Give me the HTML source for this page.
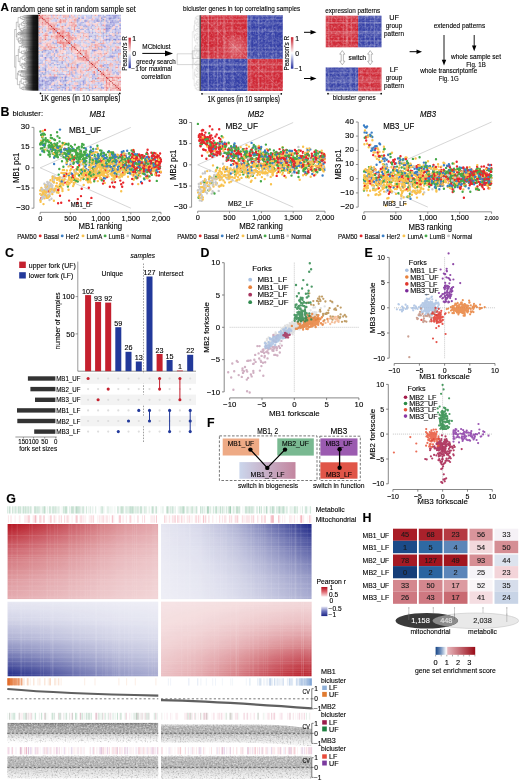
<!DOCTYPE html>
<html><head><meta charset="utf-8"><style>
html,body{margin:0;padding:0;background:#fff;}
body{width:520px;height:781px;overflow:hidden;}
svg{display:block;font-family:"Liberation Sans",sans-serif;filter:blur(0.3px);}
text{stroke:#000;stroke-width:0.12px;}
</style></head><body>
<svg width="520" height="781" viewBox="0 0 520 781">
<defs><linearGradient id="leafg" x1="0" x2="1" y1="0" y2="0"><stop offset="0" stop-color="#000" stop-opacity="0"/><stop offset="0.3" stop-color="#000" stop-opacity="0.4"/><stop offset="0.6" stop-color="#000" stop-opacity="0.85"/><stop offset="1" stop-color="#000" stop-opacity="0.95"/></linearGradient>
<linearGradient id="cbrb" x1="0" x2="0" y1="0" y2="1"><stop offset="0" stop-color="#c8202c"/><stop offset="0.5" stop-color="#fff"/><stop offset="1" stop-color="#2530a0"/></linearGradient>
<filter id="fwn" x="0" y="0" width="1" height="1" color-interpolation-filters="sRGB"><feTurbulence type="fractalNoise" baseFrequency="0.45" numOctaves="2" seed="9"/><feColorMatrix type="matrix" values="0 0 0 0 1 0 0 0 0 1 0 0 0 0 1 0.7 0 0 0 -0.3"/></filter>
<radialGradient id="a2l"><stop offset="0" stop-color="#fff" stop-opacity="0.3"/><stop offset="1" stop-color="#fff" stop-opacity="0"/></radialGradient>
<linearGradient id="lfg" x1="0" x2="1" y1="0" y2="0"><stop offset="0" stop-color="#cbd6ec"/><stop offset="1" stop-color="#c3869f"/></linearGradient>
<linearGradient id="htl" x1="0" x2="1" y1="0" y2="0"><stop offset="0" stop-color="#ffffff"/><stop offset="0.25" stop-color="#cccccc"/><stop offset="0.5" stop-color="#999999"/><stop offset="0.75" stop-color="#666666"/><stop offset="1" stop-color="#4c4c4c"/></linearGradient>
<linearGradient id="vtl" x1="0" x2="0" y1="0" y2="1"><stop offset="0" stop-color="#ffffff"/><stop offset="0.25" stop-color="#b2b2b2"/><stop offset="0.5" stop-color="#808080"/><stop offset="0.75" stop-color="#5c5c5c"/><stop offset="1" stop-color="#474747"/></linearGradient>
<mask id="mhtl" maskUnits="userSpaceOnUse" x="7.3" y="524" width="151" height="75.2"><rect x="7.3" y="524" width="151" height="75.2" fill="url(#htl)"/><rect x="11.5" y="524" width=".9" height="75.2" fill="#000" fill-opacity=".1"/><rect x="13.3" y="524" width="1" height="75.2" fill="#000" fill-opacity="0"/><rect x="16.7" y="524" width="1.1" height="75.2" fill="#000" fill-opacity=".1"/><rect x="24.8" y="524" width="1.1" height="75.2" fill="#000" fill-opacity="0"/><rect x="27.5" y="524" width="1.1" height="75.2" fill="#000" fill-opacity="0"/><rect x="29.1" y="524" width=".6" height="75.2" fill="#000" fill-opacity=".1"/><rect x="31.6" y="524" width="1.1" height="75.2" fill="#000" fill-opacity=".1"/><rect x="38" y="524" width=".8" height="75.2" fill="#000" fill-opacity="0"/><rect x="46.6" y="524" width=".5" height="75.2" fill="#000" fill-opacity=".1"/><rect x="46.9" y="524" width="1" height="75.2" fill="#000" fill-opacity=".1"/><rect x="49.1" y="524" width=".7" height="75.2" fill="#000" fill-opacity="0"/><rect x="49.6" y="524" width=".9" height="75.2" fill="#000" fill-opacity=".1"/><rect x="53.1" y="524" width="1.2" height="75.2" fill="#000" fill-opacity="0"/><rect x="54.4" y="524" width=".8" height="75.2" fill="#000" fill-opacity=".1"/><rect x="57.1" y="524" width=".8" height="75.2" fill="#000" fill-opacity=".1"/><rect x="68.2" y="524" width=".5" height="75.2" fill="#000" fill-opacity=".1"/><rect x="69.1" y="524" width="1.1" height="75.2" fill="#000" fill-opacity=".1"/><rect x="71.2" y="524" width="1.1" height="75.2" fill="#000" fill-opacity=".1"/><rect x="75.8" y="524" width=".7" height="75.2" fill="#000" fill-opacity=".1"/><rect x="76.7" y="524" width=".6" height="75.2" fill="#000" fill-opacity=".1"/><rect x="80.6" y="524" width=".5" height="75.2" fill="#000" fill-opacity=".1"/><rect x="84.6" y="524" width=".6" height="75.2" fill="#000" fill-opacity=".1"/><rect x="85.2" y="524" width=".7" height="75.2" fill="#000" fill-opacity=".1"/><rect x="87.1" y="524" width=".6" height="75.2" fill="#000" fill-opacity=".1"/><rect x="88.6" y="524" width=".5" height="75.2" fill="#000" fill-opacity="0"/><rect x="89" y="524" width=".8" height="75.2" fill="#000" fill-opacity="0"/><rect x="90.3" y="524" width=".9" height="75.2" fill="#000" fill-opacity=".1"/><rect x="96.8" y="524" width="1" height="75.2" fill="#000" fill-opacity=".1"/><rect x="99.9" y="524" width=".8" height="75.2" fill="#000" fill-opacity=".1"/><rect x="101.4" y="524" width=".9" height="75.2" fill="#000" fill-opacity=".1"/><rect x="104.1" y="524" width=".7" height="75.2" fill="#000" fill-opacity=".1"/><rect x="116.7" y="524" width=".6" height="75.2" fill="#000" fill-opacity=".1"/><rect x="120.6" y="524" width=".7" height="75.2" fill="#000" fill-opacity="0"/><rect x="121.1" y="524" width=".6" height="75.2" fill="#000" fill-opacity="0"/><rect x="124.6" y="524" width="1" height="75.2" fill="#000" fill-opacity=".1"/><rect x="126.4" y="524" width=".6" height="75.2" fill="#000" fill-opacity=".1"/><rect x="132.3" y="524" width=".8" height="75.2" fill="#000" fill-opacity=".1"/><rect x="134.1" y="524" width=".8" height="75.2" fill="#000" fill-opacity=".1"/><rect x="136" y="524" width="1.1" height="75.2" fill="#000" fill-opacity=".1"/><rect x="145.8" y="524" width=".8" height="75.2" fill="#000" fill-opacity=".1"/><rect x="150.5" y="524" width=".8" height="75.2" fill="#000" fill-opacity="0"/><rect x="150.8" y="524" width=".6" height="75.2" fill="#000" fill-opacity="0"/><rect x="152.5" y="524" width=".7" height="75.2" fill="#000" fill-opacity=".1"/><rect x="153.8" y="524" width=".9" height="75.2" fill="#000" fill-opacity=".1"/><rect x="155.4" y="524" width="1" height="75.2" fill="#000" fill-opacity=".1"/></mask>
<mask id="mvtl" maskUnits="userSpaceOnUse" x="7.3" y="524" width="151" height="75.2"><rect x="7.3" y="524" width="151" height="75.2" fill="url(#vtl)"/><rect x="7.3" y="535" width="151" height="1.1" fill="#000" fill-opacity=".1"/><rect x="7.3" y="537.2" width="151" height="1.1" fill="#000" fill-opacity="0"/><rect x="7.3" y="543.8" width="151" height="1.1" fill="#000" fill-opacity=".1"/><rect x="7.3" y="548.2" width="151" height="1.1" fill="#000" fill-opacity=".1"/><rect x="7.3" y="550.4" width="151" height="1.1" fill="#000" fill-opacity=".1"/><rect x="7.3" y="554.8" width="151" height="1.1" fill="#000" fill-opacity=".1"/><rect x="7.3" y="557" width="151" height="1.1" fill="#000" fill-opacity=".1"/><rect x="7.3" y="559.2" width="151" height="1.1" fill="#000" fill-opacity=".1"/><rect x="7.3" y="561.4" width="151" height="1.1" fill="#000" fill-opacity=".1"/><rect x="7.3" y="570.2" width="151" height="1.1" fill="#000" fill-opacity=".1"/><rect x="7.3" y="574.6" width="151" height="1.1" fill="#000" fill-opacity=".1"/><rect x="7.3" y="579" width="151" height="1.1" fill="#000" fill-opacity=".1"/><rect x="7.3" y="581.2" width="151" height="1.1" fill="#000" fill-opacity=".1"/><rect x="7.3" y="585.6" width="151" height="1.1" fill="#000" fill-opacity=".1"/><rect x="7.3" y="590" width="151" height="1.1" fill="#000" fill-opacity=".1"/><rect x="7.3" y="592.2" width="151" height="1.1" fill="#000" fill-opacity="0"/><rect x="7.3" y="596.6" width="151" height="1.1" fill="#000" fill-opacity=".1"/></mask>
<linearGradient id="htr" x1="0" x2="1" y1="0" y2="0"><stop offset="0" stop-color="#0d0d0d"/><stop offset="0.25" stop-color="#1f1f1f"/><stop offset="0.5" stop-color="#4c4c4c"/><stop offset="0.75" stop-color="#9e9e9e"/><stop offset="1" stop-color="#ffffff"/></linearGradient>
<linearGradient id="vtr" x1="0" x2="0" y1="0" y2="1"><stop offset="0" stop-color="#ffffff"/><stop offset="0.25" stop-color="#c7c7c7"/><stop offset="0.5" stop-color="#8f8f8f"/><stop offset="0.75" stop-color="#6b6b6b"/><stop offset="1" stop-color="#575757"/></linearGradient>
<mask id="mhtr" maskUnits="userSpaceOnUse" x="161" y="524" width="150.8" height="75.2"><rect x="161" y="524" width="150.8" height="75.2" fill="url(#htr)"/><rect x="169.3" y="524" width=".7" height="75.2" fill="#000" fill-opacity=".1"/><rect x="174.9" y="524" width=".7" height="75.2" fill="#000" fill-opacity="0"/><rect x="176.8" y="524" width=".5" height="75.2" fill="#000" fill-opacity=".1"/><rect x="177.2" y="524" width=".8" height="75.2" fill="#000" fill-opacity=".1"/><rect x="183.6" y="524" width="1.1" height="75.2" fill="#000" fill-opacity=".1"/><rect x="189.2" y="524" width="1.2" height="75.2" fill="#000" fill-opacity=".1"/><rect x="189.3" y="524" width="1" height="75.2" fill="#000" fill-opacity=".1"/><rect x="191.4" y="524" width=".6" height="75.2" fill="#000" fill-opacity="0"/><rect x="200.5" y="524" width=".6" height="75.2" fill="#000" fill-opacity=".1"/><rect x="202.5" y="524" width=".6" height="75.2" fill="#000" fill-opacity="0"/><rect x="206" y="524" width="1.1" height="75.2" fill="#000" fill-opacity="0"/><rect x="209" y="524" width=".8" height="75.2" fill="#000" fill-opacity=".1"/><rect x="213.2" y="524" width=".9" height="75.2" fill="#000" fill-opacity=".1"/><rect x="220.1" y="524" width="1.2" height="75.2" fill="#000" fill-opacity=".1"/><rect x="222.3" y="524" width=".9" height="75.2" fill="#000" fill-opacity=".1"/><rect x="224.8" y="524" width=".9" height="75.2" fill="#000" fill-opacity=".1"/><rect x="226.2" y="524" width=".7" height="75.2" fill="#000" fill-opacity=".1"/><rect x="227.1" y="524" width=".9" height="75.2" fill="#000" fill-opacity="0"/><rect x="232" y="524" width=".7" height="75.2" fill="#000" fill-opacity=".1"/><rect x="236.1" y="524" width="1" height="75.2" fill="#000" fill-opacity="0"/><rect x="238.1" y="524" width=".7" height="75.2" fill="#000" fill-opacity="0"/><rect x="238.9" y="524" width="1.1" height="75.2" fill="#000" fill-opacity="0"/><rect x="245.8" y="524" width=".5" height="75.2" fill="#000" fill-opacity=".1"/><rect x="250.5" y="524" width=".8" height="75.2" fill="#000" fill-opacity=".1"/><rect x="251.5" y="524" width=".5" height="75.2" fill="#000" fill-opacity=".1"/><rect x="253.5" y="524" width=".8" height="75.2" fill="#000" fill-opacity=".1"/><rect x="256.5" y="524" width=".5" height="75.2" fill="#000" fill-opacity="0"/><rect x="258.2" y="524" width=".6" height="75.2" fill="#000" fill-opacity=".1"/><rect x="260.1" y="524" width=".7" height="75.2" fill="#000" fill-opacity=".1"/><rect x="261.9" y="524" width=".7" height="75.2" fill="#000" fill-opacity=".1"/><rect x="263.5" y="524" width="1.2" height="75.2" fill="#000" fill-opacity="0"/><rect x="264" y="524" width=".6" height="75.2" fill="#000" fill-opacity=".1"/><rect x="265.4" y="524" width="1" height="75.2" fill="#000" fill-opacity="0"/><rect x="265.6" y="524" width=".6" height="75.2" fill="#000" fill-opacity=".1"/><rect x="270.9" y="524" width="1" height="75.2" fill="#000" fill-opacity=".1"/><rect x="278" y="524" width="1.1" height="75.2" fill="#000" fill-opacity=".1"/><rect x="283.8" y="524" width=".5" height="75.2" fill="#000" fill-opacity=".1"/><rect x="286.1" y="524" width=".9" height="75.2" fill="#000" fill-opacity="0"/><rect x="289.1" y="524" width=".7" height="75.2" fill="#000" fill-opacity=".1"/><rect x="291" y="524" width=".8" height="75.2" fill="#000" fill-opacity=".1"/><rect x="294.4" y="524" width="1.1" height="75.2" fill="#000" fill-opacity=".1"/><rect x="295.4" y="524" width=".9" height="75.2" fill="#000" fill-opacity=".1"/><rect x="295.5" y="524" width=".8" height="75.2" fill="#000" fill-opacity=".1"/><rect x="300.4" y="524" width=".9" height="75.2" fill="#000" fill-opacity=".1"/><rect x="306.9" y="524" width=".5" height="75.2" fill="#000" fill-opacity=".1"/></mask>
<mask id="mvtr" maskUnits="userSpaceOnUse" x="161" y="524" width="150.8" height="75.2"><rect x="161" y="524" width="150.8" height="75.2" fill="url(#vtr)"/><rect x="161" y="528.4" width="150.8" height="1.1" fill="#000" fill-opacity=".1"/><rect x="161" y="530.6" width="150.8" height="1.1" fill="#000" fill-opacity="0"/><rect x="161" y="532.8" width="150.8" height="1.1" fill="#000" fill-opacity=".1"/><rect x="161" y="537.2" width="150.8" height="1.1" fill="#000" fill-opacity=".1"/><rect x="161" y="539.4" width="150.8" height="1.1" fill="#000" fill-opacity=".1"/><rect x="161" y="541.6" width="150.8" height="1.1" fill="#000" fill-opacity=".1"/><rect x="161" y="546" width="150.8" height="1.1" fill="#000" fill-opacity=".1"/><rect x="161" y="548.2" width="150.8" height="1.1" fill="#000" fill-opacity=".1"/><rect x="161" y="550.4" width="150.8" height="1.1" fill="#000" fill-opacity=".1"/><rect x="161" y="561.4" width="150.8" height="1.1" fill="#000" fill-opacity="0"/><rect x="161" y="563.6" width="150.8" height="1.1" fill="#000" fill-opacity=".1"/><rect x="161" y="574.6" width="150.8" height="1.1" fill="#000" fill-opacity=".1"/><rect x="161" y="576.8" width="150.8" height="1.1" fill="#000" fill-opacity=".1"/><rect x="161" y="583.4" width="150.8" height="1.1" fill="#000" fill-opacity=".1"/><rect x="161" y="587.8" width="150.8" height="1.1" fill="#000" fill-opacity=".1"/><rect x="161" y="594.4" width="150.8" height="1.1" fill="#000" fill-opacity="0"/><rect x="161" y="596.6" width="150.8" height="1.1" fill="#000" fill-opacity=".1"/></mask>
<linearGradient id="hbl" x1="0" x2="1" y1="0" y2="0"><stop offset="0" stop-color="#ffffff"/><stop offset="0.25" stop-color="#d1d1d1"/><stop offset="0.5" stop-color="#9e9e9e"/><stop offset="0.75" stop-color="#737373"/><stop offset="1" stop-color="#595959"/></linearGradient>
<linearGradient id="vbl" x1="0" x2="0" y1="0" y2="1"><stop offset="0" stop-color="#0d0d0d"/><stop offset="0.25" stop-color="#262626"/><stop offset="0.5" stop-color="#525252"/><stop offset="0.75" stop-color="#9e9e9e"/><stop offset="1" stop-color="#ffffff"/></linearGradient>
<mask id="mhbl" maskUnits="userSpaceOnUse" x="7.3" y="601.6" width="151" height="75"><rect x="7.3" y="601.6" width="151" height="75" fill="url(#hbl)"/><rect x="7.5" y="601.6" width="1" height="75" fill="#000" fill-opacity=".1"/><rect x="11.9" y="601.6" width=".6" height="75" fill="#000" fill-opacity=".1"/><rect x="20.2" y="601.6" width=".8" height="75" fill="#000" fill-opacity=".1"/><rect x="21" y="601.6" width=".6" height="75" fill="#000" fill-opacity=".1"/><rect x="21.5" y="601.6" width=".7" height="75" fill="#000" fill-opacity=".1"/><rect x="24.5" y="601.6" width=".7" height="75" fill="#000" fill-opacity=".1"/><rect x="31.4" y="601.6" width=".8" height="75" fill="#000" fill-opacity=".1"/><rect x="38.6" y="601.6" width=".6" height="75" fill="#000" fill-opacity="0"/><rect x="40.3" y="601.6" width="1" height="75" fill="#000" fill-opacity=".1"/><rect x="43.1" y="601.6" width=".9" height="75" fill="#000" fill-opacity=".1"/><rect x="50.2" y="601.6" width=".6" height="75" fill="#000" fill-opacity=".1"/><rect x="51.5" y="601.6" width=".6" height="75" fill="#000" fill-opacity=".1"/><rect x="52.3" y="601.6" width=".9" height="75" fill="#000" fill-opacity=".1"/><rect x="52.4" y="601.6" width="1.2" height="75" fill="#000" fill-opacity=".1"/><rect x="54.7" y="601.6" width="1.1" height="75" fill="#000" fill-opacity="0"/><rect x="63.8" y="601.6" width=".8" height="75" fill="#000" fill-opacity="0"/><rect x="66.4" y="601.6" width=".6" height="75" fill="#000" fill-opacity="0"/><rect x="72" y="601.6" width="1.1" height="75" fill="#000" fill-opacity="0"/><rect x="72.3" y="601.6" width=".7" height="75" fill="#000" fill-opacity=".1"/><rect x="72.7" y="601.6" width="1.1" height="75" fill="#000" fill-opacity=".1"/><rect x="78.5" y="601.6" width="1" height="75" fill="#000" fill-opacity="0"/><rect x="79.6" y="601.6" width=".9" height="75" fill="#000" fill-opacity=".1"/><rect x="85.3" y="601.6" width=".5" height="75" fill="#000" fill-opacity=".1"/><rect x="95.2" y="601.6" width=".8" height="75" fill="#000" fill-opacity=".1"/><rect x="95.7" y="601.6" width="1" height="75" fill="#000" fill-opacity=".1"/><rect x="95.9" y="601.6" width=".9" height="75" fill="#000" fill-opacity=".1"/><rect x="102.4" y="601.6" width=".6" height="75" fill="#000" fill-opacity=".1"/><rect x="105.2" y="601.6" width=".6" height="75" fill="#000" fill-opacity=".1"/><rect x="106.6" y="601.6" width=".9" height="75" fill="#000" fill-opacity=".1"/><rect x="107" y="601.6" width=".8" height="75" fill="#000" fill-opacity="0"/><rect x="110.4" y="601.6" width=".9" height="75" fill="#000" fill-opacity="0"/><rect x="112.4" y="601.6" width="1" height="75" fill="#000" fill-opacity=".1"/><rect x="114.1" y="601.6" width=".8" height="75" fill="#000" fill-opacity=".1"/><rect x="116.3" y="601.6" width=".8" height="75" fill="#000" fill-opacity=".1"/><rect x="118.2" y="601.6" width=".7" height="75" fill="#000" fill-opacity=".1"/><rect x="118.7" y="601.6" width=".6" height="75" fill="#000" fill-opacity=".1"/><rect x="119.3" y="601.6" width="1.1" height="75" fill="#000" fill-opacity=".1"/><rect x="124.1" y="601.6" width="1" height="75" fill="#000" fill-opacity=".1"/><rect x="128.3" y="601.6" width="1.1" height="75" fill="#000" fill-opacity=".1"/><rect x="131.1" y="601.6" width="1.1" height="75" fill="#000" fill-opacity=".1"/><rect x="132.6" y="601.6" width=".7" height="75" fill="#000" fill-opacity=".1"/><rect x="141.9" y="601.6" width=".7" height="75" fill="#000" fill-opacity="0"/><rect x="148" y="601.6" width=".9" height="75" fill="#000" fill-opacity=".1"/><rect x="151.7" y="601.6" width=".9" height="75" fill="#000" fill-opacity=".1"/><rect x="154.3" y="601.6" width=".6" height="75" fill="#000" fill-opacity=".1"/></mask>
<mask id="mvbl" maskUnits="userSpaceOnUse" x="7.3" y="601.6" width="151" height="75"><rect x="7.3" y="601.6" width="151" height="75" fill="url(#vbl)"/><rect x="7.3" y="601.6" width="151" height="1.1" fill="#000" fill-opacity=".1"/><rect x="7.3" y="603.8" width="151" height="1.1" fill="#000" fill-opacity="0"/><rect x="7.3" y="608.2" width="151" height="1.1" fill="#000" fill-opacity=".1"/><rect x="7.3" y="610.4" width="151" height="1.1" fill="#000" fill-opacity="0"/><rect x="7.3" y="614.8" width="151" height="1.1" fill="#000" fill-opacity="0"/><rect x="7.3" y="617" width="151" height="1.1" fill="#000" fill-opacity=".1"/><rect x="7.3" y="619.2" width="151" height="1.1" fill="#000" fill-opacity=".1"/><rect x="7.3" y="623.6" width="151" height="1.1" fill="#000" fill-opacity=".1"/><rect x="7.3" y="632.4" width="151" height="1.1" fill="#000" fill-opacity=".1"/><rect x="7.3" y="636.8" width="151" height="1.1" fill="#000" fill-opacity=".1"/><rect x="7.3" y="639" width="151" height="1.1" fill="#000" fill-opacity=".1"/><rect x="7.3" y="645.6" width="151" height="1.1" fill="#000" fill-opacity="0"/><rect x="7.3" y="647.8" width="151" height="1.1" fill="#000" fill-opacity=".1"/><rect x="7.3" y="650" width="151" height="1.1" fill="#000" fill-opacity=".1"/><rect x="7.3" y="652.2" width="151" height="1.1" fill="#000" fill-opacity=".1"/><rect x="7.3" y="656.6" width="151" height="1.1" fill="#000" fill-opacity=".1"/><rect x="7.3" y="661" width="151" height="1.1" fill="#000" fill-opacity=".1"/><rect x="7.3" y="665.4" width="151" height="1.1" fill="#000" fill-opacity=".1"/><rect x="7.3" y="674.2" width="151" height="1.1" fill="#000" fill-opacity=".1"/></mask>
<linearGradient id="hbr" x1="0" x2="1" y1="0" y2="0"><stop offset="0" stop-color="#2e2e2e"/><stop offset="0.25" stop-color="#4c4c4c"/><stop offset="0.5" stop-color="#808080"/><stop offset="0.75" stop-color="#c7c7c7"/><stop offset="1" stop-color="#ffffff"/></linearGradient>
<linearGradient id="vbr" x1="0" x2="0" y1="0" y2="1"><stop offset="0" stop-color="#121212"/><stop offset="0.25" stop-color="#2e2e2e"/><stop offset="0.5" stop-color="#616161"/><stop offset="0.75" stop-color="#b2b2b2"/><stop offset="1" stop-color="#ffffff"/></linearGradient>
<mask id="mhbr" maskUnits="userSpaceOnUse" x="161" y="601.6" width="150.8" height="75"><rect x="161" y="601.6" width="150.8" height="75" fill="url(#hbr)"/><rect x="173.2" y="601.6" width=".6" height="75" fill="#000" fill-opacity="0"/><rect x="181.1" y="601.6" width="1.2" height="75" fill="#000" fill-opacity=".1"/><rect x="187.3" y="601.6" width=".8" height="75" fill="#000" fill-opacity=".1"/><rect x="187.8" y="601.6" width=".5" height="75" fill="#000" fill-opacity=".1"/><rect x="189.8" y="601.6" width=".9" height="75" fill="#000" fill-opacity=".1"/><rect x="193.7" y="601.6" width=".7" height="75" fill="#000" fill-opacity=".1"/><rect x="194.7" y="601.6" width=".7" height="75" fill="#000" fill-opacity=".1"/><rect x="201.4" y="601.6" width=".8" height="75" fill="#000" fill-opacity=".1"/><rect x="213.8" y="601.6" width="1.2" height="75" fill="#000" fill-opacity=".1"/><rect x="215.6" y="601.6" width=".8" height="75" fill="#000" fill-opacity=".1"/><rect x="216.8" y="601.6" width="1.1" height="75" fill="#000" fill-opacity="0"/><rect x="217.8" y="601.6" width=".8" height="75" fill="#000" fill-opacity=".1"/><rect x="225.9" y="601.6" width="1.1" height="75" fill="#000" fill-opacity="0"/><rect x="230.4" y="601.6" width=".6" height="75" fill="#000" fill-opacity=".1"/><rect x="232.8" y="601.6" width=".9" height="75" fill="#000" fill-opacity="0"/><rect x="233" y="601.6" width=".9" height="75" fill="#000" fill-opacity="0"/><rect x="235.2" y="601.6" width="1" height="75" fill="#000" fill-opacity=".1"/><rect x="235.4" y="601.6" width="1" height="75" fill="#000" fill-opacity="0"/><rect x="236.1" y="601.6" width="1" height="75" fill="#000" fill-opacity=".1"/><rect x="236.4" y="601.6" width=".8" height="75" fill="#000" fill-opacity=".1"/><rect x="238.1" y="601.6" width=".9" height="75" fill="#000" fill-opacity=".1"/><rect x="239.7" y="601.6" width=".9" height="75" fill="#000" fill-opacity="0"/><rect x="243" y="601.6" width=".7" height="75" fill="#000" fill-opacity="0"/><rect x="248.8" y="601.6" width=".8" height="75" fill="#000" fill-opacity=".1"/><rect x="252.6" y="601.6" width=".6" height="75" fill="#000" fill-opacity=".1"/><rect x="252.8" y="601.6" width=".8" height="75" fill="#000" fill-opacity=".1"/><rect x="257.7" y="601.6" width=".9" height="75" fill="#000" fill-opacity=".1"/><rect x="261.4" y="601.6" width=".9" height="75" fill="#000" fill-opacity="0"/><rect x="262.9" y="601.6" width=".6" height="75" fill="#000" fill-opacity=".1"/><rect x="265.4" y="601.6" width=".7" height="75" fill="#000" fill-opacity=".1"/><rect x="267.3" y="601.6" width=".9" height="75" fill="#000" fill-opacity=".1"/><rect x="277.2" y="601.6" width="1" height="75" fill="#000" fill-opacity="0"/><rect x="280" y="601.6" width=".7" height="75" fill="#000" fill-opacity=".1"/><rect x="281.9" y="601.6" width=".8" height="75" fill="#000" fill-opacity=".1"/><rect x="292.4" y="601.6" width="1.1" height="75" fill="#000" fill-opacity=".1"/><rect x="297.1" y="601.6" width=".9" height="75" fill="#000" fill-opacity="0"/><rect x="301.1" y="601.6" width=".7" height="75" fill="#000" fill-opacity=".1"/><rect x="301.2" y="601.6" width="1.1" height="75" fill="#000" fill-opacity=".1"/><rect x="302.6" y="601.6" width=".9" height="75" fill="#000" fill-opacity=".1"/><rect x="303.2" y="601.6" width=".7" height="75" fill="#000" fill-opacity=".1"/><rect x="303.2" y="601.6" width=".9" height="75" fill="#000" fill-opacity=".1"/><rect x="305.6" y="601.6" width=".9" height="75" fill="#000" fill-opacity=".1"/><rect x="307.1" y="601.6" width=".6" height="75" fill="#000" fill-opacity=".1"/><rect x="308.2" y="601.6" width="1.2" height="75" fill="#000" fill-opacity=".1"/><rect x="309.4" y="601.6" width=".7" height="75" fill="#000" fill-opacity=".1"/></mask>
<mask id="mvbr" maskUnits="userSpaceOnUse" x="161" y="601.6" width="150.8" height="75"><rect x="161" y="601.6" width="150.8" height="75" fill="url(#vbr)"/><rect x="161" y="603.8" width="150.8" height="1.1" fill="#000" fill-opacity=".1"/><rect x="161" y="606" width="150.8" height="1.1" fill="#000" fill-opacity=".1"/><rect x="161" y="608.2" width="150.8" height="1.1" fill="#000" fill-opacity=".1"/><rect x="161" y="610.4" width="150.8" height="1.1" fill="#000" fill-opacity=".1"/><rect x="161" y="621.4" width="150.8" height="1.1" fill="#000" fill-opacity=".1"/><rect x="161" y="623.6" width="150.8" height="1.1" fill="#000" fill-opacity=".1"/><rect x="161" y="628" width="150.8" height="1.1" fill="#000" fill-opacity=".1"/><rect x="161" y="630.2" width="150.8" height="1.1" fill="#000" fill-opacity=".1"/><rect x="161" y="634.6" width="150.8" height="1.1" fill="#000" fill-opacity=".1"/><rect x="161" y="643.4" width="150.8" height="1.1" fill="#000" fill-opacity=".1"/><rect x="161" y="645.6" width="150.8" height="1.1" fill="#000" fill-opacity=".1"/><rect x="161" y="647.8" width="150.8" height="1.1" fill="#000" fill-opacity=".1"/><rect x="161" y="661" width="150.8" height="1.1" fill="#000" fill-opacity=".1"/><rect x="161" y="663.2" width="150.8" height="1.1" fill="#000" fill-opacity=".1"/><rect x="161" y="667.6" width="150.8" height="1.1" fill="#000" fill-opacity=".1"/><rect x="161" y="669.8" width="150.8" height="1.1" fill="#000" fill-opacity=".1"/><rect x="161" y="672" width="150.8" height="1.1" fill="#000" fill-opacity=".1"/><rect x="161" y="674.2" width="150.8" height="1.1" fill="#000" fill-opacity=".1"/></mask>
<linearGradient id="prr" x1="0" x2="0" y1="0" y2="1"><stop offset="0" stop-color="#b2111f"/><stop offset="0.5" stop-color="#e06a72"/><stop offset="1" stop-color="#fbe8ea"/></linearGradient>
<linearGradient id="prb" x1="0" x2="0" y1="0" y2="1"><stop offset="0" stop-color="#e6e6f4"/><stop offset="0.5" stop-color="#6870bb"/><stop offset="1" stop-color="#1c2585"/></linearGradient>
<linearGradient id="org" x1="0" x2="1" y1="0" y2="0"><stop offset="0" stop-color="#e0651f" stop-opacity="0.95"/><stop offset="0.35" stop-color="#e0651f" stop-opacity="0.7"/><stop offset="1" stop-color="#e0651f" stop-opacity="0.15"/></linearGradient>
<linearGradient id="blg" x1="0" x2="1" y1="0" y2="0"><stop offset="0" stop-color="#7ea4d4" stop-opacity="0.15"/><stop offset="0.65" stop-color="#7ea4d4" stop-opacity="0.6"/><stop offset="1" stop-color="#6a94cc" stop-opacity="0.95"/></linearGradient>
<linearGradient id="cl2l" x1="0" x2="0" y1="0" y2="1"><stop offset="0" stop-color="#5a5a5a" stop-opacity="0.9"/><stop offset="0.1" stop-color="#7a7a7a" stop-opacity="0.8"/><stop offset="0.5" stop-color="#888" stop-opacity="0.72"/><stop offset="0.6" stop-color="#999" stop-opacity="0.5"/><stop offset="0.85" stop-color="#aaa" stop-opacity="0.15"/><stop offset="1" stop-color="#aaa" stop-opacity="0"/></linearGradient>
<linearGradient id="cl2r" x1="0" x2="0" y1="0" y2="1"><stop offset="0" stop-color="#888" stop-opacity="0.1"/><stop offset="0.12" stop-color="#808080" stop-opacity="0.6"/><stop offset="0.4" stop-color="#888" stop-opacity="0.72"/><stop offset="0.55" stop-color="#999" stop-opacity="0.5"/><stop offset="0.82" stop-color="#aaa" stop-opacity="0.2"/><stop offset="1" stop-color="#aaa" stop-opacity="0"/></linearGradient>
<linearGradient id="cl3" x1="0" x2="0" y1="0" y2="1"><stop offset="0" stop-color="#888" stop-opacity="0.05"/><stop offset="0.07" stop-color="#858585" stop-opacity="0.6"/><stop offset="0.5" stop-color="#888" stop-opacity="0.7"/><stop offset="0.6" stop-color="#999" stop-opacity="0.45"/><stop offset="1" stop-color="#aaa" stop-opacity="0.15"/></linearGradient>
<filter id="spk" x="0" y="0" width="1" height="1" color-interpolation-filters="sRGB"><feTurbulence type="fractalNoise" baseFrequency="0.55" numOctaves="2" seed="21"/><feColorMatrix type="matrix" values="0 0 0 0 1 0 0 0 0 1 0 0 0 0 1 1.2 0 0 0 -0.45"/></filter>
<filter id="spk2" x="0" y="0" width="1" height="1" color-interpolation-filters="sRGB"><feTurbulence type="fractalNoise" baseFrequency="0.6" numOctaves="2" seed="33"/><feColorMatrix type="matrix" values="0 0 0 0 0.35 0 0 0 0 0.35 0 0 0 0 0.35 1.0 0 0 0 -0.5"/></filter>
<clipPath id="cb1"><rect x="7.3" y="722.8" width="151" height="19.7"/></clipPath>
<clipPath id="cb2"><path d="M161 724.2H243.9 Q289.2 724.5 311.8 729 V747 Q289.2 744 243.9 742.5 H161 Z"/></clipPath>
<clipPath id="cb3"><rect x="7.3" y="755.5" width="151" height="23"/></clipPath>
<clipPath id="cb4"><rect x="161" y="755.5" width="150.8" height="23.5"/></clipPath>
<clipPath id="vcl"><ellipse cx="475.6" cy="620.75" rx="43.1" ry="7.75"/></clipPath>
<linearGradient id="gse" x1="0" x2="1" y1="0" y2="0"><stop offset="0" stop-color="#174585"/><stop offset="0.13" stop-color="#6f8fbc"/><stop offset="0.27" stop-color="#ffffff"/><stop offset="0.31" stop-color="#e6b4ba"/><stop offset="1" stop-color="#990b17"/></linearGradient></defs>
<text x=".4" y="11.2" font-size="11.7" font-weight="bold">A</text>
<text x="10.7" y="11.5" font-size="8.8" textLength="125" lengthAdjust="spacingAndGlyphs">random gene set in random sample set</text>
<path d="M26.4 15.5L38.6 15.5M26.9 16.1L38.6 16.1M24.6 15.5L24.6 16.1M24.6 15.5L26.4 15.5M24.6 16.1L26.9 16.1M24.9 16.9L38.6 16.9M23 15.8L23 16.9M23 15.8L24.6 15.8M23 16.9L24.9 16.9M26.2 17.5L38.6 17.5M26.5 17.9L38.6 17.9M28.2 18.4L38.6 18.4M25.8 17.9L25.8 18.4M25.8 17.9L26.5 17.9M25.8 18.4L28.2 18.4M24 17.5L24 18.2M24 17.5L26.2 17.5M24 18.2L25.8 18.2M25.9 19.1L38.6 19.1M26.3 19.8L38.6 19.8M23.9 19.1L23.9 19.8M23.9 19.1L25.9 19.1M23.9 19.8L26.3 19.8M22 17.8L22 19.5M22 17.8L24 17.8M22 19.5L23.9 19.5M20.4 16.4L20.4 18.6M20.4 16.4L23 16.4M20.4 18.6L22 18.6M27.7 20.5L38.6 20.5M28.1 21L38.6 21M26.5 20.5L26.5 21M26.5 20.5L27.7 20.5M26.5 21L28.1 21M26.8 21.6L38.6 21.6M29.6 22.2L38.6 22.2M29.2 22.6L38.6 22.6M27.2 22.2L27.2 22.6M27.2 22.2L29.6 22.2M27.2 22.6L29.2 22.6M25.5 21.6L25.5 22.4M25.5 21.6L26.8 21.6M25.5 22.4L27.2 22.4M24 20.7L24 22M24 20.7L26.5 20.7M24 22L25.5 22M27.3 23.1L38.6 23.1M28.7 23.6L38.6 23.6M26.4 23.1L26.4 23.6M26.4 23.1L27.3 23.1M26.4 23.6L28.7 23.6M26.6 24L38.6 24M24.1 23.3L24.1 24M24.1 23.3L26.4 23.3M24.1 24L26.6 24M23.2 21.4L23.2 23.7M23.2 21.4L24 21.4M23.2 23.7L24.1 23.7M28.8 24.5L38.6 24.5M28.3 25L38.6 25M27.6 24.5L27.6 25M27.6 24.5L28.8 24.5M27.6 25L28.3 25M28.8 25.6L38.6 25.6M26.6 24.8L26.6 25.6M26.6 24.8L27.6 24.8M26.6 25.6L28.8 25.6M25.9 26.3L38.6 26.3M24.2 25.2L24.2 26.3M24.2 25.2L26.6 25.2M24.2 26.3L25.9 26.3M21.7 22.5L21.7 25.7M21.7 22.5L23.2 22.5M21.7 25.7L24.2 25.7M26.8 27.1L38.6 27.1M28.8 27.7L38.6 27.7M27.7 28.2L38.6 28.2M27 27.7L27 28.2M27 27.7L28.8 27.7M27 28.2L27.7 28.2M24.6 27.1L24.6 27.9M24.6 27.1L26.8 27.1M24.6 27.9L27 27.9M25.4 28.9L38.6 28.9M26.5 29.4L38.6 29.4M24.1 28.9L24.1 29.4M24.1 28.9L25.4 28.9M24.1 29.4L26.5 29.4M23.2 27.5L23.2 29.2M23.2 27.5L24.6 27.5M23.2 29.2L24.1 29.2M23.8 29.9L38.6 29.9M24.8 30.5L38.6 30.5M23 29.9L23 30.5M23 29.9L23.8 29.9M23 30.5L24.8 30.5M24 31.1L38.6 31.1M21.4 30.2L21.4 31.1M21.4 30.2L23 30.2M21.4 31.1L24 31.1M20.6 28.3L20.6 30.6M20.6 28.3L23.2 28.3M20.6 30.6L21.4 30.6M19.3 24.1L19.3 29.5M19.3 24.1L21.7 24.1M19.3 29.5L20.6 29.5M18.1 17.5L18.1 26.8M18.1 17.5L20.4 17.5M18.1 26.8L19.3 26.8M23.4 31.6L38.6 31.6M23.3 32.1L38.6 32.1M21.5 31.6L21.5 32.1M21.5 31.6L23.4 31.6M21.5 32.1L23.3 32.1M21.7 32.6L38.6 32.6M20.2 31.8L20.2 32.6M20.2 31.8L21.5 31.8M20.2 32.6L21.7 32.6M23.3 33L38.6 33M23.9 33.4L38.6 33.4M21.4 33L21.4 33.4M21.4 33L23.3 33M21.4 33.4L23.9 33.4M18.9 32.2L18.9 33.2M18.9 32.2L20.2 32.2M18.9 33.2L21.4 33.2M21.4 33.8L38.6 33.8M22.7 34.3L38.6 34.3M20.2 33.8L20.2 34.3M20.2 33.8L21.4 33.8M20.2 34.3L22.7 34.3M22.4 34.9L38.6 34.9M21.4 35.3L38.6 35.3M20.7 34.9L20.7 35.3M20.7 34.9L22.4 34.9M20.7 35.3L21.4 35.3M18.7 34.1L18.7 35.1M18.7 34.1L20.2 34.1M18.7 35.1L20.7 35.1M18 32.7L18 34.6M18 32.7L18.9 32.7M18 34.6L18.7 34.6M25.6 35.9L38.6 35.9M25.7 36.5L38.6 36.5M23.6 35.9L23.6 36.5M23.6 35.9L25.6 35.9M23.6 36.5L25.7 36.5M24.7 37L38.6 37M26 37.6L38.6 37.6M24 37L24 37.6M24 37L24.7 37M24 37.6L26 37.6M22.1 36.2L22.1 37.3M22.1 36.2L23.6 36.2M22.1 37.3L24 37.3M23.3 38.3L38.6 38.3M23.3 39L38.6 39M22 38.3L22 39M22 38.3L23.3 38.3M22 39L23.3 39M22.4 39.6L38.6 39.6M20.9 38.6L20.9 39.6M20.9 38.6L22 38.6M20.9 39.6L22.4 39.6M20.2 36.7L20.2 39.1M20.2 36.7L22.1 36.7M20.2 39.1L20.9 39.1M23.5 40.1L38.6 40.1M23.8 40.5L38.6 40.5M21.8 40.1L21.8 40.5M21.8 40.1L23.5 40.1M21.8 40.5L23.8 40.5M23.6 41.1L38.6 41.1M24.8 41.7L38.6 41.7M22.6 41.1L22.6 41.7M22.6 41.1L23.6 41.1M22.6 41.7L24.8 41.7M20.4 40.3L20.4 41.4M20.4 40.3L21.8 40.3M20.4 41.4L22.6 41.4M22.6 42.4L38.6 42.4M23.1 42.9L38.6 42.9M21.8 42.4L21.8 42.9M21.8 42.4L22.6 42.4M21.8 42.9L23.1 42.9M24.6 43.5L38.6 43.5M24.8 44.2L38.6 44.2M25.1 44.7L38.6 44.7M23.8 44.2L23.8 44.7M23.8 44.2L24.8 44.2M23.8 44.7L25.1 44.7M22.3 43.5L22.3 44.5M22.3 43.5L24.6 43.5M22.3 44.5L23.8 44.5M20.9 42.6L20.9 44M20.9 42.6L21.8 42.6M20.9 44L22.3 44M19.1 40.8L19.1 43.3M19.1 40.8L20.4 40.8M19.1 43.3L20.9 43.3M18.4 37.9L18.4 42.1M18.4 37.9L20.2 37.9M18.4 42.1L19.1 42.1M17 33.7L17 40M17 33.7L18 33.7M17 40L18.4 40M16.3 22.2L16.3 36.8M16.3 22.2L18.1 22.2M16.3 36.8L17 36.8M24.7 45.3L38.6 45.3M23.8 46L38.6 46M22.5 45.3L22.5 46M22.5 45.3L24.7 45.3M22.5 46L23.8 46M26.1 46.5L38.6 46.5M26.2 46.9L38.6 46.9M24.8 46.5L24.8 46.9M24.8 46.5L26.1 46.5M24.8 46.9L26.2 46.9M27.2 47.5L38.6 47.5M28.8 48L38.6 48M30.7 48.4L38.6 48.4M28.2 48L28.2 48.4M28.2 48L28.8 48M28.2 48.4L30.7 48.4M25.8 47.5L25.8 48.2M25.8 47.5L27.2 47.5M25.8 48.2L28.2 48.2M23.6 46.7L23.6 47.8M23.6 46.7L24.8 46.7M23.6 47.8L25.8 47.8M21.4 45.6L21.4 47.2M21.4 45.6L22.5 45.6M21.4 47.2L23.6 47.2M30.6 48.8L38.6 48.8M31 49.2L38.6 49.2M29.9 48.8L29.9 49.2M29.9 48.8L30.6 48.8M29.9 49.2L31 49.2M31 49.6L38.6 49.6M30.7 50L38.6 50M30 49.6L30 50M30 49.6L31 49.6M30 50L30.7 50M28.7 49L28.7 49.8M28.7 49L29.9 49M28.7 49.8L30 49.8M30.4 50.6L38.6 50.6M30.8 51.2L38.6 51.2M28.4 50.6L28.4 51.2M28.4 50.6L30.4 50.6M28.4 51.2L30.8 51.2M26.5 49.4L26.5 50.9M26.5 49.4L28.7 49.4M26.5 50.9L28.4 50.9M29.5 51.5L38.6 51.5M28.4 51.9L38.6 51.9M27.4 51.5L27.4 51.9M27.4 51.5L29.5 51.5M27.4 51.9L28.4 51.9M26.8 52.4L38.6 52.4M25 51.7L25 52.4M25 51.7L27.4 51.7M25 52.4L26.8 52.4M24 50.2L24 52.1M24 50.2L26.5 50.2M24 52.1L25 52.1M27.3 52.9L38.6 52.9M26.6 53.3L38.6 53.3M24.8 52.9L24.8 53.3M24.8 52.9L27.3 52.9M24.8 53.3L26.6 53.3M25.7 53.8L38.6 53.8M26.9 54.4L38.6 54.4M24.5 53.8L24.5 54.4M24.5 53.8L25.7 53.8M24.5 54.4L26.9 54.4M22.9 53.1L22.9 54.1M22.9 53.1L24.8 53.1M22.9 54.1L24.5 54.1M21.4 51.1L21.4 53.6M21.4 51.1L24 51.1M21.4 53.6L22.9 53.6M19.2 46.4L19.2 52.4M19.2 46.4L21.4 46.4M19.2 52.4L21.4 52.4M28.2 55.1L38.6 55.1M26.6 55.7L38.6 55.7M26 55.1L26 55.7M26 55.1L28.2 55.1M26 55.7L26.6 55.7M29.7 56.1L38.6 56.1M30.2 56.6L38.6 56.6M28.6 56.1L28.6 56.6M28.6 56.1L29.7 56.1M28.6 56.6L30.2 56.6M28.5 57L38.6 57M29.1 57.5L38.6 57.5M26.9 57L26.9 57.5M26.9 57L28.5 57M26.9 57.5L29.1 57.5M26.2 56.3L26.2 57.3M26.2 56.3L28.6 56.3M26.2 57.3L26.9 57.3M23.8 55.4L23.8 56.8M23.8 55.4L26 55.4M23.8 56.8L26.2 56.8M25.8 57.9L38.6 57.9M28.4 58.5L38.6 58.5M29.2 58.9L38.6 58.9M27.6 58.5L27.6 58.9M27.6 58.5L28.4 58.5M27.6 58.9L29.2 58.9M25.1 57.9L25.1 58.7M25.1 57.9L25.8 57.9M25.1 58.7L27.6 58.7M28.2 59.5L38.6 59.5M27.8 60.2L38.6 60.2M26.5 59.5L26.5 60.2M26.5 59.5L28.2 59.5M26.5 60.2L27.8 60.2M27.8 60.9L38.6 60.9M29.4 61.5L38.6 61.5M28.7 62.1L38.6 62.1M27.4 61.5L27.4 62.1M27.4 61.5L29.4 61.5M27.4 62.1L28.7 62.1M26.5 60.9L26.5 61.8M26.5 60.9L27.8 60.9M26.5 61.8L27.4 61.8M25.2 59.8L25.2 61.3M25.2 59.8L26.5 59.8M25.2 61.3L26.5 61.3M24.4 58.3L24.4 60.6M24.4 58.3L25.1 58.3M24.4 60.6L25.2 60.6M22.1 56.1L22.1 59.4M22.1 56.1L23.8 56.1M22.1 59.4L24.4 59.4M27.8 62.6L38.6 62.6M28.2 63L38.6 63M26.2 62.6L26.2 63M26.2 62.6L27.8 62.6M26.2 63L28.2 63M25.9 63.5L38.6 63.5M24.4 62.8L24.4 63.5M24.4 62.8L26.2 62.8M24.4 63.5L25.9 63.5M25.6 64.1L38.6 64.1M25.1 64.7L38.6 64.7M23.6 64.1L23.6 64.7M23.6 64.1L25.6 64.1M23.6 64.7L25.1 64.7M22.2 63.2L22.2 64.4M22.2 63.2L24.4 63.2M22.2 64.4L23.6 64.4M25.7 65.4L38.6 65.4M30.4 66L38.6 66M29.3 66.5L38.6 66.5M28.2 66L28.2 66.5M28.2 66L30.4 66M28.2 66.5L29.3 66.5M27.1 66.9L38.6 66.9M25.7 66.2L25.7 66.9M25.7 66.2L28.2 66.2M25.7 66.9L27.1 66.9M24.3 65.4L24.3 66.5M24.3 65.4L25.7 65.4M24.3 66.5L25.7 66.5M29.9 67.3L38.6 67.3M29.6 67.8L38.6 67.8M27.8 67.3L27.8 67.8M27.8 67.3L29.9 67.3M27.8 67.8L29.6 67.8M27.6 68.3L38.6 68.3M25.5 67.6L25.5 68.3M25.5 67.6L27.8 67.6M25.5 68.3L27.6 68.3M28.6 68.9L38.6 68.9M29.6 69.4L38.6 69.4M28.1 69.9L38.6 69.9M27.4 69.4L27.4 69.9M27.4 69.4L29.6 69.4M27.4 69.9L28.1 69.9M26.8 68.9L26.8 69.7M26.8 68.9L28.6 68.9M26.8 69.7L27.4 69.7M24.6 67.9L24.6 69.3M24.6 67.9L25.5 67.9M24.6 69.3L26.8 69.3M22.6 65.9L22.6 68.6M22.6 65.9L24.3 65.9M22.6 68.6L24.6 68.6M21.3 63.8L21.3 67.3M21.3 63.8L22.2 63.8M21.3 67.3L22.6 67.3M20 57.8L20 65.5M20 57.8L22.1 57.8M20 65.5L21.3 65.5M18.3 49.4L18.3 61.6M18.3 49.4L19.2 49.4M18.3 61.6L20 61.6M23.7 70.5L38.6 70.5M22.9 71L38.6 71M21.2 70.5L21.2 71M21.2 70.5L23.7 70.5M21.2 71L22.9 71M23.5 71.4L38.6 71.4M22.3 71.9L38.6 71.9M21.5 71.4L21.5 71.9M21.5 71.4L23.5 71.4M21.5 71.9L22.3 71.9M23 72.5L38.6 72.5M20.8 71.6L20.8 72.5M20.8 71.6L21.5 71.6M20.8 72.5L23 72.5M18.9 70.8L18.9 72.1M18.9 70.8L21.2 70.8M18.9 72.1L20.8 72.1M25.7 73L38.6 73M25.8 73.5L38.6 73.5M24.7 73L24.7 73.5M24.7 73L25.7 73M24.7 73.5L25.8 73.5M27.4 74.2L38.6 74.2M26.6 75L38.6 75M25.2 74.2L25.2 75M25.2 74.2L27.4 74.2M25.2 75L26.6 75M23 73.3L23 74.6M23 73.3L24.7 73.3M23 74.6L25.2 74.6M22.6 75.7L38.6 75.7M23.3 76.3L38.6 76.3M24.1 76.7L38.6 76.7M22.5 76.3L22.5 76.7M22.5 76.3L23.3 76.3M22.5 76.7L24.1 76.7M21.2 75.7L21.2 76.5M21.2 75.7L22.6 75.7M21.2 76.5L22.5 76.5M20.5 73.9L20.5 76.1M20.5 73.9L23 73.9M20.5 76.1L21.2 76.1M18.2 71.4L18.2 75M18.2 71.4L18.9 71.4M18.2 75L20.5 75M29.3 77.2L38.6 77.2M29.7 77.7L38.6 77.7M27.2 77.2L27.2 77.7M27.2 77.2L29.3 77.2M27.2 77.7L29.7 77.7M27.2 78.2L38.6 78.2M27.8 78.7L38.6 78.7M25.7 78.2L25.7 78.7M25.7 78.2L27.2 78.2M25.7 78.7L27.8 78.7M24.8 77.4L24.8 78.5M24.8 77.4L27.2 77.4M24.8 78.5L25.7 78.5M25.9 79.1L38.6 79.1M27 79.6L38.6 79.6M26.8 80.1L38.6 80.1M25.8 79.6L25.8 80.1M25.8 79.6L27 79.6M25.8 80.1L26.8 80.1M24.8 79.1L24.8 79.9M24.8 79.1L25.9 79.1M24.8 79.9L25.8 79.9M23.2 77.9L23.2 79.5M23.2 77.9L24.8 77.9M23.2 79.5L24.8 79.5M30 80.5L38.6 80.5M29.8 81L38.6 81M28.4 80.5L28.4 81M28.4 80.5L30 80.5M28.4 81L29.8 81M29.6 81.5L38.6 81.5M29.6 82L38.6 82M28.3 81.5L28.3 82M28.3 81.5L29.6 81.5M28.3 82L29.6 82M27.3 80.7L27.3 81.7M27.3 80.7L28.4 80.7M27.3 81.7L28.3 81.7M30.8 82.5L38.6 82.5M30.6 82.9L38.6 82.9M29 82.5L29 82.9M29 82.5L30.8 82.5M29 82.9L30.6 82.9M30.7 83.4L38.6 83.4M28.2 82.7L28.2 83.4M28.2 82.7L29 82.7M28.2 83.4L30.7 83.4M25.8 81.2L25.8 83M25.8 81.2L27.3 81.2M25.8 83L28.2 83M28.8 84L38.6 84M29.1 84.8L38.6 84.8M26.8 84L26.8 84.8M26.8 84L28.8 84M26.8 84.8L29.1 84.8M28.3 85.4L38.6 85.4M28.8 85.8L38.6 85.8M26.2 85.4L26.2 85.8M26.2 85.4L28.3 85.4M26.2 85.8L28.8 85.8M24.5 84.4L24.5 85.6M24.5 84.4L26.8 84.4M24.5 85.6L26.2 85.6M23.3 82.1L23.3 85M23.3 82.1L25.8 82.1M23.3 85L24.5 85M21.2 78.7L21.2 83.6M21.2 78.7L23.2 78.7M21.2 83.6L23.3 83.6M26 86.5L38.6 86.5M25.9 87.1L38.6 87.1M24.9 86.5L24.9 87.1M24.9 86.5L26 86.5M24.9 87.1L25.9 87.1M26.4 87.4L38.6 87.4M27.5 87.8L38.6 87.8M25.5 87.4L25.5 87.8M25.5 87.4L26.4 87.4M25.5 87.8L27.5 87.8M23 86.8L23 87.6M23 86.8L24.9 86.8M23 87.6L25.5 87.6M27.4 88.4L38.6 88.4M27.4 88.8L38.6 88.8M26.6 88.4L26.6 88.8M26.6 88.4L27.4 88.4M26.6 88.8L27.4 88.8M26.8 89.2L38.6 89.2M25.4 88.6L25.4 89.2M25.4 88.6L26.6 88.6M25.4 89.2L26.8 89.2M24.1 89.8L38.6 89.8M23 88.9L23 89.8M23 88.9L25.4 88.9M23 89.8L24.1 89.8M21.9 87.2L21.9 89.4M21.9 87.2L23 87.2M21.9 89.4L23 89.4M19.8 81.1L19.8 88.3M19.8 81.1L21.2 81.1M19.8 88.3L21.9 88.3M17.4 73.2L17.4 84.7M17.4 73.2L18.2 73.2M17.4 84.7L19.8 84.7M15.9 55.5L15.9 79M15.9 55.5L18.3 55.5M15.9 79L17.4 79M14.6 29.5L14.6 67.2M14.6 29.5L16.3 29.5M14.6 67.2L15.9 67.2" stroke="#444" stroke-width="0.3" fill="none"/>
<rect x="25" y="14.8" width="13.6" height="75.9" fill="url(#leafg)"/>
<path d="M38.6 15.5h1.6M40.1 16.9h1.6M41.6 18.3h1.6M43.2 19.7h1.6M44.7 21.1h1.6M46.2 22.5h1.6M47.7 23.9h1.6M49.3 25.3h1.6M50.8 26.7h1.6M52.3 28.2h1.6M53.8 29.6h1.6M55.3 31h1.6M56.9 32.4h1.6M58.4 33.8h1.6M59.9 35.2h1.6M61.4 36.6h1.6M63 38h1.6M64.5 39.4h1.6M66 40.8h1.6M67.5 42.2h1.6M69 43.6h1.6M70.6 45h1.6M72.1 46.4h1.6M73.6 47.8h1.6M75.1 49.2h1.6M76.7 50.6h1.6M78.2 52h1.6M79.7 53.5h1.6M81.2 54.9h1.6M82.7 56.3h1.6M84.3 57.7h1.6M85.8 59.1h1.6M87.3 60.5h1.6M88.8 61.9h1.6M90.4 63.3h1.6M91.9 64.7h1.6M93.4 66.1h1.6M94.9 67.5h1.6M96.4 68.9h1.6M98 70.3h1.6M99.5 71.7h1.6M101 73.1h1.6M102.5 74.5h1.6M104.1 75.9h1.6M105.6 77.3h1.6M107.1 78.8h1.6M108.6 80.2h1.6M110.1 81.6h1.6M111.7 83h1.6M113.2 84.4h1.6M114.7 85.8h1.6M116.2 87.2h1.6M117.8 88.6h1.6M119.3 90h1.6" stroke="#c42a2a" stroke-width="1.5"/>
<path d="M40.1 15.5h1.6M43.2 15.5h1.6M56.9 15.5h1.6M94.9 15.5h1.6M38.6 16.9h1.6M38.6 19.7h1.6M44.7 19.7h1.6M73.6 19.7h1.6M75.1 19.7h1.6M43.2 21.1h1.6M46.2 21.1h1.6M58.4 21.1h1.6M61.4 21.1h1.6M73.6 21.1h1.6M75.1 21.1h1.6M44.7 22.5h1.6M47.7 22.5h1.6M58.4 22.5h1.6M46.2 23.9h1.6M52.3 23.9h1.6M52.3 25.3h1.6M72.1 25.3h1.6M52.3 26.7h1.6M75.1 26.7h1.6M47.7 28.2h1.6M49.3 28.2h1.6M50.8 28.2h1.6M56.9 28.2h1.6M61.4 28.2h1.6M81.2 28.2h1.6M98 28.2h1.6M56.9 29.6h1.6M58.4 29.6h1.6M98 29.6h1.6M59.9 31h1.6M73.6 31h1.6M38.6 32.4h1.6M52.3 32.4h1.6M53.8 32.4h1.6M44.7 33.8h1.6M46.2 33.8h1.6M53.8 33.8h1.6M59.9 33.8h1.6M63 33.8h1.6M116.2 33.8h1.6M55.3 35.2h1.6M58.4 35.2h1.6M44.7 36.6h1.6M52.3 36.6h1.6M79.7 36.6h1.6M58.4 38h1.6M73.6 38h1.6M87.3 38h1.6M67.5 39.4h1.6M69 39.4h1.6M75.1 39.4h1.6M81.2 40.8h1.6M111.7 40.8h1.6M64.5 42.2h1.6M116.2 42.2h1.6M64.5 43.6h1.6M101 43.6h1.6M102.5 43.6h1.6M76.7 45h1.6M49.3 46.4h1.6M88.8 46.4h1.6M94.9 46.4h1.6M43.2 47.8h1.6M44.7 47.8h1.6M55.3 47.8h1.6M63 47.8h1.6M101 47.8h1.6M43.2 49.2h1.6M44.7 49.2h1.6M50.8 49.2h1.6M64.5 49.2h1.6M91.9 49.2h1.6M96.4 49.2h1.6M111.7 49.2h1.6M116.2 49.2h1.6M70.6 50.6h1.6M84.3 50.6h1.6M79.7 52h1.6M93.4 52h1.6M107.1 52h1.6M61.4 53.5h1.6M78.2 53.5h1.6M81.2 53.5h1.6M99.5 53.5h1.6M104.1 53.5h1.6M117.8 53.5h1.6M52.3 54.9h1.6M66 54.9h1.6M79.7 54.9h1.6M87.3 54.9h1.6M101 54.9h1.6M104.1 54.9h1.6M117.8 54.9h1.6M76.7 57.7h1.6M85.8 57.7h1.6M98 57.7h1.6M84.3 59.1h1.6M104.1 59.1h1.6M63 60.5h1.6M81.2 60.5h1.6M72.1 61.9h1.6M94.9 61.9h1.6M91.9 63.3h1.6M93.4 63.3h1.6M75.1 64.7h1.6M90.4 64.7h1.6M93.4 64.7h1.6M94.9 64.7h1.6M110.1 64.7h1.6M78.2 66.1h1.6M90.4 66.1h1.6M91.9 66.1h1.6M96.4 66.1h1.6M108.6 66.1h1.6M38.6 67.5h1.6M72.1 67.5h1.6M88.8 67.5h1.6M91.9 67.5h1.6M101 67.5h1.6M104.1 67.5h1.6M75.1 68.9h1.6M93.4 68.9h1.6M52.3 70.3h1.6M53.8 70.3h1.6M84.3 70.3h1.6M79.7 71.7h1.6M102.5 71.7h1.6M69 73.1h1.6M73.6 73.1h1.6M81.2 73.1h1.6M94.9 73.1h1.6M108.6 73.1h1.6M69 74.5h1.6M99.5 74.5h1.6M104.1 74.5h1.6M79.7 75.9h1.6M81.2 75.9h1.6M85.8 75.9h1.6M94.9 75.9h1.6M102.5 75.9h1.6M114.7 77.3h1.6M78.2 78.8h1.6M116.2 78.8h1.6M93.4 80.2h1.6M101 80.2h1.6M91.9 81.6h1.6M66 83h1.6M75.1 83h1.6M114.7 83h1.6M117.8 83h1.6M117.8 84.4h1.6M105.6 85.8h1.6M111.7 85.8h1.6M58.4 87.2h1.6M67.5 87.2h1.6M75.1 87.2h1.6M107.1 87.2h1.6M117.8 87.2h1.6M79.7 88.6h1.6M81.2 88.6h1.6M111.7 88.6h1.6M113.2 88.6h1.6M116.2 88.6h1.6" stroke="#eea8a8" stroke-width="1.5"/>
<path d="M41.6 15.5h1.6M38.6 18.3h1.6M46.2 18.3h1.6M64.5 21.1h1.6M41.6 22.5h1.6M55.3 28.2h1.6M73.6 29.6h1.6M52.3 31h1.6M61.4 31h1.6M58.4 32.4h1.6M56.9 33.8h1.6M61.4 33.8h1.6M69 35.2h1.6M55.3 36.6h1.6M58.4 36.6h1.6M63 36.6h1.6M61.4 38h1.6M67.5 38h1.6M75.1 38h1.6M44.7 39.4h1.6M63 42.2h1.6M59.9 43.6h1.6M73.6 45h1.6M75.1 45h1.6M53.8 47.8h1.6M70.6 47.8h1.6M63 49.2h1.6M70.6 49.2h1.6M79.7 50.6h1.6M85.8 52h1.6M76.7 53.5h1.6M84.3 53.5h1.6M85.8 54.9h1.6M79.7 57.7h1.6M78.2 59.1h1.6M81.2 59.1h1.6M116.2 67.5h1.6M107.1 77.3h1.6M110.1 77.3h1.6M111.7 77.3h1.6M116.2 77.3h1.6M119.3 77.3h1.6M105.6 78.8h1.6M117.8 78.8h1.6M111.7 80.2h1.6M105.6 81.6h1.6M105.6 83h1.6M108.6 83h1.6M94.9 87.2h1.6M105.6 87.2h1.6M107.1 88.6h1.6M105.6 90h1.6" stroke="#ee7e7e" stroke-width="1.5"/>
<path d="M44.7 15.5h1.6M52.3 15.5h1.6M43.2 18.3h1.6M56.9 18.3h1.6M41.6 19.7h1.6M59.9 19.7h1.6M38.6 21.1h1.6M50.8 23.9h1.6M55.3 23.9h1.6M72.1 23.9h1.6M73.6 23.9h1.6M53.8 25.3h1.6M47.7 26.7h1.6M53.8 26.7h1.6M73.6 26.7h1.6M38.6 28.2h1.6M73.6 28.2h1.6M49.3 29.6h1.6M50.8 29.6h1.6M55.3 29.6h1.6M47.7 31h1.6M53.8 31h1.6M41.6 32.4h1.6M59.9 32.4h1.6M66 32.4h1.6M69 33.8h1.6M43.2 35.2h1.6M56.9 35.2h1.6M63 35.2h1.6M82.7 35.2h1.6M64.5 36.6h1.6M85.8 36.6h1.6M59.9 38h1.6M61.4 39.4h1.6M70.6 39.4h1.6M72.1 39.4h1.6M56.9 40.8h1.6M67.5 40.8h1.6M84.3 40.8h1.6M66 42.2h1.6M58.4 43.6h1.6M73.6 43.6h1.6M64.5 45h1.6M93.4 45h1.6M96.4 45h1.6M47.7 46.4h1.6M64.5 46.4h1.6M73.6 46.4h1.6M47.7 47.8h1.6M50.8 47.8h1.6M52.3 47.8h1.6M69 47.8h1.6M72.1 47.8h1.6M75.1 47.8h1.6M94.9 47.8h1.6M116.2 47.8h1.6M73.6 49.2h1.6M85.8 50.6h1.6M84.3 52h1.6M85.8 53.5h1.6M105.6 53.5h1.6M119.3 53.5h1.6M84.3 54.9h1.6M59.9 56.3h1.6M84.3 56.3h1.6M85.8 56.3h1.6M87.3 56.3h1.6M66 57.7h1.6M78.2 57.7h1.6M81.2 57.7h1.6M82.7 57.7h1.6M61.4 59.1h1.6M76.7 59.1h1.6M79.7 59.1h1.6M82.7 59.1h1.6M82.7 60.5h1.6M91.9 61.9h1.6M116.2 61.9h1.6M94.9 63.3h1.6M110.1 63.3h1.6M88.8 64.7h1.6M70.6 66.1h1.6M73.6 67.5h1.6M90.4 67.5h1.6M70.6 68.9h1.6M107.1 68.9h1.6M105.6 70.3h1.6M107.1 70.3h1.6M104.1 73.1h1.6M107.1 74.5h1.6M101 75.9h1.6M79.7 77.3h1.6M98 77.3h1.6M113.2 77.3h1.6M117.8 77.3h1.6M96.4 78.8h1.6M98 78.8h1.6M102.5 78.8h1.6M111.7 78.8h1.6M90.4 81.6h1.6M107.1 83h1.6M105.6 84.4h1.6M116.2 85.8h1.6M117.8 85.8h1.6M73.6 87.2h1.6M88.8 87.2h1.6M114.7 87.2h1.6M119.3 87.2h1.6M105.6 88.6h1.6M114.7 88.6h1.6M119.3 88.6h1.6M79.7 90h1.6M116.2 90h1.6M117.8 90h1.6" stroke="#ee9a9a" stroke-width="1.5"/>
<path d="M46.2 15.5h1.6M58.4 15.5h1.6M61.4 15.5h1.6M66 15.5h1.6M93.4 15.5h1.6M43.2 16.9h1.6M44.7 16.9h1.6M46.2 16.9h1.6M47.7 16.9h1.6M55.3 16.9h1.6M70.6 16.9h1.6M76.7 16.9h1.6M99.5 16.9h1.6M50.8 18.3h1.6M52.3 18.3h1.6M55.3 18.3h1.6M66 18.3h1.6M72.1 18.3h1.6M76.7 18.3h1.6M91.9 18.3h1.6M40.1 19.7h1.6M49.3 19.7h1.6M50.8 19.7h1.6M61.4 19.7h1.6M63 19.7h1.6M90.4 19.7h1.6M104.1 19.7h1.6M40.1 21.1h1.6M70.6 21.1h1.6M104.1 21.1h1.6M38.6 22.5h1.6M40.1 22.5h1.6M52.3 22.5h1.6M56.9 22.5h1.6M63 22.5h1.6M75.1 22.5h1.6M40.1 23.9h1.6M59.9 23.9h1.6M69 23.9h1.6M88.8 23.9h1.6M91.9 23.9h1.6M96.4 23.9h1.6M43.2 25.3h1.6M55.3 25.3h1.6M87.3 25.3h1.6M96.4 25.3h1.6M104.1 25.3h1.6M41.6 26.7h1.6M43.2 26.7h1.6M59.9 26.7h1.6M70.6 26.7h1.6M98 26.7h1.6M41.6 28.2h1.6M46.2 28.2h1.6M63 28.2h1.6M70.6 28.2h1.6M59.9 29.6h1.6M61.4 29.6h1.6M63 29.6h1.6M70.6 29.6h1.6M72.1 29.6h1.6M75.1 29.6h1.6M96.4 29.6h1.6M111.7 29.6h1.6M40.1 31h1.6M41.6 31h1.6M49.3 31h1.6M64.5 31h1.6M102.5 31h1.6M46.2 32.4h1.6M69 32.4h1.6M79.7 32.4h1.6M81.2 32.4h1.6M82.7 32.4h1.6M99.5 32.4h1.6M116.2 32.4h1.6M38.6 33.8h1.6M64.5 33.8h1.6M101 33.8h1.6M47.7 35.2h1.6M50.8 35.2h1.6M53.8 35.2h1.6M64.5 35.2h1.6M76.7 35.2h1.6M78.2 35.2h1.6M87.3 35.2h1.6M107.1 35.2h1.6M113.2 35.2h1.6M38.6 36.6h1.6M43.2 36.6h1.6M53.8 36.6h1.6M82.7 36.6h1.6M87.3 36.6h1.6M96.4 36.6h1.6M98 36.6h1.6M99.5 36.6h1.6M43.2 38h1.6M46.2 38h1.6M52.3 38h1.6M53.8 38h1.6M55.3 39.4h1.6M58.4 39.4h1.6M59.9 39.4h1.6M66 39.4h1.6M38.6 40.8h1.6M41.6 40.8h1.6M64.5 40.8h1.6M72.1 40.8h1.6M91.9 40.8h1.6M93.4 40.8h1.6M99.5 40.8h1.6M116.2 40.8h1.6M94.9 42.2h1.6M47.7 43.6h1.6M56.9 43.6h1.6M90.4 43.6h1.6M91.9 43.6h1.6M104.1 43.6h1.6M40.1 45h1.6M44.7 45h1.6M50.8 45h1.6M52.3 45h1.6M53.8 45h1.6M85.8 45h1.6M91.9 45h1.6M41.6 46.4h1.6M53.8 46.4h1.6M66 46.4h1.6M76.7 46.4h1.6M117.8 46.4h1.6M90.4 47.8h1.6M107.1 47.8h1.6M46.2 49.2h1.6M53.8 49.2h1.6M76.7 49.2h1.6M87.3 49.2h1.6M88.8 49.2h1.6M90.4 49.2h1.6M94.9 49.2h1.6M105.6 49.2h1.6M40.1 50.6h1.6M41.6 50.6h1.6M59.9 50.6h1.6M72.1 50.6h1.6M75.1 50.6h1.6M104.1 50.6h1.6M107.1 50.6h1.6M59.9 52h1.6M81.2 52h1.6M105.6 52h1.6M56.9 53.5h1.6M87.3 53.5h1.6M96.4 53.5h1.6M101 53.5h1.6M56.9 54.9h1.6M78.2 54.9h1.6M88.8 54.9h1.6M98 54.9h1.6M56.9 56.3h1.6M61.4 56.3h1.6M94.9 56.3h1.6M107.1 56.3h1.6M117.8 56.3h1.6M88.8 57.7h1.6M113.2 57.7h1.6M70.6 59.1h1.6M88.8 59.1h1.6M102.5 59.1h1.6M114.7 59.1h1.6M49.3 60.5h1.6M59.9 60.5h1.6M61.4 60.5h1.6M75.1 60.5h1.6M79.7 60.5h1.6M90.4 60.5h1.6M93.4 60.5h1.6M102.5 60.5h1.6M111.7 60.5h1.6M47.7 61.9h1.6M75.1 61.9h1.6M81.2 61.9h1.6M84.3 61.9h1.6M85.8 61.9h1.6M101 61.9h1.6M105.6 61.9h1.6M113.2 61.9h1.6M117.8 61.9h1.6M43.2 63.3h1.6M69 63.3h1.6M73.6 63.3h1.6M75.1 63.3h1.6M87.3 63.3h1.6M96.4 63.3h1.6M98 63.3h1.6M105.6 63.3h1.6M119.3 63.3h1.6M41.6 64.7h1.6M47.7 64.7h1.6M66 64.7h1.6M69 64.7h1.6M70.6 64.7h1.6M99.5 64.7h1.6M101 64.7h1.6M38.6 66.1h1.6M66 66.1h1.6M87.3 66.1h1.6M94.9 66.1h1.6M114.7 66.1h1.6M67.5 67.5h1.6M75.1 67.5h1.6M82.7 67.5h1.6M93.4 67.5h1.6M110.1 67.5h1.6M47.7 68.9h1.6M49.3 68.9h1.6M53.8 68.9h1.6M61.4 68.9h1.6M79.7 68.9h1.6M90.4 68.9h1.6M105.6 68.9h1.6M110.1 68.9h1.6M114.7 68.9h1.6M50.8 70.3h1.6M61.4 70.3h1.6M81.2 70.3h1.6M90.4 70.3h1.6M110.1 70.3h1.6M117.8 70.3h1.6M40.1 71.7h1.6M56.9 71.7h1.6M61.4 71.7h1.6M66 71.7h1.6M91.9 71.7h1.6M101 71.7h1.6M108.6 71.7h1.6M117.8 71.7h1.6M58.4 73.1h1.6M79.7 73.1h1.6M88.8 73.1h1.6M91.9 73.1h1.6M99.5 73.1h1.6M110.1 73.1h1.6M55.3 74.5h1.6M85.8 74.5h1.6M87.3 74.5h1.6M105.6 74.5h1.6M111.7 74.5h1.6M43.2 75.9h1.6M44.7 75.9h1.6M49.3 75.9h1.6M69 75.9h1.6M76.7 75.9h1.6M105.6 75.9h1.6M108.6 75.9h1.6M75.1 77.3h1.6M78.2 77.3h1.6M88.8 77.3h1.6M90.4 77.3h1.6M96.4 77.3h1.6M102.5 77.3h1.6M104.1 77.3h1.6M59.9 78.8h1.6M73.6 78.8h1.6M76.7 78.8h1.6M82.7 78.8h1.6M108.6 78.8h1.6M119.3 78.8h1.6M99.5 80.2h1.6M104.1 80.2h1.6M107.1 80.2h1.6M110.1 80.2h1.6M94.9 81.6h1.6M96.4 81.6h1.6M98 81.6h1.6M101 81.6h1.6M108.6 81.6h1.6M53.8 83h1.6M87.3 83h1.6M102.5 83h1.6M113.2 83h1.6M116.2 83h1.6M59.9 84.4h1.6M84.3 84.4h1.6M88.8 84.4h1.6M111.7 84.4h1.6M85.8 85.8h1.6M93.4 85.8h1.6M96.4 85.8h1.6M56.9 87.2h1.6M66 87.2h1.6M111.7 87.2h1.6M72.1 88.6h1.6M82.7 88.6h1.6M88.8 88.6h1.6M98 88.6h1.6M99.5 88.6h1.6M90.4 90h1.6M107.1 90h1.6" stroke="#eec4c4" stroke-width="1.5"/>
<path d="M47.7 15.5h1.6M49.3 15.5h1.6M53.8 15.5h1.6M63 15.5h1.6M64.5 15.5h1.6M67.5 15.5h1.6M70.6 15.5h1.6M52.3 16.9h1.6M64.5 16.9h1.6M66 16.9h1.6M67.5 16.9h1.6M72.1 16.9h1.6M73.6 16.9h1.6M44.7 18.3h1.6M49.3 18.3h1.6M75.1 18.3h1.6M46.2 19.7h1.6M47.7 19.7h1.6M64.5 19.7h1.6M66 19.7h1.6M41.6 21.1h1.6M87.3 21.1h1.6M43.2 22.5h1.6M55.3 22.5h1.6M64.5 22.5h1.6M69 22.5h1.6M72.1 22.5h1.6M73.6 22.5h1.6M87.3 22.5h1.6M38.6 23.9h1.6M43.2 23.9h1.6M53.8 23.9h1.6M38.6 25.3h1.6M41.6 25.3h1.6M50.8 25.3h1.6M69 25.3h1.6M73.6 25.3h1.6M49.3 26.7h1.6M63 26.7h1.6M72.1 26.7h1.6M94.9 26.7h1.6M104.1 26.7h1.6M40.1 28.2h1.6M58.4 28.2h1.6M84.3 28.2h1.6M38.6 29.6h1.6M47.7 29.6h1.6M102.5 29.6h1.6M46.2 31h1.6M99.5 31h1.6M98 32.4h1.6M104.1 32.4h1.6M52.3 33.8h1.6M82.7 33.8h1.6M84.3 33.8h1.6M87.3 33.8h1.6M113.2 33.8h1.6M96.4 35.2h1.6M105.6 35.2h1.6M66 36.6h1.6M70.6 36.6h1.6M73.6 36.6h1.6M84.3 36.6h1.6M113.2 36.6h1.6M38.6 38h1.6M50.8 38h1.6M66 38h1.6M38.6 39.4h1.6M40.1 39.4h1.6M43.2 39.4h1.6M46.2 39.4h1.6M40.1 40.8h1.6M43.2 40.8h1.6M61.4 40.8h1.6M63 40.8h1.6M70.6 40.8h1.6M94.9 40.8h1.6M38.6 42.2h1.6M40.1 42.2h1.6M102.5 42.2h1.6M46.2 43.6h1.6M49.3 43.6h1.6M98 43.6h1.6M99.5 43.6h1.6M38.6 45h1.6M61.4 45h1.6M66 45h1.6M72.1 45h1.6M78.2 45h1.6M90.4 45h1.6M110.1 45h1.6M40.1 46.4h1.6M46.2 46.4h1.6M50.8 46.4h1.6M70.6 46.4h1.6M75.1 46.4h1.6M78.2 46.4h1.6M85.8 46.4h1.6M90.4 46.4h1.6M96.4 46.4h1.6M98 46.4h1.6M99.5 46.4h1.6M101 46.4h1.6M116.2 46.4h1.6M40.1 47.8h1.6M46.2 47.8h1.6M49.3 47.8h1.6M61.4 47.8h1.6M88.8 47.8h1.6M96.4 47.8h1.6M108.6 47.8h1.6M41.6 49.2h1.6M72.1 49.2h1.6M79.7 49.2h1.6M107.1 49.2h1.6M81.2 50.6h1.6M111.7 50.6h1.6M70.6 52h1.6M72.1 52h1.6M82.7 52h1.6M87.3 52h1.6M75.1 53.5h1.6M98 53.5h1.6M76.7 54.9h1.6M93.4 54.9h1.6M99.5 54.9h1.6M119.3 54.9h1.6M58.4 56.3h1.6M78.2 56.3h1.6M52.3 57.7h1.6M58.4 57.7h1.6M61.4 57.7h1.6M90.4 57.7h1.6M104.1 57.7h1.6M117.8 57.7h1.6M72.1 59.1h1.6M93.4 59.1h1.6M98 59.1h1.6M113.2 59.1h1.6M44.7 60.5h1.6M46.2 60.5h1.6M58.4 60.5h1.6M78.2 60.5h1.6M101 60.5h1.6M104.1 60.5h1.6M73.6 61.9h1.6M90.4 61.9h1.6M114.7 61.9h1.6M70.6 63.3h1.6M72.1 63.3h1.6M84.3 63.3h1.6M88.8 63.3h1.6M116.2 63.3h1.6M108.6 64.7h1.6M111.7 64.7h1.6M81.2 66.1h1.6M85.8 66.1h1.6M110.1 66.1h1.6M50.8 67.5h1.6M66 67.5h1.6M114.7 67.5h1.6M59.9 68.9h1.6M72.1 68.9h1.6M73.6 68.9h1.6M56.9 70.3h1.6M69 70.3h1.6M72.1 70.3h1.6M79.7 70.3h1.6M85.8 70.3h1.6M55.3 71.7h1.6M69 71.7h1.6M72.1 71.7h1.6M81.2 71.7h1.6M119.3 71.7h1.6M72.1 73.1h1.6M87.3 73.1h1.6M107.1 73.1h1.6M119.3 73.1h1.6M53.8 74.5h1.6M67.5 74.5h1.6M50.8 75.9h1.6M56.9 75.9h1.6M84.3 75.9h1.6M87.3 75.9h1.6M107.1 75.9h1.6M114.7 75.9h1.6M59.9 77.3h1.6M75.1 78.8h1.6M101 78.8h1.6M104.1 78.8h1.6M113.2 78.8h1.6M73.6 80.2h1.6M91.9 80.2h1.6M114.7 80.2h1.6M116.2 80.2h1.6M70.6 81.6h1.6M93.4 81.6h1.6M116.2 81.6h1.6M117.8 81.6h1.6M76.7 83h1.6M91.9 83h1.6M58.4 84.4h1.6M61.4 84.4h1.6M85.8 84.4h1.6M107.1 84.4h1.6M114.7 84.4h1.6M116.2 84.4h1.6M119.3 84.4h1.6M88.8 85.8h1.6M94.9 85.8h1.6M104.1 85.8h1.6M108.6 85.8h1.6M113.2 85.8h1.6M72.1 87.2h1.6M90.4 87.2h1.6M108.6 87.2h1.6M110.1 87.2h1.6M113.2 87.2h1.6M84.3 88.6h1.6M110.1 88.6h1.6M81.2 90h1.6M99.5 90h1.6M101 90h1.6M113.2 90h1.6" stroke="#eeb6b6" stroke-width="1.5"/>
<path d="M50.8 15.5h1.6M55.3 15.5h1.6M59.9 15.5h1.6M90.4 15.5h1.6M99.5 15.5h1.6M102.5 15.5h1.6M105.6 15.5h1.6M119.3 15.5h1.6M81.2 16.9h1.6M82.7 16.9h1.6M87.3 16.9h1.6M98 16.9h1.6M110.1 16.9h1.6M116.2 16.9h1.6M117.8 16.9h1.6M53.8 18.3h1.6M64.5 18.3h1.6M111.7 18.3h1.6M114.7 18.3h1.6M119.3 18.3h1.6M78.2 19.7h1.6M110.1 19.7h1.6M119.3 19.7h1.6M78.2 21.1h1.6M88.8 21.1h1.6M94.9 21.1h1.6M99.5 21.1h1.6M107.1 21.1h1.6M113.2 21.1h1.6M116.2 21.1h1.6M117.8 21.1h1.6M76.7 22.5h1.6M82.7 22.5h1.6M93.4 22.5h1.6M114.7 22.5h1.6M116.2 22.5h1.6M117.8 22.5h1.6M78.2 23.9h1.6M101 23.9h1.6M108.6 23.9h1.6M78.2 25.3h1.6M79.7 25.3h1.6M101 25.3h1.6M38.6 26.7h1.6M76.7 26.7h1.6M82.7 26.7h1.6M84.3 26.7h1.6M87.3 26.7h1.6M90.4 26.7h1.6M111.7 26.7h1.6M69 28.2h1.6M87.3 28.2h1.6M110.1 28.2h1.6M114.7 28.2h1.6M41.6 29.6h1.6M69 29.6h1.6M79.7 29.6h1.6M81.2 29.6h1.6M82.7 29.6h1.6M113.2 29.6h1.6M38.6 31h1.6M56.9 31h1.6M87.3 31h1.6M88.8 31h1.6M114.7 31h1.6M116.2 31h1.6M55.3 32.4h1.6M70.6 32.4h1.6M72.1 32.4h1.6M94.9 32.4h1.6M102.5 32.4h1.6M105.6 32.4h1.6M111.7 32.4h1.6M119.3 32.4h1.6M91.9 33.8h1.6M117.8 33.8h1.6M38.6 35.2h1.6M93.4 35.2h1.6M94.9 35.2h1.6M102.5 35.2h1.6M94.9 36.6h1.6M102.5 36.6h1.6M94.9 38h1.6M108.6 38h1.6M111.7 38h1.6M41.6 39.4h1.6M88.8 39.4h1.6M93.4 39.4h1.6M104.1 39.4h1.6M110.1 39.4h1.6M73.6 40.8h1.6M78.2 40.8h1.6M96.4 40.8h1.6M104.1 40.8h1.6M105.6 40.8h1.6M114.7 40.8h1.6M70.6 42.2h1.6M90.4 42.2h1.6M99.5 42.2h1.6M113.2 42.2h1.6M119.3 42.2h1.6M52.3 43.6h1.6M53.8 43.6h1.6M114.7 43.6h1.6M117.8 43.6h1.6M56.9 45h1.6M67.5 45h1.6M79.7 45h1.6M102.5 45h1.6M119.3 45h1.6M56.9 46.4h1.6M81.2 46.4h1.6M102.5 46.4h1.6M66 47.8h1.6M98 47.8h1.6M98 49.2h1.6M99.5 49.2h1.6M114.7 49.2h1.6M46.2 50.6h1.6M50.8 50.6h1.6M119.3 50.6h1.6M43.2 52h1.6M44.7 52h1.6M47.7 52h1.6M49.3 52h1.6M66 52h1.6M111.7 52h1.6M119.3 52h1.6M49.3 53.5h1.6M53.8 53.5h1.6M70.6 53.5h1.6M111.7 53.5h1.6M40.1 54.9h1.6M53.8 54.9h1.6M72.1 54.9h1.6M110.1 54.9h1.6M40.1 56.3h1.6M46.2 56.3h1.6M50.8 56.3h1.6M53.8 56.3h1.6M102.5 56.3h1.6M104.1 56.3h1.6M108.6 56.3h1.6M116.2 56.3h1.6M50.8 57.7h1.6M93.4 57.7h1.6M107.1 57.7h1.6M108.6 57.7h1.6M110.1 57.7h1.6M40.1 60.5h1.6M50.8 60.5h1.6M52.3 60.5h1.6M55.3 60.5h1.6M114.7 60.5h1.6M117.8 60.5h1.6M44.7 61.9h1.6M55.3 61.9h1.6M64.5 61.9h1.6M38.6 63.3h1.6M50.8 63.3h1.6M67.5 63.3h1.6M58.4 64.7h1.6M46.2 66.1h1.6M59.9 66.1h1.6M64.5 66.1h1.6M84.3 66.1h1.6M44.7 67.5h1.6M56.9 67.5h1.6M59.9 67.5h1.6M61.4 67.5h1.6M63 67.5h1.6M66 68.9h1.6M98 68.9h1.6M102.5 68.9h1.6M40.1 70.3h1.6M73.6 70.3h1.6M75.1 70.3h1.6M96.4 70.3h1.6M38.6 71.7h1.6M44.7 71.7h1.6M67.5 71.7h1.6M75.1 71.7h1.6M114.7 71.7h1.6M47.7 73.1h1.6M49.3 73.1h1.6M117.8 73.1h1.6M38.6 74.5h1.6M56.9 74.5h1.6M59.9 74.5h1.6M61.4 74.5h1.6M70.6 74.5h1.6M72.1 74.5h1.6M82.7 74.5h1.6M96.4 74.5h1.6M116.2 74.5h1.6M64.5 75.9h1.6M66 75.9h1.6M82.7 75.9h1.6M38.6 77.3h1.6M56.9 77.3h1.6M66 77.3h1.6M44.7 78.8h1.6M84.3 78.8h1.6M47.7 80.2h1.6M63 80.2h1.6M82.7 80.2h1.6M84.3 80.2h1.6M40.1 81.6h1.6M43.2 81.6h1.6M52.3 81.6h1.6M64.5 81.6h1.6M81.2 81.6h1.6M84.3 81.6h1.6M41.6 83h1.6M50.8 83h1.6M56.9 83h1.6M63 83h1.6M78.2 83h1.6M79.7 83h1.6M44.7 84.4h1.6M53.8 84.4h1.6M67.5 84.4h1.6M41.6 85.8h1.6M46.2 85.8h1.6M52.3 85.8h1.6M55.3 85.8h1.6M66 85.8h1.6M69 85.8h1.6M75.1 85.8h1.6M87.3 85.8h1.6M99.5 85.8h1.6M40.1 87.2h1.6M44.7 87.2h1.6M46.2 87.2h1.6M55.3 87.2h1.6M82.7 87.2h1.6M102.5 87.2h1.6M40.1 88.6h1.6M44.7 88.6h1.6M46.2 88.6h1.6M58.4 88.6h1.6M69 88.6h1.6M87.3 88.6h1.6M101 88.6h1.6M38.6 90h1.6M41.6 90h1.6M43.2 90h1.6M56.9 90h1.6M67.5 90h1.6M70.6 90h1.6M76.7 90h1.6M78.2 90h1.6" stroke="#b6b6e0" stroke-width="1.5"/>
<path d="M69 15.5h1.6M73.6 15.5h1.6M81.2 15.5h1.6M85.8 15.5h1.6M50.8 16.9h1.6M85.8 16.9h1.6M88.8 16.9h1.6M101 16.9h1.6M105.6 16.9h1.6M108.6 16.9h1.6M111.7 16.9h1.6M87.3 18.3h1.6M88.8 18.3h1.6M90.4 18.3h1.6M94.9 18.3h1.6M96.4 18.3h1.6M98 18.3h1.6M105.6 18.3h1.6M107.1 18.3h1.6M116.2 18.3h1.6M84.3 19.7h1.6M94.9 19.7h1.6M101 19.7h1.6M105.6 19.7h1.6M111.7 19.7h1.6M113.2 19.7h1.6M67.5 21.1h1.6M72.1 21.1h1.6M90.4 21.1h1.6M91.9 21.1h1.6M79.7 22.5h1.6M84.3 22.5h1.6M94.9 22.5h1.6M99.5 22.5h1.6M58.4 23.9h1.6M61.4 23.9h1.6M66 23.9h1.6M76.7 23.9h1.6M90.4 23.9h1.6M99.5 23.9h1.6M105.6 23.9h1.6M111.7 23.9h1.6M114.7 23.9h1.6M116.2 23.9h1.6M81.2 25.3h1.6M82.7 25.3h1.6M85.8 25.3h1.6M93.4 25.3h1.6M40.1 26.7h1.6M56.9 26.7h1.6M114.7 26.7h1.6M119.3 26.7h1.6M76.7 28.2h1.6M101 28.2h1.6M116.2 28.2h1.6M85.8 29.6h1.6M108.6 29.6h1.6M116.2 29.6h1.6M117.8 29.6h1.6M66 31h1.6M67.5 31h1.6M70.6 31h1.6M91.9 31h1.6M108.6 31h1.6M111.7 31h1.6M117.8 31h1.6M119.3 31h1.6M50.8 32.4h1.6M85.8 32.4h1.6M47.7 33.8h1.6M81.2 33.8h1.6M108.6 33.8h1.6M73.6 35.2h1.6M75.1 35.2h1.6M101 35.2h1.6M104.1 35.2h1.6M47.7 36.6h1.6M101 36.6h1.6M107.1 36.6h1.6M108.6 36.6h1.6M110.1 36.6h1.6M111.7 36.6h1.6M117.8 36.6h1.6M79.7 38h1.6M88.8 38h1.6M113.2 38h1.6M87.3 39.4h1.6M96.4 39.4h1.6M116.2 39.4h1.6M47.7 40.8h1.6M55.3 40.8h1.6M79.7 40.8h1.6M110.1 40.8h1.6M44.7 42.2h1.6M55.3 42.2h1.6M73.6 42.2h1.6M75.1 42.2h1.6M78.2 42.2h1.6M82.7 42.2h1.6M84.3 42.2h1.6M105.6 42.2h1.6M38.6 43.6h1.6M78.2 43.6h1.6M87.3 43.6h1.6M116.2 43.6h1.6M55.3 45h1.6M99.5 45h1.6M104.1 45h1.6M107.1 45h1.6M108.6 45h1.6M111.7 45h1.6M44.7 46.4h1.6M91.9 46.4h1.6M38.6 47.8h1.6M59.9 47.8h1.6M67.5 47.8h1.6M82.7 47.8h1.6M85.8 47.8h1.6M104.1 47.8h1.6M105.6 47.8h1.6M110.1 47.8h1.6M59.9 49.2h1.6M67.5 49.2h1.6M82.7 49.2h1.6M110.1 49.2h1.6M117.8 49.2h1.6M119.3 49.2h1.6M47.7 50.6h1.6M52.3 50.6h1.6M101 50.6h1.6M67.5 52h1.6M69 52h1.6M90.4 52h1.6M91.9 52h1.6M113.2 52h1.6M117.8 52h1.6M46.2 53.5h1.6M63 53.5h1.6M66 53.5h1.6M102.5 53.5h1.6M110.1 53.5h1.6M114.7 53.5h1.6M116.2 53.5h1.6M38.6 54.9h1.6M49.3 54.9h1.6M58.4 54.9h1.6M108.6 54.9h1.6M49.3 56.3h1.6M67.5 56.3h1.6M73.6 56.3h1.6M75.1 56.3h1.6M98 56.3h1.6M43.2 57.7h1.6M46.2 57.7h1.6M67.5 57.7h1.6M94.9 57.7h1.6M105.6 57.7h1.6M116.2 57.7h1.6M38.6 59.1h1.6M40.1 59.1h1.6M49.3 59.1h1.6M53.8 59.1h1.6M56.9 59.1h1.6M73.6 59.1h1.6M99.5 59.1h1.6M41.6 60.5h1.6M64.5 60.5h1.6M69 60.5h1.6M113.2 60.5h1.6M40.1 61.9h1.6M41.6 61.9h1.6M63 61.9h1.6M110.1 61.9h1.6M41.6 63.3h1.6M44.7 63.3h1.6M47.7 63.3h1.6M78.2 63.3h1.6M102.5 63.3h1.6M44.7 64.7h1.6M55.3 64.7h1.6M72.1 64.7h1.6M78.2 64.7h1.6M102.5 64.7h1.6M105.6 64.7h1.6M114.7 64.7h1.6M116.2 64.7h1.6M119.3 64.7h1.6M49.3 66.1h1.6M104.1 66.1h1.6M105.6 66.1h1.6M113.2 66.1h1.6M117.8 66.1h1.6M41.6 67.5h1.6M43.2 67.5h1.6M46.2 67.5h1.6M84.3 67.5h1.6M105.6 67.5h1.6M117.8 67.5h1.6M41.6 68.9h1.6M64.5 68.9h1.6M101 68.9h1.6M108.6 68.9h1.6M111.7 68.9h1.6M41.6 70.3h1.6M82.7 70.3h1.6M101 70.3h1.6M46.2 71.7h1.6M47.7 71.7h1.6M70.6 71.7h1.6M85.8 71.7h1.6M40.1 73.1h1.6M43.2 73.1h1.6M52.3 73.1h1.6M59.9 73.1h1.6M61.4 73.1h1.6M76.7 73.1h1.6M96.4 73.1h1.6M98 73.1h1.6M111.7 73.1h1.6M79.7 74.5h1.6M90.4 74.5h1.6M91.9 74.5h1.6M59.9 75.9h1.6M70.6 75.9h1.6M73.6 75.9h1.6M93.4 75.9h1.6M40.1 77.3h1.6M41.6 77.3h1.6M43.2 77.3h1.6M47.7 77.3h1.6M67.5 77.3h1.6M73.6 77.3h1.6M84.3 77.3h1.6M91.9 77.3h1.6M93.4 77.3h1.6M94.9 77.3h1.6M41.6 78.8h1.6M61.4 78.8h1.6M70.6 78.8h1.6M40.1 80.2h1.6M53.8 80.2h1.6M55.3 80.2h1.6M58.4 80.2h1.6M61.4 80.2h1.6M70.6 80.2h1.6M81.2 80.2h1.6M96.4 80.2h1.6M61.4 81.6h1.6M66 81.6h1.6M73.6 81.6h1.6M75.1 81.6h1.6M79.7 81.6h1.6M88.8 81.6h1.6M40.1 83h1.6M43.2 83h1.6M47.7 83h1.6M55.3 83h1.6M61.4 83h1.6M70.6 83h1.6M96.4 83h1.6M101 83h1.6M43.2 84.4h1.6M63 84.4h1.6M78.2 84.4h1.6M87.3 84.4h1.6M93.4 84.4h1.6M47.7 85.8h1.6M50.8 85.8h1.6M79.7 85.8h1.6M91.9 85.8h1.6M41.6 87.2h1.6M47.7 87.2h1.6M52.3 87.2h1.6M53.8 87.2h1.6M64.5 87.2h1.6M69 87.2h1.6M79.7 87.2h1.6M84.3 87.2h1.6M91.9 87.2h1.6M53.8 88.6h1.6M55.3 88.6h1.6M61.4 88.6h1.6M75.1 88.6h1.6M78.2 88.6h1.6M93.4 88.6h1.6M94.9 88.6h1.6M50.8 90h1.6M55.3 90h1.6M75.1 90h1.6M91.9 90h1.6" stroke="#c4c4ee" stroke-width="1.5"/>
<path d="M72.1 15.5h1.6M76.7 15.5h1.6M79.7 15.5h1.6M96.4 15.5h1.6M49.3 16.9h1.6M53.8 16.9h1.6M56.9 16.9h1.6M61.4 16.9h1.6M91.9 16.9h1.6M59.9 18.3h1.6M69 18.3h1.6M73.6 18.3h1.6M93.4 18.3h1.6M99.5 18.3h1.6M104.1 18.3h1.6M58.4 19.7h1.6M70.6 19.7h1.6M79.7 19.7h1.6M81.2 19.7h1.6M99.5 19.7h1.6M117.8 19.7h1.6M49.3 21.1h1.6M56.9 21.1h1.6M66 21.1h1.6M69 21.1h1.6M79.7 21.1h1.6M82.7 21.1h1.6M108.6 21.1h1.6M49.3 22.5h1.6M50.8 22.5h1.6M53.8 22.5h1.6M61.4 22.5h1.6M67.5 22.5h1.6M85.8 22.5h1.6M90.4 22.5h1.6M98 22.5h1.6M102.5 22.5h1.6M104.1 22.5h1.6M119.3 22.5h1.6M67.5 23.9h1.6M70.6 23.9h1.6M75.1 23.9h1.6M87.3 23.9h1.6M93.4 23.9h1.6M94.9 23.9h1.6M104.1 23.9h1.6M40.1 25.3h1.6M44.7 25.3h1.6M46.2 25.3h1.6M59.9 25.3h1.6M63 25.3h1.6M66 25.3h1.6M67.5 25.3h1.6M94.9 25.3h1.6M114.7 25.3h1.6M117.8 25.3h1.6M46.2 26.7h1.6M64.5 26.7h1.6M66 26.7h1.6M67.5 26.7h1.6M79.7 26.7h1.6M81.2 26.7h1.6M113.2 26.7h1.6M117.8 26.7h1.6M59.9 28.2h1.6M66 28.2h1.6M72.1 28.2h1.6M79.7 28.2h1.6M85.8 28.2h1.6M91.9 28.2h1.6M96.4 28.2h1.6M99.5 28.2h1.6M111.7 28.2h1.6M113.2 28.2h1.6M40.1 29.6h1.6M46.2 29.6h1.6M67.5 29.6h1.6M76.7 29.6h1.6M78.2 29.6h1.6M93.4 29.6h1.6M94.9 29.6h1.6M99.5 29.6h1.6M58.4 31h1.6M81.2 31h1.6M96.4 31h1.6M104.1 31h1.6M110.1 31h1.6M40.1 32.4h1.6M44.7 32.4h1.6M73.6 32.4h1.6M90.4 32.4h1.6M96.4 32.4h1.6M108.6 32.4h1.6M43.2 33.8h1.6M55.3 33.8h1.6M66 33.8h1.6M72.1 33.8h1.6M75.1 33.8h1.6M76.7 33.8h1.6M78.2 33.8h1.6M79.7 33.8h1.6M85.8 33.8h1.6M99.5 33.8h1.6M111.7 33.8h1.6M119.3 33.8h1.6M41.6 35.2h1.6M49.3 35.2h1.6M52.3 35.2h1.6M79.7 35.2h1.6M84.3 35.2h1.6M85.8 35.2h1.6M111.7 35.2h1.6M40.1 36.6h1.6M46.2 36.6h1.6M72.1 36.6h1.6M76.7 36.6h1.6M78.2 36.6h1.6M49.3 38h1.6M76.7 38h1.6M78.2 38h1.6M85.8 38h1.6M96.4 38h1.6M99.5 38h1.6M107.1 38h1.6M119.3 38h1.6M50.8 39.4h1.6M73.6 39.4h1.6M81.2 39.4h1.6M82.7 39.4h1.6M90.4 39.4h1.6M91.9 39.4h1.6M99.5 39.4h1.6M44.7 40.8h1.6M49.3 40.8h1.6M50.8 40.8h1.6M52.3 40.8h1.6M58.4 40.8h1.6M76.7 40.8h1.6M85.8 40.8h1.6M87.3 40.8h1.6M117.8 40.8h1.6M119.3 40.8h1.6M46.2 42.2h1.6M47.7 42.2h1.6M49.3 42.2h1.6M50.8 42.2h1.6M53.8 42.2h1.6M72.1 42.2h1.6M81.2 42.2h1.6M87.3 42.2h1.6M88.8 42.2h1.6M96.4 42.2h1.6M104.1 42.2h1.6M110.1 42.2h1.6M111.7 42.2h1.6M117.8 42.2h1.6M41.6 43.6h1.6M44.7 43.6h1.6M75.1 43.6h1.6M82.7 43.6h1.6M94.9 43.6h1.6M96.4 43.6h1.6M108.6 43.6h1.6M110.1 43.6h1.6M43.2 45h1.6M47.7 45h1.6M81.2 45h1.6M82.7 45h1.6M84.3 45h1.6M105.6 45h1.6M114.7 45h1.6M38.6 46.4h1.6M52.3 46.4h1.6M58.4 46.4h1.6M61.4 46.4h1.6M67.5 46.4h1.6M82.7 46.4h1.6M84.3 46.4h1.6M105.6 46.4h1.6M41.6 47.8h1.6M56.9 47.8h1.6M64.5 47.8h1.6M76.7 47.8h1.6M78.2 47.8h1.6M87.3 47.8h1.6M91.9 47.8h1.6M99.5 47.8h1.6M102.5 47.8h1.6M111.7 47.8h1.6M113.2 47.8h1.6M119.3 47.8h1.6M47.7 49.2h1.6M58.4 49.2h1.6M69 49.2h1.6M78.2 49.2h1.6M81.2 49.2h1.6M85.8 49.2h1.6M113.2 49.2h1.6M38.6 50.6h1.6M53.8 50.6h1.6M58.4 50.6h1.6M61.4 50.6h1.6M63 50.6h1.6M66 50.6h1.6M73.6 50.6h1.6M78.2 50.6h1.6M87.3 50.6h1.6M88.8 50.6h1.6M98 50.6h1.6M99.5 50.6h1.6M113.2 50.6h1.6M53.8 52h1.6M58.4 52h1.6M61.4 52h1.6M63 52h1.6M73.6 52h1.6M75.1 52h1.6M76.7 52h1.6M88.8 52h1.6M94.9 52h1.6M96.4 52h1.6M98 52h1.6M99.5 52h1.6M101 52h1.6M104.1 52h1.6M38.6 53.5h1.6M43.2 53.5h1.6M44.7 53.5h1.6M50.8 53.5h1.6M52.3 53.5h1.6M58.4 53.5h1.6M59.9 53.5h1.6M88.8 53.5h1.6M93.4 53.5h1.6M94.9 53.5h1.6M107.1 53.5h1.6M43.2 54.9h1.6M50.8 54.9h1.6M55.3 54.9h1.6M64.5 54.9h1.6M67.5 54.9h1.6M70.6 54.9h1.6M75.1 54.9h1.6M102.5 54.9h1.6M105.6 54.9h1.6M111.7 54.9h1.6M114.7 54.9h1.6M44.7 56.3h1.6M64.5 56.3h1.6M69 56.3h1.6M70.6 56.3h1.6M72.1 56.3h1.6M88.8 56.3h1.6M91.9 56.3h1.6M59.9 57.7h1.6M70.6 57.7h1.6M72.1 57.7h1.6M96.4 57.7h1.6M99.5 57.7h1.6M114.7 57.7h1.6M46.2 59.1h1.6M52.3 59.1h1.6M58.4 59.1h1.6M59.9 59.1h1.6M63 59.1h1.6M66 59.1h1.6M75.1 59.1h1.6M91.9 59.1h1.6M94.9 59.1h1.6M110.1 59.1h1.6M111.7 59.1h1.6M119.3 59.1h1.6M47.7 60.5h1.6M66 60.5h1.6M67.5 60.5h1.6M73.6 60.5h1.6M76.7 60.5h1.6M96.4 60.5h1.6M105.6 60.5h1.6M67.5 61.9h1.6M76.7 61.9h1.6M78.2 61.9h1.6M79.7 61.9h1.6M82.7 61.9h1.6M98 61.9h1.6M107.1 61.9h1.6M108.6 61.9h1.6M46.2 63.3h1.6M56.9 63.3h1.6M64.5 63.3h1.6M104.1 63.3h1.6M111.7 63.3h1.6M40.1 64.7h1.6M52.3 64.7h1.6M64.5 64.7h1.6M73.6 64.7h1.6M82.7 64.7h1.6M85.8 64.7h1.6M96.4 64.7h1.6M41.6 66.1h1.6M47.7 66.1h1.6M53.8 66.1h1.6M79.7 66.1h1.6M98 66.1h1.6M116.2 66.1h1.6M119.3 66.1h1.6M47.7 67.5h1.6M49.3 67.5h1.6M53.8 67.5h1.6M69 67.5h1.6M78.2 67.5h1.6M79.7 67.5h1.6M85.8 67.5h1.6M96.4 67.5h1.6M99.5 67.5h1.6M102.5 67.5h1.6M119.3 67.5h1.6M38.6 68.9h1.6M52.3 68.9h1.6M55.3 68.9h1.6M56.9 68.9h1.6M63 68.9h1.6M67.5 68.9h1.6M69 68.9h1.6M78.2 68.9h1.6M84.3 68.9h1.6M87.3 68.9h1.6M91.9 68.9h1.6M94.9 68.9h1.6M116.2 68.9h1.6M119.3 68.9h1.6M46.2 70.3h1.6M76.7 70.3h1.6M78.2 70.3h1.6M88.8 70.3h1.6M93.4 70.3h1.6M99.5 70.3h1.6M41.6 71.7h1.6M43.2 71.7h1.6M52.3 71.7h1.6M53.8 71.7h1.6M58.4 71.7h1.6M63 71.7h1.6M64.5 71.7h1.6M73.6 71.7h1.6M76.7 71.7h1.6M78.2 71.7h1.6M84.3 71.7h1.6M94.9 71.7h1.6M98 71.7h1.6M104.1 71.7h1.6M105.6 71.7h1.6M78.2 73.1h1.6M105.6 73.1h1.6M46.2 74.5h1.6M73.6 74.5h1.6M81.2 74.5h1.6M94.9 74.5h1.6M41.6 75.9h1.6M46.2 75.9h1.6M47.7 75.9h1.6M55.3 75.9h1.6M67.5 75.9h1.6M78.2 75.9h1.6M90.4 75.9h1.6M99.5 75.9h1.6M113.2 75.9h1.6M117.8 75.9h1.6M70.6 77.3h1.6M72.1 77.3h1.6M81.2 77.3h1.6M87.3 77.3h1.6M99.5 77.3h1.6M101 77.3h1.6M63 78.8h1.6M79.7 78.8h1.6M88.8 78.8h1.6M110.1 78.8h1.6M114.7 78.8h1.6M44.7 80.2h1.6M56.9 80.2h1.6M69 80.2h1.6M88.8 80.2h1.6M55.3 81.6h1.6M67.5 81.6h1.6M69 81.6h1.6M85.8 81.6h1.6M107.1 81.6h1.6M111.7 81.6h1.6M113.2 81.6h1.6M114.7 81.6h1.6M52.3 83h1.6M58.4 83h1.6M59.9 83h1.6M67.5 83h1.6M73.6 83h1.6M81.2 83h1.6M85.8 83h1.6M90.4 83h1.6M110.1 83h1.6M50.8 84.4h1.6M52.3 84.4h1.6M73.6 84.4h1.6M75.1 84.4h1.6M76.7 84.4h1.6M104.1 84.4h1.6M110.1 84.4h1.6M49.3 85.8h1.6M70.6 85.8h1.6M81.2 85.8h1.6M84.3 85.8h1.6M107.1 85.8h1.6M110.1 85.8h1.6M119.3 85.8h1.6M93.4 87.2h1.6M96.4 87.2h1.6M43.2 88.6h1.6M49.3 88.6h1.6M50.8 88.6h1.6M66 88.6h1.6M67.5 88.6h1.6M104.1 88.6h1.6M46.2 90h1.6M58.4 90h1.6M63 90h1.6M66 90h1.6M73.6 90h1.6M85.8 90h1.6M93.4 90h1.6M94.9 90h1.6M96.4 90h1.6M114.7 90h1.6" stroke="#fcd2d2" stroke-width="1.5"/>
<path d="M75.1 15.5h1.6M84.3 15.5h1.6M88.8 15.5h1.6M91.9 15.5h1.6M101 15.5h1.6M58.4 16.9h1.6M59.9 16.9h1.6M75.1 16.9h1.6M79.7 16.9h1.6M93.4 16.9h1.6M94.9 16.9h1.6M96.4 16.9h1.6M107.1 16.9h1.6M119.3 16.9h1.6M58.4 18.3h1.6M61.4 18.3h1.6M67.5 18.3h1.6M70.6 18.3h1.6M85.8 18.3h1.6M102.5 18.3h1.6M52.3 19.7h1.6M53.8 19.7h1.6M55.3 19.7h1.6M56.9 19.7h1.6M85.8 19.7h1.6M87.3 19.7h1.6M93.4 19.7h1.6M107.1 19.7h1.6M114.7 19.7h1.6M116.2 19.7h1.6M50.8 21.1h1.6M52.3 21.1h1.6M53.8 21.1h1.6M81.2 21.1h1.6M66 22.5h1.6M78.2 22.5h1.6M88.8 22.5h1.6M91.9 22.5h1.6M101 22.5h1.6M105.6 22.5h1.6M108.6 22.5h1.6M63 23.9h1.6M82.7 23.9h1.6M84.3 23.9h1.6M98 23.9h1.6M102.5 23.9h1.6M117.8 23.9h1.6M58.4 25.3h1.6M61.4 25.3h1.6M76.7 25.3h1.6M90.4 25.3h1.6M99.5 25.3h1.6M110.1 25.3h1.6M44.7 26.7h1.6M55.3 26.7h1.6M69 26.7h1.6M78.2 26.7h1.6M88.8 26.7h1.6M91.9 26.7h1.6M93.4 26.7h1.6M96.4 26.7h1.6M99.5 26.7h1.6M101 26.7h1.6M102.5 26.7h1.6M43.2 28.2h1.6M44.7 28.2h1.6M64.5 28.2h1.6M75.1 28.2h1.6M82.7 28.2h1.6M88.8 28.2h1.6M93.4 28.2h1.6M94.9 28.2h1.6M104.1 28.2h1.6M43.2 29.6h1.6M44.7 29.6h1.6M66 29.6h1.6M88.8 29.6h1.6M101 29.6h1.6M110.1 29.6h1.6M43.2 31h1.6M50.8 31h1.6M75.1 31h1.6M79.7 31h1.6M85.8 31h1.6M90.4 31h1.6M98 31h1.6M113.2 31h1.6M43.2 32.4h1.6M75.1 32.4h1.6M84.3 32.4h1.6M93.4 32.4h1.6M107.1 32.4h1.6M110.1 32.4h1.6M113.2 32.4h1.6M40.1 33.8h1.6M41.6 33.8h1.6M49.3 33.8h1.6M70.6 33.8h1.6M88.8 33.8h1.6M90.4 33.8h1.6M94.9 33.8h1.6M96.4 33.8h1.6M98 33.8h1.6M104.1 33.8h1.6M107.1 33.8h1.6M40.1 35.2h1.6M70.6 35.2h1.6M88.8 35.2h1.6M90.4 35.2h1.6M91.9 35.2h1.6M98 35.2h1.6M117.8 35.2h1.6M119.3 35.2h1.6M41.6 36.6h1.6M49.3 36.6h1.6M75.1 36.6h1.6M81.2 36.6h1.6M91.9 36.6h1.6M93.4 36.6h1.6M114.7 36.6h1.6M47.7 38h1.6M84.3 38h1.6M91.9 38h1.6M93.4 38h1.6M105.6 38h1.6M114.7 38h1.6M117.8 38h1.6M52.3 39.4h1.6M76.7 39.4h1.6M98 39.4h1.6M102.5 39.4h1.6M111.7 39.4h1.6M46.2 40.8h1.6M53.8 40.8h1.6M75.1 40.8h1.6M82.7 40.8h1.6M88.8 40.8h1.6M90.4 40.8h1.6M98 40.8h1.6M101 40.8h1.6M41.6 42.2h1.6M76.7 42.2h1.6M85.8 42.2h1.6M101 42.2h1.6M107.1 42.2h1.6M108.6 42.2h1.6M114.7 42.2h1.6M50.8 43.6h1.6M72.1 43.6h1.6M76.7 43.6h1.6M79.7 43.6h1.6M84.3 43.6h1.6M85.8 43.6h1.6M88.8 43.6h1.6M93.4 43.6h1.6M105.6 43.6h1.6M107.1 43.6h1.6M111.7 43.6h1.6M41.6 45h1.6M58.4 45h1.6M59.9 45h1.6M87.3 45h1.6M88.8 45h1.6M113.2 45h1.6M117.8 45h1.6M69 46.4h1.6M93.4 46.4h1.6M111.7 46.4h1.6M113.2 46.4h1.6M81.2 47.8h1.6M84.3 47.8h1.6M114.7 47.8h1.6M38.6 49.2h1.6M40.1 49.2h1.6M52.3 49.2h1.6M55.3 49.2h1.6M56.9 49.2h1.6M61.4 49.2h1.6M66 49.2h1.6M93.4 49.2h1.6M102.5 49.2h1.6M104.1 49.2h1.6M108.6 49.2h1.6M49.3 50.6h1.6M64.5 50.6h1.6M67.5 50.6h1.6M69 50.6h1.6M96.4 50.6h1.6M102.5 50.6h1.6M116.2 50.6h1.6M46.2 52h1.6M50.8 52h1.6M102.5 52h1.6M108.6 52h1.6M40.1 53.5h1.6M55.3 53.5h1.6M69 53.5h1.6M91.9 53.5h1.6M108.6 53.5h1.6M44.7 54.9h1.6M61.4 54.9h1.6M73.6 54.9h1.6M90.4 54.9h1.6M96.4 54.9h1.6M107.1 54.9h1.6M113.2 54.9h1.6M116.2 54.9h1.6M47.7 56.3h1.6M52.3 56.3h1.6M66 56.3h1.6M90.4 56.3h1.6M93.4 56.3h1.6M105.6 56.3h1.6M114.7 56.3h1.6M38.6 57.7h1.6M47.7 57.7h1.6M56.9 57.7h1.6M63 57.7h1.6M69 57.7h1.6M73.6 57.7h1.6M101 57.7h1.6M102.5 57.7h1.6M119.3 57.7h1.6M41.6 59.1h1.6M43.2 59.1h1.6M55.3 59.1h1.6M67.5 59.1h1.6M69 59.1h1.6M105.6 59.1h1.6M116.2 59.1h1.6M43.2 60.5h1.6M70.6 60.5h1.6M88.8 60.5h1.6M91.9 60.5h1.6M94.9 60.5h1.6M99.5 60.5h1.6M107.1 60.5h1.6M108.6 60.5h1.6M110.1 60.5h1.6M116.2 60.5h1.6M38.6 61.9h1.6M46.2 61.9h1.6M50.8 61.9h1.6M52.3 61.9h1.6M53.8 61.9h1.6M58.4 61.9h1.6M59.9 61.9h1.6M66 61.9h1.6M69 61.9h1.6M70.6 61.9h1.6M87.3 61.9h1.6M99.5 61.9h1.6M102.5 61.9h1.6M104.1 61.9h1.6M111.7 61.9h1.6M49.3 63.3h1.6M55.3 63.3h1.6M58.4 63.3h1.6M59.9 63.3h1.6M66 63.3h1.6M81.2 63.3h1.6M82.7 63.3h1.6M99.5 63.3h1.6M101 63.3h1.6M108.6 63.3h1.6M113.2 63.3h1.6M114.7 63.3h1.6M117.8 63.3h1.6M38.6 64.7h1.6M46.2 64.7h1.6M50.8 64.7h1.6M59.9 64.7h1.6M61.4 64.7h1.6M63 64.7h1.6M79.7 64.7h1.6M87.3 64.7h1.6M98 64.7h1.6M113.2 64.7h1.6M40.1 66.1h1.6M43.2 66.1h1.6M50.8 66.1h1.6M52.3 66.1h1.6M56.9 66.1h1.6M61.4 66.1h1.6M63 66.1h1.6M69 66.1h1.6M72.1 66.1h1.6M75.1 66.1h1.6M82.7 66.1h1.6M107.1 66.1h1.6M40.1 67.5h1.6M52.3 67.5h1.6M58.4 67.5h1.6M87.3 67.5h1.6M98 67.5h1.6M111.7 67.5h1.6M113.2 67.5h1.6M40.1 68.9h1.6M50.8 68.9h1.6M58.4 68.9h1.6M76.7 68.9h1.6M81.2 68.9h1.6M113.2 68.9h1.6M117.8 68.9h1.6M47.7 70.3h1.6M55.3 70.3h1.6M58.4 70.3h1.6M59.9 70.3h1.6M64.5 70.3h1.6M66 70.3h1.6M91.9 70.3h1.6M94.9 70.3h1.6M104.1 70.3h1.6M108.6 70.3h1.6M113.2 70.3h1.6M114.7 70.3h1.6M116.2 70.3h1.6M119.3 70.3h1.6M49.3 71.7h1.6M50.8 71.7h1.6M87.3 71.7h1.6M88.8 71.7h1.6M90.4 71.7h1.6M111.7 71.7h1.6M116.2 71.7h1.6M38.6 73.1h1.6M46.2 73.1h1.6M50.8 73.1h1.6M53.8 73.1h1.6M66 73.1h1.6M67.5 73.1h1.6M84.3 73.1h1.6M90.4 73.1h1.6M114.7 73.1h1.6M41.6 74.5h1.6M47.7 74.5h1.6M50.8 74.5h1.6M64.5 74.5h1.6M75.1 74.5h1.6M76.7 74.5h1.6M78.2 74.5h1.6M84.3 74.5h1.6M88.8 74.5h1.6M52.3 75.9h1.6M58.4 75.9h1.6M75.1 75.9h1.6M88.8 75.9h1.6M98 75.9h1.6M111.7 75.9h1.6M46.2 77.3h1.6M63 77.3h1.6M69 77.3h1.6M82.7 77.3h1.6M85.8 77.3h1.6M40.1 78.8h1.6M43.2 78.8h1.6M56.9 78.8h1.6M58.4 78.8h1.6M67.5 78.8h1.6M69 78.8h1.6M81.2 78.8h1.6M87.3 78.8h1.6M93.4 78.8h1.6M46.2 80.2h1.6M67.5 80.2h1.6M75.1 80.2h1.6M78.2 80.2h1.6M79.7 80.2h1.6M87.3 80.2h1.6M90.4 80.2h1.6M98 80.2h1.6M119.3 80.2h1.6M49.3 81.6h1.6M53.8 81.6h1.6M56.9 81.6h1.6M87.3 81.6h1.6M64.5 83h1.6M69 83h1.6M72.1 83h1.6M88.8 83h1.6M94.9 83h1.6M99.5 83h1.6M104.1 83h1.6M55.3 84.4h1.6M56.9 84.4h1.6M70.6 84.4h1.6M72.1 84.4h1.6M81.2 84.4h1.6M90.4 84.4h1.6M91.9 84.4h1.6M94.9 84.4h1.6M96.4 84.4h1.6M98 84.4h1.6M43.2 85.8h1.6M61.4 85.8h1.6M63 85.8h1.6M67.5 85.8h1.6M73.6 85.8h1.6M82.7 85.8h1.6M90.4 85.8h1.6M98 85.8h1.6M101 85.8h1.6M43.2 87.2h1.6M76.7 87.2h1.6M81.2 87.2h1.6M85.8 87.2h1.6M87.3 87.2h1.6M98 87.2h1.6M99.5 87.2h1.6M47.7 88.6h1.6M59.9 88.6h1.6M63 88.6h1.6M70.6 88.6h1.6M90.4 88.6h1.6M96.4 88.6h1.6M40.1 90h1.6M59.9 90h1.6M84.3 90h1.6M98 90h1.6M108.6 90h1.6" stroke="#d2d2ee" stroke-width="1.5"/>
<path d="M78.2 15.5h1.6M64.5 23.9h1.6M81.2 23.9h1.6M107.1 23.9h1.6M102.5 28.2h1.6M119.3 29.6h1.6M87.3 32.4h1.6M116.2 35.2h1.6M81.2 38h1.6M98 38h1.6M47.7 39.4h1.6M79.7 42.2h1.6M87.3 46.4h1.6M38.6 52h1.6M110.1 52h1.6M67.5 53.5h1.6M90.4 53.5h1.6M47.7 54.9h1.6M63 54.9h1.6M56.9 60.5h1.6M72.1 60.5h1.6M79.7 63.3h1.6M63 70.3h1.6M52.3 74.5h1.6M113.2 74.5h1.6M47.7 78.8h1.6M78.2 81.6h1.6M102.5 84.4h1.6M59.9 87.2h1.6M53.8 90h1.6" stroke="#c4c4e0" stroke-width="1.5"/>
<path d="M82.7 15.5h1.6M87.3 15.5h1.6M76.7 32.4h1.6M73.6 33.8h1.6M114.7 33.8h1.6M70.6 43.6h1.6M69 45h1.6M116.2 45h1.6M58.4 47.8h1.6M56.9 50.6h1.6M105.6 50.6h1.6M38.6 56.3h1.6M96.4 56.3h1.6M38.6 60.5h1.6M119.3 60.5h1.6M82.7 68.9h1.6M113.2 71.7h1.6M110.1 75.9h1.6M76.7 77.3h1.6M104.1 81.6h1.6M99.5 84.4h1.6M58.4 85.8h1.6M70.6 87.2h1.6M87.3 90h1.6" stroke="#c4d2ee" stroke-width="1.5"/>
<path d="M98 15.5h1.6M107.1 15.5h1.6M111.7 15.5h1.6M69 16.9h1.6M102.5 16.9h1.6M81.2 18.3h1.6M82.7 18.3h1.6M117.8 18.3h1.6M76.7 19.7h1.6M96.4 19.7h1.6M108.6 19.7h1.6M55.3 21.1h1.6M93.4 21.1h1.6M110.1 21.1h1.6M114.7 21.1h1.6M81.2 22.5h1.6M107.1 22.5h1.6M111.7 22.5h1.6M113.2 22.5h1.6M79.7 23.9h1.6M110.1 23.9h1.6M113.2 23.9h1.6M64.5 25.3h1.6M84.3 25.3h1.6M91.9 25.3h1.6M108.6 25.3h1.6M111.7 25.3h1.6M113.2 25.3h1.6M85.8 26.7h1.6M105.6 26.7h1.6M107.1 26.7h1.6M108.6 26.7h1.6M110.1 26.7h1.6M116.2 26.7h1.6M67.5 28.2h1.6M78.2 28.2h1.6M90.4 28.2h1.6M87.3 29.6h1.6M44.7 31h1.6M69 31h1.6M78.2 31h1.6M84.3 31h1.6M78.2 32.4h1.6M88.8 32.4h1.6M91.9 32.4h1.6M114.7 32.4h1.6M117.8 32.4h1.6M102.5 33.8h1.6M108.6 35.2h1.6M110.1 35.2h1.6M90.4 36.6h1.6M116.2 36.6h1.6M119.3 36.6h1.6M102.5 38h1.6M110.1 38h1.6M116.2 38h1.6M49.3 39.4h1.6M94.9 39.4h1.6M119.3 39.4h1.6M108.6 40.8h1.6M52.3 42.2h1.6M91.9 42.2h1.6M93.4 42.2h1.6M40.1 43.6h1.6M55.3 43.6h1.6M113.2 43.6h1.6M101 45h1.6M101 49.2h1.6M43.2 50.6h1.6M117.8 50.6h1.6M52.3 52h1.6M55.3 52h1.6M56.9 52h1.6M116.2 52h1.6M47.7 53.5h1.6M113.2 53.5h1.6M41.6 54.9h1.6M46.2 54.9h1.6M41.6 56.3h1.6M113.2 56.3h1.6M49.3 57.7h1.6M55.3 57.7h1.6M111.7 57.7h1.6M50.8 59.1h1.6M53.8 60.5h1.6M56.9 61.9h1.6M119.3 61.9h1.6M52.3 63.3h1.6M61.4 63.3h1.6M49.3 64.7h1.6M56.9 64.7h1.6M67.5 64.7h1.6M104.1 64.7h1.6M107.1 64.7h1.6M117.8 64.7h1.6M44.7 66.1h1.6M67.5 66.1h1.6M64.5 67.5h1.6M43.2 68.9h1.6M38.6 70.3h1.6M111.7 70.3h1.6M70.6 73.1h1.6M75.1 73.1h1.6M113.2 73.1h1.6M40.1 74.5h1.6M58.4 74.5h1.6M63 74.5h1.6M117.8 74.5h1.6M91.9 75.9h1.6M50.8 77.3h1.6M38.6 78.8h1.6M46.2 78.8h1.6M50.8 78.8h1.6M91.9 78.8h1.6M43.2 80.2h1.6M49.3 80.2h1.6M50.8 80.2h1.6M59.9 80.2h1.6M66 80.2h1.6M44.7 81.6h1.6M47.7 81.6h1.6M50.8 81.6h1.6M59.9 81.6h1.6M63 81.6h1.6M38.6 83h1.6M46.2 83h1.6M49.3 83h1.6M84.3 83h1.6M98 83h1.6M46.2 84.4h1.6M47.7 84.4h1.6M49.3 84.4h1.6M69 84.4h1.6M79.7 84.4h1.6M82.7 84.4h1.6M101 84.4h1.6M44.7 85.8h1.6M56.9 85.8h1.6M50.8 87.2h1.6M61.4 87.2h1.6M63 87.2h1.6M78.2 87.2h1.6M41.6 88.6h1.6M56.9 88.6h1.6M76.7 88.6h1.6M91.9 88.6h1.6M102.5 88.6h1.6M61.4 90h1.6M64.5 90h1.6M88.8 90h1.6" stroke="#a8a8e0" stroke-width="1.5"/>
<path d="M104.1 15.5h1.6M63 18.3h1.6M79.7 18.3h1.6M67.5 19.7h1.6M82.7 19.7h1.6M56.9 23.9h1.6M98 25.3h1.6M116.2 25.3h1.6M58.4 26.7h1.6M117.8 28.2h1.6M84.3 29.6h1.6M72.1 31h1.6M101 31h1.6M47.7 32.4h1.6M50.8 33.8h1.6M93.4 33.8h1.6M81.2 35.2h1.6M99.5 35.2h1.6M41.6 38h1.6M64.5 38h1.6M90.4 38h1.6M101 38h1.6M63 39.4h1.6M79.7 39.4h1.6M84.3 39.4h1.6M107.1 40.8h1.6M43.2 42.2h1.6M98 42.2h1.6M81.2 43.6h1.6M55.3 46.4h1.6M79.7 46.4h1.6M108.6 46.4h1.6M84.3 49.2h1.6M90.4 50.6h1.6M108.6 50.6h1.6M41.6 53.5h1.6M64.5 53.5h1.6M72.1 53.5h1.6M59.9 54.9h1.6M69 54.9h1.6M82.7 54.9h1.6M43.2 56.3h1.6M81.2 56.3h1.6M119.3 56.3h1.6M53.8 57.7h1.6M64.5 57.7h1.6M75.1 57.7h1.6M101 59.1h1.6M107.1 59.1h1.6M108.6 59.1h1.6M63 63.3h1.6M76.7 63.3h1.6M107.1 63.3h1.6M58.4 66.1h1.6M108.6 67.5h1.6M49.3 70.3h1.6M67.5 70.3h1.6M59.9 71.7h1.6M55.3 73.1h1.6M63 73.1h1.6M85.8 73.1h1.6M38.6 75.9h1.6M66 78.8h1.6M85.8 78.8h1.6M90.4 78.8h1.6M72.1 80.2h1.6M76.7 80.2h1.6M85.8 80.2h1.6M94.9 80.2h1.6M117.8 80.2h1.6M49.3 87.2h1.6M52.3 88.6h1.6M108.6 88.6h1.6M82.7 90h1.6" stroke="#e0e0ee" stroke-width="1.5"/>
<path d="M108.6 15.5h1.6M114.7 15.5h1.6M116.2 15.5h1.6M85.8 21.1h1.6M105.6 21.1h1.6M119.3 21.1h1.6M56.9 25.3h1.6M105.6 25.3h1.6M119.3 25.3h1.6M107.1 28.2h1.6M119.3 28.2h1.6M105.6 29.6h1.6M114.7 29.6h1.6M107.1 31h1.6M49.3 32.4h1.6M105.6 36.6h1.6M107.1 39.4h1.6M117.8 39.4h1.6M104.1 46.4h1.6M91.9 50.6h1.6M94.9 50.6h1.6M114.7 50.6h1.6M110.1 56.3h1.6M111.7 56.3h1.6M44.7 59.1h1.6M76.7 64.7h1.6M76.7 67.5h1.6M116.2 73.1h1.6M72.1 75.9h1.6M44.7 77.3h1.6M49.3 77.3h1.6M53.8 77.3h1.6M61.4 77.3h1.6M52.3 78.8h1.6M55.3 78.8h1.6M64.5 78.8h1.6M38.6 80.2h1.6M82.7 81.6h1.6M82.7 83h1.6M38.6 85.8h1.6M53.8 85.8h1.6M76.7 85.8h1.6M38.6 87.2h1.6M101 87.2h1.6M64.5 88.6h1.6M44.7 90h1.6M49.3 90h1.6M52.3 90h1.6" stroke="#9a9ae0" stroke-width="1.5"/>
<path d="M110.1 15.5h1.6M117.8 15.5h1.6M90.4 16.9h1.6M119.3 23.9h1.6M91.9 29.6h1.6M114.7 52h1.6M117.8 59.1h1.6M40.1 63.3h1.6M53.8 64.7h1.6M38.6 81.6h1.6M78.2 85.8h1.6M38.6 88.6h1.6M85.8 88.6h1.6M47.7 90h1.6" stroke="#a8b6e0" stroke-width="1.5"/>
<path d="M113.2 15.5h1.6M104.1 16.9h1.6M101 18.3h1.6M76.7 21.1h1.6M101 21.1h1.6M107.1 25.3h1.6M107.1 29.6h1.6M114.7 35.2h1.6M88.8 36.6h1.6M119.3 43.6h1.6M44.7 50.6h1.6M61.4 61.9h1.6M41.6 73.1h1.6M44.7 73.1h1.6M40.1 75.9h1.6M49.3 78.8h1.6M53.8 78.8h1.6M38.6 84.4h1.6M59.9 85.8h1.6M69 90h1.6" stroke="#9a9ad2" stroke-width="1.5"/>
<path d="M41.6 16.9h1.6M40.1 18.3h1.6M47.7 21.1h1.6M59.9 21.1h1.6M63 21.1h1.6M59.9 22.5h1.6M70.6 22.5h1.6M44.7 23.9h1.6M75.1 25.3h1.6M61.4 26.7h1.6M53.8 28.2h1.6M52.3 29.6h1.6M63 31h1.6M61.4 32.4h1.6M63 32.4h1.6M67.5 32.4h1.6M67.5 33.8h1.6M44.7 35.2h1.6M46.2 35.2h1.6M61.4 35.2h1.6M66 35.2h1.6M67.5 35.2h1.6M50.8 36.6h1.6M56.9 36.6h1.6M59.9 36.6h1.6M67.5 36.6h1.6M69 36.6h1.6M44.7 38h1.6M55.3 38h1.6M56.9 38h1.6M69 38h1.6M70.6 38h1.6M72.1 38h1.6M59.9 40.8h1.6M69 40.8h1.6M56.9 42.2h1.6M58.4 42.2h1.6M59.9 42.2h1.6M61.4 42.2h1.6M69 42.2h1.6M61.4 43.6h1.6M63 43.6h1.6M66 43.6h1.6M67.5 43.6h1.6M46.2 45h1.6M63 45h1.6M94.9 45h1.6M63 46.4h1.6M49.3 49.2h1.6M82.7 50.6h1.6M76.7 56.3h1.6M87.3 59.1h1.6M85.8 60.5h1.6M98 60.5h1.6M96.4 61.9h1.6M99.5 66.1h1.6M101 66.1h1.6M70.6 67.5h1.6M88.8 68.9h1.6M87.3 70.3h1.6M93.4 71.7h1.6M93.4 73.1h1.6M102.5 73.1h1.6M101 74.5h1.6M108.6 74.5h1.6M108.6 77.3h1.6M102.5 80.2h1.6M105.6 80.2h1.6M113.2 80.2h1.6M119.3 81.6h1.6M108.6 84.4h1.6M110.1 90h1.6" stroke="#ee8c8c" stroke-width="1.5"/>
<path d="M63 16.9h1.6M102.5 25.3h1.6M64.5 32.4h1.6M72.1 35.2h1.6M40.1 38h1.6M56.9 39.4h1.6M59.9 46.4h1.6M117.8 47.8h1.6M87.3 57.7h1.6M84.3 60.5h1.6M49.3 74.5h1.6M73.6 88.6h1.6" stroke="#ee9aa8" stroke-width="1.5"/>
<path d="M78.2 16.9h1.6M93.4 31h1.6M104.1 36.6h1.6M113.2 40.8h1.6M40.1 52h1.6M82.7 53.5h1.6M79.7 56.3h1.6M91.9 57.7h1.6M84.3 64.7h1.6M55.3 66.1h1.6M61.4 75.9h1.6M66 84.4h1.6" stroke="#d2e0ee" stroke-width="1.5"/>
<path d="M84.3 16.9h1.6M88.8 19.7h1.6M96.4 22.5h1.6M90.4 29.6h1.6M110.1 33.8h1.6M78.2 39.4h1.6M101 39.4h1.6M119.3 46.4h1.6M64.5 52h1.6M40.1 57.7h1.6M43.2 61.9h1.6M53.8 63.3h1.6M46.2 68.9h1.6M64.5 73.1h1.6M114.7 74.5h1.6M119.3 74.5h1.6M58.4 81.6h1.6M102.5 85.8h1.6M72.1 90h1.6M102.5 90h1.6" stroke="#fce0e0" stroke-width="1.5"/>
<path d="M113.2 16.9h1.6M114.7 16.9h1.6M78.2 18.3h1.6M108.6 18.3h1.6M110.1 18.3h1.6M84.3 21.1h1.6M96.4 21.1h1.6M98 21.1h1.6M111.7 21.1h1.6M110.1 22.5h1.6M105.6 28.2h1.6M108.6 28.2h1.6M76.7 31h1.6M105.6 31h1.6M105.6 39.4h1.6M113.2 39.4h1.6M114.7 39.4h1.6M55.3 50.6h1.6M93.4 50.6h1.6M41.6 52h1.6M44.7 57.7h1.6M76.7 66.1h1.6M102.5 66.1h1.6M44.7 68.9h1.6M44.7 70.3h1.6M93.4 74.5h1.6M52.3 77.3h1.6M55.3 77.3h1.6M64.5 77.3h1.6M41.6 80.2h1.6M52.3 80.2h1.6M41.6 81.6h1.6M46.2 81.6h1.6M44.7 83h1.6M40.1 84.4h1.6M64.5 84.4h1.6M40.1 85.8h1.6M64.5 85.8h1.6" stroke="#8c8cd2" stroke-width="1.5"/>
<path d="M47.7 18.3h1.6M41.6 23.9h1.6M104.1 29.6h1.6M53.8 75.9h1.6" stroke="#ee8c9a" stroke-width="1.5"/>
<path d="M84.3 18.3h1.6M85.8 23.9h1.6M82.7 31h1.6M55.3 56.3h1.6M99.5 56.3h1.6M41.6 57.7h1.6M47.7 59.1h1.6M90.4 59.1h1.6M85.8 63.3h1.6M82.7 71.7h1.6" stroke="#fcd2e0" stroke-width="1.5"/>
<path d="M113.2 18.3h1.6M102.5 19.7h1.6M108.6 39.4h1.6M107.1 67.5h1.6M43.2 74.5h1.6M94.9 78.8h1.6M64.5 80.2h1.6M41.6 84.4h1.6" stroke="#8c9ad2" stroke-width="1.5"/>
<path d="M69 19.7h1.6M64.5 29.6h1.6M94.9 31h1.6M104.1 38h1.6M53.8 39.4h1.6M43.2 43.6h1.6M79.7 47.8h1.6M73.6 53.5h1.6M91.9 54.9h1.6M81.2 64.7h1.6M55.3 67.5h1.6M63 75.9h1.6M119.3 75.9h1.6M104.1 90h1.6" stroke="#fcc4d2" stroke-width="1.5"/>
<path d="M72.1 19.7h1.6M43.2 46.4h1.6M101 56.3h1.6M93.4 61.9h1.6M88.8 66.1h1.6M82.7 73.1h1.6M110.1 74.5h1.6M102.5 81.6h1.6" stroke="#fcc4c4" stroke-width="1.5"/>
<path d="M91.9 19.7h1.6M88.8 25.3h1.6M82.7 38h1.6M98 45h1.6M107.1 46.4h1.6M114.7 46.4h1.6M93.4 47.8h1.6M94.9 54.9h1.6M63 56.3h1.6M49.3 61.9h1.6M43.2 64.7h1.6M73.6 66.1h1.6M111.7 66.1h1.6M81.2 67.5h1.6M70.6 70.3h1.6M107.1 71.7h1.6M110.1 71.7h1.6M116.2 75.9h1.6M72.1 78.8h1.6M99.5 78.8h1.6M99.5 81.6h1.6M93.4 83h1.6M119.3 83h1.6M72.1 85.8h1.6M104.1 87.2h1.6M111.7 90h1.6" stroke="#eeb6c4" stroke-width="1.5"/>
<path d="M98 19.7h1.6M102.5 21.1h1.6M101 32.4h1.6M105.6 33.8h1.6M85.8 39.4h1.6M110.1 46.4h1.6M110.1 50.6h1.6M64.5 59.1h1.6M96.4 59.1h1.6M85.8 68.9h1.6M99.5 68.9h1.6M104.1 68.9h1.6M43.2 70.3h1.6M96.4 71.7h1.6M56.9 73.1h1.6M44.7 74.5h1.6M96.4 75.9h1.6M58.4 77.3h1.6M72.1 81.6h1.6M76.7 81.6h1.6" stroke="#b6c4e0" stroke-width="1.5"/>
<path d="M49.3 23.9h1.6M47.7 25.3h1.6M70.6 25.3h1.6M102.5 40.8h1.6M49.3 45h1.6M102.5 70.3h1.6M66 74.5h1.6M98 74.5h1.6" stroke="#eea8b6" stroke-width="1.5"/>
<line x1="40.5" y1="93.6" x2="119.8" y2="93.6" stroke="#999" stroke-width="0.5" />
<circle cx="40.5" cy="93.4" r="0.85"/><circle cx="119.8" cy="93.4" r="0.85"/>
<text x="40.4" y="101.2" font-size="8.3" textLength="80" lengthAdjust="spacingAndGlyphs">1K genes (in 10 samples)</text>
<rect x="128.5" y="37.7" width="2.4" height="30.5" fill="url(#cbrb)" />
<text x="126.9" y="53.4" font-size="6.8" text-anchor="middle" textLength="34.5" lengthAdjust="spacingAndGlyphs" transform="rotate(-90 126.9 53.4)">Pearson's R</text>
<text x="132.2" y="41" font-size="6.8">1</text>
<text x="132.2" y="55.6" font-size="6.8">0</text>
<text x="131.3" y="71.2" font-size="6.6">−1</text>
<text x="139.5" y="71.2" font-size="7.2" textLength="32.7" lengthAdjust="spacingAndGlyphs">for maximal</text>
<text x="142.3" y="48.7" font-size="7" textLength="28.2" lengthAdjust="spacingAndGlyphs">MCbiclust</text>
<line x1="142.3" y1="53.4" x2="166" y2="53.4" stroke="#000" stroke-width="1.0" />
<path d="M173 53.4L165 50.6L165 56.2Z"/>
<text x="136.2" y="64" font-size="7" textLength="39.5" lengthAdjust="spacingAndGlyphs">greedy search</text>
<text x="141.2" y="79.4" font-size="7" textLength="29.6" lengthAdjust="spacingAndGlyphs">correlation</text>
<rect x="200.8" y="15.2" width="46.6" height="43.6" fill="#cf2634" />
<rect x="247.4" y="58.8" width="35.4" height="32.2" fill="#cf2634" />
<rect x="247.4" y="15.2" width="35.4" height="43.6" fill="#3540a6" />
<rect x="200.8" y="58.8" width="46.6" height="32.2" fill="#3540a6" />
<rect x="200.8" y="15.2" width="82" height="75.8" filter="url(#fwn)"/>
<path d="M220.2 15.2V91M200.8 75.9H282.8M262 15.2V91M200.8 72.2H282.8" stroke="#fff" stroke-opacity="0.16" stroke-width="0.6"/>
<path d="M208.5 15.2V91M200.8 48H282.8M250.6 15.2V91M200.8 88.8H282.8" stroke="#fff" stroke-opacity="0.16" stroke-width="0.9"/>
<path d="M213.9 15.2V91M200.8 70.9H282.8M208.2 15.2V91M200.8 65.3H282.8M207.8 15.2V91M200.8 29.9H282.8M258.7 15.2V91M200.8 19.1H282.8M217.6 15.2V91M200.8 71.4H282.8M232 15.2V91M200.8 84.1H282.8" stroke="#fff" stroke-opacity="0.12" stroke-width="0.9"/>
<path d="M232.9 15.2V91M200.8 54.4H282.8M261.6 15.2V91M200.8 69.9H282.8M241.2 15.2V91M200.8 79.6H282.8" stroke="#fff" stroke-opacity="0.05" stroke-width="0.6"/>
<path d="M248.9 15.2V91M200.8 71.1H282.8M251.1 15.2V91M200.8 30.1H282.8M276.3 15.2V91M200.8 30.8H282.8M217 15.2V91M200.8 52.7H282.8M208.4 15.2V91M200.8 56.6H282.8" stroke="#fff" stroke-opacity="0.08" stroke-width="0.9"/>
<path d="M224.1 15.2V91M200.8 64.4H282.8M272.8 15.2V91M200.8 23H282.8" stroke="#fff" stroke-opacity="0.16" stroke-width="1.3"/>
<path d="M224.8 15.2V91M200.8 15.3H282.8M217.8 15.2V91M200.8 63H282.8M233.1 15.2V91M200.8 51.6H282.8M223.4 15.2V91M200.8 57.8H282.8M265.6 15.2V91M200.8 19.3H282.8M258.9 15.2V91M200.8 31.4H282.8M233.1 15.2V91M200.8 16.7H282.8" stroke="#fff" stroke-opacity="0.12" stroke-width="1.3"/>
<path d="M225.3 15.2V91M200.8 39H282.8M248.8 15.2V91M200.8 50.9H282.8M203.3 15.2V91M200.8 68.8H282.8M268 15.2V91M200.8 47.7H282.8M255.7 15.2V91M200.8 54.8H282.8M247 15.2V91M200.8 71.6H282.8" stroke="#fff" stroke-opacity="0.05" stroke-width="1.3"/>
<path d="M268.9 15.2V91M200.8 65.1H282.8M271.2 15.2V91M200.8 24.8H282.8M240.2 15.2V91M200.8 55.8H282.8" stroke="#fff" stroke-opacity="0.12" stroke-width="0.6"/>
<path d="M258.1 15.2V91M200.8 37.3H282.8" stroke="#fff" stroke-opacity="0.08" stroke-width="0.6"/>
<path d="M214.7 15.2V91M200.8 88.3H282.8M231 15.2V91M200.8 59.9H282.8" stroke="#fff" stroke-opacity="0.08" stroke-width="1.3"/>
<path d="M229.4 15.2V91M200.8 41.6H282.8" stroke="#fff" stroke-opacity="0.05" stroke-width="0.9"/>
<ellipse cx="236" cy="47" rx="16" ry="14" fill="url(#a2l)"/>
<path d="M200.8 15.2L282.8 91" stroke="#fff" stroke-opacity="0.25" stroke-width="0.8"/>
<path d="M177.2 53.8V64.6M177.2 53.8H192.3M177.2 64.6H200M192.3 50.8V58.5M192.3 50.8H200M192.3 58.5H200" stroke="#888" stroke-width="0.35" fill="none"/>
<path d="M198.1 15.6L200.8 15.6M198.4 16.7L200.8 16.7M197.6 15.6L197.6 16.7M197.6 15.6L198.1 15.6M197.6 16.7L198.4 16.7M198.3 18.2L200.8 18.2M198.5 19.4L200.8 19.4M198.8 20.4L200.8 20.4M197.7 19.4L197.7 20.4M197.7 19.4L198.5 19.4M197.7 20.4L198.8 20.4M196.8 18.2L196.8 19.9M196.8 18.2L198.3 18.2M196.8 19.9L197.7 19.9M196.2 16.2L196.2 19.1M196.2 16.2L197.6 16.2M196.2 19.1L196.8 19.1M198.3 21.6L200.8 21.6M198.7 22.6L200.8 22.6M197.4 21.6L197.4 22.6M197.4 21.6L198.3 21.6M197.4 22.6L198.7 22.6M198.8 23.6L200.8 23.6M198.8 24.7L200.8 24.7M198.4 23.6L198.4 24.7M198.4 23.6L198.8 23.6M198.4 24.7L198.8 24.7M198.8 25.9L200.8 25.9M198.8 26.9L200.8 26.9M198.6 25.9L198.6 26.9M198.6 25.9L198.8 25.9M198.6 26.9L198.8 26.9M197.1 24.1L197.1 26.4M197.1 24.1L198.4 24.1M197.1 26.4L198.6 26.4M196.2 22.1L196.2 25.3M196.2 22.1L197.4 22.1M196.2 25.3L197.1 25.3M195.2 17.6L195.2 23.7M195.2 17.6L196.2 17.6M195.2 23.7L196.2 23.7M198.3 28L200.8 28M198.8 29.1L200.8 29.1M197.6 28L197.6 29.1M197.6 28L198.3 28M197.6 29.1L198.8 29.1M197.7 30.2L200.8 30.2M196.8 28.6L196.8 30.2M196.8 28.6L197.6 28.6M196.8 30.2L197.7 30.2M197 31.6L200.8 31.6M195.7 29.4L195.7 31.6M195.7 29.4L196.8 29.4M195.7 31.6L197 31.6M194.5 20.7L194.5 30.5M194.5 20.7L195.2 20.7M194.5 30.5L195.7 30.5M198 33L200.8 33M198.4 34.4L200.8 34.4M197.3 33L197.3 34.4M197.3 33L198 33M197.3 34.4L198.4 34.4M196.9 36L200.8 36M195.9 33.7L195.9 36M195.9 33.7L197.3 33.7M195.9 36L196.9 36M198.3 37L200.8 37M198.6 38.1L200.8 38.1M197.8 37L197.8 38.1M197.8 37L198.3 37M197.8 38.1L198.6 38.1M198.2 39.1L200.8 39.1M198.1 40.1L200.8 40.1M197.2 39.1L197.2 40.1M197.2 39.1L198.2 39.1M197.2 40.1L198.1 40.1M196.5 37.6L196.5 39.6M196.5 37.6L197.8 37.6M196.5 39.6L197.2 39.6M198.8 42L200.8 42M198.1 44.1L200.8 44.1M197.4 42L197.4 44.1M197.4 42L198.8 42M197.4 44.1L198.1 44.1M195.9 38.6L195.9 43.1M195.9 38.6L196.5 38.6M195.9 43.1L197.4 43.1M194.6 34.8L194.6 40.8M194.6 34.8L195.9 34.8M194.6 40.8L195.9 40.8M193.9 25.6L193.9 37.8M193.9 25.6L194.5 25.6M193.9 37.8L194.6 37.8M196.5 45.3L200.8 45.3M196.5 46.7L200.8 46.7M195.5 45.3L195.5 46.7M195.5 45.3L196.5 45.3M195.5 46.7L196.5 46.7M197 48.3L200.8 48.3M197.2 49.4L200.8 49.4M197.3 50.3L200.8 50.3M196.7 49.4L196.7 50.3M196.7 49.4L197.2 49.4M196.7 50.3L197.3 50.3M195.8 48.3L195.8 49.9M195.8 48.3L197 48.3M195.8 49.9L196.7 49.9M194.9 46L194.9 49.1M194.9 46L195.5 46M194.9 49.1L195.8 49.1M198.4 51.3L200.8 51.3M198.5 52.4L200.8 52.4M197.9 51.3L197.9 52.4M197.9 51.3L198.4 51.3M197.9 52.4L198.5 52.4M198.8 53.6L200.8 53.6M198.8 54.7L200.8 54.7M198.2 53.6L198.2 54.7M198.2 53.6L198.8 53.6M198.2 54.7L198.8 54.7M196.6 51.8L196.6 54.1M196.6 51.8L197.9 51.8M196.6 54.1L198.2 54.1M198.8 55.8L200.8 55.8M198.8 56.8L200.8 56.8M198.6 55.8L198.6 56.8M198.6 55.8L198.8 55.8M198.6 56.8L198.8 56.8M198.8 57.5L200.8 57.5M198.8 58.6L200.8 58.6M197.6 57.5L197.6 58.6M197.6 57.5L198.8 57.5M197.6 58.6L198.8 58.6M197.1 56.3L197.1 58M197.1 56.3L198.6 56.3M197.1 58L197.6 58M195.7 53L195.7 57.2M195.7 53L196.6 53M195.7 57.2L197.1 57.2M194.3 47.6L194.3 55.1M194.3 47.6L194.9 47.6M194.3 55.1L195.7 55.1M198.1 60.3L200.8 60.3M198.1 61.8L200.8 61.8M197.1 60.3L197.1 61.8M197.1 60.3L198.1 60.3M197.1 61.8L198.1 61.8M196.7 63.3L200.8 63.3M196.1 61.1L196.1 63.3M196.1 61.1L197.1 61.1M196.1 63.3L196.7 63.3M196.3 64.4L200.8 64.4M196.8 65.4L200.8 65.4M195.7 64.4L195.7 65.4M195.7 64.4L196.3 64.4M195.7 65.4L196.8 65.4M195 62.2L195 64.9M195 62.2L196.1 62.2M195 64.9L195.7 64.9M193.6 51.3L193.6 63.5M193.6 51.3L194.3 51.3M193.6 63.5L195 63.5M198 66.6L200.8 66.6M198.8 67.8L200.8 67.8M198.8 68.8L200.8 68.8M197.6 67.8L197.6 68.8M197.6 67.8L198.8 67.8M197.6 68.8L198.8 68.8M197 66.6L197 68.3M197 66.6L198 66.6M197 68.3L197.6 68.3M197.7 69.8L200.8 69.8M198.8 70.9L200.8 70.9M198.8 72.2L200.8 72.2M197.8 70.9L197.8 72.2M197.8 70.9L198.8 70.9M197.8 72.2L198.8 72.2M196.8 69.8L196.8 71.5M196.8 69.8L197.7 69.8M196.8 71.5L197.8 71.5M196.1 67.5L196.1 70.7M196.1 67.5L197 67.5M196.1 70.7L196.8 70.7M198.2 73.6L200.8 73.6M198.4 74.8L200.8 74.8M197.1 73.6L197.1 74.8M197.1 73.6L198.2 73.6M197.1 74.8L198.4 74.8M197.1 76.2L200.8 76.2M197.7 77.5L200.8 77.5M196.5 76.2L196.5 77.5M196.5 76.2L197.1 76.2M196.5 77.5L197.7 77.5M195.8 74.2L195.8 76.9M195.8 74.2L197.1 74.2M195.8 76.9L196.5 76.9M194.8 69.1L194.8 75.5M194.8 69.1L196.1 69.1M194.8 75.5L195.8 75.5M198.8 79.1L200.8 79.1M198.8 80.6L200.8 80.6M198.8 79.1L198.8 80.6M198.8 79.1L198.8 79.1M198.8 80.6L198.8 80.6M198.8 81.9L200.8 81.9M198.8 83.3L200.8 83.3M198.1 81.9L198.1 83.3M198.1 81.9L198.8 81.9M198.1 83.3L198.8 83.3M197.2 79.8L197.2 82.6M197.2 79.8L198.8 79.8M197.2 82.6L198.1 82.6M198.7 84.5L200.8 84.5M198 85.9L200.8 85.9M197.3 84.5L197.3 85.9M197.3 84.5L198.7 84.5M197.3 85.9L198 85.9M196.5 81.2L196.5 85.2M196.5 81.2L197.2 81.2M196.5 85.2L197.3 85.2M198.8 87L200.8 87M198.8 88L200.8 88M198.2 87L198.2 88M198.2 87L198.8 87M198.2 88L198.8 88M198.8 89.4L200.8 89.4M198.8 90.6L200.8 90.6M198.1 89.4L198.1 90.6M198.1 89.4L198.8 89.4M198.1 90.6L198.8 90.6M196.7 87.5L196.7 90M196.7 87.5L198.2 87.5M196.7 90L198.1 90M195.2 83.2L195.2 88.7M195.2 83.2L196.5 83.2M195.2 88.7L196.7 88.7M194.2 72.3L194.2 86M194.2 72.3L194.8 72.3M194.2 86L195.2 86M192.9 57.4L192.9 79.1M192.9 57.4L193.6 57.4M192.9 79.1L194.2 79.1M192.3 31.7L192.3 68.3M192.3 31.7L193.9 31.7M192.3 68.3L192.9 68.3" stroke="#999" stroke-width="0.2" fill="none"/>
<rect x="199.6" y="15.2" width="1.2" height="75.8" fill="#333" />
<line x1="202" y1="93.9" x2="281.3" y2="93.9" stroke="#999" stroke-width="0.5" />
<circle cx="202" cy="93.8" r="0.85"/><circle cx="281.3" cy="93.8" r="0.85"/>
<text x="207.4" y="101.5" font-size="8.2" textLength="72.6" lengthAdjust="spacingAndGlyphs">1K genes (in 10 samples)</text>
<text x="183" y="11.2" font-size="7.8" textLength="117.3" lengthAdjust="spacingAndGlyphs">bicluster genes in top correlating samples</text>
<rect x="290.9" y="37.2" width="2.5" height="31.5" fill="url(#cbrb)" />
<text x="289.3" y="53.2" font-size="6.8" text-anchor="middle" textLength="34.5" lengthAdjust="spacingAndGlyphs" transform="rotate(-90 289.3 53.2)">Pearson's R</text>
<text x="295.3" y="40.5" font-size="6.8">1</text>
<text x="295.3" y="55.6" font-size="6.8">0</text>
<text x="294.5" y="71.2" font-size="6.8">−1</text>
<line x1="304" y1="32.3" x2="311.5" y2="32.3" stroke="#000" stroke-width="1.0" />
<path d="M316.5 32.3L310.5 30L310.5 34.6Z"/>
<line x1="304" y1="78.5" x2="311.5" y2="78.5" stroke="#000" stroke-width="1.0" />
<path d="M316.5 78.5L310.5 76.2L310.5 80.8Z"/>
<rect x="325.7" y="15.7" width="32.5" height="31.6" fill="#cf2634" />
<rect x="358.2" y="15.7" width="23.3" height="31.6" fill="#3540a6" />
<rect x="325.7" y="15.7" width="55.8" height="31.6" filter="url(#fwn)"/>
<path d="M370.8 15.7V47.3M325.7 32H381.5M329.1 15.7V47.3M325.7 33.3H381.5M374.4 15.7V47.3M325.7 16.3H381.5" stroke="#fff" stroke-opacity="0.12" stroke-width="1.3"/>
<path d="M328.7 15.7V47.3M325.7 27.8H381.5M367.1 15.7V47.3M325.7 37H381.5" stroke="#fff" stroke-opacity="0.12" stroke-width="0.6"/>
<path d="M328.2 15.7V47.3M325.7 17.2H381.5M354 15.7V47.3M325.7 23.2H381.5M378 15.7V47.3M325.7 33.3H381.5" stroke="#fff" stroke-opacity="0.12" stroke-width="0.9"/>
<path d="M362.1 15.7V47.3M325.7 23.1H381.5" stroke="#fff" stroke-opacity="0.05" stroke-width="1.3"/>
<path d="M380.1 15.7V47.3M325.7 44.1H381.5M337 15.7V47.3M325.7 26H381.5M331.7 15.7V47.3M325.7 37.6H381.5" stroke="#fff" stroke-opacity="0.08" stroke-width="0.9"/>
<path d="M347.6 15.7V47.3M325.7 31.3H381.5M325.8 15.7V47.3M325.7 31.6H381.5M346.2 15.7V47.3M325.7 45.8H381.5M351.6 15.7V47.3M325.7 22.7H381.5" stroke="#fff" stroke-opacity="0.16" stroke-width="1.3"/>
<path d="M374.8 15.7V47.3M325.7 17.7H381.5M343.5 15.7V47.3M325.7 41H381.5M377.8 15.7V47.3M325.7 18.4H381.5" stroke="#fff" stroke-opacity="0.16" stroke-width="0.6"/>
<path d="M374.3 15.7V47.3M325.7 22.9H381.5M343.4 15.7V47.3M325.7 20.4H381.5M350.7 15.7V47.3M325.7 40.9H381.5" stroke="#fff" stroke-opacity="0.08" stroke-width="1.3"/>
<path d="M346.7 15.7V47.3M325.7 40.9H381.5M365.5 15.7V47.3M325.7 35.1H381.5" stroke="#fff" stroke-opacity="0.16" stroke-width="0.9"/>
<path d="M347.5 15.7V47.3M325.7 40.9H381.5" stroke="#fff" stroke-opacity="0.05" stroke-width="0.6"/>
<rect x="325.7" y="67.4" width="32.5" height="23.8" fill="#3540a6" />
<rect x="358.2" y="67.4" width="23.3" height="23.8" fill="#cf2634" />
<rect x="325.7" y="67.4" width="55.8" height="23.8" filter="url(#fwn)"/>
<path d="M344.9 67.4V91.2M325.7 76.2H381.5M343.1 67.4V91.2M325.7 88.4H381.5" stroke="#fff" stroke-opacity="0.08" stroke-width="0.9"/>
<path d="M380.8 67.4V91.2M325.7 82.5H381.5M362.2 67.4V91.2M325.7 81.5H381.5" stroke="#fff" stroke-opacity="0.12" stroke-width="0.9"/>
<path d="M344.1 67.4V91.2M325.7 83.6H381.5M333.5 67.4V91.2M325.7 77.9H381.5M360.9 67.4V91.2M325.7 76.9H381.5" stroke="#fff" stroke-opacity="0.08" stroke-width="1.3"/>
<path d="M328.6 67.4V91.2M325.7 87.6H381.5M374.1 67.4V91.2M325.7 87.1H381.5M339.8 67.4V91.2M325.7 87.4H381.5M341 67.4V91.2M325.7 78.2H381.5" stroke="#fff" stroke-opacity="0.08" stroke-width="0.6"/>
<path d="M380.3 67.4V91.2M325.7 87.1H381.5M336.1 67.4V91.2M325.7 79.2H381.5" stroke="#fff" stroke-opacity="0.16" stroke-width="0.6"/>
<path d="M328.4 67.4V91.2M325.7 72.3H381.5M355.8 67.4V91.2M325.7 69.9H381.5M351 67.4V91.2M325.7 80.2H381.5M329 67.4V91.2M325.7 73.1H381.5M370.3 67.4V91.2M325.7 90.6H381.5" stroke="#fff" stroke-opacity="0.16" stroke-width="1.3"/>
<path d="M349.8 67.4V91.2M325.7 82.3H381.5M341.1 67.4V91.2M325.7 88.7H381.5M350.1 67.4V91.2M325.7 67.5H381.5" stroke="#fff" stroke-opacity="0.12" stroke-width="1.3"/>
<path d="M343.5 67.4V91.2M325.7 77.3H381.5M356 67.4V91.2M325.7 88.1H381.5" stroke="#fff" stroke-opacity="0.05" stroke-width="0.9"/>
<path d="M350.8 67.4V91.2M325.7 90.9H381.5" stroke="#fff" stroke-opacity="0.05" stroke-width="0.6"/>
<path d="M368.5 67.4V91.2M325.7 80.1H381.5" stroke="#fff" stroke-opacity="0.05" stroke-width="1.3"/>
<text x="352.7" y="12.5" font-size="7.6" text-anchor="middle" textLength="55" lengthAdjust="spacingAndGlyphs">expression patterns</text>
<line x1="328" y1="93.8" x2="381.2" y2="93.8" stroke="#999" stroke-width="0.5" />
<circle cx="328" cy="93.7" r="0.85"/><circle cx="381.2" cy="93.7" r="0.85"/>
<text x="332.7" y="99.9" font-size="8.0" textLength="43" lengthAdjust="spacingAndGlyphs">bicluster genes</text>
<path d="M342.3 50.6L344.9 54.2H343.4 V61.2H344.9 L342.3 64.8L339.7 61.2H341.2 V54.2H339.7 Z" fill="#fff" stroke="#777" stroke-width="0.5"/>
<path d="M370.2 50.6L372.8 54.2H371.3 V61.2H372.8 L370.2 64.8L367.6 61.2H369.1 V54.2H367.6 Z" fill="#fff" stroke="#777" stroke-width="0.5"/>
<text x="357.3" y="59.8" font-size="7" text-anchor="middle" textLength="17.5" lengthAdjust="spacingAndGlyphs">switch</text>
<text x="394" y="19.8" font-size="7.3" text-anchor="middle">UF</text>
<text x="394" y="28.3" font-size="7.3" text-anchor="middle" textLength="16.5" lengthAdjust="spacingAndGlyphs">group</text>
<text x="394" y="36.4" font-size="7.3" text-anchor="middle" textLength="20" lengthAdjust="spacingAndGlyphs">pattern</text>
<text x="394" y="71.8" font-size="7.3" text-anchor="middle">LF</text>
<text x="394" y="80.3" font-size="7.3" text-anchor="middle" textLength="16.5" lengthAdjust="spacingAndGlyphs">group</text>
<text x="394" y="88.4" font-size="7.3" text-anchor="middle" textLength="20" lengthAdjust="spacingAndGlyphs">pattern</text>
<line x1="409.6" y1="51.7" x2="417.5" y2="51.7" stroke="#000" stroke-width="1.0" />
<path d="M422 51.7L416.5 49.4L416.5 54Z"/>
<text x="459.4" y="28.4" font-size="7.3" text-anchor="middle" textLength="51.5" lengthAdjust="spacingAndGlyphs">extended patterns</text>
<line x1="444" y1="35" x2="444" y2="60" stroke="#000" stroke-width="0.9" />
<path d="M444 65.6L441.8 59.8L446.2 59.8Z"/>
<line x1="474.2" y1="35" x2="474.2" y2="46" stroke="#000" stroke-width="0.9" />
<path d="M474.2 51.3L472 45.5L476.4 45.5Z"/>
<text x="476" y="59" font-size="7.3" text-anchor="middle" textLength="50" lengthAdjust="spacingAndGlyphs">whole sample set</text>
<text x="476" y="67.2" font-size="7.3" text-anchor="middle" textLength="19.5" lengthAdjust="spacingAndGlyphs">Fig. 1B</text>
<text x="448.7" y="73.3" font-size="7.3" text-anchor="middle" textLength="57" lengthAdjust="spacingAndGlyphs">whole transcriptome</text>
<text x="448.7" y="81.2" font-size="7.3" text-anchor="middle" textLength="20" lengthAdjust="spacingAndGlyphs">Fig. 1G</text>
<text x=".6" y="115.7" font-size="12.4" font-weight="bold">B</text>
<text x="12.5" y="116" font-size="7.8" textLength="30.5" lengthAdjust="spacingAndGlyphs">bicluster:</text>
<path d="M130.8 127.4L40.2 167.8M40.2 167.8L130.8 208.2" stroke="#bbb" stroke-width="0.6" fill="none"/>
<path d="M96.4 148.9h0M116.7 162.2h0M127.5 166.5h0M136.2 159.5h0M137.6 155.2h0M121.8 152h0M79.4 158.2h0M111.1 168.7h0M132.3 153.6h0M124 167.3h0M99.8 172.5h0M54.3 149.7h0M125.3 155.5h0M140.3 169.4h0M129.8 162h0" stroke="#3b7fc6" stroke-width="2.4" stroke-linecap="round"/>
<path d="M51.8 190.2h0M44.4 183.8h0M124.4 169.8h0M73.9 162.1h0M70.5 156.4h0M40.9 199.7h0M49.1 185.5h0M43.8 190.7h0M54.6 178.1h0M95.8 169.9h0M52.8 176.4h0M107.7 175h0" stroke="#c9c9c9" stroke-width="2.4" stroke-linecap="round"/>
<path d="M102 166.3h0M95.7 176.9h0M77.6 147.9h0M79.7 159.4h0M69 152.8h0M76.3 155.1h0M145.9 163.3h0M45.4 143.6h0M49.1 151.8h0M125.4 169.6h0M64.9 144.2h0M54.6 154.3h0M77.2 156.1h0M154.2 165.6h0M74.3 157.2h0M59.3 169h0M73.5 178.9h0M62.3 155h0M45.7 138.1h0M53 149.8h0M42.9 135.3h0M55.1 140.1h0M70.3 154.5h0M77.8 157h0M103.2 167.8h0M101.2 172h0M141.1 163.7h0M157.8 161.3h0M68.3 157.7h0M57.1 132.3h0M122.8 159.9h0M62.8 183.3h0M103.2 160.7h0M53.8 146.1h0M57.9 157.3h0M76.4 158.7h0M78.1 161.6h0M61.4 147.3h0M71.3 156.6h0M133.6 151.5h0M122.3 167.1h0M66.1 154.2h0M110.7 158.6h0M67.2 157.8h0M59.5 148.5h0M126.6 166h0" stroke="#45a948" stroke-width="2.4" stroke-linecap="round"/>
<path d="M97.9 163.7h0M127.1 167.8h0M104.3 177.6h0M76.5 150.3h0M79.2 166.4h0M88.6 180.5h0M40.3 200.2h0M96.3 177.7h0M63.6 176.5h0M123.6 166.5h0M78.5 174.5h0M75.5 180.5h0M113.7 156.3h0M47.3 186.3h0M138.2 184.1h0M123.1 157.7h0M82.6 177.8h0M65.8 176.5h0M158.8 165h0M116.4 174.1h0M84 166.7h0M42.7 192.8h0M83.2 173.7h0M45.7 187.1h0M83.2 172.5h0M143.6 157.4h0M61.1 181.8h0M104.7 182.9h0M96 165.9h0M150.5 159.8h0M108.2 160.8h0M91.4 158h0M51.3 185h0M84.1 169.8h0M106.8 168.2h0M89 173.9h0M91.6 152.2h0M90.6 175.2h0M86.3 173h0M97.4 168.1h0M95.9 170.8h0M53.9 200.7h0M56.8 183.3h0M82.7 173.8h0M66.9 170.5h0M110.2 163h0M110.2 154.5h0M43.5 204.1h0M46.2 188.4h0M123.6 167.8h0M96.5 176.8h0M62.8 144.8h0M102.4 174.6h0M46.5 189.8h0M121.3 169.2h0M151.5 169h0M93.1 162.4h0M124.6 165.3h0M142 173.2h0M46.4 192.1h0M43.7 193.9h0M64 169.9h0M40.6 201.7h0M69.1 182.8h0M89.6 163.7h0M157.6 158.1h0" stroke="#f9c24d" stroke-width="2.4" stroke-linecap="round"/>
<path d="M154 156h0M146.3 176.4h0M87.8 203h0M149.8 164.2h0M86.2 175.3h0M134 170h0M121.2 184.2h0M116.9 156.4h0M132.5 160.2h0M93.3 169.4h0M85.3 173h0M146.9 158.2h0M134.2 167h0M140.1 169.7h0M123.2 182.6h0M158.8 155.9h0M150.3 166.5h0M149.5 166.7h0M152.3 165.2h0M121.7 159.2h0M131 159.2h0M156.7 167.3h0M89.5 175.3h0M140.4 162.9h0M135.8 158.2h0M146.2 159.8h0M156.7 171.8h0M152.3 155.6h0M146.5 158.6h0M100.8 165.4h0M113.1 161.1h0" stroke="#e8262b" stroke-width="2.4" stroke-linecap="round"/>
<path d="M113.3 158.8h0M143.2 157.7h0M154.5 165.3h0M153.7 170.3h0M40.3 193.9h0M110.3 156.8h0M133.2 175.7h0M104.3 154.5h0M148 169.7h0M61 183.6h0M121 164.9h0M89 155.7h0M81.9 156.5h0M101.6 164.9h0M124.9 161.9h0M101.6 174.8h0M55.9 178.1h0M61.5 146.6h0M42.6 190h0M75.9 178.8h0M97.3 152.5h0M60.6 145.9h0M99 161.6h0M44.7 193.7h0M123.2 171.9h0M98.6 173.1h0M56 186.2h0M145.6 167.8h0M142.4 170.6h0M85.5 162.8h0M138.5 163.3h0M97.2 163.9h0M59.8 186.3h0M104.9 155.3h0M90 173.7h0M58.5 192.8h0M104.4 163.4h0M60.5 151.8h0M91.6 160.1h0M117.5 172.4h0M66.4 175h0M97.2 172.1h0M118.6 155.1h0M134.6 178.2h0M113.5 165.9h0M92 171.4h0M86.2 180h0M149.2 164.3h0M68.4 184.8h0M150.5 165.2h0M46.9 189h0M55.5 189.3h0M88 182.3h0M87.9 175h0M133.6 169.8h0M72 178.2h0" stroke="#f9c24d" stroke-width="2.4" stroke-linecap="round"/>
<path d="M57.7 148.4h0M68.3 156.8h0M71.9 177.6h0M101.6 153.2h0M106.9 157.3h0M122.9 164.2h0M114.8 155.4h0M42.1 137.3h0M66.7 159.7h0M100.2 164.2h0M42.6 143.2h0M83.2 161.8h0M126.3 161.2h0M93.2 148.9h0M153.4 168.4h0M42.4 137.5h0M131.6 161.7h0M62.8 153.3h0M52.7 153.6h0M112.7 172.9h0M139.3 160.9h0M100.7 154.7h0M104.8 168.9h0M71.9 150.2h0M70.2 152.3h0M76.6 161.7h0M56.6 148.1h0M58.1 147.2h0M80.6 156.9h0M111.8 159.1h0M116.4 174.2h0M156.8 180.9h0M99.1 159h0M135.5 167.4h0M123.4 168.2h0M131.6 150.5h0M114.1 158.5h0M129.4 166.2h0M123.3 161.8h0M43.5 140.8h0M53.5 146.8h0M68.3 150.4h0M125.9 157.4h0M48.7 147.6h0M78.8 162.6h0M65.6 153.5h0M40.4 143.6h0M47.5 141.3h0M95.6 161.2h0M113.3 160.3h0M71.7 156.9h0M135.3 172.5h0M119.8 169h0M105.7 165.9h0M53.8 147.9h0M122.9 153.4h0" stroke="#45a948" stroke-width="2.4" stroke-linecap="round"/>
<path d="M50.4 153.7h0M46.5 188h0M47.3 181.9h0M45.4 187.3h0M54.4 176.5h0M114.8 176.8h0M51.7 192.3h0M105.2 158.4h0M53 189.4h0M101.6 166.2h0M46.6 188.2h0" stroke="#c9c9c9" stroke-width="2.4" stroke-linecap="round"/>
<path d="M111.9 172.1h0M71.1 173.5h0M53 148.8h0M140.4 168.2h0M133.9 162.3h0M127.2 150.7h0M93.4 167.1h0M119.8 156.4h0M135.6 176.6h0M110.5 160.7h0M86.3 169.2h0M152.9 164h0M136 158.5h0M131.1 163h0M123.6 171.2h0M93.2 151.4h0M137.2 154.2h0M57.3 147.1h0M88.1 170.1h0M132.2 166.7h0M95.7 166.5h0M127.5 158.1h0M159.8 163.6h0M133.2 157.3h0" stroke="#3b7fc6" stroke-width="2.4" stroke-linecap="round"/>
<path d="M133.9 151.9h0M107.7 171.8h0M126.1 161.5h0M157.9 160.6h0M77.4 203h0M115.9 157.2h0M147.4 176.3h0M147.2 159.9h0M133.9 174.2h0M134 173.7h0M155.9 156.8h0M160.1 153.5h0M114.3 187.3h0M150.2 164.4h0M159.6 163h0M137.6 160.3h0M135.2 169.2h0M140.5 170.4h0M146.9 152.6h0M129.8 162.8h0M122.2 186.7h0M147.2 166.1h0M69.7 158.8h0" stroke="#e8262b" stroke-width="2.4" stroke-linecap="round"/>
<path d="M107.7 160.8h0M73.1 149.4h0M131.4 165.8h0M57.8 146.5h0M122.3 155h0M48.4 154.7h0M85.6 162h0M80.7 152.3h0M123.5 165h0M51.8 151.3h0M109.1 165.1h0M74.9 144.6h0M52.1 138.3h0M126.2 171h0M128.8 153.5h0M111.5 162.8h0M144.7 165.2h0M72.1 147.2h0M122.7 163.3h0M72 179.4h0M133.5 164.6h0M82.4 155.1h0M117.7 160.6h0M102 157.3h0M116.6 170.2h0M157.8 166.1h0M125 159.6h0M110.5 152.6h0M109.7 152.9h0M146.4 159.9h0M133.7 160.3h0M138.5 160.7h0M139.4 173.3h0M54.2 139.5h0M82.6 159.8h0M74.7 156.3h0M122.4 174.9h0M112.8 160.1h0M94.5 175.2h0M117.5 170.9h0M92.3 168.3h0M86.2 164.6h0M54.3 157.6h0M148.4 163.4h0M150.7 168.2h0M53.5 154.1h0M53.5 147.4h0M47.8 140.6h0M148.1 169.1h0M60.3 185.9h0M59.5 137.9h0" stroke="#45a948" stroke-width="2.4" stroke-linecap="round"/>
<path d="M151.7 166.5h0M158.4 168.6h0M123.7 155.5h0M148.1 161.2h0M132.8 164.6h0M107 177h0M161 161.4h0M156.3 175.2h0M142.3 165.5h0M61.2 202.7h0M132.4 184h0M144.6 156.3h0M134.8 167h0M135.3 157.1h0M131.6 167.7h0M100.1 159.8h0M160.1 166.5h0M76.7 168.9h0M134 155.6h0M142.9 165.1h0M77.8 199.1h0M158.6 165.5h0M101.5 179.3h0M101 161.2h0M139.3 154.8h0M143.9 172.2h0M115.1 182.1h0" stroke="#e8262b" stroke-width="2.4" stroke-linecap="round"/>
<path d="M104.4 158h0M119.4 167.9h0M151.7 157.8h0M134 158.9h0M148 159.8h0M124.3 168.3h0M122.9 156.3h0M49.6 145.2h0M109.6 155.4h0M139.7 167.3h0M104.4 155.3h0M66.7 164.1h0M66.2 156.4h0M122.7 160.8h0M116.5 175.7h0M90.9 150.5h0M69.2 179.1h0M119 164.4h0M112.8 155.7h0M125.8 155.9h0M90.2 153.5h0M143.8 164.9h0M152.6 169.6h0M111.8 154h0M103.3 152.6h0M138.5 162.4h0" stroke="#3b7fc6" stroke-width="2.4" stroke-linecap="round"/>
<path d="M51.5 198.8h0M49.6 191.7h0M108.5 158.4h0M62.1 183h0M47.3 197.2h0M70.5 163.5h0" stroke="#c9c9c9" stroke-width="2.4" stroke-linecap="round"/>
<path d="M102.5 160.5h0M138.8 158.6h0M145.8 163.2h0M125.7 168.1h0M102.2 162.5h0M77.4 168.4h0M91.6 158h0M41.2 140.6h0M151.3 168.9h0M136.5 159.5h0M92.3 162.6h0M151.8 166.7h0M147.6 175.1h0M57.9 186.7h0M83 169.7h0M70.2 170.5h0M84.2 176.2h0M99.3 159.7h0M45.4 185.2h0M115.1 168.7h0M83.9 174.1h0M77.3 167.3h0M109.7 166.2h0M95.6 151.9h0M124.7 156.9h0M59.8 184.8h0M69.6 179.1h0M114.8 168.1h0M67 182.1h0M108.7 167.1h0M129.1 158.5h0M120 174.8h0M52.3 194.1h0M83.8 175.1h0M50.9 149.2h0M44.5 198.2h0M105.3 168.2h0M74.7 156.6h0M120.6 163.3h0M106.7 172.7h0M88.7 173.4h0M104.3 166.1h0M93.8 171.6h0M105.6 167.8h0M155.8 173.1h0M50.7 186.1h0M117.6 157.8h0M88.7 182.1h0M101.9 171.6h0M88 172.5h0M144.2 162.1h0M113.3 165.3h0M42.3 136.4h0M109.9 155.1h0M132.3 155.4h0M89.3 172.7h0M151.7 156.4h0M100 167.7h0M111 174.3h0M101.4 172.3h0" stroke="#f9c24d" stroke-width="2.4" stroke-linecap="round"/>
<path d="M54.9 147.6h0M68.9 179.6h0M75.5 181.9h0M95.6 177.4h0M57.7 152.6h0M97.3 175.9h0M57.2 179.9h0M74.2 170.3h0M100.9 171.1h0M111.3 174h0M155.8 164.8h0M49.5 188.5h0M152.6 160.1h0M59.7 177.5h0M113.6 175.7h0M118.4 163.9h0M58.1 189.7h0M146.3 168.8h0M73.8 175.7h0M40.9 199.1h0M96.7 157.7h0M99.5 176.2h0M56.5 190.4h0M126 167.6h0M142.4 171.9h0M130.6 170h0M151.1 163h0M47 191.7h0M61.3 187.2h0M90 176.2h0M100.9 177.9h0M73.6 149.7h0M123.1 160.7h0M44.3 196.2h0M114.4 169h0M127.8 160.1h0M113.6 170.3h0M76.1 172.4h0M114.5 170.6h0M100.8 166.1h0M139.7 160.2h0M118.7 177.3h0M102.1 174h0M91 173.4h0M72.1 180.3h0M121.9 165.7h0M104.6 168.2h0M53.5 153.3h0M82.8 168.6h0M97.6 148.9h0M154.9 163.6h0M99.2 170.5h0M71.3 181.8h0M130.6 164.9h0M68.5 189.7h0M47.8 197.8h0M124.6 162.8h0M121.6 167.9h0M117.2 176.2h0M95.3 169.5h0M43.4 193.4h0M90.9 173.3h0M129.3 167.9h0M49.4 189.3h0M58.3 178.3h0M120.1 175.5h0M80 162.6h0M104.1 160.6h0M82.1 174.9h0M125.9 165.1h0M111.9 175.5h0M47.9 188.7h0M76.3 173.5h0" stroke="#f9c24d" stroke-width="2.4" stroke-linecap="round"/>
<path d="M99.4 161.2h0M140.3 162h0M112.6 161.8h0M134.9 160.2h0M110.9 166.9h0M151 173.4h0M61.6 153.3h0M140.8 157.2h0M151 169.6h0M82 178h0M157 168.8h0M128.3 166.6h0M122.3 153.9h0M64 173.7h0M123 170.2h0" stroke="#3b7fc6" stroke-width="2.4" stroke-linecap="round"/>
<path d="M160.2 158.4h0M53.1 148.2h0M68.7 147.7h0M86.2 150.2h0M144.2 164.8h0M94.7 154.7h0M57.4 146.5h0M60.7 152.3h0M87.1 157.7h0M94.7 156.7h0M145.5 168.9h0M58.1 150.5h0M93.3 172.1h0M102.5 155.7h0M112.2 160.7h0M61.5 155.7h0M78.6 157.9h0M72.6 148.9h0M129.7 161.5h0M55 144.5h0M155.7 170.9h0M49.5 145.1h0M76.2 153.9h0M84.5 154.2h0M54.3 145.5h0M93 160.7h0M142.5 155.7h0M147.7 170.9h0M109.6 164.9h0M72.7 158.9h0M50.8 137.7h0M46.2 141.5h0M133.3 151.8h0M136.5 168.5h0M42.5 150.8h0M57.5 136.3h0M122.4 162.7h0M67.7 157.5h0M136.8 178.2h0M57.3 152.5h0M43.7 144.6h0M118.9 166.7h0M138.4 175.4h0M103.9 153.1h0M40.4 131.5h0M68.5 143.7h0M149.7 172.1h0M133.2 168.5h0M80.1 156.5h0M84.1 152h0" stroke="#45a948" stroke-width="2.4" stroke-linecap="round"/>
<path d="M122.2 169h0M50.8 183.6h0M56.5 189.3h0M120.5 169.5h0M56.1 190.4h0M49.7 196h0M118 162.1h0M47.6 190.9h0M52.5 185.6h0M44.3 190.3h0M87.1 170.5h0M49.5 200h0M49.2 186.9h0" stroke="#c9c9c9" stroke-width="2.4" stroke-linecap="round"/>
<path d="M74.2 157.4h0M104.3 165.9h0M98.1 171.9h0M41.3 198.2h0M157.7 164.4h0M64.9 182.6h0M158.6 167.6h0M129.7 165.5h0M68.3 159.1h0M156.8 164.9h0M155.9 166.1h0M103.7 180.7h0M119.6 162.1h0M91.4 197.9h0M146 170.2h0M132.1 153.8h0M124.2 168.3h0M135.3 158h0M155.1 165.2h0" stroke="#e8262b" stroke-width="2.4" stroke-linecap="round"/>
<path d="M50.8 149.2h0M54.1 157.4h0M90.5 174h0M77.7 163h0M133.6 171.8h0M118 167h0M144.5 179.2h0M129.4 156.7h0M112.4 154.3h0M70.3 160.1h0M90 154.9h0M73.4 148.9h0M142.7 157.7h0M123.5 151.3h0M137.7 165.4h0M153.7 155.5h0M152.1 156.5h0M70.4 165.2h0M71.9 161h0M111.2 159.9h0M147 176.3h0M108.9 151.2h0M141.1 182h0M113.3 163.5h0" stroke="#3b7fc6" stroke-width="2.4" stroke-linecap="round"/>
<path d="M133.9 168.6h0M62.5 181.3h0M124 164.3h0M58.4 190.8h0M142.6 163.6h0M133.7 179.8h0M89.6 176.6h0M104.2 170.5h0M49.1 196.6h0M131.2 163.4h0M103.4 161.2h0M111.7 179.3h0M148.9 165.3h0M103.2 172.9h0M104.8 164.6h0M139 167.3h0M150.9 164.8h0M103.6 175.1h0M97.1 174.1h0M90.6 167.8h0M79.5 176.2h0M113.7 180.5h0M110.4 173.7h0M61.7 183.4h0M155 159.3h0M93.2 176.8h0M94.9 169.7h0M154.3 164.6h0M100.7 175.1h0M99.4 171.6h0M78.8 170h0M122.1 165h0M84.9 171.1h0M41.4 188h0M113.6 177.5h0M98.6 171.2h0M134.5 170.3h0M93.9 169h0M116.3 170.2h0M108.8 170.9h0M154.5 160h0M151.7 171.6h0M99.9 174.7h0M87.5 180.4h0M98.7 172.5h0M119.6 171h0M144.6 171.5h0M91 171.2h0M155 163.4h0M151.4 174.1h0M98.9 166.2h0M91.9 177.2h0M45.1 193.7h0M115 175.3h0M133.5 167.2h0M67.6 181.4h0M121.5 173.7h0M88.3 179.3h0M42.7 130.9h0M61.4 172.9h0M130.6 163.4h0M53.7 191.3h0M96.4 173.4h0M85.7 172.9h0" stroke="#f9c24d" stroke-width="2.4" stroke-linecap="round"/>
<path d="M87.7 157h0M95.3 163.1h0M45.2 190.5h0M51.8 185.3h0M46.8 197h0M53.7 191.6h0M112.8 181.5h0M41 194.9h0" stroke="#c9c9c9" stroke-width="2.4" stroke-linecap="round"/>
<path d="M147.5 167.3h0M138.5 160.9h0M79.2 165.3h0M137.5 177.7h0M130.9 159.2h0M127.6 167.3h0M109.9 186.7h0M145.8 168.6h0M158.5 175.6h0M52.3 146.5h0M148.5 170.8h0M159.1 175.4h0M160 158.1h0M139.1 167.3h0M155.8 166.5h0M150.8 162.6h0M158.8 162.3h0M155.6 153.5h0M147.2 160.6h0M155.3 165.3h0M148.3 156.6h0M113.2 152.7h0M116.3 176.6h0M160 168.2h0M144.8 167h0M136.3 164.1h0M151.9 156.2h0" stroke="#e8262b" stroke-width="2.4" stroke-linecap="round"/>
<path d="M83.6 179h0M61.1 149.8h0M86.5 155.1h0M43.3 144.8h0M100.3 163.1h0M74.4 150.7h0M71.6 157.5h0M44.5 147h0M49.8 154.4h0M65.7 158.2h0M93.1 163.6h0M42.3 148.3h0M111.2 152.4h0M55.4 155.7h0M47.4 150.5h0M96.4 159.2h0M64.4 152.8h0M143.2 173.6h0M81.8 146.3h0M42.4 148.4h0M126.1 164.9h0M91.6 152.8h0M59.9 154.6h0M51 142.9h0M63.6 157.3h0M68.3 144.8h0M109.4 161h0M44.9 134.6h0M86.3 161h0M142.9 157.3h0M57.3 155.9h0M72.7 161.1h0M40.2 144.5h0M52.8 148.8h0M106.4 160.9h0M55.1 152.6h0M138.3 171.1h0M152.7 159.3h0M121.7 163.7h0M72.5 150.7h0M125.8 154.3h0M53.3 145.5h0M68 153.5h0M51.1 146.7h0M84.2 151.6h0M109.4 170.7h0M120.5 157.8h0" stroke="#45a948" stroke-width="2.4" stroke-linecap="round"/>
<path d="M123.2 172.5h0M142.5 155.1h0M159.6 166.6h0M153.6 155.9h0M141.4 155.1h0M157.5 162.5h0M155.8 161.3h0M139.4 160.4h0M121.3 154.7h0M131.7 161.5h0M158 162.2h0M70 157.4h0M152.2 168.5h0M147.5 154h0M160.9 159.8h0M156.3 156.9h0M160.8 172.3h0M159.8 171.9h0M94.5 179.4h0M153.3 163.1h0M64.7 148.8h0M149.8 160.8h0M120.8 157.3h0M142.9 157.5h0M149.5 168h0M149.6 166.1h0M69.1 200.6h0" stroke="#e8262b" stroke-width="2.4" stroke-linecap="round"/>
<path d="M74.1 179.9h0M48.4 184.2h0M48.5 195.1h0M49.7 186.5h0M93.9 158h0M53.6 182.5h0M47.2 148.2h0M43.7 194.8h0" stroke="#c9c9c9" stroke-width="2.4" stroke-linecap="round"/>
<path d="M114.5 156.9h0M107.1 167h0M144.2 164h0M105.7 167.3h0M41.4 134.5h0M138.9 166.7h0M105.2 178.3h0M158.5 167.9h0M147.3 166.5h0M139.1 171.6h0M158.9 161.1h0M113.8 171.1h0M114.1 165.8h0M98.4 158h0M114 158.5h0M111.1 157.7h0M146.3 159.1h0M89.9 157.8h0M145.1 174.4h0M102.8 166.3h0M125.6 171.9h0M147.4 177.5h0M133.6 159.8h0M66.3 155.1h0M55.7 150.2h0" stroke="#3b7fc6" stroke-width="2.4" stroke-linecap="round"/>
<path d="M56.6 186.2h0M114.6 178.8h0M132 166.7h0M99.8 166.3h0M159 167.7h0M49.7 140.8h0M158.9 160.6h0M90.7 182.4h0M133.2 159.4h0M118.4 160.2h0M130.5 172.1h0M136.8 174.7h0M101.9 168.1h0M101.6 169.9h0M145.1 169.9h0M79.4 169.7h0M61.9 179.9h0M122.6 168.8h0M135.9 167.2h0M67.6 161h0M55.6 178h0M74.3 177.4h0M140.9 159.3h0M132.3 171.8h0M108.5 176.4h0M121.4 163h0M90 156.1h0M76.4 179.6h0M112 160.6h0M144.6 166.1h0M74.6 172h0M114.3 167.8h0M130.8 170h0M95.5 169.9h0M129 166.4h0M137.1 164.8h0M144.2 166.5h0M63.4 180.7h0M97.2 174.9h0M109.8 162.1h0M105.1 169.7h0M116.9 165.1h0M87.2 179.3h0M69 177h0M111.7 173.8h0M127.5 161.2h0M81.9 173.6h0M92.4 163.2h0M107.2 160.3h0M134 173h0M91.9 160.8h0M73.1 175.9h0M55 154.2h0M86.7 177.3h0M109.8 153.7h0" stroke="#f9c24d" stroke-width="2.4" stroke-linecap="round"/>
<path d="M70.6 158.5h0M120.9 160.6h0M99.2 156.4h0M77.8 181.5h0M70 150.8h0M49 147.1h0M128.7 158.4h0M141.8 163.5h0M103.6 158.9h0M59.7 150.8h0M135.8 155.7h0M75.9 157.9h0M120.7 167.7h0M113.3 167.2h0M50.9 135.1h0M148.8 167.6h0M113.3 153.7h0M78.3 159.9h0M106.9 164h0M73.4 163.8h0M134.7 158.2h0M84.7 159.8h0M79.6 157.6h0M107.8 159.9h0M77.9 167.3h0M87.5 154.4h0M83.3 164.3h0M67 161.5h0M80.2 153.4h0M42.2 144.4h0M92.6 163.5h0M43.9 133.6h0M127.9 172.9h0M81.1 151.1h0M80.2 156h0M144.9 163.6h0M83.6 144.7h0M49.2 152.6h0M144 178.5h0M142.3 168.6h0M129.4 153.2h0M40.3 154.7h0M89.6 162.3h0M131.8 170h0M131.5 162.1h0M85.6 152.5h0M79 175.3h0M115.5 160.7h0M126.4 162.4h0M94.2 181.3h0M109.8 158.3h0M115.7 160.8h0M86.7 156.5h0M82.8 156h0M77.9 154.4h0" stroke="#45a948" stroke-width="2.4" stroke-linecap="round"/>
<path d="M139.7 165.3h0M132 157.1h0M132.2 178.9h0M88.8 187.8h0M73.9 159.5h0M48.9 191.2h0M147.6 149.8h0M157.8 168.3h0M151.4 152.7h0M150.7 165.4h0M151.3 170.3h0M154.3 168.5h0M64.9 149.5h0M149.9 171.3h0M157.6 162h0M133.1 154.7h0M45 129.9h0M142 165h0M113.2 186.6h0M148.8 170.2h0M146.3 162.3h0M59.9 147.4h0M148.4 157.4h0M142 183.2h0M157.3 157h0" stroke="#e8262b" stroke-width="2.4" stroke-linecap="round"/>
<path d="M159.5 167.5h0M157.6 171.8h0M139.2 162.1h0M115.9 164.5h0M68.7 175.2h0M103.9 178.3h0M133.4 162.4h0M113.7 156.9h0M144.1 169.7h0M158 160.3h0M82.6 171.5h0M42.5 151.3h0M95.4 158.8h0M150.5 170.3h0M129.6 169.4h0M85.3 166.5h0M146.4 169.1h0" stroke="#3b7fc6" stroke-width="2.4" stroke-linecap="round"/>
<path d="M51.3 145.8h0M138.6 172.4h0M159.5 167.2h0M125 169.6h0M52 145h0M52.5 144.6h0M124.9 159.2h0M123.9 170h0M63.4 166.7h0M90 151.7h0M56.8 156.6h0M59.6 141.4h0M100.1 150.4h0M56.7 145h0M56 145.6h0M63.8 153.6h0M129 164.3h0M144.1 174h0M120.1 158.2h0M146.3 153.9h0M46.8 140.7h0M79.4 149.4h0M63.2 153.6h0M88.5 155.6h0M45 143.7h0M114.8 156.9h0M57.1 154.5h0M81 157.1h0M135.5 172.8h0M55.7 155.8h0M73.8 162.8h0M48.9 151.5h0M77.1 148.4h0M127.7 159.2h0M113.2 161h0M44.9 145.1h0M62 161.2h0M81.4 153.3h0M73.5 157.8h0M129.1 162.4h0M70.4 149.5h0M47.5 140.3h0M107.4 166.5h0M83 159.9h0" stroke="#45a948" stroke-width="2.4" stroke-linecap="round"/>
<path d="M52.6 176.8h0M105.8 163.5h0M155.8 169.2h0M124.7 173.4h0M67.2 158.2h0M121.1 174.6h0M79.9 171.8h0M117.5 160.7h0M123.9 164.8h0M59.5 179h0M90.8 173.7h0M72.3 179.4h0M57.5 149h0M149 163.5h0M114.5 172h0M46.4 188.4h0M74 175.6h0M57.6 178.1h0M149.9 167.9h0M73.1 186.1h0M97.8 148.1h0M71.8 180.3h0M152.2 163.5h0M83.6 170h0M130.4 163.5h0M66.8 184.3h0M119.3 164h0M78.2 179.2h0M97.4 171.1h0M112.6 172.7h0M122.1 176.6h0M59 188.4h0M105.6 176.2h0M69.2 177.8h0M118.1 158.7h0M93.4 173h0M126.7 168.8h0M64.6 143.1h0M46.7 197.8h0M112.7 159.2h0M73 176.5h0M91.9 171.1h0M52.7 181.2h0M98.8 166.8h0M153.2 171.1h0M97.8 181.1h0M69.7 183.2h0M41.7 194.9h0M75.4 174h0M131.7 174.4h0M155.9 172.8h0M116.2 171.5h0M119.6 171.4h0M87.7 174.7h0M62.4 189h0M112.4 174.5h0M124.1 171.5h0M45.4 149.6h0M119.8 177.4h0M142 160.1h0M111.2 163.8h0M97.9 172.1h0M54.8 188.6h0M147.4 163.7h0M59 178.9h0M116.1 170h0M77.9 173.6h0M49.2 194.7h0M151.7 166.1h0M80.4 153.4h0" stroke="#f9c24d" stroke-width="2.4" stroke-linecap="round"/>
<path d="M46.1 189.1h0M46.4 192.9h0M43.8 195.2h0M52.1 187.1h0M122.1 170.5h0M48.1 189.3h0M75.7 171.3h0M126.1 154.3h0M119.8 159.1h0M87 162.8h0M42.3 189.1h0M52.5 188.5h0M97.4 171.1h0M45.1 193.3h0" stroke="#c9c9c9" stroke-width="2.4" stroke-linecap="round"/>
<path d="M151.7 166.2h0M60 147.7h0M62.8 170h0M43.1 195.2h0M83.7 184.9h0M148 167.8h0M102.2 162.6h0M49.7 189.4h0M123.3 169.4h0M66.1 175.9h0M107.7 167.8h0M69.5 154.8h0M91.5 165.3h0M73.8 184.5h0M96.5 167.5h0M153.9 160.4h0M70.6 179.9h0M100.1 166.1h0M62.9 183.5h0M87 177.6h0M74.7 176h0M103.7 172.1h0M71 169.1h0M124.3 153.4h0M98.2 175.6h0M104.3 173.3h0M41.9 190.8h0M141 159h0M119.8 168.1h0M64.9 172.9h0M147.9 160.6h0M93.5 176.4h0M133.3 150h0M99.6 173.9h0M154.1 165.9h0M62.4 153.4h0M49.7 191.4h0M59.5 180.8h0M97.7 165.3h0M150.3 165.9h0M99.4 174.2h0M81.3 178h0M69.7 177.2h0M156.8 154.7h0M95.4 173.1h0M90 170h0M93.7 163.9h0M90.9 176.2h0M138 167.9h0M134.7 172.1h0M107 171.7h0M101.7 158.3h0M158.3 160.8h0M114.8 177h0M52.6 178.8h0M73.8 182.9h0M54 182.3h0M89 177.1h0M74.4 179.1h0M115.6 165.5h0M103.6 164h0M148.1 165.9h0M146.4 178h0M94.1 164.4h0M56.9 192.4h0M70.9 166.1h0" stroke="#f9c24d" stroke-width="2.4" stroke-linecap="round"/>
<path d="M135 154.1h0M127.3 168.8h0M138 167.3h0M156.2 170h0M154.8 159.3h0M98.3 173.8h0M145.3 158.4h0M105.6 158.2h0M96.1 163.4h0M92.1 154.9h0M133.7 167.2h0M89.6 165.5h0M103 156h0M69.6 148.9h0M113.2 163h0M133.1 170.3h0M138.3 163.1h0M116.2 156.7h0M114.6 165.6h0M129.2 172.6h0M114.6 157.8h0M54.1 164h0" stroke="#3b7fc6" stroke-width="2.4" stroke-linecap="round"/>
<path d="M108.4 160.7h0M70.8 146h0M81.8 147.2h0M80.1 154h0M130.7 160h0M96.6 159.3h0M136.5 177.7h0M128.8 164.9h0M101.8 180.3h0M133.7 165.8h0M67.6 151.7h0M156 165.9h0M54.6 143.7h0M83.7 159.4h0M148 164.1h0M130.5 155.1h0M108.8 161.8h0M76.2 180.8h0M97.5 155.6h0M72 155.2h0M112.4 157.7h0M46.5 140.7h0M65.4 153.9h0M130.2 163.9h0M80.3 151.4h0M81.1 173.5h0M152.9 163.3h0M65.5 149.5h0M43.7 150.4h0M84.8 154.1h0M59.8 146.5h0M85.7 161.2h0M115.9 160.1h0M55.8 150.6h0M88.7 155.9h0M83.6 155.3h0M75.9 150.2h0M45 145.3h0M106.1 154.7h0M78.8 147h0M74 179.8h0M66.5 154.9h0M135.4 162.7h0M55.6 152.2h0M123.1 166.7h0" stroke="#45a948" stroke-width="2.4" stroke-linecap="round"/>
<path d="M135.4 169.7h0M144 168.7h0M64.2 176.1h0M152.8 154h0M156.3 162.8h0M132.3 160.2h0M155.1 163.8h0M121 168.2h0M135.2 172.3h0M72.7 167.1h0M154.6 157.9h0M148.8 157.6h0M123.4 165.1h0M142.9 168.1h0M157 166.7h0M81 196.1h0M158.7 162.3h0M141 169.9h0M151.1 173.6h0M133 164.3h0M154.7 166.9h0M128.6 160.8h0M133.4 150.2h0M89.3 172.3h0M149.7 166.6h0M133.3 171.9h0M151.2 160.9h0M153.3 159.4h0" stroke="#e8262b" stroke-width="2.4" stroke-linecap="round"/>
<path d="M47.8 183.5h0M53.3 192.1h0M41.6 198.9h0M53.9 180h0M46.3 185.3h0M48.5 188.3h0M63.6 181.5h0M49.3 182.4h0M47.7 195.3h0" stroke="#c9c9c9" stroke-width="2.4" stroke-linecap="round"/>
<path d="M61.3 155.6h0M119 174.4h0M42.7 198.2h0M49.6 193.9h0M43.7 196h0M81 164.5h0" stroke="#c9c9c9" stroke-width="2.4" stroke-linecap="round"/>
<path d="M140.8 157.9h0M73.1 178h0M159.9 163.5h0M137.1 156.9h0M96 177.5h0M134.1 166.9h0M120.3 180.6h0M66.7 173.8h0M125.8 164.5h0M133.7 157.8h0M124.5 155.8h0M139.3 172.8h0M135.3 158h0M148.8 167.5h0M136 157.1h0M146.5 159.9h0M149.6 180.8h0M136.9 168h0M137 158.3h0M128.5 162.3h0M135.2 169.1h0M81.7 188.8h0M134.9 160.7h0" stroke="#e8262b" stroke-width="2.4" stroke-linecap="round"/>
<path d="M85.6 170h0M76.9 178.6h0M95.3 169.1h0M103.4 175.9h0M113.5 164h0M121.2 191.2h0M46.4 195.9h0M44.4 191h0M104.5 167.8h0M66.4 162.7h0M54.4 190.5h0M130.8 164.1h0M128 171.4h0M112.6 167.9h0M128 176.7h0M120.8 164h0M144.3 162.2h0M109.1 164h0M109.4 167.1h0M124.3 170.6h0M82.3 177.7h0M63 143.3h0M84.1 171.9h0M122 169.4h0M99.4 174.9h0M153.1 169.5h0M114.8 171.5h0M131.3 169.4h0M105.3 171.8h0M141.7 165h0M154.5 169.4h0M62.9 173.3h0M136.5 163.6h0M100.5 170.3h0M123.3 154.3h0M113.6 168.1h0M72.1 160.9h0M83.2 164h0M158.6 159.8h0M93.3 170.4h0M93.7 175.7h0M108.7 171.3h0M157.8 167.6h0M63.2 180.7h0M72.8 179.3h0M96.7 169.1h0M134.5 173.9h0M70.4 156.8h0M126.3 172.1h0M90 178.9h0M62.5 191h0M134.4 157h0M88.3 172.5h0M104.3 173.1h0M95.4 175.9h0M80.4 180.2h0M137 163.6h0M50.5 180.2h0M46.1 192.2h0M89.8 181.2h0M86.7 178.6h0M69.7 173.3h0M82.1 160.8h0M129.4 164.2h0M71.4 169.1h0" stroke="#f9c24d" stroke-width="2.4" stroke-linecap="round"/>
<path d="M98.8 161.7h0M91.1 175.8h0M98.2 154.1h0M90.2 172.5h0M41 142.6h0M68.9 153.9h0M125.2 164.2h0M81.3 169.7h0M141.9 158.5h0M82.3 155h0M57.3 143.2h0M69.2 151.6h0M49.8 156.5h0M74.6 150.5h0M67.9 186.6h0M48.5 145.8h0M136.5 169.9h0M115.1 161.9h0M81.1 154.5h0M77.1 169.5h0M89.1 174.3h0M67 159.2h0M101.5 150.8h0M109.9 157.7h0M153 152.9h0M94.4 169.8h0M112.9 152.5h0M97 162.4h0M137.9 155.4h0M77.7 153.1h0M79.6 158.7h0M70.7 150.6h0M76.4 152.6h0M97.4 159.5h0M45.2 139.8h0M133.6 165.4h0M40.9 148.5h0M122.6 159.4h0M151.8 174.9h0M89.8 159.8h0M84.8 170.8h0M86.3 155.2h0M138.9 163.9h0M56.1 153.4h0M42.7 133.6h0M115.5 169.1h0M108 152.1h0M66.7 150.4h0M84.1 148h0M53.6 144.6h0" stroke="#45a948" stroke-width="2.4" stroke-linecap="round"/>
<path d="M96.3 162.6h0M61.3 151.7h0M72.2 173.9h0M115.8 170h0M97.2 161.6h0M112.4 168.6h0M124.4 165.2h0M153.7 165.9h0M106.4 158.1h0M145.5 171.1h0M98 154.7h0M130.1 173.6h0M147 157h0M145.5 171.5h0M66.9 149.1h0M130.8 161.1h0M153.8 164.2h0M129.1 165.7h0M58 147.7h0M148.5 159h0M116.7 161h0M112.3 170.1h0M114.8 173.3h0M142.3 162.5h0M115 154.6h0M150.5 163.3h0" stroke="#3b7fc6" stroke-width="2.4" stroke-linecap="round"/>
<path d="M62.3 177.8h0M44.4 197h0M107.2 169.2h0M42.3 197h0M117.9 158.2h0M41.5 190h0" stroke="#c9c9c9" stroke-width="2.4" stroke-linecap="round"/>
<path d="M158.3 167.8h0M103 183.6h0M112.2 182.6h0M157.4 157.5h0M132.3 165.7h0M102 161.4h0M58.2 190h0M133.6 162.3h0M60 195.8h0M160 162.9h0M141.8 162.5h0M157.5 155.1h0M148.7 169.8h0M156.9 160.9h0M151.3 163.1h0M136 158.4h0M143.8 171.1h0M156.1 173.2h0M145.7 161.9h0M72.6 175.8h0M135.4 169.2h0M158 162.3h0M154.1 153h0M159.1 162.1h0M58.1 203.2h0M145.9 163.1h0M140 156.3h0M135.3 159.5h0M105.5 170.3h0M132.8 165.7h0M144.3 165.7h0M147.4 176.4h0M138.9 154.6h0M158.9 168.7h0" stroke="#e8262b" stroke-width="2.4" stroke-linecap="round"/>
<path d="M45.4 195h0M127.9 168.9h0M95.5 176.1h0M102.7 162.1h0M94.7 169.8h0M89.5 180.5h0M51.6 189.2h0M104.3 171.5h0M98.7 171.6h0M74.9 176.3h0M99.9 178.5h0M141.7 169.8h0M119.4 171.8h0M146.8 172.2h0M134.2 160.1h0M102.2 165.6h0M121 166h0M104.2 175.6h0M96.1 176.1h0M146.3 167.5h0M87.9 172h0M122.5 174.9h0M89.1 167.2h0M157.2 163.2h0M80.3 161.8h0M99.4 172.7h0M155.2 174.5h0M117.4 154.8h0M93.6 152.9h0M132.1 159.6h0M115.6 168.9h0M147.6 178.3h0M53.4 145.1h0M43.6 193h0M107.4 171.1h0M95.6 171.4h0M124.5 174.6h0M97.3 175.6h0M54.5 189.7h0M106.1 168.6h0M115.9 170.3h0M110.7 169.3h0M68.5 166.4h0M90.9 165.3h0M138.8 172.5h0M109.7 155.8h0M63.3 185h0M147 159.5h0M140.3 176.3h0M124.1 156.9h0M107.8 174.5h0M119.4 170.6h0M160.9 171.8h0M100.1 163.8h0M68.3 174h0M95.7 169.2h0M107.3 164.2h0M64.7 179.2h0M40.2 190.5h0M94.6 161.5h0M113.5 163.3h0M117.6 171.4h0M91.6 153.9h0M60.3 183.4h0" stroke="#f9c24d" stroke-width="2.4" stroke-linecap="round"/>
<path d="M85.7 148.5h0M84 161.2h0M64.1 149.5h0M107.3 166.3h0M68.6 153.6h0M98.5 156.2h0M106.1 163.1h0M139.2 161.6h0M43.6 145.2h0M96.6 159.3h0M90.7 147.3h0M129.9 166.1h0M87 155.2h0M146.1 160.7h0M134.6 163.4h0M61.7 181.4h0M96.6 161.9h0M117.8 169.5h0M127.6 167.4h0M110.3 166.6h0" stroke="#3b7fc6" stroke-width="2.4" stroke-linecap="round"/>
<path d="M97.4 145.8h0M92.7 159.8h0M55.2 156.1h0M145.2 160h0M50.2 147.1h0M84.5 162.6h0M82.2 144h0M146.5 163.1h0M44.2 152h0M62.6 143h0M78.6 161.8h0M42.4 141.7h0M79.6 158.8h0M49 142.3h0M118.4 157.8h0M106.7 163.7h0M58.7 174.6h0M89.4 156.6h0M140.8 169h0M43.4 139.8h0M75.7 151.7h0M147.3 172h0M137.2 164.1h0M136.1 163.2h0M77.5 155.6h0M66.2 144h0M57.3 154.6h0M83 159.1h0M149.4 176.4h0M77.2 153.7h0M102.2 165h0M131.1 169.5h0M101 153.8h0M83.8 158.1h0M52.6 145.9h0M93.4 174.5h0M52.2 145.1h0M96.7 162h0M99.3 172.6h0M85.7 158.3h0M122.4 157.2h0M69.1 149.5h0M41.1 135h0M87.7 179.2h0M74.1 150h0M96.1 161.2h0" stroke="#45a948" stroke-width="2.4" stroke-linecap="round"/>
<line x1="33.9" y1="127.4" x2="33.9" y2="208.2" stroke="#777" stroke-width="0.8" />
<line x1="31.6" y1="127.4" x2="33.9" y2="127.4" stroke="#777" stroke-width="0.8" />
<text x="29.6" y="129.2" font-size="7.9" text-anchor="end">30</text>
<line x1="31.6" y1="147.6" x2="33.9" y2="147.6" stroke="#777" stroke-width="0.8" />
<text x="29.6" y="149.4" font-size="7.9" text-anchor="end">15</text>
<line x1="31.6" y1="167.8" x2="33.9" y2="167.8" stroke="#777" stroke-width="0.8" />
<text x="29.6" y="169.6" font-size="7.9" text-anchor="end">0</text>
<line x1="31.6" y1="188" x2="33.9" y2="188" stroke="#777" stroke-width="0.8" />
<text x="29.6" y="189.8" font-size="7.9" text-anchor="end">−15</text>
<line x1="31.6" y1="208.2" x2="33.9" y2="208.2" stroke="#777" stroke-width="0.8" />
<text x="29.6" y="210.1" font-size="7.9" text-anchor="end">−30</text>
<line x1="40.2" y1="212.3" x2="161" y2="212.3" stroke="#777" stroke-width="0.8" />
<line x1="40.2" y1="212.3" x2="40.2" y2="214.3" stroke="#777" stroke-width="0.8" />
<text x="40.2" y="220.6" font-size="7.4" text-anchor="middle">0</text>
<line x1="70.4" y1="212.3" x2="70.4" y2="214.3" stroke="#777" stroke-width="0.8" />
<text x="70.4" y="220.6" font-size="7.4" text-anchor="middle">500</text>
<line x1="100.6" y1="212.3" x2="100.6" y2="214.3" stroke="#777" stroke-width="0.8" />
<text x="100.6" y="220.6" font-size="7.4" text-anchor="middle">1,000</text>
<line x1="130.8" y1="212.3" x2="130.8" y2="214.3" stroke="#777" stroke-width="0.8" />
<text x="130.8" y="220.6" font-size="7.4" text-anchor="middle">1,500</text>
<line x1="161" y1="212.3" x2="161" y2="214.3" stroke="#777" stroke-width="0.8" />
<text x="161" y="220.6" font-size="7.4" text-anchor="middle">2,000</text>
<text x="97.6" y="116.6" font-size="8.2" text-anchor="middle" font-style="italic" textLength="16" lengthAdjust="spacingAndGlyphs">MB1</text>
<text x="19.5" y="167.8" font-size="8.2" text-anchor="middle" textLength="30" lengthAdjust="spacingAndGlyphs" transform="rotate(-90 19.5 167.8)">MB1 pc1</text>
<circle cx="60" cy="129.6" r="1.2" fill="#3b7fc6"/>
<text x="69" y="133" font-size="8.2" textLength="32" lengthAdjust="spacingAndGlyphs">MB1_UF</text>
<text x="70.7" y="206.6" font-size="6.5" textLength="22" lengthAdjust="spacingAndGlyphs">MB1_LF</text>
<text x="100.4" y="229" font-size="8.3" text-anchor="middle" textLength="43.6" lengthAdjust="spacingAndGlyphs">MB1 ranking</text>
<text x="17.2" y="238.6" font-size="6.9" textLength="19.3" lengthAdjust="spacingAndGlyphs">PAM50</text>
<circle cx="40.2" cy="235.9" r="1.45" fill="#e8262b"/>
<text x="43.7" y="238.6" font-size="6.9" textLength="15.3" lengthAdjust="spacingAndGlyphs">Basal</text>
<circle cx="62.2" cy="235.9" r="1.45" fill="#3b7fc6"/>
<text x="65.7" y="238.6" font-size="6.9" textLength="13.5" lengthAdjust="spacingAndGlyphs">Her2</text>
<circle cx="83" cy="235.9" r="1.45" fill="#f9c24d"/>
<text x="86.5" y="238.6" font-size="6.9" textLength="15.8" lengthAdjust="spacingAndGlyphs">LumA</text>
<circle cx="105.1" cy="235.9" r="1.45" fill="#45a948"/>
<text x="108.6" y="238.6" font-size="6.9" textLength="15.9" lengthAdjust="spacingAndGlyphs">LumB</text>
<circle cx="127.7" cy="235.9" r="1.45" fill="#c9c9c9"/>
<text x="131.2" y="238.6" font-size="6.9" textLength="20.2" lengthAdjust="spacingAndGlyphs">Normal</text>
<path d="M293.2 122.5L197.7 164.8M197.7 164.8L293.2 207.2" stroke="#bbb" stroke-width="0.6" fill="none"/>
<path d="M274.4 162.5h0M274.5 161.3h0M310.1 164.7h0M311.4 165.2h0M276.4 165h0M252.2 162.6h0M224.5 152.9h0M282.2 167.8h0M324.2 168.4h0M292.1 162.6h0M313.1 155.9h0M320.8 158.3h0M265.1 150.4h0" stroke="#3b7fc6" stroke-width="2.4" stroke-linecap="round"/>
<path d="M211.3 135.5h0M321.4 156.3h0M241.6 156.8h0M284.9 159.7h0M271.7 160.5h0M241.5 161h0M298.7 158.8h0M279.7 157.4h0M237.8 164.2h0M290.6 165.2h0M240.8 168.4h0M256.1 151.7h0M210.4 151.1h0M236.5 148.3h0M278.5 168.3h0M207.9 146.1h0M212.4 138.1h0M281.5 168.5h0M258.7 157.7h0M256.8 154.9h0M276.3 152.3h0M214.5 145.5h0M279.6 149.1h0M228 156h0M212.4 156.9h0M214.2 148.4h0M315.4 154.5h0M301.8 166.1h0M240.9 164.4h0M231.6 147.8h0M209.7 146.7h0M228.8 157.6h0M317.5 151.5h0M223 148.1h0M200.4 145.6h0M210.3 141.9h0" stroke="#e8262b" stroke-width="2.4" stroke-linecap="round"/>
<path d="M231.7 149.4h0M209.1 155.8h0M273.5 157.7h0M214.4 155h0M265.7 153.1h0M317.3 157.8h0M253.8 144.9h0M308.6 151.1h0M234.1 144.6h0M275.7 170.1h0M237.7 154.2h0M234.2 157.8h0M284.2 170.4h0M319.3 157.1h0M265.6 158.5h0M298.5 177h0M302.9 158.3h0M305 159.7h0M240.8 158.4h0M255.2 155.2h0M234 161.1h0M229.7 150.2h0M252.4 151.5h0M237 155.8h0M271.9 155.2h0M302.6 166.5h0M281.9 170.6h0M303.8 158.5h0M311.9 164h0M232 160.7h0M245.2 152.9h0M272.2 156.5h0M238.8 160.9h0M299.4 158.5h0M245.4 155.3h0M220.6 153.3h0M299 150.4h0M313.2 163.8h0M202.1 138h0M260.4 152.1h0" stroke="#45a948" stroke-width="2.4" stroke-linecap="round"/>
<path d="M208.7 186.2h0M308.7 162.1h0M201.7 200.7h0M212.5 191.1h0M230.4 160.3h0M201.6 195.8h0M286.5 161.3h0M279 168.6h0M277 169.9h0M282.1 156.2h0M275.2 160.3h0M204.8 189h0" stroke="#c9c9c9" stroke-width="2.4" stroke-linecap="round"/>
<path d="M209.5 177.3h0M202.7 199.4h0M246.4 170.8h0M242 169.1h0M285.2 162.5h0M228.9 178.2h0M324 166.4h0M304.1 159.9h0M293.6 170.6h0M306.6 155.9h0M270.7 171.9h0M317.7 166.4h0M207.5 185.9h0M243.8 165.2h0M238 177.2h0M242.5 167.4h0M203.5 191.7h0M255.2 178.1h0M323.2 158.1h0M224.4 175h0M226.4 145.4h0M253.5 162.7h0M237.2 173.2h0M315.9 165.8h0M267.5 165.1h0M277.3 164h0M292.7 158.9h0M302.1 160.1h0M287 153.3h0M282.3 174.4h0M263.2 166h0M255 166.4h0M322.5 165.5h0M240.3 165.1h0M221.6 179.3h0M281 157.7h0M265.2 173.3h0M316.6 167.8h0M245.2 161h0M229.1 176.5h0M228.7 179.1h0M303.2 167.6h0M272.1 164h0M282.9 172.8h0M236.4 153.1h0M251.6 180.6h0M289.6 164.5h0M237.7 172h0M234.6 177.9h0M324.8 155.3h0M317.8 152.2h0M213.2 185.1h0M229.4 177.1h0M223.4 169h0M205.2 182.6h0M244.7 172.2h0M238 166.4h0M272.4 168.8h0M255 163.8h0M201.8 191.4h0M219.7 186h0M318.6 167.6h0M229.6 177.8h0M221.5 172.3h0M320.8 159.1h0M215.8 179h0M278.7 168.4h0M257.1 171.5h0M250.9 181.8h0" stroke="#f9c24d" stroke-width="2.4" stroke-linecap="round"/>
<path d="M206.8 138.3h0M310.7 166.8h0M313.1 161.2h0M311.8 165.6h0M207.4 138.2h0M206.8 139.4h0M301.7 167.3h0M208.9 146.2h0M226.3 143.7h0M259.1 162.5h0M219.7 147.8h0M210 146.6h0M288.8 172.7h0M321.3 164.8h0M216.7 143.7h0M279.6 164.4h0M201.9 133.7h0M245.4 153.4h0M289.3 154.7h0M213.4 143.6h0M246.7 154.8h0M203.1 149.4h0M217 155.2h0M210.2 155.8h0M235.4 162.6h0M289.2 167.4h0M284.2 157h0M323.1 159.5h0M207.6 140.5h0M287.5 161h0M299.7 163.7h0M219 137.9h0M305.4 173.9h0M225.6 145.4h0M296 162.4h0M226.8 157.7h0M262.6 154.9h0M211.6 144.9h0M209.9 137.3h0M207.3 144.9h0M253.7 162.2h0" stroke="#e8262b" stroke-width="2.4" stroke-linecap="round"/>
<path d="M198.4 190.1h0M210.9 183.6h0M213.4 192.1h0M289.7 169.4h0M202.9 181.3h0M256.2 162.6h0M252.3 159.2h0M202.8 173.5h0M241.5 161.5h0M217 175.7h0M205.1 171.7h0M246.3 177.3h0M211 181.3h0M205 173.3h0M203.4 190.2h0M204.1 189.4h0M198.7 196.4h0M256 169h0M207.9 189.9h0" stroke="#c9c9c9" stroke-width="2.4" stroke-linecap="round"/>
<path d="M209 179.3h0M262 171.3h0M251.1 169.1h0M312.2 163.5h0M207.2 146.5h0M277.7 167.7h0M200.8 176.8h0M258.9 159.8h0M312.6 170h0M255.9 160.6h0M215.8 184.4h0M219.3 177.8h0M251.3 163h0M262.1 166.9h0M229.3 182.4h0M306 175h0M270.7 176.9h0M272.5 163.8h0M249.2 166.2h0M230.7 177.2h0M237.6 170h0M224.8 175.5h0M277 173.2h0M220.8 177.3h0M243.7 166.5h0M322 169.6h0M280.3 162.9h0M250.4 158.8h0M234.5 163.5h0M299.2 155.5h0M204.4 137.6h0M201.3 197.9h0M210.4 189.1h0M219.5 143.8h0M212.8 178.5h0M258.5 164.5h0M281.4 161h0M288.1 170.1h0M300.2 164.2h0M234.3 170.7h0M303 169h0M220.3 177.4h0M299.8 160.2h0M263.4 155.6h0M205.9 143.9h0M269.6 160.5h0M311.2 159.5h0M205 179.1h0M225 169.2h0M296.8 158.2h0M205 190.7h0" stroke="#f9c24d" stroke-width="2.4" stroke-linecap="round"/>
<path d="M252.7 158.8h0M304.1 164.8h0M246.8 152.9h0M198.6 197.8h0M258.8 153.9h0M308.7 169.6h0M322.7 153.5h0M232 152.4h0M270.4 157.7h0M297 156.1h0M315.5 160.8h0M244.4 155h0M318.8 170h0M250.7 155.6h0M260.9 148.6h0M252 158.1h0M295.3 163.2h0M301.8 157.9h0M277.7 160.4h0M233.1 158.4h0M303.4 170.7h0M297.1 162.7h0M311.7 157.2h0M202.3 138.8h0M320.9 156.1h0M274.7 161.7h0M291 164.1h0M202.1 141.9h0M271 162.6h0M293.7 158.9h0M283.3 161.3h0M292.7 166.9h0" stroke="#45a948" stroke-width="2.4" stroke-linecap="round"/>
<path d="M227.6 158.7h0M259.1 160.8h0M318.2 157.9h0M317.2 166.2h0M263.7 157.1h0M250.1 151.6h0M260.5 164.2h0M261.2 147h0M262 167.9h0M315.6 156.2h0M291.2 161.3h0M294 153.6h0M231.6 151.9h0M324.4 170.1h0M322.6 175.5h0M310.9 158.5h0M231 150h0M259 163.1h0M285.1 165h0M322.5 157.3h0M291.9 154.5h0M213.4 155.4h0M248.2 159.8h0M310.3 149.4h0M308.9 165.3h0M257.1 171.4h0M324.6 158.6h0" stroke="#3b7fc6" stroke-width="2.4" stroke-linecap="round"/>
<path d="M258.2 147.3h0M204.2 184.1h0M229 143.4h0M318.5 169.9h0M261.4 163.8h0M303.3 156.8h0M259.9 157.1h0M315.3 165.6h0M216.3 179h0M264.4 166.7h0M248.9 158.3h0M219.1 176.8h0M314.9 151h0M323.6 163.1h0M250.8 169.3h0M215.8 178.4h0M263.4 169.3h0M324.1 167.6h0M238.3 165.4h0M250.7 176h0M223.1 137.4h0M198.1 192.4h0M288.3 171.7h0M320.2 164.1h0M293.3 164h0M228.8 176.5h0M202.9 191.7h0M247 171.8h0M291 158.4h0M318.1 157.1h0M261.9 177.1h0M270.7 167h0M236.2 149h0M276.2 155.1h0M235.6 175h0M199.3 195.3h0M237.9 172.8h0M269.2 159.1h0M220.4 148.4h0M263.9 164.1h0M272.2 172.1h0M294.7 170.1h0M304.9 167.7h0M270.4 170.2h0M312.4 158.4h0M262.6 169.8h0M298.2 160.3h0M241.5 177.9h0M301.7 160.1h0M289.5 161.9h0M317.8 161.9h0M252.3 172.3h0M231.1 181.6h0M236.6 165.5h0M204.1 185.3h0M237.7 162.5h0M285.4 164.3h0M250 173.2h0M242.7 171.4h0" stroke="#f9c24d" stroke-width="2.4" stroke-linecap="round"/>
<path d="M288.8 167.4h0M306.5 168.1h0M297.6 165.4h0M272.7 154.6h0M313.5 163.3h0M298.8 159.4h0M272.9 160.3h0M211.8 182.6h0M319.3 168.7h0M263.5 152.5h0M258.6 150.9h0M228.4 152.2h0M300.4 158.4h0M287.1 166.5h0M303.5 158.8h0M243.5 151.1h0M305.8 167.3h0M301.9 166.6h0M317.3 172.2h0M295.2 153.3h0M228.4 158h0M214.5 193.5h0M270.5 159.7h0M309.8 161.8h0M228.6 152.5h0M226.8 154h0M279.7 156.4h0M273 162.7h0M277.7 155.1h0M235.3 171.6h0M209.2 133.3h0M221.7 141.8h0M284.1 169.8h0" stroke="#45a948" stroke-width="2.4" stroke-linecap="round"/>
<path d="M205.4 191.7h0M197.8 190.4h0M207 193.2h0M300.4 162.6h0M252.8 170.8h0M250.2 171.5h0M200.9 183.4h0M206.7 183.1h0M255.7 172h0M232.6 180.2h0M249.8 171.8h0M214.1 175.4h0M256.2 165.5h0M244.3 169.8h0M220.5 178.9h0M206 187.6h0" stroke="#c9c9c9" stroke-width="2.4" stroke-linecap="round"/>
<path d="M235.6 149.8h0M216.4 151.7h0M324.3 156.7h0M279.6 153.6h0M203.8 141.9h0M266.5 161.1h0M278.3 168.3h0M262.9 165h0M219.5 144.7h0M321.4 166.6h0M276.7 175.9h0M294.9 150h0M306.8 153.6h0M311.2 161.5h0M226.7 160.7h0M243 164.2h0M219.1 149.3h0M283.3 153.8h0M296.6 162h0M297.1 172.8h0M210.2 141.6h0M245.3 155.9h0M280.4 160.4h0M319.3 156.5h0M293.9 163.9h0M208 139.7h0M207.6 137.3h0M215.4 136.5h0M223.9 148.5h0M212.9 143.8h0M210.1 135.7h0M320 166.4h0M316.8 161.3h0M302.9 152.7h0M324.7 162.4h0M274.7 154h0M199.4 140.7h0M211.5 142.9h0M307.6 154.9h0M201.8 144.1h0M321 166.8h0M259.3 154.7h0M223 156.2h0M213.2 153.8h0M289.7 160.2h0M284.3 151.1h0M311.3 158.5h0M205.3 139.1h0" stroke="#e8262b" stroke-width="2.4" stroke-linecap="round"/>
<path d="M228.5 156h0M251.4 170.4h0M315.1 160.5h0M312.3 174h0M291.4 151.2h0M305.5 159.7h0M250 155.1h0M294.7 160h0M314.5 161.1h0M267.5 167.4h0M237.9 154.6h0M307.8 163.3h0M238.3 155.6h0M319 167.3h0" stroke="#3b7fc6" stroke-width="2.4" stroke-linecap="round"/>
<path d="M286.3 150h0M200.5 140.3h0M207.3 138.5h0M303 151.9h0M307.2 164.9h0M291.7 154.8h0M285.5 164.4h0M323.2 160.1h0M230.5 149.8h0M260.3 159.2h0M281.9 157.8h0M200.6 146.2h0M233 164.2h0M251.2 155.5h0M207.2 137.5h0M311.8 153.7h0M202.4 140.2h0M273.4 154.1h0M307.5 161.4h0M262.3 158.1h0M215.7 147.2h0M284 167.8h0M204.4 137.4h0M290.6 161.4h0M250.1 155.9h0M304.6 161.7h0M220.1 151.3h0M243.4 159.2h0M303.3 160.2h0M199.8 134.3h0M236.1 146.5h0M300.7 150.8h0M206.4 158.7h0M251.7 161.8h0M244.7 150.6h0" stroke="#e8262b" stroke-width="2.4" stroke-linecap="round"/>
<path d="M203.6 187.3h0M245.5 172.4h0M243.4 169.6h0M212.6 180.4h0M308 170.1h0M203.8 186h0M304.5 153h0M217.5 178.6h0M218.7 186h0M227.4 179.1h0M201.6 195.8h0M213.4 182.8h0M292.3 173.3h0M204.6 183.7h0M199 186.8h0" stroke="#c9c9c9" stroke-width="2.4" stroke-linecap="round"/>
<path d="M254 173.2h0M199.5 197.6h0M240.1 174.8h0M283.8 157.6h0M209.6 182.5h0M223.5 149.2h0M266.7 161.8h0M287.5 166.8h0M300.1 167.1h0M258.6 172.6h0M314.3 160.7h0M297.5 164.1h0M268.7 170.5h0M227.2 167.1h0M258.4 172.2h0M212.8 145.8h0M282.3 164.8h0M274.6 171h0M232.6 172.9h0M266.4 161.8h0M282.6 147.2h0M308.3 163.6h0M311.4 165.1h0M238 168.3h0M271.3 161.9h0M265.1 162.9h0M248.4 170.1h0M248.9 177.5h0M275.7 163.5h0M323 170.1h0M213.5 177.7h0M291.7 157.8h0M219.4 170.7h0M216.4 169.7h0M299.9 161.8h0M285.4 162.3h0M247.6 177h0M264.4 164h0M224.9 171.7h0M304.2 165.7h0M265.8 168.9h0M210.4 183h0M313 162.7h0M303 156.8h0M289.8 165.4h0M272.7 175.2h0M258.1 173.5h0M263.2 168.3h0M221.6 184.7h0M265.8 164.9h0M289 169.9h0M250 159.6h0M234.5 177.7h0M321.3 166.2h0M249.3 171.9h0M312.8 166.3h0M299.9 160.3h0M266.1 168.4h0M209.1 185.7h0M223 169.3h0M223.4 151h0M255.9 164.3h0M201 187.2h0M279.1 170.2h0M258 167.8h0M224 167.4h0M268.7 164.5h0M305.7 171.6h0M250.8 172.7h0M259.1 164h0M287 166.9h0M255.1 170.3h0M210.1 151.3h0" stroke="#f9c24d" stroke-width="2.4" stroke-linecap="round"/>
<path d="M293.7 167.1h0M271.5 159.8h0M269.3 164h0M249.5 159.5h0M294.6 168.6h0M294.2 171.5h0M301.1 157.9h0M274.4 159.5h0M226.3 169.3h0M281.5 160.1h0M281.6 162.3h0M302 166.1h0M292 151h0" stroke="#3b7fc6" stroke-width="2.4" stroke-linecap="round"/>
<path d="M321.6 159.9h0M301 163.5h0M210.8 177.8h0M298.5 173h0M243.3 174.4h0M288.4 167.5h0M273.6 158.4h0M272.8 156.5h0M242.6 158h0M217.8 143.1h0M241 170.8h0M208.5 190.3h0M239.7 152.3h0M252.9 175.8h0M244.3 163h0M244 162.8h0M232.9 154.3h0M224.2 144.6h0M284.2 160.5h0M277.2 164.9h0M246 157.5h0M308 164.2h0M282.7 147.6h0M290.2 159.9h0M241.8 171.9h0M220.2 154.6h0M244.8 166.1h0M234.7 171.5h0M238.3 148h0M303.8 171.2h0M280.9 151.9h0M256.4 158.2h0M278.2 157.8h0M253.9 155.6h0" stroke="#45a948" stroke-width="2.4" stroke-linecap="round"/>
<path d="M307.7 159.4h0M309 158.3h0M218.7 190.9h0M211.7 193.6h0M205.3 185.1h0M267.9 165.9h0M199.9 188.6h0M319.1 167.6h0M242.3 169.8h0M209.7 189.5h0M290.3 165.5h0" stroke="#c9c9c9" stroke-width="2.4" stroke-linecap="round"/>
<path d="M313.2 161.1h0M225.5 146.2h0M307.2 173.4h0M305.1 169.1h0M312.1 170.7h0M291.5 162.3h0M298.5 150.8h0M306.6 160.6h0M262.1 153.8h0M310.6 162.8h0M261 158.4h0M231.1 156h0M297.9 153.1h0M287.9 165.7h0M290.2 168.8h0M206.4 138.7h0M226.8 159.7h0M247.6 156.6h0M277.7 162.1h0M319.9 158.7h0M320.3 165.5h0M250.2 158.5h0M319.1 161.2h0M293 155.4h0M245.3 154.3h0M292.7 158.9h0M238.6 149.4h0M291.8 160.5h0M287.2 164.9h0M243.5 159.3h0M217.3 167.6h0M228.6 142.7h0M250.8 150.3h0" stroke="#45a948" stroke-width="2.4" stroke-linecap="round"/>
<path d="M256.5 149.2h0M266.8 149.1h0M230 168.8h0M320.5 168.1h0M223.4 185.8h0M266.9 161.9h0M256.9 171.3h0M265.8 166.8h0M298.8 151.7h0M304.9 156.1h0M249.8 166.4h0M230.2 174.5h0M253.8 165.8h0M305.4 161.7h0M243.4 165.5h0M288.9 156.6h0M219.8 180.1h0M300.7 164.1h0M318.9 156.2h0M300.5 157.6h0M273.5 171.7h0M243.7 169.5h0M234.1 169h0M266.8 168.3h0M294.8 158.2h0M228.4 177.5h0M240.2 169.8h0M275.8 169.4h0M254.2 170.4h0M306.9 148.6h0M265.5 158.5h0M309.3 163h0M282.5 168.4h0M303.1 175.2h0M277.7 155.5h0M202.5 187.3h0M227.7 149.6h0M292.4 169.4h0M268.9 170.1h0M268 167.8h0M248.2 176.1h0M277.4 162.8h0M245 169.8h0M251 166.2h0M319.6 160h0M223.9 168.1h0M266.9 159h0M281.6 161.2h0M260.1 166.2h0M263.9 172.4h0M207 182.1h0M271.3 168.9h0M264.3 155.3h0M262 171.3h0M302.7 162.9h0M240.7 147.1h0M224.2 166.7h0M303.8 158.2h0M322 168.1h0M267.1 162.1h0" stroke="#f9c24d" stroke-width="2.4" stroke-linecap="round"/>
<path d="M255.7 148.3h0M290.9 150.9h0M265.6 155.5h0M290 162.5h0M284.3 168h0M314.8 158.2h0M287.3 164.3h0M252.5 163.2h0M264.9 151.2h0M316.4 152.8h0M318.8 164.1h0M281.9 167.7h0M238 157.8h0M316.4 157.2h0M265.2 152.6h0" stroke="#3b7fc6" stroke-width="2.4" stroke-linecap="round"/>
<path d="M301 157.1h0M259.5 153.5h0M271.5 155h0M281.6 154.5h0M279.1 153.5h0M232.2 154.5h0M301.3 157.3h0M285.5 158.3h0M251.7 149.5h0M211.2 148.9h0M288.3 156.4h0M219.6 151.8h0M209.1 148.8h0M212.3 147.8h0M308.5 169.5h0M211.1 145.8h0M208 139.2h0M202.9 138.4h0M296.3 162.5h0M257.9 159h0M217.5 151.7h0M211 152.6h0M277.2 161.7h0M203.3 142.7h0M319.7 168.4h0M292.3 166.6h0M243.9 149.2h0M225 149.1h0M292.9 161.6h0M286.1 161.7h0M209.1 137.3h0M202.4 140.8h0M308.1 171.8h0M312.1 155.9h0M202 155.7h0M268.1 150.5h0M204 149.8h0M283.2 150.2h0M322.3 161h0M210.1 148.1h0M299.6 162.4h0M287.8 161.6h0M259.5 154.9h0M215.3 154.4h0M308.5 172.2h0M287 163.2h0M213.5 145.8h0M201.9 134.2h0M247.1 166.6h0M260.2 156.3h0M209 147.9h0" stroke="#e8262b" stroke-width="2.4" stroke-linecap="round"/>
<path d="M231.4 147.1h0M286.4 162.8h0M264.4 168.2h0M262.5 166.6h0M292.6 167.1h0M251.6 142.9h0M316.1 169.5h0M294.6 172.4h0M313.7 158.3h0M224.7 142.7h0M307.7 153.9h0M319.7 156.8h0M260.4 157.4h0M278.5 163.5h0M298.3 158.1h0M254.5 160.1h0" stroke="#3b7fc6" stroke-width="2.4" stroke-linecap="round"/>
<path d="M268.4 153.9h0M315.6 153.3h0M293.5 157.4h0M234.9 146.6h0M318.3 159.1h0M234.3 147.5h0M227 153.2h0M274.1 153.9h0M269.8 149.4h0M240.4 153.7h0M247.4 176.5h0M204.8 139.6h0M278.5 165.7h0M319.9 164h0M287 150.3h0M236.6 155.5h0M224.1 147.5h0M247.3 151.5h0M233.6 147.3h0M210.4 143.7h0M320 162.5h0M246.6 151.1h0M291.1 165.6h0M318.2 159.2h0M254 153.1h0M235.6 148.6h0M283.8 150.7h0M220.3 148.8h0M265.3 156.3h0M317 161.3h0M216 176.4h0M259.7 153.4h0M248.4 155.7h0M289.4 151.2h0M263.9 161.4h0M274.8 159.7h0M305.4 154.6h0M286.4 153h0" stroke="#45a948" stroke-width="2.4" stroke-linecap="round"/>
<path d="M311.4 162.8h0M323.1 166.8h0M210 187.6h0M285.8 170h0M201.2 194.4h0M267.5 175.2h0M208.8 185.1h0M206 181.2h0M305.5 157.7h0M298.4 147h0M318.1 159.8h0M200.7 182.6h0M204.8 185.7h0M200.2 192.5h0M231.9 164.9h0M214 177.1h0M289.8 164.3h0" stroke="#c9c9c9" stroke-width="2.4" stroke-linecap="round"/>
<path d="M206.5 140.1h0M274.2 158.5h0M204.4 135.3h0M257.7 154h0M311.8 159.9h0M317.7 166.7h0M228.7 154.1h0M280.1 158.8h0M236.6 163.4h0M291.5 154.4h0M306 157.5h0M284.5 175.9h0M278.5 171.9h0M307.9 151.6h0M284 160.1h0M287.1 169.4h0M308.5 154.9h0M202.7 130h0M295.3 161.4h0M302.4 156h0M209.1 140.6h0M277.6 153.4h0M255.8 152.7h0M229.4 153.6h0M234.2 156.1h0M272.3 153.8h0M216.1 143.9h0M210.9 150.8h0M212.3 129.4h0M307.9 158.7h0M219.5 153.9h0M258.4 161.6h0M212.6 151.2h0M324.1 157.9h0M278.7 162h0M231.1 160.4h0M278.3 162.6h0" stroke="#e8262b" stroke-width="2.4" stroke-linecap="round"/>
<path d="M286 153.4h0M252.8 166.9h0M263.6 166.6h0M221.4 173.8h0M264.7 163.8h0M297.6 162.7h0M284.6 164.9h0M315.5 174.4h0M245.3 165.7h0M243.9 161h0M235.3 154.7h0M253.1 165.3h0M237.2 180.2h0M271.7 169.8h0M270.9 160.8h0M211.5 180.8h0M254.1 163.4h0M304.9 164.6h0M320.6 164.6h0M259 168.8h0M281.4 166.6h0M270.4 164.4h0M249 146.6h0M246.7 172.6h0M297.1 168.1h0M261.9 157.7h0M308.7 164.5h0M310.4 166.4h0M213 165.4h0M219.6 177.2h0M246.2 176.9h0M223 168.2h0M310.6 161.9h0M243.3 151.7h0M257.8 166.7h0M283.6 164.7h0M199.9 194.4h0M223.8 176h0M270.3 155.1h0M228.9 172.5h0M322.3 153.6h0M298.4 161h0M273.7 170.8h0M288.8 165.3h0M227.4 168.4h0M202.8 197.4h0M268.8 168.1h0M218.4 172.9h0M309.2 162.4h0M256.4 171.4h0M266.5 173.1h0M318.4 166h0M269.1 171.5h0M323.3 157.6h0M305.3 153h0M257.3 175.1h0M262 168.4h0M236.8 168.9h0M265.8 167.6h0M291.1 159.7h0M324.8 159.4h0M314.2 170.6h0" stroke="#f9c24d" stroke-width="2.4" stroke-linecap="round"/>
<path d="M243.9 163.5h0M300 157.9h0M240.7 163.8h0M268.7 160.5h0M286.1 156.8h0M321.5 161.1h0M237.3 167.4h0M260.3 150.1h0M228.1 175.1h0M323.5 163.7h0M247.9 169.8h0M231 165h0M270 163.6h0M258 165.4h0M267.3 159.4h0M307.6 150.2h0M236.7 154.6h0M307 160.5h0M253.7 146.7h0" stroke="#3b7fc6" stroke-width="2.4" stroke-linecap="round"/>
<path d="M244.7 155.9h0M235.4 174.4h0M292.8 159h0M253.9 154.1h0M314.8 154.4h0M273.9 150.5h0M202 144h0M290.4 160.9h0M255.4 146.5h0M245.4 151.5h0M319.9 152h0M236.4 150.3h0M269.6 159.8h0M237.7 150.7h0M304.3 165.5h0M221.5 148.7h0M276.6 156.1h0M243.9 150.9h0M228.9 153.2h0M269.9 166.3h0M207.6 139.2h0M296.4 166.7h0M312.6 159.8h0M316 171.3h0M288.9 156.3h0M250.2 152.5h0M319.8 158.4h0M268.1 157.8h0M274.5 153.3h0M287.4 155.6h0M276.4 152h0M295.7 160.1h0M314.5 169.2h0M240.8 151.4h0M232.9 153.7h0M268.9 156.7h0M294.9 157.9h0M219.5 146.3h0" stroke="#45a948" stroke-width="2.4" stroke-linecap="round"/>
<path d="M270.6 157.2h0M204.1 137.9h0M286.1 157.5h0M220.4 139.2h0M219.2 129.3h0M201.8 130.6h0M212.4 149.9h0M216 148.8h0M320.8 166.1h0M303.8 157.5h0M201.8 137.9h0M270.5 159.1h0M224.3 143.9h0M206.3 144.2h0M209.8 126.3h0M235.7 154h0M316 158.2h0M236.9 153.3h0M211.6 154.3h0M323.7 158.6h0M209.4 150.6h0M222.4 145.9h0M202.3 134.9h0M213.3 148.3h0M240.7 154.2h0M205.4 137.1h0M203.2 140.2h0M236.6 153.7h0M249.4 153.5h0M205.4 132.6h0M204.5 143h0M216.7 152.6h0M248 164h0M303 166.2h0M233.8 154.9h0M315.4 156.9h0M273.2 168.1h0M216.4 146.6h0M216.5 147.6h0M239.4 154h0M321.1 156.2h0M238.4 151.2h0M265.5 165.1h0M293.6 164.6h0M204.6 137.8h0M206.7 141.5h0" stroke="#e8262b" stroke-width="2.4" stroke-linecap="round"/>
<path d="M214.6 175h0M213 178.6h0M215.2 179.4h0M218.2 177.8h0M201.7 190.8h0M209.4 181h0M199.1 193.8h0M261.1 171.1h0M266.6 167.9h0" stroke="#c9c9c9" stroke-width="2.4" stroke-linecap="round"/>
<path d="M220 171.5h0M271 184.3h0M281.4 155.8h0M204.3 188.5h0M244.8 157.7h0M237.2 170.9h0M231.8 153.9h0M320 164.5h0M232.2 177.3h0M228 149.7h0M290.1 158.1h0M249.9 166.7h0M239.8 164.3h0M312.4 160.9h0M290.9 170.8h0M221.2 185.6h0M272.7 173.4h0M317.2 166.4h0M259.9 174.6h0M271.5 164.9h0M222 173.6h0M240.9 171.6h0M260.9 158.7h0M223.8 148.5h0M312.9 158.6h0M276.5 158.2h0M317.2 156.8h0M203.7 190.8h0M240.4 166.9h0M308.2 162.8h0M274.6 153.9h0M273.8 164.8h0M297.4 162.7h0M323.6 171.4h0M267.6 166.5h0M236.4 180.4h0M232.3 170.1h0M308 162h0M246.6 165.7h0M244 156.6h0M268.2 166.6h0M217.2 175.3h0M259.5 152.4h0M220.9 145.8h0M268.4 170h0M283.9 155.6h0M206.9 183.3h0M273.9 155.2h0M309.4 156.2h0M285.2 152.4h0M238.4 167.7h0M243.9 172.7h0M284.8 157.2h0M323.6 158.2h0M262 164.5h0M261.3 172.5h0M214.3 177.8h0M200.9 183.4h0" stroke="#f9c24d" stroke-width="2.4" stroke-linecap="round"/>
<path d="M324.3 156h0M308.8 166.1h0M321.7 153.3h0M205.2 137.7h0M284.5 158.6h0M199.7 140.4h0M239.4 158.9h0M214.9 151h0M306.1 157.4h0M288.5 165.1h0M263.9 159.5h0M251.3 158.9h0M293.9 166.6h0M283.3 152.1h0M293.1 159.7h0M203.1 140h0M215.9 146.5h0M241.2 154.4h0M259.3 157h0M316.8 161.9h0M303.1 164.8h0M265.5 154.6h0M228.3 160h0M249.3 155h0M239.1 153h0M321.2 156.5h0M314.7 161.6h0M311.8 167.5h0M246.6 148.6h0M275.8 159.9h0M316.3 158.3h0M248.7 159.4h0M233.9 161.1h0M314.5 151.9h0M255.4 159.1h0M285.7 159.3h0" stroke="#e8262b" stroke-width="2.4" stroke-linecap="round"/>
<path d="M231.9 150.2h0M297.2 159.5h0M260 151.1h0M232.9 170h0M275 168.9h0M262.7 158.6h0M323.8 153.7h0M247.2 173.8h0M269.1 164.3h0M226.2 177.6h0M305.6 165.7h0M272.6 174.3h0M266.2 166.7h0M244.7 150.3h0M316.9 162.3h0M236.5 169.8h0M297.2 158.6h0M259.3 171.8h0M216.8 183.2h0M263.1 153.6h0M309.4 148.4h0M257.4 165.8h0M284.2 163.6h0M313.2 158.3h0M273.7 167.1h0M239.8 171.6h0M281.2 165.1h0M252.5 174.2h0M219.3 186.6h0M288.7 160.9h0M292.5 153.2h0M304.2 161.5h0M272.2 166.7h0M209.2 190.2h0M297.6 163.6h0M279 164.7h0M309.1 169.1h0M218.2 177.6h0M245.8 168.2h0M215.8 170.9h0M295.9 161h0M276.6 159.9h0M293 154.6h0M309 165.1h0M263.1 167.1h0M236.5 158.3h0M273 161.3h0M296.6 158.6h0M287.5 160.4h0M320.5 158.7h0M230.6 156.7h0M288.3 169.3h0M236.7 170.8h0M323.1 170.4h0M236 175.7h0M239.3 179.5h0M268.1 165.7h0M275.2 165.1h0M236.1 173.5h0M255.9 166.8h0M218.6 174.5h0M219.8 176h0" stroke="#f9c24d" stroke-width="2.4" stroke-linecap="round"/>
<path d="M199.8 200.4h0M223 163.7h0M215.7 182.2h0M205.8 180h0M227 174.9h0M269.8 169.1h0M210.9 181.4h0M209.9 170.8h0M208.5 189.6h0M202.2 182.2h0M244.9 167.1h0M273.7 164.3h0M201.7 197.9h0M289.9 167.7h0" stroke="#c9c9c9" stroke-width="2.4" stroke-linecap="round"/>
<path d="M222.5 143.8h0M305.4 172.3h0M323.4 157.2h0M297.1 165.9h0M246.8 165.4h0M300.8 162.9h0M319.9 169.9h0M299.2 165.7h0M267.1 152.4h0M258.5 148.4h0M234.6 143.4h0M244.8 152h0M261.1 165.6h0M266.8 156.7h0M286.4 158.6h0M287.1 169.8h0M255.4 154.4h0M281.2 163.1h0M269.2 167.4h0" stroke="#3b7fc6" stroke-width="2.4" stroke-linecap="round"/>
<path d="M282.9 165.2h0M239.2 152.8h0M225.5 146.7h0M291.5 175.6h0M235.9 155.9h0M211 147.4h0M286.5 163.5h0M260.7 156.2h0M230.9 155.6h0M275.2 154.5h0M296.8 158.8h0M295.1 158.8h0M315.9 150.5h0M270.1 163.1h0M296.5 168.3h0M204.3 182.1h0M308.7 164.8h0M207.5 142.7h0M246.2 156.6h0M277.5 158h0M242.8 149.3h0M263 159.2h0M210.4 144.9h0M214.8 142.7h0M320.2 169.5h0M323.7 155.5h0M235.3 146.7h0M307.1 160h0M215.3 146.7h0M288.9 156.2h0M305.5 168.1h0M294.8 165.9h0M211.7 153.7h0M265.9 144.6h0M300.7 156h0M303.8 156.9h0M238.4 159h0M298.7 171h0M252.7 147.9h0" stroke="#45a948" stroke-width="2.4" stroke-linecap="round"/>
<path d="M278.5 159.3h0M251.4 167.2h0M286.7 152.6h0M268.7 156.1h0M213.3 149h0M270.7 154.7h0M272.4 163.1h0M248.3 173.3h0M253.3 154.2h0M232 156.5h0M237 166.3h0M276.9 154.6h0M230.8 173.5h0M287.1 161.6h0M234.2 145.9h0M232 152.3h0" stroke="#3b7fc6" stroke-width="2.4" stroke-linecap="round"/>
<path d="M304 169.2h0M229.6 149.9h0M264.8 155.6h0M309.1 155.6h0M274 168.4h0M221.7 136.3h0M257 166.1h0M308 162.9h0M197.9 123.9h0M321.5 160.1h0M231.1 146.2h0M290.1 171.8h0M289.3 157.5h0M255.7 159.4h0M316.3 155.3h0M262.8 159.9h0M266.8 164h0M233.8 154.7h0M307.5 153.7h0M248.6 164.4h0M275.9 160.9h0M225 152.8h0M313.4 159.2h0M265.3 161.9h0M245.7 151.6h0M205.5 139.6h0M304.2 161.7h0M257.4 155h0M247.7 161.7h0M308.4 165.8h0M255.6 149.5h0M289.7 155.3h0M285.3 155.7h0M231.9 150.3h0M277.5 165.6h0M200.4 143.5h0M235.4 155.7h0M251.1 159.5h0M260.9 181.2h0M279.3 153.8h0M322.2 156.5h0M228.9 148.4h0M234.6 150.7h0M266.2 153.3h0M267.3 159.6h0" stroke="#45a948" stroke-width="2.4" stroke-linecap="round"/>
<path d="M207.5 152.3h0M229.5 170.8h0M254.4 159.2h0M280 172.3h0M207.2 171.1h0M227.2 171.2h0M262.9 173.2h0M321.7 150.8h0M290.3 166.9h0M288.4 172.9h0M246.5 145.1h0M264.4 163.1h0M214.7 151.1h0M209.7 176.5h0M286.4 164.4h0M247.7 154.6h0M274.1 157.1h0M223.5 180.4h0M285.8 177.4h0M201.4 137.4h0M225.2 175.3h0M244.3 167.2h0M273.1 168.6h0M239.5 175h0M303.1 146.8h0M272.5 169.6h0M289.9 153.3h0M267.5 173h0M284.1 166.2h0M246.4 163.4h0M258.8 145.9h0M268.2 168.1h0M296.9 164.6h0M264.7 179.1h0M224.9 182.4h0M204.4 180.7h0M278.1 156.1h0M307 165.4h0M282 169h0M312.4 168.3h0M265.6 171.4h0M249.5 169h0M284.3 164.9h0M313.5 171.8h0M264.9 173.3h0M213.5 186.5h0M230.6 168.4h0M220 168.6h0M310.7 162.9h0M310.7 176.7h0M308.2 151.8h0M242.5 167.7h0" stroke="#f9c24d" stroke-width="2.4" stroke-linecap="round"/>
<path d="M270.4 168.4h0M232.4 171.9h0M279.3 160.4h0M234.3 167.6h0M216.4 184.2h0M210.9 178.1h0M283.2 161.1h0M311.1 159.8h0M198.8 184h0M252.3 174.5h0M213.9 177.6h0M315.5 160.2h0M212.8 185.2h0M200.3 189.4h0" stroke="#c9c9c9" stroke-width="2.4" stroke-linecap="round"/>
<path d="M198.9 135.5h0M294.6 165.5h0M296.2 151.3h0M220.1 147.2h0M211.3 147.8h0M234.6 151.2h0M259.2 147.7h0M211 152h0M252.5 152.8h0M199.8 139.1h0M219.9 141.6h0M284.8 158.7h0M217.9 153.1h0M209.4 147.7h0M321.8 160.4h0M218.8 147.8h0M283.2 158h0M211.8 142.7h0M269.3 156.1h0M296.9 153.8h0M308.3 163.6h0M198.8 136.9h0M311 169.5h0M213.6 140.7h0M199.7 134.9h0M206.9 141.4h0M267.6 162.1h0M201.3 142.9h0M228.2 149.6h0M203.2 130.3h0M294.3 161.6h0M243.3 161h0M278.3 159.4h0M277.2 157.5h0M216.7 134.5h0M315.9 170h0M205.7 150.2h0M315.9 159.5h0M286.5 162.7h0M314.2 175.4h0M231 154.1h0M259.2 155.2h0M300.9 156.2h0" stroke="#e8262b" stroke-width="2.4" stroke-linecap="round"/>
<path d="M249.7 170.4h0M243.5 164.8h0M228.3 174.8h0M203.1 137.6h0M299.7 179.8h0M320.5 166.9h0M222 177.4h0M285.9 170.5h0" stroke="#f9c24d" stroke-width="2.4" stroke-linecap="round"/>
<path d="M248.4 158.5h0" stroke="#c9c9c9" stroke-width="2.4" stroke-linecap="round"/>
<path d="M318.2 153.6h0M271 153.2h0" stroke="#45a948" stroke-width="2.4" stroke-linecap="round"/>
<path d="M289.5 150.6h0M262.1 156.4h0M219.8 143.4h0" stroke="#3b7fc6" stroke-width="2.4" stroke-linecap="round"/>
<path d="M292 159.8h0M200.6 136.9h0M210.6 139.1h0M239.1 153h0M290.5 157.9h0M324.2 154.2h0" stroke="#e8262b" stroke-width="2.4" stroke-linecap="round"/>
<line x1="191.6" y1="122.5" x2="191.6" y2="207.2" stroke="#777" stroke-width="0.8" />
<line x1="189.3" y1="122.5" x2="191.6" y2="122.5" stroke="#777" stroke-width="0.8" />
<text x="187.3" y="124.3" font-size="7.9" text-anchor="end">30</text>
<line x1="189.3" y1="143.6" x2="191.6" y2="143.6" stroke="#777" stroke-width="0.8" />
<text x="187.3" y="145.4" font-size="7.9" text-anchor="end">15</text>
<line x1="189.3" y1="164.8" x2="191.6" y2="164.8" stroke="#777" stroke-width="0.8" />
<text x="187.3" y="166.6" font-size="7.9" text-anchor="end">0</text>
<line x1="189.3" y1="186" x2="191.6" y2="186" stroke="#777" stroke-width="0.8" />
<text x="187.3" y="187.8" font-size="7.9" text-anchor="end">−15</text>
<line x1="189.3" y1="207.2" x2="191.6" y2="207.2" stroke="#777" stroke-width="0.8" />
<text x="187.3" y="209" font-size="7.9" text-anchor="end">−30</text>
<line x1="197.7" y1="211.2" x2="325" y2="211.2" stroke="#777" stroke-width="0.8" />
<line x1="197.7" y1="211.2" x2="197.7" y2="213.2" stroke="#777" stroke-width="0.8" />
<text x="197.7" y="219.5" font-size="7.4" text-anchor="middle">0</text>
<line x1="229.5" y1="211.2" x2="229.5" y2="213.2" stroke="#777" stroke-width="0.8" />
<text x="229.5" y="219.5" font-size="7.4" text-anchor="middle">500</text>
<line x1="261.4" y1="211.2" x2="261.4" y2="213.2" stroke="#777" stroke-width="0.8" />
<text x="261.4" y="219.5" font-size="7.4" text-anchor="middle">1,000</text>
<line x1="293.2" y1="211.2" x2="293.2" y2="213.2" stroke="#777" stroke-width="0.8" />
<text x="293.2" y="219.5" font-size="7.4" text-anchor="middle">1,500</text>
<line x1="325" y1="211.2" x2="325" y2="213.2" stroke="#777" stroke-width="0.8" />
<text x="325" y="219.5" font-size="7.4" text-anchor="middle">2,000</text>
<text x="255.8" y="116.6" font-size="8.2" text-anchor="middle" font-style="italic" textLength="16" lengthAdjust="spacingAndGlyphs">MB2</text>
<text x="176.5" y="164.8" font-size="8.2" text-anchor="middle" textLength="30" lengthAdjust="spacingAndGlyphs" transform="rotate(-90 176.5 164.8)">MB2 pc1</text>
<text x="225.5" y="128.6" font-size="8.2" textLength="32.5" lengthAdjust="spacingAndGlyphs">MB2_UF</text>
<text x="228" y="206" font-size="6.5" textLength="25.5" lengthAdjust="spacingAndGlyphs">MB2_LF</text>
<text x="261" y="228.5" font-size="8.3" text-anchor="middle" textLength="43.6" lengthAdjust="spacingAndGlyphs">MB2 ranking</text>
<text x="177.2" y="238.6" font-size="6.9" textLength="19.3" lengthAdjust="spacingAndGlyphs">PAM50</text>
<circle cx="200.2" cy="235.9" r="1.45" fill="#e8262b"/>
<text x="203.7" y="238.6" font-size="6.9" textLength="15.3" lengthAdjust="spacingAndGlyphs">Basal</text>
<circle cx="222.2" cy="235.9" r="1.45" fill="#3b7fc6"/>
<text x="225.7" y="238.6" font-size="6.9" textLength="13.5" lengthAdjust="spacingAndGlyphs">Her2</text>
<circle cx="243" cy="235.9" r="1.45" fill="#f9c24d"/>
<text x="246.5" y="238.6" font-size="6.9" textLength="15.8" lengthAdjust="spacingAndGlyphs">LumA</text>
<circle cx="265.1" cy="235.9" r="1.45" fill="#45a948"/>
<text x="268.6" y="238.6" font-size="6.9" textLength="15.9" lengthAdjust="spacingAndGlyphs">LumB</text>
<circle cx="287.7" cy="235.9" r="1.45" fill="#c9c9c9"/>
<text x="291.2" y="238.6" font-size="6.9" textLength="20.2" lengthAdjust="spacingAndGlyphs">Normal</text>
<path d="M491.6 122L363.9 178.7M363.9 178.7L427.8 207.1" stroke="#bbb" stroke-width="0.6" fill="none"/>
<path d="M379.4 143.5h0M468.9 173.4h0M380.1 144.3h0M371.7 132.6h0M423.5 178.4h0M471.1 174.5h0M433.3 177.3h0M471.1 176.9h0M403.9 172.5h0M459.1 170.7h0M376.7 146.3h0M412.8 186h0M469 171.3h0M434.3 181.9h0M429.5 184.2h0M382.8 177.5h0M433.1 181.1h0M452.5 182h0M452.1 174.4h0M381.2 176.1h0M465.6 172.2h0M459.7 167.5h0M442.3 182.4h0M395.8 163.3h0M461.8 168h0M425.8 176.5h0M456.5 181h0M449.9 174.2h0M383.2 155.9h0M371.2 177.2h0M416.7 168.2h0M459.4 179.1h0" stroke="#3b7fc6" stroke-width="2.4" stroke-linecap="round"/>
<path d="M379.1 177.6h0M441.2 184.8h0M451 169.4h0M451.4 182.7h0M454.9 180.6h0M482.4 176.1h0M468.6 176.2h0M370.9 168.7h0M445.4 172.9h0M435.7 186.1h0M472.4 176.2h0M437 183.7h0M476.8 182.7h0M462.6 178.1h0M484.8 173.5h0M381.2 185.4h0M408.7 167.7h0M409.8 166.5h0M429.2 186.8h0M489.4 176h0M382.7 175h0M373.5 188.8h0M391.3 174.7h0M393.6 170.5h0M439.7 185.8h0M379.6 157h0M467.5 171.3h0" stroke="#45a948" stroke-width="2.4" stroke-linecap="round"/>
<path d="M444.1 176.6h0M391.7 192.7h0" stroke="#c9c9c9" stroke-width="2.4" stroke-linecap="round"/>
<path d="M389.8 188.2h0M468.1 175.2h0M367.9 187.9h0M371.9 185.2h0M408.4 165.2h0M383.7 177.2h0M444.4 163.5h0M398.9 186.2h0M432.5 174h0M434.2 182.5h0M460.9 179.1h0M401.4 182.4h0M374.5 178.8h0M414.7 190.9h0M417.7 177.2h0M457.4 181.3h0M384.2 170.3h0M425.4 179.4h0M386.8 178.2h0M403.3 187.9h0M456.1 180.8h0M420.3 181.6h0M381.4 186.2h0M365.7 171.1h0M392.4 201.7h0M383.8 184.8h0M411.7 172.6h0M368.3 195.3h0M364.5 176.3h0M446.3 174.1h0M403.3 187.4h0M369.9 176.9h0M373.9 185.7h0M388.5 198h0M424 178.5h0M394.1 186.4h0M369.1 172.5h0M372 177.4h0M378.2 149.5h0M416.8 187.2h0M463.4 189.4h0M424.4 177.4h0M376.1 181.1h0M404.1 183.4h0M449.5 172.7h0M466.3 169.4h0M457 185.8h0M472 183.2h0M445 178.9h0M430.9 167.6h0M398.7 183.6h0M403.6 173.2h0M418.5 177.2h0M410.1 174.4h0M375.6 182.9h0M416.5 182.7h0M452.5 177.1h0M441.6 183.4h0M433.5 179.7h0M396.3 184.4h0M443.3 185.2h0M372.1 184.8h0M368 183.3h0M444 174h0M403.4 190.6h0M433.3 171.3h0M453.1 179.2h0M399.5 162.1h0M389.4 174.6h0M480.2 170.4h0M409.6 172.3h0" stroke="#f9c24d" stroke-width="2.4" stroke-linecap="round"/>
<path d="M430 179h0M408.7 174.5h0M479.6 174.2h0M482.8 181.7h0M419.4 183.6h0M489 177.8h0M437 174.2h0M479.1 178h0M471.4 178.4h0M479.8 184.8h0M435.2 179.6h0M465.4 175.5h0M451.8 171.4h0M491.2 183.5h0M466.2 180.6h0M477.4 186.5h0M401.6 180.9h0M399.4 181h0M436.6 174.8h0M484 166.4h0M449.2 165.1h0M397.5 184h0M460.4 188.8h0M420.1 171.5h0M467.8 170.6h0M483.2 180.6h0M369.4 177.2h0M389.9 191.7h0M461.1 171.1h0M370.9 180h0M441.2 178.1h0M454.9 174.2h0M459 172.7h0M430.5 175.9h0M483.8 170.5h0M463.3 167.4h0M377.6 179h0M384.2 176.6h0" stroke="#e8262b" stroke-width="2.4" stroke-linecap="round"/>
<path d="M463.2 172.7h0M473.4 178.9h0M386.8 159.8h0M404 182.5h0M375 150h0M403.4 181.9h0M400.5 159.8h0M403.6 163.7h0M452.1 185.8h0M384.7 179.6h0M429.6 182.6h0M435.5 175.6h0M366.6 132.7h0M470.3 172.6h0M462 178h0M371.2 150.8h0M372.3 137h0M448.8 170.4h0M409.7 177.7h0M484.3 178.7h0M464.8 180.6h0M417.4 169.3h0M488.6 175.6h0M448.3 174.4h0" stroke="#3b7fc6" stroke-width="2.4" stroke-linecap="round"/>
<path d="M402.9 159.8h0M404.2 179.3h0M382.8 169.3h0M381.7 156h0M386.8 172.3h0M449 170h0M451.7 177.2h0M442.4 175.4h0M488.2 179.7h0M479.9 168.9h0M465.2 184.8h0M491.4 171.7h0M391.6 182.1h0M470.9 174.3h0M474 178.9h0M450.9 179.9h0M481.9 176.4h0M429.5 174.4h0M371.2 135.9h0M479.1 170.7h0M397 166.6h0M414.2 173.5h0M435.9 188h0M486.6 183.2h0M401.7 163.4h0M419.6 157.3h0M393.1 179.7h0M476.7 170.8h0M438.9 179.1h0M439.8 175.9h0M369 167.1h0M420.1 175h0" stroke="#45a948" stroke-width="2.4" stroke-linecap="round"/>
<path d="M440.7 173.8h0M403.2 184.9h0M461.9 172h0M371.5 147.9h0M404.9 183.9h0M407 176h0" stroke="#c9c9c9" stroke-width="2.4" stroke-linecap="round"/>
<path d="M472.2 177.9h0M452.5 176h0M439.5 171.7h0M450.3 179.8h0M488.1 185.4h0M449.3 179.9h0M453.3 185.3h0M412.2 171.3h0M435.3 175.7h0M403.7 172.8h0M482.6 184.1h0M449.6 176.3h0M382.7 167.4h0M471.4 169.5h0M477 178.9h0M483.3 177.5h0M436.3 178.7h0M483.2 176.4h0M386.9 182h0M482 179.8h0M407.8 167.7h0M491.1 165h0M484 189.1h0M455.4 170.1h0M447.8 166.1h0M440.5 185h0M378 177.6h0M423.1 175.6h0M372.8 181.3h0M404.5 179.4h0M440.8 167.1h0M461.1 186.4h0" stroke="#e8262b" stroke-width="2.4" stroke-linecap="round"/>
<path d="M372.4 140.2h0M397 171.6h0M486.7 179.7h0M366.9 178.1h0M427.8 179.3h0M483 183.2h0M487.1 178.2h0M388.5 179.3h0M462.7 179.8h0M459.3 186.1h0M409.8 176.5h0M401.8 177.8h0M387.9 179.1h0M441.7 171.5h0M459.9 170.6h0M418.9 181.8h0M404.2 175h0M439.3 179.1h0M421.3 188h0M482.7 177.2h0M364.6 170.1h0M386.5 168.6h0M395.3 181h0M367 179.4h0M370.1 190.7h0M384.5 176.7h0M426.9 178.5h0M415.2 188h0M406.6 157.6h0M406.2 168.6h0M422.4 179.3h0M397 177.8h0M400.3 172.6h0M454 163.6h0M397.7 173.9h0M385.3 171.5h0M426.6 171.7h0M404.8 158.6h0M416.3 179.4h0M407.1 174h0M420.9 184.2h0M414.8 182.9h0M422.5 183.1h0M454.2 173.4h0M417.6 177.4h0M410.8 179.6h0M423.2 169.4h0M383.9 146.8h0M427.9 179.7h0M407.5 176.7h0M472.8 170.8h0M391.7 178.7h0M430.1 177.1h0M469.6 167.3h0M412.8 185h0M431.3 182.4h0M365.1 178h0M418.2 172.3h0M368 173.5h0M390.2 189.1h0M378.9 172.8h0M402.7 179h0M417 180h0M383.9 187.9h0M411.1 182.4h0M377.5 148.3h0M434.9 182.3h0M421.2 187.4h0M426.8 177.3h0M415.6 158.5h0M386.3 167h0M459.3 174.8h0M443.4 174.2h0M420.6 191.6h0M415.4 184.7h0M401.9 180.1h0" stroke="#f9c24d" stroke-width="2.4" stroke-linecap="round"/>
<path d="M415.7 190.6h0M476.1 169.6h0M454.1 188.5h0M457.2 179.3h0" stroke="#c9c9c9" stroke-width="2.4" stroke-linecap="round"/>
<path d="M469.8 176.3h0M463.7 168.5h0M379.7 155.9h0M416.3 193.2h0M420.3 179.5h0M490.6 181.5h0M445.1 180h0M393.2 176.5h0M464.2 184.1h0M384.1 155.5h0M441.3 169.9h0M430.4 174.9h0M378.9 174.8h0M474.3 171.6h0M488.5 188.3h0M464 176.6h0M430.6 175.2h0M471.5 173.1h0M449.4 179.6h0M489.2 184.6h0M442.7 182.7h0M446 178.5h0M429 181.6h0M483.7 175h0M468.7 175.7h0M491.2 177.6h0M437.7 173.5h0M490.6 175.7h0M460.4 188.1h0M480 183.1h0M404 178.4h0M472.2 181h0M483.2 184.6h0M386.1 179.2h0M476.9 180.7h0M419.1 177.3h0M465.6 178h0M463.7 179.8h0M458.2 176.4h0M488.8 177.4h0M375.4 148.4h0" stroke="#e8262b" stroke-width="2.4" stroke-linecap="round"/>
<path d="M397.2 175.1h0M468.4 174.2h0M450.2 176.4h0M367.9 180.6h0M468.8 182.7h0M444.7 171.3h0M457.5 185.5h0M442.7 175.6h0M468.9 174.3h0M419.6 183.8h0M452.7 179h0M476.8 169.2h0M432.6 175.3h0M459.5 182.9h0M455.2 181.1h0M481.7 185.8h0M439.7 182.1h0M389.8 174.8h0M442 175.6h0M460.3 178.5h0M403.2 174.9h0M438.7 172.9h0M383.7 164.4h0M409.5 165.9h0M409.9 193.7h0M481 174.6h0M468.6 180.6h0M412.1 178.6h0M489.4 180.6h0M478.8 175.5h0M422.2 182.2h0M409 176.4h0M467.9 177h0M473.2 179.8h0" stroke="#45a948" stroke-width="2.4" stroke-linecap="round"/>
<path d="M458 174.7h0M460.4 174h0M399.3 179.1h0M429.1 171.8h0M416.7 172.5h0M437.8 178.8h0M403.9 180.6h0M374 167.4h0M397.2 185.2h0M421.5 180.9h0M419.1 172.6h0M373.9 186.7h0M441.3 179.7h0M367.1 188.1h0M453.4 176.3h0M402.5 191.8h0M436.6 169.1h0M425.2 176.2h0M402.3 185h0M370.1 168h0M411.1 178.3h0M407.8 163.5h0M463.6 176.5h0M455.1 175.6h0M364.4 180.4h0M400.8 179.4h0M469.8 177.1h0M399.8 175h0M405 178.3h0M463.9 171.2h0M444.9 180.8h0M374.9 178.2h0M435.8 172.7h0M367.5 180.7h0M438.4 166.6h0M434.1 176.7h0M379.1 171.4h0M397.4 181h0M401.3 194.6h0M458.2 175.9h0M454.8 176.7h0M380.6 162h0M378.7 195.1h0M427 176.5h0M401.8 186.4h0M400.6 170.8h0M391.8 185.6h0M411.6 181.1h0M487.2 169.5h0M430.6 176.2h0M382.3 186.8h0M423.6 175.3h0M386.4 181.2h0M418 179.8h0M387.2 185.8h0M368.7 182.1h0M381.9 176.6h0M449.8 177.1h0M433.7 173.2h0M428.3 174.3h0M414.5 173.9h0M475.9 187.9h0M372.8 184.9h0M421 183.8h0M428 161.3h0M420.5 176.9h0M445.4 181.1h0M438.7 177.5h0M369.6 169.4h0M368.9 178.4h0M369.2 168.3h0M419.5 164.9h0M454.6 184.3h0M383.2 178.9h0" stroke="#f9c24d" stroke-width="2.4" stroke-linecap="round"/>
<path d="M460.8 178.8h0M366.6 176.4h0M473.5 175.2h0M451.6 177.4h0M386.5 164.5h0M434.6 184.2h0M438 178.5h0M483.6 172.1h0M425.5 177.6h0M480.4 178.3h0M480.6 171.3h0M410.7 174.5h0M435.5 179.3h0M484.5 180.9h0M460.7 175.4h0M388.3 170.1h0M449.2 174.7h0" stroke="#3b7fc6" stroke-width="2.4" stroke-linecap="round"/>
<path d="M394 160.2h0M368 170.6h0M432.4 189.3h0M408.4 174.3h0M385.5 178.4h0M424.2 184h0M430.9 168.9h0M401.2 182.1h0M455.4 176.8h0M391.7 172.5h0M430.9 175.2h0M444.9 173.1h0M388.8 189.7h0M385.2 181.6h0" stroke="#c9c9c9" stroke-width="2.4" stroke-linecap="round"/>
<path d="M476.8 177h0M386.5 174.9h0M413.6 186.8h0M431 181.7h0M467.7 178.7h0M398.1 170h0M388.2 185.3h0M428.1 174.5h0M399.7 175h0M379.2 192.1h0M429 177.9h0M413.6 185.3h0M387.3 198.4h0M419.6 165.7h0M383.2 188.3h0M405.7 157.5h0M394.7 178.4h0M486.9 174.3h0M417 197.6h0M365.3 180.3h0M379.4 152h0M421.6 182.9h0M364.4 175.6h0M394.9 170.9h0M365.4 187.2h0M438 186.1h0M423.5 165.4h0M477.9 180.4h0M383.4 177.9h0M467.8 179.9h0M390.1 180h0M365.3 177.2h0M442.9 174h0M426.1 174.9h0M388.5 178.4h0M410.9 182.3h0M420.7 170.9h0M420.9 188.8h0M448.5 183.2h0M406.3 179.4h0M410.1 176.1h0M386.8 184.2h0M440 170.4h0M373.3 174.5h0M412.2 177.4h0M366.6 171.8h0M401.2 171.5h0M365.2 176h0M408.9 186.4h0M371.3 180.2h0M432.4 173h0M388.3 155h0M412.2 183.5h0M379.3 182.4h0M405.3 180.2h0M364.4 188.9h0M378 188.7h0M377.4 180.4h0M444.4 179.7h0M408.7 187.3h0M389.7 187.2h0M425.9 175h0M386 179.5h0M404.7 183.5h0M426.8 169.8h0M384.3 185.6h0M387 176.6h0M408.7 184.3h0M366.4 179.1h0" stroke="#f9c24d" stroke-width="2.4" stroke-linecap="round"/>
<path d="M392.1 162.6h0M464 177.8h0M484.7 184.7h0M378.8 188.1h0M450.6 180h0M480.8 177.9h0M391 162.6h0M434.6 177.4h0M457.1 177h0M446 175.9h0M458.3 175.3h0M393.5 169.3h0M466.7 177.7h0M394.2 167.1h0M488.8 176.8h0M399.3 161.8h0M459.6 180.9h0M426.7 179.2h0M475.2 172.2h0M452.7 192h0M491.4 168.2h0M472.2 173.3h0M475.1 182.9h0M483.8 175.5h0M389.3 186.5h0M457 166.5h0M433.5 164.9h0" stroke="#e8262b" stroke-width="2.4" stroke-linecap="round"/>
<path d="M438.4 177.8h0M458.8 169.8h0M491 177.9h0M370.4 174.1h0M454.1 168.7h0M486.1 184.3h0M415.4 182.9h0M424.2 181.2h0M458.2 179.5h0M463.6 176.3h0M409.7 174h0M408.2 170.8h0M474.8 174.2h0M427.3 173.3h0M459.4 175.2h0M425.8 162.7h0M463.2 179.5h0M430 166.1h0M384 149.4h0M427.7 177.6h0M432.6 178.2h0M449.5 177.3h0M364 190.6h0M469.6 181.4h0M450.9 171.9h0M451.9 187.9h0M485.3 178.1h0M431.6 184.8h0" stroke="#45a948" stroke-width="2.4" stroke-linecap="round"/>
<path d="M405.5 165h0M384.1 158.5h0M399.8 161.3h0M451.7 177h0M392.6 179h0M406.7 182.9h0M427 168.1h0M483.3 179.5h0M438.4 185.7h0M386.6 166.5h0M482.4 179.8h0M448.1 174.3h0M449.6 166.5h0M428.3 184h0M373.6 147.6h0M429 178h0M449.5 178.3h0M439.2 181.3h0M438.3 178.2h0M413.2 166.9h0M410.9 165.2h0M460.5 175.9h0M378.6 183.5h0M455.5 176.7h0M370.1 134.6h0M365.8 172.1h0M472 171.8h0M425.5 181.1h0M375 174.5h0M369.3 145.5h0M388.2 154.8h0M477.7 173.5h0" stroke="#3b7fc6" stroke-width="2.4" stroke-linecap="round"/>
<path d="M396 193.9h0M434 174.5h0M445 182.1h0M418.6 185.6h0M405.8 175.7h0M382.6 189h0M419.4 169.1h0M441.5 179.5h0M372.9 179.3h0M393.1 179.6h0M457.5 176.8h0M424.2 172.4h0M403.9 174.4h0M371 166.7h0M410.8 167.2h0M370.9 181.1h0M455.9 179.6h0M375.8 178.8h0M397.1 178.2h0M365.3 181h0M416.8 176.7h0M365.6 169.2h0M405.3 180.1h0M368.7 147.3h0M406.1 169.7h0M483.8 177h0M446.2 176.4h0M373.6 152.5h0M429 179.2h0M445.9 182.2h0M455.3 178.1h0M435.9 177.4h0M423.7 171.3h0M395.7 186.1h0M385.5 177.3h0M394.4 170.9h0M370.8 176.1h0M364.2 186.4h0M458.9 180.6h0M444.4 171.6h0M419 192.2h0M421.1 175h0M467 177.1h0M380.2 184.8h0M465.9 185.2h0M409.2 179.4h0M382.1 156.7h0M400.5 188.4h0M438.9 172h0M439.7 174.8h0M421.6 181h0M400.8 175.9h0M412.1 191.8h0M368.6 171.4h0M419.6 182.8h0M426.5 170.7h0M384.3 177.9h0M444.9 178.1h0M384.8 159.6h0M451.2 172.5h0M421.3 173.3h0M405.2 190h0M376.9 158.8h0M384 176.9h0M444.1 179.3h0M419.7 167.1h0M390.1 181.7h0M419.7 174.6h0M447.8 186.9h0M409.5 176.5h0M395.4 183.8h0M412.8 182.9h0M417.6 190.5h0M406.4 181.3h0M481.8 180h0M423.1 194.2h0M451.2 180.8h0" stroke="#f9c24d" stroke-width="2.4" stroke-linecap="round"/>
<path d="M419.4 175.1h0M440.5 175.5h0M468.6 172.5h0M404.2 164.7h0M431.9 176.3h0M365 185.8h0M423.7 172.5h0M382.1 172h0M432.9 181.8h0M421.4 168.1h0M379 180.4h0M454.9 175.4h0M378.7 156.3h0M484.9 183h0M478.2 189.8h0M469.2 182.4h0M450.8 184.9h0M456.2 177.7h0M467.8 180.9h0M380.8 168.9h0M429.1 181.4h0M482.6 187.2h0M450 167.4h0M450.5 180.7h0M488.4 164.8h0M454 178.8h0M431.2 180.9h0M471.5 179h0M480 177.7h0M393.2 160.1h0M442.2 185.2h0M480.3 183.9h0" stroke="#e8262b" stroke-width="2.4" stroke-linecap="round"/>
<path d="M383 158.7h0M365 181.4h0M403 174.9h0M480.2 181.9h0M440.8 183.4h0M488.3 176.9h0M415.5 172.2h0M467.8 175.9h0M465.1 169.7h0M443.9 165.3h0M447.7 173.8h0M482 173.1h0M400.7 173.1h0M445.6 179h0M387.5 190.5h0M403.4 159.3h0M406.3 177.9h0M484 173.4h0M457 180.2h0M466.6 171.4h0M415.3 180.4h0M436.4 177.5h0M372.7 171.7h0M433.1 166.7h0M376.9 172.6h0M462.4 178.5h0M439.5 174.4h0M447.7 186h0M371.8 178.3h0M431.9 180.4h0M486.9 170h0" stroke="#3b7fc6" stroke-width="2.4" stroke-linecap="round"/>
<path d="M490 182.2h0M438.2 180h0M455.4 175.2h0M486.9 169.3h0M486 179.8h0M421.8 180.8h0M469.9 176.1h0M426.3 182.7h0M433.4 182.5h0M393 170.2h0M426.5 170.6h0M453.5 170h0M376.7 184.9h0M485.3 177.6h0M459.1 168.6h0M450.8 174.4h0M416.1 175.9h0M366 136.7h0M411.5 180.8h0M453 180.3h0M481.9 172.1h0M391.5 174.6h0M382.7 177.3h0M463.4 173.1h0M408 182.6h0M395.3 175h0M433.9 173.6h0M417.5 187h0" stroke="#45a948" stroke-width="2.4" stroke-linecap="round"/>
<path d="M419.1 172.7h0M410.6 192.3h0" stroke="#c9c9c9" stroke-width="2.4" stroke-linecap="round"/>
<path d="M401.2 198.5h0M448.4 174.1h0M373.6 187.4h0" stroke="#c9c9c9" stroke-width="2.4" stroke-linecap="round"/>
<path d="M459.9 169.2h0M462.1 173.7h0M472.3 178.8h0M473.7 176h0M406.3 173.9h0M479 189.9h0M443.5 181.2h0M470.7 171.6h0M483.2 174.3h0M381.8 182.5h0M488.2 181.7h0M449.7 185.9h0M408.2 187.5h0M483.5 180.1h0M376.3 177.8h0M459 173.4h0M391.9 162.8h0M424.6 166.8h0M365 177.6h0M428.7 171.5h0M432.1 183.1h0M433.1 181.2h0M433.5 180.3h0M371.7 168.3h0M489.2 182.5h0M407.1 161.3h0M477.3 188.8h0M425.5 176.3h0M434.5 172.6h0M466.3 178.9h0M409.5 196.4h0" stroke="#45a948" stroke-width="2.4" stroke-linecap="round"/>
<path d="M486.4 174.6h0M486.6 173.3h0M475.9 173.4h0M484.7 183.3h0M468 176.9h0M410.8 170.6h0M435.9 182.2h0M489.7 180h0M448.6 172.6h0M467.7 174.9h0M468 176.8h0M418.1 165.3h0M482 185.3h0M479.6 173.1h0M428.2 177h0M434.4 174h0M470.9 170.9h0M459.7 187.7h0M393.8 161.8h0M392.4 176h0M485.5 174.2h0M460.9 181.5h0M486.6 182.6h0M464.3 171.3h0M406.3 180.3h0M372.9 170.6h0M486.7 167.9h0M418.8 175.9h0M486.5 184.7h0M466.7 174.7h0M472.8 176.9h0M445.6 179.1h0M430.6 176.5h0M379.1 184h0M456.7 161.8h0" stroke="#e8262b" stroke-width="2.4" stroke-linecap="round"/>
<path d="M427.7 182.5h0M375.5 189.6h0M413 166.4h0M401.6 175.9h0M385.3 169h0M438.9 170.4h0M396.8 178.8h0M435.8 169.3h0M428 176.8h0M427.2 180h0M384.3 167h0M454.4 180.6h0M431.4 168.2h0M436.2 174.3h0M411.7 173.6h0M436.4 191.6h0M410.5 163.7h0M435.4 169.2h0M398.8 186.5h0M394.7 186h0M385.9 176.8h0M385.3 165.9h0M472.9 176.7h0M396.8 177.7h0M433.1 179.9h0M486.1 169.1h0M370.8 171.7h0M373.1 190h0M475 171.4h0M399.5 174.2h0M424.7 170.5h0M409.8 174.3h0M400.9 173.6h0M434 167.8h0M363.9 189.4h0M383.3 169.8h0M414.7 191.4h0M441.4 176h0M422.2 171.5h0M381.9 185.9h0M436.8 181.4h0M406.6 180.3h0M367.2 143.7h0M382.6 181.3h0M430.5 180.9h0M407.4 170.3h0M366.4 177.7h0M368.1 135.1h0M403.8 181.6h0M445.6 178.4h0M453 177.1h0M373 175.6h0M370.4 144.6h0M417.3 192.5h0M437.4 177.6h0M384.1 191.6h0M414.1 191.3h0M398.5 179.1h0M446.9 171.8h0M491.3 181.1h0M438.1 164.2h0M419.2 180h0M404.7 172.2h0M368.6 180.9h0M487.7 186.1h0M454 179.6h0M401.3 196h0M439.7 179.5h0M414 181.1h0" stroke="#f9c24d" stroke-width="2.4" stroke-linecap="round"/>
<path d="M374.1 181.7h0M442.5 185.6h0M417.6 167.4h0M491.1 175.8h0M450.2 170.3h0M406.3 175.1h0M462.1 177.2h0M461.9 184h0M439.7 173.5h0M423.9 162.6h0M468.9 182.1h0M482.4 179.4h0M395.1 167.3h0M393.6 187.6h0M440 176h0M435.2 181.4h0M403 186.4h0M367.4 136.5h0M382 182.1h0M372.6 150h0M431.9 180.9h0M381.8 177.5h0M419.9 168h0M426.7 171.3h0M429.1 166.5h0M466.1 181.4h0M480.2 176.7h0M443.6 171.4h0M485.2 173.6h0M426.9 176.5h0M409.9 175.9h0M442.3 172.8h0" stroke="#3b7fc6" stroke-width="2.4" stroke-linecap="round"/>
<path d="M476.1 189.2h0M460.7 174.7h0M364.1 171.5h0M444.2 170.5h0M364.7 137.8h0M438.6 179.2h0M421.7 167h0M447.6 176.6h0M364.3 180.5h0M427.3 172.2h0M452.2 170.4h0M462.1 180.7h0M441.9 172h0M428.6 174h0M433.7 170h0M467 168.8h0M435.7 183.6h0M415 182.7h0M473.6 173.8h0M428.7 180h0M372.6 169.4h0M457.1 175.6h0M428.1 178.9h0M471.8 180.4h0M444.8 175.9h0M466.1 175.1h0M483.6 170.6h0M413.1 184.7h0M426.8 166h0M401.6 175.2h0M368.9 174.4h0M488.9 184h0M488.1 179.8h0" stroke="#45a948" stroke-width="2.4" stroke-linecap="round"/>
<path d="M399.5 177.3h0M441.8 182.6h0M379.9 162h0M441.9 174h0M378.8 172.1h0M367.3 170.4h0M448.9 164.2h0M434.9 187.3h0M384.5 161.1h0M438 182.9h0M367.1 126.4h0M364.6 132.4h0M465.1 169.8h0M436.2 179.8h0M431.9 181.8h0M465.5 186.3h0M475.3 176.5h0M376.6 164.8h0M390.8 172.8h0M417 171.9h0M466.1 180.6h0M400.6 171.2h0M456.6 181.1h0M480 179.1h0M425.6 165.2h0M464.9 175h0M489.6 174.4h0M484 183.4h0M440.9 176.2h0M462.9 171.8h0" stroke="#3b7fc6" stroke-width="2.4" stroke-linecap="round"/>
<path d="M434.7 176.6h0M380.6 184.6h0M424.2 185.5h0M416.7 174.4h0M427.2 185.1h0M403.8 172.3h0M397.2 183.8h0M385.8 205.6h0M487.2 184.9h0M407 166.1h0M473.4 179.1h0M381.7 160.9h0M414 174.4h0M370.1 167.1h0M382.9 164.2h0M383.3 151.8h0M482.2 175.6h0M400.9 190.1h0M380.2 194.2h0M371.5 181.8h0M366.8 171h0M377.9 154h0M417.5 184h0M376.3 181.9h0M413.3 190.7h0M444.1 178.3h0M405.5 204h0M404.7 163h0M376.6 184h0M373.1 178.5h0M429.6 184.2h0M364.1 177.6h0M434.3 167.6h0M447.1 172.4h0M365 130.4h0M411.3 176.9h0M402.9 180.3h0M404.6 186.8h0M469.6 179.4h0M413.6 185.2h0M406.8 179h0M365.1 183.9h0M427.8 179h0M449.1 175.4h0M427 182.6h0M387.1 168.3h0M366.9 190.5h0M436.4 190.3h0M371.9 171.9h0M403.4 167h0M383.9 182.4h0M466.2 178.5h0M397.4 174.7h0M426.1 170.8h0M491.5 177.9h0M410.3 173h0M411.9 194.7h0M404.9 177.2h0M478.1 168.8h0M380.2 184.6h0M441 185.4h0M406.1 178.1h0M439.3 178h0" stroke="#f9c24d" stroke-width="2.4" stroke-linecap="round"/>
<path d="M443.8 176.5h0M442.8 172.2h0M431 185.1h0M438.5 179.3h0M448.1 172.6h0M473.9 171.7h0M379.6 176.8h0M481.5 166.6h0M450.7 174.9h0M389.8 191.6h0M477 171.4h0M441.3 172.3h0M416.6 167.1h0M434.3 173.8h0M375.3 174h0M409.2 181h0M366 137.5h0M394.8 159.4h0M413 178.5h0M375.3 169.5h0M490.7 171.9h0M451.6 179h0M416.1 175.3h0M482.9 171.7h0M414.1 178.6h0M490.2 177.4h0M462.7 174.7h0M475.9 170.7h0M456.5 178.4h0M430 176.8h0M440.6 180.2h0M466.8 181.3h0M452.4 169.8h0M407.9 169.7h0M480.6 170.9h0M461.5 178.8h0M472.7 180.5h0" stroke="#e8262b" stroke-width="2.4" stroke-linecap="round"/>
<path d="M391 179.6h0M386.1 165.6h0M460.7 177.2h0M425.2 169.3h0M405.9 168.3h0M405.8 174h0M459.4 175.7h0" stroke="#c9c9c9" stroke-width="2.4" stroke-linecap="round"/>
<path d="M476.4 180.6h0M428.9 179.4h0M477.7 168.5h0M479.1 177.3h0M462.2 174.3h0M427.1 180.9h0M490.4 184.9h0M421.9 170.8h0M490.9 175.4h0M429.1 184.1h0M460.9 181.3h0M407.5 196.8h0M388.1 171.7h0M450.4 171.8h0M412.9 158.9h0M454.3 183.4h0M470.3 177.5h0M472.3 174.4h0M424.9 183.6h0M474.5 174.3h0M462 175.9h0M404.4 168.6h0M451 177h0M461.3 175.7h0M490.6 179.2h0M384.6 148.9h0M469.5 175.3h0M428.8 181.3h0M490.3 177.5h0M437.3 180.4h0M464 176.7h0M463.7 181.2h0M464.5 185.6h0M404.3 183.1h0M470.3 191.8h0M364 179.7h0M450.3 176h0M455.6 177.4h0M474.3 173.6h0M446.7 176.4h0M455 187h0" stroke="#45a948" stroke-width="2.4" stroke-linecap="round"/>
<path d="M402.9 172.2h0M381.4 185.9h0M447.4 174.8h0M444.1 178.2h0M424.2 192.4h0M431.2 177.2h0M369.5 178.8h0M412.2 172.4h0M441.9 174.4h0M490.9 179.5h0" stroke="#c9c9c9" stroke-width="2.4" stroke-linecap="round"/>
<path d="M365.1 179h0M408.2 177.1h0M401.9 176.1h0M427.3 176.3h0M364.4 144.2h0M436.2 178.7h0M390.8 183.9h0M370.7 136.5h0M471.4 177.6h0M421.6 178.5h0M391.5 167.3h0M366.5 183.6h0M456.3 170.8h0M404.5 174.5h0M417.1 165.9h0M466.1 172.4h0M403.3 185.6h0M394.9 189.1h0M389.1 188.1h0M417.3 176.2h0M408.5 196.4h0M379.9 181.8h0M484.3 176.3h0M409.6 175.8h0M427.9 175.7h0M419.8 192.4h0M438.4 185.4h0M468.8 171.9h0M368.3 171h0M467.8 177.1h0M428.5 189.8h0M402.3 184h0M389 180.1h0M419.7 179.1h0M439.8 172h0M445.2 181.3h0M376.5 189.3h0M433.6 177.2h0M382.7 175.2h0M442.2 171.3h0M366.1 187.4h0M397.2 187.2h0M407.9 181.4h0M379.7 180.6h0M390.5 190.1h0M422.2 174.9h0M399.4 184h0M419.2 187.1h0M409.8 190.1h0M485.5 172.4h0M429.2 167.9h0M378.3 179.5h0M418.5 165.9h0M409.5 174.6h0M415.2 179.6h0M403.9 183.4h0M442.2 173.8h0M435.9 174h0M399.1 167.7h0M403.6 197.4h0M443 184.4h0M419.8 170.9h0M456.2 183.4h0M475.9 174.3h0" stroke="#f9c24d" stroke-width="2.4" stroke-linecap="round"/>
<path d="M477.7 179h0M457.2 172.4h0M448.5 180.4h0M471.5 176.3h0M439.5 176.6h0M471.4 172.5h0M483.7 171.1h0M477.1 166.7h0M369.6 181.1h0M443.7 169.6h0M408.2 178.8h0M464.5 180.9h0M401.9 176.8h0M467.5 176.2h0M485 175.5h0M390.5 187.1h0M484.2 182.7h0M463.9 197.7h0M416.9 183h0M424.9 171.9h0M419.8 180.3h0M420.6 177.3h0M370.3 183.6h0M490.1 170.2h0M488.6 179.3h0M468.4 170.2h0M472.3 175.2h0M469.4 175.6h0M425.6 179h0M480.4 175h0M485 175.3h0M487.7 175h0M490.1 184.2h0M405.9 159.1h0M472.4 183.7h0M375.6 173.9h0M479.7 172.6h0M373.2 155.1h0M435.9 166.9h0" stroke="#e8262b" stroke-width="2.4" stroke-linecap="round"/>
<path d="M483.1 178.1h0M486.3 179.3h0M376.5 180.2h0M474.1 184.3h0M471.5 173h0M451.8 175.6h0M453.9 172h0M399.3 178.6h0M407.2 163.2h0M439.3 178h0M382 172h0M471 169.7h0M366.3 127.6h0M426.6 172.1h0M461.1 184.8h0M368.5 175.4h0" stroke="#3b7fc6" stroke-width="2.4" stroke-linecap="round"/>
<path d="M482.4 176.7h0M489.1 180.3h0M410.7 183.9h0M374.7 171.1h0M424 175.6h0M386.2 191.7h0" stroke="#c9c9c9" stroke-width="2.4" stroke-linecap="round"/>
<path d="M388.9 178.5h0M462.3 171.8h0M396.7 184.4h0M438.5 172.5h0M422.5 171.1h0M407.5 168.6h0M374 174.4h0M450 188.1h0M392 152.8h0M440.7 176.1h0M405.1 185.9h0M401.3 171.5h0M489.6 188.2h0M422 175.5h0M374.9 152.4h0M384.2 177.5h0M368.2 170.3h0M368.8 175.7h0M420.1 179h0M477.3 165.1h0M400.5 162.5h0M411.2 177.7h0M392.9 173.1h0M380.6 190.6h0M373.8 178.5h0M392.6 181.1h0M393.2 177.8h0M406.8 167.2h0M396.7 189h0M370.8 173.8h0M463.8 184.5h0M384.8 173.2h0M390.9 176.6h0M441.3 166.6h0M445.8 174.7h0M421.4 179.1h0M382.7 178.5h0M403.4 163.9h0M364.1 183.2h0M399.8 179.5h0M393.9 173.2h0M414.3 184.5h0M422.8 182.9h0M419.4 175.4h0M397.8 174.9h0M398.8 162.7h0M449.1 179.9h0M428.2 173.3h0M439.4 182.5h0M391.6 173.9h0M375.6 169.9h0M375.2 190.4h0M441.3 174.8h0M380.2 171.3h0M402 193.1h0M367.8 185.8h0" stroke="#f9c24d" stroke-width="2.4" stroke-linecap="round"/>
<path d="M469.7 185.3h0M429.2 184.1h0M433.7 178.9h0M489.3 174.5h0M446.1 176.8h0M366.2 140.5h0M432.7 177.5h0M483.2 175.5h0M483.4 176.4h0M486.7 178.7h0M458.1 179.1h0M484.4 172.5h0M455.3 175.8h0M420.5 184.4h0M449.1 173.6h0M459.3 178.7h0M458 179.6h0M406.8 189.3h0M484.9 173.8h0M470.9 182.1h0M478.7 181.9h0M477.4 171.3h0M470 177.7h0M466.9 178.7h0M427.8 176.9h0M432.9 178.2h0M440.9 171.6h0M451.1 183.5h0M388.6 161.5h0M422.9 175.8h0M464.2 183.2h0M388.3 174.6h0M448.1 178.8h0M400.5 156.2h0M427.5 170.1h0M454.7 179.7h0M416.5 166.2h0M397.5 186.8h0M467 167.5h0M486.3 175.9h0" stroke="#e8262b" stroke-width="2.4" stroke-linecap="round"/>
<path d="M471.3 179.5h0M409.3 186.4h0M416.1 172.6h0M452.2 174.2h0M403.9 165.1h0M417.3 174.7h0M449.7 184.7h0M439.3 189.3h0M439.3 172.4h0M375.2 146.3h0M423.9 168.7h0M440.5 186.1h0M451.7 186h0M436.9 177.8h0M489.1 180.5h0M428.2 178.3h0M402.4 171.7h0M385 158.5h0M433.2 171.3h0M431.2 176.7h0M463.5 179h0M396.6 170.1h0M385.8 168.6h0M458.8 184.2h0M470.3 180.4h0M412 175.7h0M488.9 168.8h0M449.7 170.6h0M445.1 173.8h0" stroke="#3b7fc6" stroke-width="2.4" stroke-linecap="round"/>
<path d="M439.9 173.6h0M375 175.1h0M408.1 163.2h0M464.1 182.5h0M436.5 184h0M473.3 182.3h0M461 174.5h0M428.3 174.7h0M406.2 176.7h0M491.2 175.4h0M392.1 164.3h0M469.2 179h0M455.4 184.9h0M389.5 182.3h0M396.8 184h0M472.2 176.5h0M478.3 172.1h0M483.3 174.9h0M435.2 177.1h0M450.3 178.8h0M453.4 175.2h0M399.6 158.1h0M453.7 191.2h0M398.3 172.4h0M462.6 191.8h0M386.4 187.2h0M451.5 175.3h0M448.8 173.1h0M451.4 175h0M402.2 172.7h0M467.2 180.6h0M410.7 172.4h0M401.6 167.5h0M475.5 180h0M479.7 171.5h0M390.6 157h0M489.1 170.8h0M452.6 163.5h0M446.5 172.2h0" stroke="#45a948" stroke-width="2.4" stroke-linecap="round"/>
<path d="M402.3 176h0M384.5 185.6h0M435.7 176.4h0M386.1 181.9h0M373.8 167.8h0M396.6 180.1h0M451.1 188.4h0M377.8 186.5h0M387.1 178.1h0M367.7 137h0M406.1 177.8h0M375.5 156.4h0M414.7 192.5h0M425.2 176.6h0M399.8 165.1h0M406.1 174h0M422.8 178.2h0M375.5 194.7h0M466.3 174.8h0M407.8 190.8h0M465.1 173.9h0M410.2 179.7h0M415.9 193.3h0M423.3 189h0M402.9 171.1h0M366.6 186.8h0M466.3 175.3h0M390.9 177.8h0M396.6 178.4h0M364.5 174.9h0M451.8 173.3h0M471.8 177.2h0M396 175.4h0M386.6 178.8h0M376.6 194.2h0M414.4 174.9h0M409.7 186.4h0M415.7 175.8h0M403.1 181.1h0M404 179.7h0M395.3 168.5h0M378.9 159.8h0M391.9 191.5h0M420.1 190.5h0M483.1 176.4h0M435.7 182h0M456.9 183.6h0M426.8 176.4h0M425.9 176h0M365.7 184.1h0M423 180.4h0M484.2 175.8h0M412.1 172.4h0M410.1 187.5h0M465.5 175h0M443.5 162.7h0M402.3 191.6h0M433.8 169.6h0M439.9 181.2h0M406.3 173.4h0M454.5 177.6h0M380.6 175.2h0M399.7 179h0M377.9 184.1h0M404.5 180h0M409.4 189.2h0M380.9 182.7h0M416.7 179.9h0M389.4 183.9h0M441.8 182.6h0M452.7 173.7h0M445.3 180.2h0M468.1 174.7h0M399.2 187.3h0M419.8 176.2h0M381.7 181.1h0" stroke="#f9c24d" stroke-width="2.4" stroke-linecap="round"/>
<path d="M459.5 173.9h0M450.8 169.8h0M414.3 179.5h0M432 176.5h0M407.6 175.9h0M398.4 193.3h0M491.4 169.5h0M380.7 176.8h0M437.2 172.2h0M482.2 182.2h0M451.9 179.7h0M420.2 178.8h0M446.1 167.9h0M477.5 172.5h0M443.9 188.7h0M447.3 171.8h0M436 159.3h0M463.3 179.7h0M470.7 175.2h0M418.9 169.7h0M408.2 176.8h0M383.7 181.2h0M439 179.2h0M390.3 153.9h0M426.2 166.9h0M463.9 181.9h0M459.4 170.1h0M471.6 178.4h0M457.3 168.9h0M433.3 172.1h0M450.8 181.1h0M446.1 173h0" stroke="#45a948" stroke-width="2.4" stroke-linecap="round"/>
<path d="M388.9 193.7h0M437.3 179.2h0M488.7 179.3h0M452.4 170.1h0M482.5 174.5h0M465.7 179.6h0M484.4 179.5h0M440.9 179.7h0M473 175.2h0M474.2 174.6h0M377.6 152.4h0M458.6 181.4h0M383.5 175.1h0M434.6 175.8h0M394.9 163.7h0M469.8 174.9h0M491 171.7h0M369.4 145.1h0M472.1 173.1h0M470.9 183.9h0M452.7 189.5h0M482.9 175.9h0M470.1 180.3h0M486.2 174.9h0M450.1 173.3h0M402.3 176.3h0" stroke="#e8262b" stroke-width="2.4" stroke-linecap="round"/>
<path d="M457.6 187.1h0M466.6 179.7h0M383 173.9h0M379.6 179.6h0M429 178.4h0M370.5 135.9h0M442.8 173h0M414.9 173.1h0M399.7 163.2h0M365.2 127.1h0M414.6 168.8h0M389.9 176.3h0M475 177h0M405 173.2h0M465.8 172.5h0M469.7 169.9h0M410 180.5h0M473.6 180.9h0M397.2 170.8h0M489.3 182.3h0M398 158.5h0M489.7 165.2h0M372.3 148.6h0M468.7 188.2h0M364 125.5h0M410.5 198.7h0M441 181.5h0M447 165.8h0M479.1 176h0" stroke="#3b7fc6" stroke-width="2.4" stroke-linecap="round"/>
<path d="M377.6 174.3h0M410.8 180h0M455.3 177.6h0M414.3 166.5h0M452.1 180.5h0M448.8 175.5h0M372.6 168.6h0" stroke="#c9c9c9" stroke-width="2.4" stroke-linecap="round"/>
<line x1="358.2" y1="122" x2="358.2" y2="207.1" stroke="#777" stroke-width="0.8" />
<line x1="355.9" y1="122" x2="358.2" y2="122" stroke="#777" stroke-width="0.8" />
<text x="353.9" y="123.8" font-size="7.9" text-anchor="end">40</text>
<line x1="355.9" y1="136.1" x2="358.2" y2="136.1" stroke="#777" stroke-width="0.8" />
<text x="353.9" y="137.9" font-size="7.9" text-anchor="end">30</text>
<line x1="355.9" y1="150.3" x2="358.2" y2="150.3" stroke="#777" stroke-width="0.8" />
<text x="353.9" y="152.1" font-size="7.9" text-anchor="end">20</text>
<line x1="355.9" y1="164.5" x2="358.2" y2="164.5" stroke="#777" stroke-width="0.8" />
<text x="353.9" y="166.3" font-size="7.9" text-anchor="end">10</text>
<line x1="355.9" y1="178.7" x2="358.2" y2="178.7" stroke="#777" stroke-width="0.8" />
<text x="353.9" y="180.5" font-size="7.9" text-anchor="end">0</text>
<line x1="355.9" y1="192.9" x2="358.2" y2="192.9" stroke="#777" stroke-width="0.8" />
<text x="353.9" y="194.7" font-size="7.9" text-anchor="end">−10</text>
<line x1="355.9" y1="207.1" x2="358.2" y2="207.1" stroke="#777" stroke-width="0.8" />
<text x="353.9" y="208.9" font-size="7.9" text-anchor="end">−20</text>
<line x1="363.9" y1="211.8" x2="491.6" y2="211.8" stroke="#777" stroke-width="0.8" />
<line x1="363.9" y1="211.8" x2="363.9" y2="213.8" stroke="#777" stroke-width="0.8" />
<text x="363.9" y="220.1" font-size="7.4" text-anchor="middle">0</text>
<line x1="395.8" y1="211.8" x2="395.8" y2="213.8" stroke="#777" stroke-width="0.8" />
<text x="395.8" y="220.1" font-size="7.4" text-anchor="middle">500</text>
<line x1="427.8" y1="211.8" x2="427.8" y2="213.8" stroke="#777" stroke-width="0.8" />
<text x="427.8" y="220.1" font-size="7.4" text-anchor="middle">1,000</text>
<line x1="459.7" y1="211.8" x2="459.7" y2="213.8" stroke="#777" stroke-width="0.8" />
<text x="459.7" y="220.1" font-size="7.4" text-anchor="middle">1,500</text>
<line x1="491.6" y1="211.8" x2="491.6" y2="213.8" stroke="#777" stroke-width="0.8" />
<text x="491.6" y="219.6" font-size="5.6" text-anchor="middle">2,000</text>
<text x="428" y="116.6" font-size="8.2" text-anchor="middle" font-style="italic" textLength="16" lengthAdjust="spacingAndGlyphs">MB3</text>
<text x="341.2" y="164.5" font-size="8.2" text-anchor="middle" textLength="30" lengthAdjust="spacingAndGlyphs" transform="rotate(-90 341.2 164.5)">MB3 pc1</text>
<text x="383.3" y="129.1" font-size="8.2" textLength="31" lengthAdjust="spacingAndGlyphs">MB3_UF</text>
<text x="383" y="206" font-size="6.5" textLength="23.6" lengthAdjust="spacingAndGlyphs">MB3_LF</text>
<text x="430.3" y="229.8" font-size="8.3" text-anchor="middle" textLength="43.6" lengthAdjust="spacingAndGlyphs">MB3 ranking</text>
<text x="338.1" y="238.6" font-size="6.9" textLength="19.3" lengthAdjust="spacingAndGlyphs">PAM50</text>
<circle cx="361.1" cy="235.9" r="1.45" fill="#e8262b"/>
<text x="364.6" y="238.6" font-size="6.9" textLength="15.3" lengthAdjust="spacingAndGlyphs">Basal</text>
<circle cx="383.1" cy="235.9" r="1.45" fill="#3b7fc6"/>
<text x="386.6" y="238.6" font-size="6.9" textLength="13.5" lengthAdjust="spacingAndGlyphs">Her2</text>
<circle cx="403.9" cy="235.9" r="1.45" fill="#f9c24d"/>
<text x="407.4" y="238.6" font-size="6.9" textLength="15.8" lengthAdjust="spacingAndGlyphs">LumA</text>
<circle cx="426" cy="235.9" r="1.45" fill="#45a948"/>
<text x="429.5" y="238.6" font-size="6.9" textLength="15.9" lengthAdjust="spacingAndGlyphs">LumB</text>
<circle cx="448.6" cy="235.9" r="1.45" fill="#c9c9c9"/>
<text x="452.1" y="238.6" font-size="6.9" textLength="20.2" lengthAdjust="spacingAndGlyphs">Normal</text>
<text x="5" y="256.7" font-size="12.4" font-weight="bold">C</text>
<rect x="19.2" y="261.6" width="6.6" height="6.4" fill="#c4202e" />
<text x="28.8" y="268" font-size="7.2" textLength="46.9" lengthAdjust="spacingAndGlyphs">upper fork (UF)</text>
<rect x="19.2" y="272.2" width="6.6" height="6.3" fill="#22399a" />
<text x="28.8" y="278.2" font-size="7.2" textLength="44.5" lengthAdjust="spacingAndGlyphs">lower fork (LF)</text>
<line x1="77.8" y1="261.6" x2="77.8" y2="371.2" stroke="#555" stroke-width="0.6" />
<line x1="75.6" y1="296.6" x2="77.8" y2="296.6" stroke="#555" stroke-width="0.6" />
<text x="74.6" y="299.2" font-size="7.4" text-anchor="end">100</text>
<line x1="75.6" y1="333.9" x2="77.8" y2="333.9" stroke="#555" stroke-width="0.6" />
<text x="74.6" y="336.5" font-size="7.4" text-anchor="end">50</text>
<text x="59.6" y="321" font-size="7.2" text-anchor="middle" textLength="57" lengthAdjust="spacingAndGlyphs" transform="rotate(-90 59.6 321)">number of samples</text>
<text x="142.7" y="257.6" font-size="7.6" text-anchor="middle" font-style="italic" textLength="24.5" lengthAdjust="spacingAndGlyphs">samples</text>
<text x="112.3" y="275.6" font-size="7.6" text-anchor="middle" textLength="21.5" lengthAdjust="spacingAndGlyphs">Unique</text>
<text x="171.2" y="275.6" font-size="7.6" text-anchor="middle" textLength="25" lengthAdjust="spacingAndGlyphs">intersect</text>
<line x1="77.8" y1="371.2" x2="196" y2="371.2" stroke="#444" stroke-width="0.6" />
<rect x="85.1" y="295.1" width="6" height="76.1" fill="#c4202e" />
<text x="88.1" y="293.7" font-size="7.2" text-anchor="middle">102</text>
<rect x="95.1" y="301.9" width="6" height="69.3" fill="#c4202e" />
<text x="98.1" y="300.5" font-size="7.2" text-anchor="middle">93</text>
<rect x="105.2" y="302.6" width="6" height="68.6" fill="#c4202e" />
<text x="108.2" y="301.2" font-size="7.2" text-anchor="middle">92</text>
<rect x="115.3" y="327.2" width="6" height="44" fill="#22399a" />
<text x="118.3" y="325.8" font-size="7.2" text-anchor="middle">59</text>
<rect x="125.5" y="351.8" width="6" height="19.4" fill="#22399a" />
<text x="128.5" y="350.4" font-size="7.2" text-anchor="middle">26</text>
<rect x="135.8" y="361.5" width="6" height="9.7" fill="#22399a" />
<text x="138.8" y="360.1" font-size="7.2" text-anchor="middle">13</text>
<rect x="146.5" y="276.5" width="6" height="94.7" fill="#22399a" />
<text x="149.5" y="275.1" font-size="7.2" text-anchor="middle">127</text>
<rect x="156.6" y="354" width="6" height="17.2" fill="#c4202e" />
<text x="159.6" y="352.6" font-size="7.2" text-anchor="middle">23</text>
<rect x="166.6" y="360" width="6" height="11.2" fill="#22399a" />
<text x="169.6" y="358.6" font-size="7.2" text-anchor="middle">15</text>
<rect x="176.9" y="370.5" width="6" height=".7" fill="#c4202e" />
<text x="179.9" y="369.1" font-size="7.2" text-anchor="middle">1</text>
<rect x="187.2" y="354.8" width="6" height="16.4" fill="#22399a" />
<text x="190.2" y="353.4" font-size="7.2" text-anchor="middle">22</text>
<line x1="143.5" y1="263.5" x2="143.5" y2="442" stroke="#777" stroke-width="0.7" stroke-dasharray="1.6 1.3"/>
<rect x="80.5" y="373.3" width="115.5" height="10.5" fill="#f3f3f3" />
<rect x="80.5" y="394.6" width="115.5" height="10.5" fill="#f3f3f3" />
<rect x="80.5" y="415.8" width="115.5" height="10.5" fill="#f3f3f3" />
<path d="M88.1 389.1h0M88.1 399.8h0M88.1 410.4h0M88.1 421h0M88.1 431.6h0M98.1 378.5h0M98.1 389.1h0M98.1 410.4h0M98.1 421h0M98.1 431.6h0M108.2 378.5h0M108.2 399.8h0M108.2 410.4h0M108.2 421h0M108.2 431.6h0M118.3 378.5h0M118.3 389.1h0M118.3 399.8h0M118.3 410.4h0M118.3 421h0M128.5 378.5h0M128.5 389.1h0M128.5 399.8h0M128.5 410.4h0M128.5 431.6h0M138.8 378.5h0M138.8 389.1h0M138.8 399.8h0M138.8 421h0M138.8 431.6h0M149.5 378.5h0M149.5 389.1h0M149.5 399.8h0M149.5 431.6h0M159.6 399.8h0M159.6 410.4h0M159.6 421h0M159.6 431.6h0M169.6 378.5h0M169.6 389.1h0M169.6 399.8h0M169.6 421h0M179.9 389.1h0M179.9 410.4h0M179.9 421h0M179.9 431.6h0M190.2 378.5h0M190.2 389.1h0M190.2 399.8h0" stroke="#dedede" stroke-width="2.2" stroke-linecap="round"/>
<circle cx="88.1" cy="378.5" r="1.55" fill="#c4202e"/>
<circle cx="98.1" cy="399.8" r="1.55" fill="#c4202e"/>
<circle cx="108.2" cy="389.1" r="1.55" fill="#c4202e"/>
<circle cx="118.3" cy="431.6" r="1.55" fill="#22399a"/>
<circle cx="128.5" cy="421" r="1.55" fill="#22399a"/>
<circle cx="138.8" cy="410.4" r="1.55" fill="#22399a"/>
<line x1="149.5" y1="410.4" x2="149.5" y2="421" stroke="#22399a" stroke-width="1.0" />
<circle cx="149.5" cy="410.4" r="1.55" fill="#22399a"/>
<circle cx="149.5" cy="421" r="1.55" fill="#22399a"/>
<line x1="159.6" y1="378.5" x2="159.6" y2="389.1" stroke="#c4202e" stroke-width="1.0" />
<circle cx="159.6" cy="378.5" r="1.55" fill="#c4202e"/>
<circle cx="159.6" cy="389.1" r="1.55" fill="#c4202e"/>
<line x1="169.6" y1="410.4" x2="169.6" y2="431.6" stroke="#22399a" stroke-width="1.0" />
<circle cx="169.6" cy="410.4" r="1.55" fill="#22399a"/>
<circle cx="169.6" cy="431.6" r="1.55" fill="#22399a"/>
<line x1="179.9" y1="378.5" x2="179.9" y2="399.8" stroke="#c4202e" stroke-width="1.0" />
<circle cx="179.9" cy="378.5" r="1.55" fill="#c4202e"/>
<circle cx="179.9" cy="399.8" r="1.55" fill="#c4202e"/>
<line x1="190.2" y1="410.4" x2="190.2" y2="431.6" stroke="#22399a" stroke-width="1.0" />
<circle cx="190.2" cy="410.4" r="1.55" fill="#22399a"/>
<circle cx="190.2" cy="421" r="1.55" fill="#22399a"/>
<circle cx="190.2" cy="431.6" r="1.55" fill="#22399a"/>
<rect x="27.9" y="376.3" width="27.5" height="4.4" fill="#333" />
<text x="56.2" y="381" font-size="7.0" textLength="24.2" lengthAdjust="spacingAndGlyphs">MB1_UF</text>
<rect x="30.4" y="386.9" width="25" height="4.4" fill="#333" />
<text x="56.2" y="391.6" font-size="7.0" textLength="24.2" lengthAdjust="spacingAndGlyphs">MB2_UF</text>
<rect x="35" y="397.6" width="20.4" height="4.4" fill="#333" />
<text x="56.2" y="402.3" font-size="7.0" textLength="24.2" lengthAdjust="spacingAndGlyphs">MB3_UF</text>
<rect x="17" y="408.2" width="38.4" height="4.4" fill="#333" />
<text x="56.2" y="412.9" font-size="7.0" textLength="24.2" lengthAdjust="spacingAndGlyphs">MB1_LF</text>
<rect x="17.3" y="418.8" width="38.1" height="4.4" fill="#333" />
<text x="56.2" y="423.5" font-size="7.0" textLength="24.2" lengthAdjust="spacingAndGlyphs">MB2_LF</text>
<rect x="34.2" y="429.4" width="21.2" height="4.4" fill="#333" />
<text x="56.2" y="434.1" font-size="7.0" textLength="24.2" lengthAdjust="spacingAndGlyphs">MB3_LF</text>
<line x1="15.4" y1="437" x2="56.7" y2="437" stroke="#555" stroke-width="0.6" />
<line x1="23.4" y1="437" x2="23.4" y2="438.6" stroke="#555" stroke-width="0.6" />
<text x="23.4" y="443.9" font-size="6.6" text-anchor="middle" textLength="10.2" lengthAdjust="spacingAndGlyphs">150</text>
<line x1="33.6" y1="437" x2="33.6" y2="438.6" stroke="#555" stroke-width="0.6" />
<text x="33.6" y="443.9" font-size="6.6" text-anchor="middle" textLength="10.2" lengthAdjust="spacingAndGlyphs">100</text>
<line x1="44.7" y1="437" x2="44.7" y2="438.6" stroke="#555" stroke-width="0.6" />
<text x="44.7" y="443.9" font-size="6.6" text-anchor="middle" textLength="6.8" lengthAdjust="spacingAndGlyphs">50</text>
<line x1="55.8" y1="437" x2="55.8" y2="438.6" stroke="#555" stroke-width="0.6" />
<text x="55.8" y="443.9" font-size="6.6" text-anchor="middle" textLength="3.4" lengthAdjust="spacingAndGlyphs">0</text>
<text x="38.2" y="451.4" font-size="7.2" text-anchor="middle" textLength="38" lengthAdjust="spacingAndGlyphs">fork set sizes</text>
<text x="200.6" y="256.6" font-size="12.4" font-weight="bold">D</text>
<line x1="224.2" y1="262.7" x2="224.2" y2="391.9" stroke="#555" stroke-width="0.7" />
<line x1="222" y1="262.7" x2="224.2" y2="262.7" stroke="#555" stroke-width="0.7" />
<text x="220" y="265.3" font-size="7.8" text-anchor="end">10</text>
<line x1="222" y1="295" x2="224.2" y2="295" stroke="#555" stroke-width="0.7" />
<text x="220" y="297.6" font-size="7.8" text-anchor="end">5</text>
<line x1="222" y1="327.3" x2="224.2" y2="327.3" stroke="#555" stroke-width="0.7" />
<text x="220" y="329.9" font-size="7.8" text-anchor="end">0</text>
<line x1="222" y1="359.6" x2="224.2" y2="359.6" stroke="#555" stroke-width="0.7" />
<text x="220" y="362.2" font-size="7.8" text-anchor="end">−5</text>
<line x1="222" y1="391.9" x2="224.2" y2="391.9" stroke="#555" stroke-width="0.7" />
<text x="220" y="394.5" font-size="7.8" text-anchor="end">−10</text>
<line x1="229.7" y1="397.9" x2="358.9" y2="397.9" stroke="#555" stroke-width="0.7" />
<line x1="229.7" y1="397.9" x2="229.7" y2="400.1" stroke="#555" stroke-width="0.7" />
<text x="229.7" y="407.1" font-size="7.8" text-anchor="middle">−10</text>
<line x1="262" y1="397.9" x2="262" y2="400.1" stroke="#555" stroke-width="0.7" />
<text x="262" y="407.1" font-size="7.8" text-anchor="middle">−5</text>
<line x1="294.3" y1="397.9" x2="294.3" y2="400.1" stroke="#555" stroke-width="0.7" />
<text x="294.3" y="407.1" font-size="7.8" text-anchor="middle">0</text>
<line x1="326.6" y1="397.9" x2="326.6" y2="400.1" stroke="#555" stroke-width="0.7" />
<text x="326.6" y="407.1" font-size="7.8" text-anchor="middle">5</text>
<line x1="358.9" y1="397.9" x2="358.9" y2="400.1" stroke="#555" stroke-width="0.7" />
<text x="358.9" y="407.1" font-size="7.8" text-anchor="middle">10</text>
<line x1="229.7" y1="327.3" x2="358.9" y2="327.3" stroke="#999" stroke-width="0.6" stroke-dasharray="0.9 1.1"/>
<line x1="294.3" y1="262.7" x2="294.3" y2="391.9" stroke="#999" stroke-width="0.6" stroke-dasharray="0.9 1.1"/>
<text x="209.3" y="327.3" font-size="8.0" text-anchor="middle" transform="rotate(-90 209.3 327.3)">MB2 forkscale</text>
<text x="294.3" y="416" font-size="8.0" text-anchor="middle">MB1 forkscale</text>
<path d="M291.1 327.9h0M303.2 324.2h0M303.3 320.6h0M303.5 320.5h0M309 320.6h0M312.8 312.3h0M288.4 328.4h0M302.5 326.9h0M302.6 323.5h0M293.7 328.9h0M291 328.6h0M298.6 328.7h0M294.5 330.5h0M282.7 334.8h0M303.8 319.3h0M290.1 331.3h0M286.7 330.9h0M305.4 320.1h0M302.5 321h0M314 320.7h0M273.4 339.9h0M302.8 322.9h0M301.6 325.8h0M283.2 335.5h0M303.6 319.2h0M287.9 330.1h0M288.8 330.1h0M283.9 333.1h0M287.9 330.7h0M289.8 331.9h0M297.2 326h0M296.3 326.8h0M303.1 323.8h0M302 318.3h0M290.6 324h0M316.4 312.3h0M283.3 338h0M291.5 323.4h0M300.7 320.8h0M293.9 329.2h0M300.9 326h0M292.9 326.2h0M295.3 324.7h0M290.1 327.6h0M301.9 326.9h0M285.5 334.1h0M302.1 321.2h0M298.4 323.9h0M301.1 320h0M291.8 332.9h0M302.9 322.2h0M296.3 326.1h0M285.8 336.2h0M304.4 317.6h0M305.1 319.7h0M298.9 325.2h0M296.8 326.4h0M289.6 329h0M315.8 319.2h0M301.1 320.8h0M282.4 333h0M297.2 326.3h0M292.1 332.1h0M310.6 310.3h0M312.7 316.6h0M298.1 323.4h0M287.4 331.7h0M301.7 323.5h0M278.7 339.8h0M298.7 325.1h0M290.7 325h0M297.4 327h0M292.2 321.9h0M281.5 329.4h0M311 317.2h0M290.3 325.1h0M298.8 325.6h0M314.6 314.1h0M299 323.8h0M292.3 327.6h0M291.1 327.3h0M305.3 317.1h0M306.2 315.3h0M304.4 322.5h0M307.8 323.4h0M287.7 329.9h0M276 333.5h0M286.8 335.6h0M288.5 332.4h0M295.5 326.5h0M306.7 319.8h0M298.7 327h0M301.8 324.5h0M273.4 335.6h0M285.8 335h0M285.5 330.2h0M280.1 336.5h0M299.3 318.4h0M292.5 327.7h0M284 327.3h0M294.2 327h0M298.3 327h0M297.1 328.7h0M311.5 316.9h0M292.4 324.6h0M281 330.7h0M312.6 318h0M303 321.9h0M304.8 320.3h0M285.3 330.4h0M293.1 327h0M304.3 317.3h0M304 325h0M303.3 322.3h0M307.1 319.6h0M310 315.9h0M295.2 325.4h0M276.3 335.9h0M298.2 327.6h0M299.5 322.8h0M299.5 324h0M302.9 319.3h0M296.7 325.5h0M291.6 330.1h0M302.7 323.3h0M280.4 334.4h0M307.6 319.6h0M304.1 319.5h0M284.6 331.7h0M293.6 325.3h0M265.2 341.8h0M304.6 323.3h0M307 319.6h0M296.4 323h0M309.5 317.1h0M302.3 320.7h0M285.9 327.1h0M303.6 320.7h0M306.3 318h0M288.6 327.3h0M295.6 324.2h0M304.6 317.8h0M315.3 313.6h0M294.9 328.4h0M288.4 328.4h0M301.4 324.9h0M290 330.5h0M313.5 317.9h0M301.8 326.8h0M291.8 324.2h0M281.4 331.1h0M276 337.5h0M284.4 332.7h0M292.4 325.5h0M298.6 323.6h0M289.7 328.2h0M288.4 332.1h0M288.6 328.4h0M319.8 311.5h0M317.4 315.7h0M289 328.4h0M301.4 320.2h0M312.8 316.1h0M307.1 318.3h0M267.5 345.6h0M290.3 328.7h0M301.9 322.9h0M311 319.4h0M294.6 323.8h0M282.6 330.1h0M306.2 319.9h0M296.2 325.8h0M294.7 322.9h0M303.2 325.3h0M279.1 334.1h0M270.4 345.5h0M289.6 329.6h0M309.9 316.8h0M332.6 303.1h0M303.6 318.2h0M293.6 324.4h0M301.9 321.5h0M289.8 330.6h0M304.3 320.8h0M299.6 322.3h0M298.8 324h0M301 320.3h0M309.7 316h0M290.8 330.7h0M304.5 324.9h0M289.1 326.8h0M293.3 329.2h0M312.2 323.5h0M295.7 327.2h0M289.6 326.9h0M310.2 313.9h0M302 321.1h0M293.3 327.3h0M279.5 337h0M302.3 322.2h0M306.5 323.8h0M291.3 331.4h0M307.3 319.7h0M294.4 330.1h0M291.9 331h0M287.2 324.8h0M284.1 333.5h0M284.9 328.6h0M286.8 333.7h0M297.6 320h0M299 325.5h0M273.6 349.5h0M294.9 326.3h0M307.6 317.4h0M291.4 324.8h0M314.7 316.3h0M304 317.5h0M287 329.5h0M293.9 323.6h0M310.1 323.3h0M291.7 324.4h0M302.4 324.8h0M292.1 331.1h0M300.8 326.5h0M307.5 316.4h0M312.1 313h0M305.3 317.5h0M304.3 326.2h0M302.7 323.9h0M268.7 337.5h0M297.9 329.2h0M298.6 322.9h0M296.1 321.4h0M283.1 330.8h0M285 330.9h0M303.3 322.6h0M324.7 313.6h0M280.9 336.1h0M285 329h0M288 326.6h0M290.2 326.8h0M304.1 320.5h0M303 320.5h0M315.1 307.4h0M291.7 326.9h0M307.4 317.2h0M313.3 307.7h0M275.8 339.4h0M309.3 316.1h0M288.8 330.7h0M295.3 321.3h0M285.7 331.2h0M310.3 314.1h0M294.9 327.1h0M279.3 340.6h0M285.6 329.5h0M302.9 317.8h0M304.6 318.3h0M298.7 326.3h0M309.2 318.8h0M276.2 336.3h0M293.8 320.1h0M292.6 326.7h0M282.8 331.6h0M299.6 325.8h0M300 327h0M302.4 323.2h0M300.7 325.5h0M287.8 331.1h0M304.3 320.4h0M269.8 339.6h0M293.7 325.3h0M306.8 316.9h0M288.4 331.3h0M299.6 320.7h0M288.3 332.2h0M284.7 331.4h0M285.1 325.6h0M303 318.2h0M302.8 323.4h0M266.9 339h0M301.3 328h0M324.7 306.4h0M312.9 316.3h0M277.9 338.8h0M306.7 325.4h0M288.6 326.9h0M306.9 319h0M268.9 342.8h0M308.2 315.9h0M291 327.6h0M302.3 323.1h0M288.8 332.1h0M286.9 331.4h0M294.5 324.9h0M302.1 322.5h0M272.4 338.3h0M284 327.9h0M289.7 323.1h0M300.4 318.3h0M297.2 323.5h0M291.9 329.5h0M289.8 327.3h0M282.6 330.8h0M292.2 326.2h0M285.3 332h0M278.6 338h0M294.9 329.3h0M293.1 327.2h0M299.6 329.4h0M292.7 328.4h0M287.9 333.4h0M314.8 312.1h0M304.6 317.2h0M286.1 332.5h0M276.7 336.8h0M276.4 339.6h0M302.7 320.2h0M286.4 334.1h0M308.7 316.8h0M290.1 328.9h0M298.3 327.5h0M292.4 333.9h0M298 324.3h0M305.2 317.3h0M288.8 325.5h0M286.7 328.6h0M290.9 330.6h0M282.6 334h0M319.1 311.4h0M301 323.7h0M300.1 321.5h0M298.9 320.1h0M294.8 325.3h0M311.1 314.9h0M286.1 328h0M303.4 323.6h0M287.9 331.7h0M303.9 320h0M302.9 314.5h0M313.8 314.7h0M287 327.2h0M289.3 332h0M294.2 326h0M292.7 326.9h0M267.9 343.6h0M295.2 324.2h0M299.7 324.2h0M320.8 308.1h0M301.9 321.3h0M301.6 324.7h0M284.7 331.8h0M278.3 334.7h0M290.8 326.8h0M298.1 326.8h0M288.9 331.2h0M307.7 314.7h0M293.6 326.8h0M285.6 327.9h0M299.1 325.7h0M281.3 333h0M315.3 313.8h0M287.4 333.4h0M292.6 334.3h0M305.9 321.4h0M280.1 343.7h0M299 323.4h0M309.3 314.9h0M293.5 332.2h0M298.5 325.9h0M298.5 328.8h0M292.7 328.4h0M284.3 337.8h0M272.1 339.9h0M308.3 318.5h0M268.5 342.4h0M277.6 336.1h0M313.3 314.4h0M267 340.2h0M296.7 320h0M300 321.4h0M274.9 334.4h0M285.1 338.1h0M300 321.3h0M309.3 314.5h0M299 323h0M304.2 319.8h0M303 327.4h0M294.9 327.5h0M301.9 324.5h0M304.5 318.5h0M283.7 333.1h0M302.7 324.9h0M270.5 341.8h0M298.1 324.4h0M306.6 318.5h0M313.3 317h0M313.4 316.2h0M303.2 326.8h0M285.9 328.4h0M296.3 325.6h0M281.9 332h0M283.2 329.2h0M302.8 323.3h0M287.6 332.3h0M299.3 323.1h0M278.1 335.5h0M282 328.9h0M274.5 336h0M282.5 332.8h0M307.5 317.5h0M285.1 336.7h0M312.2 318.4h0M302.3 318.5h0M275.6 332.3h0M294.5 327.2h0M284.9 331.8h0M299.3 320.7h0M305.3 317.2h0M294.5 326.9h0" stroke="#dcdcdc" stroke-width="2.3" stroke-linecap="round" stroke-opacity="0.85"/>
<path d="M276.7 335.6h0M260.7 360.6h0M242.5 370.4h0M242.5 368.4h0M267.8 348.3h0M255.6 361.9h0M228.2 372.3h0M277.9 335.4h0M237.7 361.9h0M268.4 353.2h0M273.4 350.9h0M276.4 347.1h0M243 372.9h0M268.4 349.3h0M277.4 355.5h0M245 367h0M253.4 372.8h0M263.4 350.8h0M262.2 351.9h0M258.6 353.4h0M253.7 363.6h0M264.5 357.3h0M272.5 346.9h0M277 348.1h0M269.6 347.2h0M246.6 370.2h0M254.3 359.8h0M253.3 371h0M274.5 348.3h0M259.9 370.6h0M261.1 351.6h0M275.9 341.9h0M274.4 346.7h0M270.5 348.6h0M272.6 349.4h0M259.2 358.5h0M265.2 362.3h0M263.4 349.4h0M276.7 350.1h0M273.6 336.3h0M247.3 360.9h0M266.1 345.8h0M257.4 346.1h0M261.1 361.9h0M275.5 354.9h0M265.7 348.3h0M248.4 360.8h0M246.8 379.6h0M255.2 354.9h0M253.2 363.9h0M263 362.8h0M279.8 352.5h0M243.9 371.2h0M250.9 374.5h0M233.4 389.7h0M248.1 377.9h0M280 347.9h0M259.6 346.1h0M269.4 345.6h0M273.6 340.7h0M261.6 355.9h0M266.3 352h0M275.7 341.7h0M281.4 340.9h0M264.8 356h0M262.8 349.6h0M267.5 358.4h0M273.4 334.9h0M261.4 366.1h0M281.8 345.6h0M274.3 354.9h0M231.2 377.5h0M276.4 338.2h0M250.5 360.4h0M241.8 376.9h0M264.1 353h0M272.4 350.5h0M267.3 351.5h0M278.8 346.2h0M247.2 371.6h0M232.3 363.5h0M234.2 371.2h0M238.7 375.1h0M247.1 391.3h0M249.7 392.5h0M236.8 360.9h0M251.7 376.4h0M263.3 375.8h0" stroke="#c9a3b8" stroke-width="2.4" stroke-linecap="round" stroke-opacity="0.85"/>
<path d="M273.8 341.3h0M273.4 342.1h0M273.4 338.7h0M276.5 336.4h0M277.3 339.6h0M265 346.4h0M287.5 331.9h0M287.9 334.4h0M284.5 333h0M288.5 331.6h0M289.1 328.8h0M273 341.6h0M282.8 334.6h0M276.6 338.7h0M284.3 332.9h0M278.3 338.2h0M280.9 337h0M283.7 333.4h0M286.8 333h0M279.9 338.2h0M276.6 336.2h0M271.4 342.7h0M271.4 339.4h0M281 335.3h0M278.5 338.1h0M282.3 335.5h0M265.9 343.4h0M284.8 337.8h0M287.1 331.3h0M276.9 337.7h0M285.2 333.5h0M283.4 335.9h0M281.5 335.3h0M280.9 334h0M289.1 332.8h0M268.6 341.9h0M273.1 342.1h0M276.3 342h0M280 335.7h0M284.4 334.4h0M273.6 340.3h0M274.8 340.6h0M272 344.6h0M281.6 332.5h0M289 331.4h0M285.1 333.3h0M285.1 332h0M273.2 338.7h0M272.5 342h0M270.5 339.4h0M268.2 347.8h0M284 333.1h0M283.2 335.5h0M278.7 339.4h0M278.6 337.2h0M269.5 343.4h0M267.9 346.8h0M286.3 330.7h0M269.3 346.6h0M266.5 346.3h0M285.8 333.4h0M281.1 332.7h0M285.8 327.9h0M278.1 337.5h0M276.4 340.9h0M273 343.5h0M287.4 332.3h0M284.5 334.7h0M289.2 333.2h0M273.8 340.6h0M291.2 330.8h0M284.7 332.4h0M284.4 331h0M279.2 337.8h0M282.3 335.6h0M279.6 336.7h0M280.8 331.3h0M269.5 343.9h0M266.2 346h0M265.5 343.8h0M275.8 342.3h0M273.3 337.3h0M275 337.2h0M273.7 338.3h0M271.2 344h0M277.8 338.7h0M284.1 330h0M284.6 329.7h0M287.4 330.5h0M279.5 335.6h0M274.7 337.6h0M278 338.6h0M281.5 337.5h0M290.5 329.8h0M272.5 344.4h0M283 337.6h0M264.9 343.1h0M271.1 345.8h0M280.8 335.4h0M282.4 334.3h0M277.9 336.1h0M269.9 343.8h0M286.6 335.2h0M285.7 335.7h0M279.9 335.3h0M267.9 345.8h0M284 334.5h0M278.1 339.3h0M267.6 346.5h0M282.7 338.4h0M268.9 347.3h0M277.5 337.6h0M272.4 342.7h0M284.8 334.7h0M279.1 339.6h0M278.5 340.5h0M277.7 335.3h0M285.1 331.8h0M281.2 336.6h0M278.7 338.4h0M269.9 338.3h0M283.3 329.5h0M280 338.5h0M276.3 337.8h0M273.3 340.1h0M274.6 339.7h0M281.4 336.1h0M276.1 340.4h0M285.8 331.4h0M279.9 336h0M274.5 337.2h0M270.4 346.1h0M280.2 337.2h0M277.3 338.2h0M277.3 338.2h0M280.7 334.6h0M270.1 345.8h0M272.6 338.6h0M274.3 340.7h0M286.4 332h0M272.7 343.5h0M289 329.2h0M265.7 347.9h0M281.5 334.5h0M275.1 339h0M289.4 334h0M284.2 331.2h0M277.5 341.4h0M281.1 332.5h0M273.6 341.2h0M268.9 345.7h0M270.1 344.6h0M279.7 335.5h0M275.8 337.7h0M275.2 345h0M268.4 344.7h0M267.7 346.5h0M275.2 340.7h0M278.5 337.6h0M268.8 348.2h0M269.8 345.2h0M274 342h0M275.9 339.5h0M279.2 332.1h0M285.8 335.1h0M287.9 331.5h0M275.7 336.6h0M286.4 332.3h0M276.1 339.4h0M272.5 340.3h0" stroke="#a9c1e2" stroke-width="2.4" stroke-linecap="round" stroke-opacity="0.85"/>
<path d="M289.7 334.7h0M283.4 335.3h0M286.5 336.8h0M286.5 333.6h0M284.9 335.8h0M286.1 337.3h0M284.8 334.6h0M285.1 333h0M286.9 334.9h0M288.1 337.4h0M288.9 335.1h0M287.1 334.6h0M287.5 335.3h0M285.2 335.5h0" stroke="#a8345e" stroke-width="2.4" stroke-linecap="round" stroke-opacity="0.85"/>
<path d="M313.6 305.2h0M346.2 316.7h0M340.6 314.4h0M313.3 301.1h0M340.7 307.6h0M328.4 310.3h0M316.8 314.8h0M326.7 312.9h0M317 300.9h0M331 318.3h0M332.9 316.7h0M344.8 314.9h0M307.6 302.7h0M325.4 301.5h0M340.2 317.2h0M318.7 303.8h0M344.8 321.2h0M329.6 308.2h0M343.2 316.5h0M318 298.6h0M337.7 305.9h0M338.6 317.3h0M313.9 317.7h0M330.4 300.8h0M325.5 313.9h0M317.8 319h0M311.1 304.6h0M328.3 312.9h0M315.8 320h0M318.4 301.6h0M320 299.6h0M323.1 315.7h0M307.2 314.7h0M310.7 317.2h0M319.3 298.9h0M339.7 318.3h0M330.5 316.3h0M320.4 311.5h0M326.6 313.9h0M334.3 309.4h0M342 321.8h0M320 309.8h0M335.5 308.3h0M320.5 301h0M336.1 309.9h0M319.5 296.7h0M332.2 301.9h0M322 296.6h0M346.4 321.5h0M338.2 316.5h0M324.5 320.1h0M323.1 314h0M323.3 298.8h0M332.5 319.7h0M309.3 293.3h0" stroke="#b68d4e" stroke-width="2.3" stroke-linecap="round" stroke-opacity="0.85"/>
<path d="M328 320.8h0M337.3 317h0M332 322.2h0M333.8 318.3h0M320.4 319.4h0M330.2 324h0M337.1 318.9h0M338.3 320.5h0M328 320.9h0M325.5 322.9h0M323.1 324.1h0M334.6 322.7h0M338.6 321h0M337.4 320.3h0M329.6 318.6h0M335.5 319.1h0M335.4 321.6h0M335.1 317h0M338.6 321.9h0M337.9 321h0M328.1 321.9h0M331.1 318h0" stroke="#f2b48a" stroke-width="2.3" stroke-linecap="round" stroke-opacity="0.85"/>
<path d="M305.7 322.3h0M318.8 319.4h0M318 317h0M313.1 324.2h0M308.4 327.3h0M315.2 316.8h0M312.1 320.7h0M298.3 323.5h0M303.1 326.2h0M321.9 317.3h0M306.9 325.7h0M311.4 319.1h0M311.9 321.6h0M313 319.7h0M303.1 329.5h0M318.8 321.5h0M298.5 327.7h0M309.8 323.5h0M318.4 322.7h0M311.3 325.9h0M323.5 321.2h0M300.3 324h0M312.7 325h0M313.2 319.5h0M307.5 322h0M315.4 319.1h0M307.7 323.5h0M308.1 324.3h0M310.4 323.7h0M309.6 323.1h0M308.7 321.7h0M304.2 326.8h0M307.6 325.6h0M313.1 321h0M310.3 323.2h0M312.9 319.5h0M315.8 321.3h0M312.1 326.3h0M307.4 318h0M305.5 321.7h0M314.8 323.5h0M300.5 327.8h0M317.1 317.6h0M314.4 322.2h0M315.2 323.8h0M315.2 319.8h0M312.2 314h0M327.4 319h0M311.9 322h0M310.6 316.3h0M304 324.8h0M318.8 321.2h0M319.9 319h0M309.6 321.1h0M308.4 320.5h0M322.6 324.7h0M318.2 324.8h0M299.2 324h0M312.4 320.8h0M305.8 325.4h0M310 326.8h0M313.6 322h0M315.7 327h0M295.9 328.8h0M308.6 321.7h0M308 325.4h0M304 322.2h0M309.8 318.3h0M309.6 321.7h0M310 323.4h0M313.3 324.6h0M307.2 322.5h0M307.7 329h0M308 326.3h0M313.7 324.7h0M304.9 324.2h0M307.3 322.1h0M311.2 322.8h0M313.7 320.7h0M306.2 321.4h0M309.8 321.6h0M309.6 321.8h0M306.5 322.7h0M311.5 322.5h0M310.9 323.1h0M312.3 317.9h0M306 324.5h0M302.2 326h0M310 321.6h0M303.7 326.5h0M308.3 315.7h0M311.2 321.9h0M306.6 324.8h0M296.8 328.9h0M306.1 324.9h0M306.2 318.5h0M316.1 320.9h0M297.9 322.2h0M307.7 325.7h0M309.6 323.2h0M318.4 319.6h0M312.6 320.2h0M318.6 318h0M309.9 323.7h0M303 327.5h0M291.9 325.9h0M306.4 325.3h0M314.8 322h0M312.4 323.6h0M308.6 323.1h0M321 323.2h0M305 323.4h0M314.1 322.2h0M310.2 322.8h0M315.6 324.6h0M308.5 319.7h0M316.8 322h0M313.7 324.2h0M313 320.6h0M310.2 321.7h0M308.2 320.3h0M315.1 319.2h0M316.1 317.6h0M310.8 320.7h0M311.5 326.5h0M317.5 320.5h0M308.4 317.9h0M309.8 323.5h0M299.8 325.1h0M311.7 323.7h0M317.1 321.4h0M303.4 326.5h0M309.1 323.5h0M311.3 325.1h0M306.3 328.7h0M308.3 319.4h0M317.3 324h0M305.9 320.8h0M308.2 324.4h0M300.9 321.1h0M317.2 323h0M316.6 322.9h0M310 319.5h0M305.8 326.4h0M304.3 324.8h0M314.5 319h0M318.4 315.1h0M315.3 324.9h0M304.1 323.3h0M311.7 322.6h0M306.6 322.8h0M301.8 326h0M311.5 318.9h0M318.4 321.7h0M303 325.1h0M313.5 325.5h0M301.7 327.3h0M309.1 322.3h0M309.2 323.2h0M315.8 321.7h0M309.3 327h0M311.2 319.7h0M314.6 323.4h0M316.9 321.2h0M320.3 318.6h0M317.1 319.8h0M311.7 324.1h0M305.2 321.4h0M303.5 320.7h0M300 326.1h0" stroke="#e8803a" stroke-width="2.4" stroke-linecap="round" stroke-opacity="0.85"/>
<path d="M299.9 299.6h0M300 315.2h0M298.7 313.2h0M301.1 320.4h0M295.9 316.6h0M300.7 312.3h0M308.6 290.8h0M301.6 314.6h0M304.6 311.7h0M298.4 314.3h0M299.8 315.7h0M301.3 310.3h0M302.5 317h0M302.6 298h0M307.2 320.2h0M299.9 308.7h0M296.6 318.8h0M306.1 320.4h0M300.7 317h0M299 319.9h0M300.4 312.9h0M306.4 317.7h0M297.4 312.5h0M302.2 313.7h0M305.1 321.3h0M299.4 317.6h0M302.4 303.5h0M302.7 305.6h0M305.7 318.7h0M295.5 307.1h0M304.9 309.8h0M299.2 300.4h0M311.3 319.4h0M294.6 314.9h0M308 293.4h0M302.3 315.1h0M302 313.1h0M298.2 306.9h0M297.2 308.7h0M306.4 306.9h0M306.6 313.1h0M302.3 315.4h0M301 302.7h0M302.8 310.9h0M308.5 296.2h0M302.5 299.8h0M309.3 313.4h0M295.6 304.9h0M296.5 315.2h0M309.4 315.9h0M299.9 301.3h0M301.2 315.1h0M310.4 302.5h0M297.6 317.9h0M302.8 320.1h0M304.1 306.1h0M300.5 305.4h0M301.5 314.8h0M304.3 318.5h0M306.3 303h0M301.8 316.6h0M296 285h0M299.6 308.6h0M300.9 321.2h0M301.9 299.3h0M302 312h0M305 314.7h0M305.1 311.2h0M295.2 317.1h0M298.8 293.2h0M307 297.6h0M308.8 302.8h0M298.9 311.7h0M304.4 306.1h0M302.5 318.2h0M296.7 316.3h0M301.2 320.4h0M304.1 302.5h0M298.8 318.7h0M300.8 297.7h0M306 316.8h0M294.8 318.4h0M301.8 319.2h0M296.5 304.5h0M302 311.8h0M297.9 321.4h0M300.6 318.5h0M305.1 313.2h0M306.8 297.4h0M299.7 305.6h0M300.7 319.3h0M299.9 314.6h0M295.9 304.6h0M298.9 305.9h0M294.7 320.8h0M300.5 308.5h0M303.8 302h0M297.6 308.2h0M298.5 307.6h0M305.4 307.4h0M309.8 263.3h0M311.1 269.2h0M309.2 271.7h0M303.3 280.1h0M307.2 284.7h0M311.7 286.6h0M302.1 288.5h0M296.9 296.3h0M305.9 293.7h0" stroke="#2f8a4e" stroke-width="2.4" stroke-linecap="round" stroke-opacity="0.85"/>
<text x="252.2" y="270.6" font-size="7.9">Forks</text>
<circle cx="250.2" cy="279.7" r="1.9" fill="#a9c1e2"/>
<text x="257.5" y="282.3" font-size="7.9">MB1_LF</text>
<circle cx="250.2" cy="287.2" r="1.9" fill="#e8803a"/>
<text x="257.5" y="289.8" font-size="7.9">MB1_UF</text>
<circle cx="250.2" cy="294.7" r="1.9" fill="#a8345e"/>
<text x="257.5" y="297.3" font-size="7.9">MB2_LF</text>
<circle cx="250.2" cy="302.2" r="1.9" fill="#2f8a4e"/>
<text x="257.5" y="304.8" font-size="7.9">MB2_UF</text>
<text x="364.4" y="257.2" font-size="12.4" font-weight="bold">E</text>
<line x1="389.2" y1="257.4" x2="389.2" y2="358.2" stroke="#555" stroke-width="0.7" />
<line x1="387" y1="257.4" x2="389.2" y2="257.4" stroke="#555" stroke-width="0.7" />
<text x="385" y="260" font-size="7" text-anchor="end">10</text>
<line x1="387" y1="282.6" x2="389.2" y2="282.6" stroke="#555" stroke-width="0.7" />
<text x="385" y="285.2" font-size="7" text-anchor="end">5</text>
<line x1="387" y1="307.8" x2="389.2" y2="307.8" stroke="#555" stroke-width="0.7" />
<text x="385" y="310.4" font-size="7" text-anchor="end">0</text>
<line x1="387" y1="333" x2="389.2" y2="333" stroke="#555" stroke-width="0.7" />
<text x="385" y="335.6" font-size="7" text-anchor="end">−5</text>
<line x1="387" y1="358.2" x2="389.2" y2="358.2" stroke="#555" stroke-width="0.7" />
<text x="385" y="360.8" font-size="7" text-anchor="end">−10</text>
<line x1="394.2" y1="363.5" x2="495" y2="363.5" stroke="#555" stroke-width="0.7" />
<line x1="394.2" y1="363.5" x2="394.2" y2="365.7" stroke="#555" stroke-width="0.7" />
<text x="394.2" y="372.7" font-size="7" text-anchor="middle">−10</text>
<line x1="419.4" y1="363.5" x2="419.4" y2="365.7" stroke="#555" stroke-width="0.7" />
<text x="419.4" y="372.7" font-size="7" text-anchor="middle">−5</text>
<line x1="444.6" y1="363.5" x2="444.6" y2="365.7" stroke="#555" stroke-width="0.7" />
<text x="444.6" y="372.7" font-size="7" text-anchor="middle">0</text>
<line x1="469.8" y1="363.5" x2="469.8" y2="365.7" stroke="#555" stroke-width="0.7" />
<text x="469.8" y="372.7" font-size="7" text-anchor="middle">5</text>
<line x1="495" y1="363.5" x2="495" y2="365.7" stroke="#555" stroke-width="0.7" />
<text x="495" y="372.7" font-size="7" text-anchor="middle">10</text>
<line x1="394.2" y1="307.8" x2="495" y2="307.8" stroke="#999" stroke-width="0.6" stroke-dasharray="0.9 1.1"/>
<line x1="444.6" y1="257.4" x2="444.6" y2="358.2" stroke="#999" stroke-width="0.6" stroke-dasharray="0.9 1.1"/>
<text x="374.8" y="307.8" font-size="8.0" text-anchor="middle" transform="rotate(-90 374.8 307.8)">MB3 forkscale</text>
<text x="444.6" y="379.4" font-size="8.0" text-anchor="middle">MB1 forkscale</text>
<path d="M426.4 305.7h0M429.4 311.1h0M432.8 306.4h0M434.8 306.8h0M427.5 309.4h0M429.2 304.9h0M427.5 307h0M432.3 299.3h0M431.7 303.7h0M428.7 309.4h0M433.7 310.9h0M426 303.9h0M428.2 307h0M424.7 309h0M426.7 310.7h0M432 309.9h0M425.3 310h0M427.9 301.9h0M425.5 308.5h0M433.2 313.5h0M428.9 306.9h0M432.6 308.1h0M428.3 307.8h0M425.9 311.4h0M436 309h0M424.1 304.9h0M423.5 311.8h0M425.8 302.3h0M430 303h0M429.9 308h0M426.5 307.7h0M433.9 305.5h0M427 309.5h0M432.6 309.4h0M428.4 313.2h0M425.8 305.5h0M432.3 306.9h0M433.5 312.7h0M428.5 309.9h0M429 299.1h0M432.6 314.2h0M429.9 303.1h0M438.8 304.9h0M432.4 310.4h0M424.9 307.8h0M430.4 301.6h0M438.6 303.7h0M426.8 309.6h0M426.4 306.7h0M426.1 313.5h0M425.1 309.1h0M433.9 304.5h0M428.5 312.6h0M422.7 303h0M428.9 305.7h0M429 309.1h0M432.7 308.4h0M432 315.1h0M431.4 297.1h0M429.3 308.2h0M424 306.2h0M424.1 310.7h0M426.5 313.4h0M431.2 314.9h0M432.9 313.5h0M425.5 307.3h0M425.3 300.5h0M429.9 305.1h0M430.5 304.1h0M427.1 306.2h0M432.1 302h0M433.4 312.9h0M424.3 303.1h0M436.8 302.9h0M438.1 303.8h0M435.6 304.2h0M428.6 312.2h0M431 308.1h0M426.3 309.8h0M427.9 307.6h0M429.2 305.5h0M427.9 299.1h0M436.1 308.6h0M431.5 309.6h0M431.9 296.7h0M429.7 309.9h0M431 305.1h0M436.1 310.7h0M426.3 306.2h0M426.4 294.9h0M417.6 309h0M427.4 311.1h0M432.7 308.4h0M429.1 302.9h0M431.7 307.6h0M426.1 303.2h0M424.7 302.9h0M426.8 298.6h0M431 307h0M429.1 307.6h0M434.1 309.7h0M427 312.1h0M432.5 311.5h0M425 302h0M419.4 315.7h0M428 307.4h0M434.8 306.3h0M429.6 304.4h0M422.4 312.5h0M429.6 298.7h0M427.5 308.2h0M427 311.8h0M420.7 305.6h0M430.8 309.8h0M429.6 305.9h0M426.4 310.9h0M421.7 310.1h0M435 311.3h0M427.7 305.7h0M430.7 306h0M432.4 304.9h0M429.7 307.3h0M438.1 308h0M432.6 310.7h0M433.7 303.5h0M430.5 306.4h0M426.7 309.9h0M430.6 301.7h0M426.8 300.8h0M433.5 307.3h0M425.7 301.3h0M431.8 305.7h0M436.4 308.1h0M423 303.3h0M421.7 312h0M427.6 304.8h0M427.6 301.7h0M424.5 302.7h0M434.1 309.4h0M425.2 310h0M425.1 302h0M427.6 311h0M432 310.9h0M420.6 307.3h0M426.6 303.3h0M437.8 306.5h0M428.3 304.2h0M430.5 314.4h0M428.1 311.5h0M429.1 314.4h0M439.2 308.7h0M430 310h0M434.6 308.8h0M425.1 314.8h0M435.8 312.3h0M436 300.6h0M427.5 311.3h0M437.1 310.5h0M431.4 318.8h0M423.2 306.1h0M435.7 310.1h0M435.6 302.8h0M430.7 303.3h0M424.4 306.6h0M438.5 313.8h0M432.7 306.4h0M425.8 313.6h0M422.6 312.2h0M426.1 308.9h0M430.6 303.5h0M430 309h0M420.7 308.7h0M421.7 307.9h0M428.3 305.3h0M425.1 310.5h0M425.9 308.9h0M425.5 302.9h0M425.9 302.3h0M422.9 307h0M421.7 304.8h0M430.8 304.5h0M438.2 302.6h0M431.8 305.3h0M428.9 304.4h0M421.6 304.9h0M421.5 309.8h0M434.8 309.2h0M428.4 309.5h0M431.5 313.1h0M430.3 301.9h0M405.7 309h0M415.3 308.6h0M407.2 308.6h0M414.1 305.6h0M416.7 308.2h0M403 310.2h0M396.9 309.3h0M402.9 307.3h0M412.3 308.3h0M412 308.1h0M400 309.8h0M407.4 306.2h0M402.1 306.6h0M398.5 304.2h0M407.2 307h0M414.5 305.5h0M413.2 310.3h0M402 311.4h0M407.1 306.8h0M403.4 308.5h0M419 307h0M407.3 308h0M401.8 309.6h0M413.4 307.8h0M405.6 304.7h0M415.9 306.6h0M406.9 307h0M398.9 304.5h0" stroke="#a9c1e2" stroke-width="2.2" stroke-linecap="round" stroke-opacity="0.85"/>
<path d="M423.7 316.2h0M427.2 316h0M424.7 321.1h0M423.5 320.4h0M429.6 316.7h0M420.1 311.8h0M417.9 318.7h0M436.2 321.2h0M416.9 317.8h0M423.2 322h0M435 312h0M426.4 321.8h0M420.9 308.5h0M429.1 315.3h0M419.9 314.5h0M431.5 317.9h0M420.9 315.4h0M417.3 319.1h0M434 314h0M428.1 314.4h0M419.5 313.7h0M435.2 310.1h0M426 316h0M422.6 313.8h0M431.6 313.9h0M423.9 318.5h0M436.7 315.1h0M431.8 317.7h0M418.6 315.1h0M429.9 321.4h0M409.3 357.2h0M408.3 336.5h0" stroke="#c29080" stroke-width="2.3" stroke-linecap="round" stroke-opacity="0.85"/>
<path d="M433.9 318h0M440.6 318.1h0M436.9 323.1h0M433.9 317.5h0M437.8 318.9h0M436.3 317.7h0M432.8 312.3h0M442.9 319.9h0M434.8 319.8h0M438.7 322h0M438.4 317h0M439.4 313.8h0M437.6 321h0M445 314.1h0M437.5 316.4h0M431.5 321.3h0M436.7 317.6h0M438.1 316.1h0M436.2 328h0M437.2 316.4h0M434.3 318.3h0M441.8 317.5h0M438.8 326.2h0M440.1 322.2h0M442.5 323.9h0M434.2 321.7h0M439.3 312.4h0M440.6 316h0M439.2 318.5h0M435.6 319.3h0M441.3 310.8h0M437.9 315.2h0M435.7 318.5h0M437.9 316.2h0M440.8 314.9h0M440.6 321.4h0M433.6 320.8h0M439.9 314.7h0M440.8 312.9h0M442.9 317h0M437.3 311.4h0M445.6 313.3h0M434 319.2h0M434.7 317.9h0M432.3 313.5h0M439.7 318.7h0M442.6 316.9h0M439 316.1h0M436.8 322.1h0M439.5 317.8h0M431.2 319.7h0M436.6 315.1h0M438.5 314.2h0M439.8 318.2h0M432.8 313.5h0M435.2 315.3h0M440.8 320.2h0M434.7 316.8h0M437 315.8h0M441.5 321.6h0M435.5 307.9h0M437 312h0M438.8 322.5h0M436 315.1h0M434.9 314.5h0M439.8 320.1h0M436.7 319.9h0M438.7 308.8h0M440.2 315.6h0M440.4 320.8h0M433 338.5h0M436.5 342.1h0M445.6 334h0M421.4 319.9h0" stroke="#e0352b" stroke-width="2.2" stroke-linecap="round" stroke-opacity="0.85"/>
<path d="M455.3 303.6h0M458.5 308.2h0M466.7 310.6h0M463.3 307.7h0M458.1 307.7h0M451 310.6h0M470.8 311.4h0M461.4 307.8h0M468.3 309.3h0M463.9 306.2h0M461.5 309.5h0M473.9 307.7h0M463.1 305h0M452.8 307.8h0M468.4 305.8h0M452.5 306.1h0M467.6 312.4h0M460.2 311.4h0M460.9 304.2h0M461 308.8h0M461.9 310.2h0M461.4 312h0M454.8 305h0M469.1 300.6h0M458.7 307.2h0M459.2 304.5h0M458.4 314.5h0M461.7 312.6h0M465 306h0M459.1 307.1h0M464 310.7h0M462 304.2h0M464.1 313.5h0M453.7 310h0M457.6 302.9h0M457.4 308.2h0M459 311.5h0M455.5 309.9h0M453.8 312h0M453 310h0M462.9 306.8h0M461.2 308.1h0M462.5 306.1h0M471.1 312.3h0M461 310.2h0M455.8 304.3h0M461.5 306.8h0M467.3 306.4h0M453.7 306.7h0M465.1 304.3h0M462.1 308.7h0M464.8 304h0M463.9 309.9h0M456.4 304.2h0M462.3 308.6h0M459 310.1h0M469.3 302.7h0M463.6 310.3h0M459.6 309.4h0M457.6 309h0M450.8 307.2h0M452.1 309.6h0M467 305.4h0M464.8 308.6h0M467.6 306.4h0M462.5 313.1h0M464.8 315.7h0M464.5 304.1h0M453.7 306h0M462.4 308h0M464.4 312.3h0M458.5 307.7h0M462.4 312.8h0M464.5 305.1h0M464.1 309.9h0M459.7 309.4h0M456.9 312.4h0M464 307.6h0M459.2 305.1h0M455.9 309.9h0M461.1 302.5h0M456.7 306.1h0M466.5 308.6h0M457.5 309.5h0M463.6 315.7h0M469.4 308h0M466.3 310.5h0M467.6 311h0M455.2 308.3h0M470.8 305.3h0M462.9 311.9h0M465.7 308.3h0M452.4 313.1h0M462.1 308.6h0M461.7 308.8h0M461.5 312.2h0M461.3 307.2h0M466.7 307h0M462.2 308.6h0M463.1 310.5h0M460.7 309.3h0M459 306.6h0M457.3 305.9h0M458.4 311.7h0M462.4 304.7h0M468.1 311.2h0M458.6 310.5h0M461.8 302.5h0M454.6 310.1h0M470.1 314.3h0M472.6 311.3h0M457 305.6h0M463.6 309.9h0M446.8 309.1h0M458.2 310.9h0M458.4 313.5h0M455.9 311.1h0M456.2 309h0M460.7 312h0M461.4 310.4h0M452.7 308.5h0M466 310.2h0M462 310.9h0M454.4 309.1h0M448.2 308.6h0M459.9 307.9h0M464.7 308.5h0M473.5 312.1h0M466.3 311.4h0M458.6 306.6h0M466.3 309h0M465 314h0M463.4 313.1h0M458.1 309.1h0M458.6 306.5h0M465.1 304.7h0M466.1 307.9h0M451.9 307.5h0M459.3 312.7h0M472.8 307.9h0M453.9 313.2h0M455.7 310.1h0M460.6 311.9h0M460.6 308.4h0M470.8 308.9h0M456.9 307.4h0M462.9 309h0M461.8 307.8h0M462.8 300.2h0M457.9 308h0M453.2 307.6h0M469.6 302.4h0M463.9 309.4h0M461.3 306.5h0M467.4 308.3h0M458.8 308.9h0M448.8 312.6h0M465.3 304.5h0M467.8 306.1h0M457.3 310.7h0M473.3 309h0M481.8 308h0M484.7 307.2h0M474.6 306.8h0M474 303.9h0M475.8 305.6h0M476.1 306h0M479.6 307.9h0M480.1 304.6h0M472.5 307.2h0M473.7 306.5h0M477 307.2h0M473.7 305.5h0M481.2 308.2h0M479.8 309.1h0" stroke="#e8803a" stroke-width="2.2" stroke-linecap="round" stroke-opacity="0.85"/>
<path d="M447.2 288.6h0M446.7 270.4h0M447.8 289.1h0M447.2 298.4h0M449.2 292.8h0M449 278.3h0M444.8 288.4h0M453.4 279.5h0M450.2 280.1h0M446.3 299h0M451.4 294.6h0M448.6 301.9h0M449.1 286.8h0M443.7 301.7h0M441.3 295.8h0M444.8 302.2h0M447.5 288.2h0M445.8 298.6h0M451.3 292h0M445.2 274.2h0M445.3 297.2h0M444.2 293.8h0M446.5 286.1h0M443.8 273.6h0M447.7 292.8h0M452.4 291.1h0M455.8 299.1h0M447.3 290.6h0M451.8 301.2h0M449.4 283.3h0M451.7 290.2h0M448.2 288.3h0M446.7 268.8h0M444.8 289.5h0M449.1 302h0M440.1 296.8h0M448.7 302.2h0M450.1 298.1h0M444.9 292.5h0M452 288.5h0M445 285.7h0M448.2 287.1h0M446.7 297.9h0M447.2 291.2h0M447.6 294.9h0M445.2 282.8h0M449.5 279h0M446.4 277.3h0M445.3 287.6h0M443 297.9h0M445.7 300.1h0M447.2 292.1h0M445.9 292.8h0M448.4 301.7h0M445.7 285.4h0M449.4 295.1h0M448.3 296h0M444.9 287.2h0M448.3 278h0M450.3 275h0M448 297h0M442.3 298.4h0M451.3 288.8h0M448.3 302.5h0M447 292.7h0M444 287.7h0M451.9 287.8h0M446.9 271.3h0M453.2 264.2h0M444.8 296.2h0M453.2 287h0M450.2 294.3h0M442.7 278.6h0M449.9 296.5h0M450.5 289.1h0M442.5 294.2h0M448.1 296.6h0M446.1 301.6h0M448.2 295h0M448 296.3h0M446.5 295h0M450.7 296.2h0M450.3 291.2h0M438.9 293h0M447.8 285.8h0M448.6 253.4h0M460.2 283.1h0M440.6 269.5h0" stroke="#7b2a99" stroke-width="2.2" stroke-linecap="round" stroke-opacity="0.85"/>
<text x="408.8" y="265" font-size="7.2">Forks</text>
<circle cx="406.8" cy="270.2" r="1.8" fill="#a9c1e2"/>
<text x="410.2" y="272.8" font-size="7.2">MB1_LF</text>
<circle cx="406.8" cy="277" r="1.8" fill="#e8803a"/>
<text x="410.2" y="279.6" font-size="7.2">MB1_UF</text>
<circle cx="406.8" cy="283.9" r="1.8" fill="#e0352b"/>
<text x="410.2" y="286.5" font-size="7.2">MB3_LF</text>
<circle cx="406.8" cy="290.8" r="1.8" fill="#7b2a99"/>
<text x="410.2" y="293.4" font-size="7.2">MB3_UF</text>
<line x1="388.3" y1="384.4" x2="388.3" y2="483.8" stroke="#555" stroke-width="0.7" />
<line x1="386.1" y1="384.4" x2="388.3" y2="384.4" stroke="#555" stroke-width="0.7" />
<text x="384.1" y="387" font-size="7" text-anchor="end">10</text>
<line x1="386.1" y1="409.2" x2="388.3" y2="409.2" stroke="#555" stroke-width="0.7" />
<text x="384.1" y="411.9" font-size="7" text-anchor="end">5</text>
<line x1="386.1" y1="434.1" x2="388.3" y2="434.1" stroke="#555" stroke-width="0.7" />
<text x="384.1" y="436.7" font-size="7" text-anchor="end">0</text>
<line x1="386.1" y1="459" x2="388.3" y2="459" stroke="#555" stroke-width="0.7" />
<text x="384.1" y="461.6" font-size="7" text-anchor="end">−5</text>
<line x1="386.1" y1="483.8" x2="388.3" y2="483.8" stroke="#555" stroke-width="0.7" />
<text x="384.1" y="486.4" font-size="7" text-anchor="end">−10</text>
<line x1="392.9" y1="489.5" x2="492.3" y2="489.5" stroke="#555" stroke-width="0.7" />
<line x1="392.9" y1="489.5" x2="392.9" y2="491.7" stroke="#555" stroke-width="0.7" />
<text x="392.9" y="498.7" font-size="7" text-anchor="middle">−10</text>
<line x1="417.8" y1="489.5" x2="417.8" y2="491.7" stroke="#555" stroke-width="0.7" />
<text x="417.8" y="498.7" font-size="7" text-anchor="middle">−5</text>
<line x1="442.6" y1="489.5" x2="442.6" y2="491.7" stroke="#555" stroke-width="0.7" />
<text x="442.6" y="498.7" font-size="7" text-anchor="middle">0</text>
<line x1="467.5" y1="489.5" x2="467.5" y2="491.7" stroke="#555" stroke-width="0.7" />
<text x="467.5" y="498.7" font-size="7" text-anchor="middle">5</text>
<line x1="492.3" y1="489.5" x2="492.3" y2="491.7" stroke="#555" stroke-width="0.7" />
<text x="492.3" y="498.7" font-size="7" text-anchor="middle">10</text>
<line x1="392.9" y1="434.1" x2="492.3" y2="434.1" stroke="#999" stroke-width="0.6" stroke-dasharray="0.9 1.1"/>
<line x1="442.6" y1="384.4" x2="442.6" y2="483.8" stroke="#999" stroke-width="0.6" stroke-dasharray="0.9 1.1"/>
<text x="374.8" y="434.1" font-size="8.0" text-anchor="middle" transform="rotate(-90 374.8 434.1)">MB2 forkscale</text>
<text x="442.6" y="504.4" font-size="8.0" text-anchor="middle">MB3 forkscale</text>
<path d="M440.1 447.9h0M441.5 443.7h0M449.4 444.1h0M445.4 447.6h0M438.4 443.2h0M445.5 448.5h0M446.1 452h0M450.3 446h0M449.9 456.8h0M442 450.8h0M447.8 451.3h0M446 439.8h0M439.3 448.2h0M453.7 450.3h0M443.4 454h0M438.7 438.4h0M446.4 453h0M440.7 452.3h0M440.2 455.7h0M436.5 443.9h0M448 454.6h0M449.5 442.4h0M441.7 448h0M437.8 447h0M442.5 448.7h0M449.8 447h0M440.4 448.7h0M448.5 455.4h0M440.7 453h0M444.1 441.7h0M443.2 448.4h0M443.3 444h0M443.4 449.7h0M441.3 454.5h0M449.6 451.1h0M441 445.9h0M446.5 446.2h0M444.4 451.8h0M450.5 447.2h0M441.7 447.7h0M444.7 441.8h0M450.9 450.6h0M430.7 448.7h0M437.3 449.3h0M450 444.2h0M434.1 454.9h0M440.6 453.1h0M437.9 453.6h0M432 440.4h0M439.9 448.9h0M441.2 443.1h0M452.8 447.6h0M442.5 447.8h0M430.9 456.3h0M433.7 439.1h0M446 442.5h0M448.2 444.2h0M434.6 447.7h0M445.5 448.7h0M447.7 441.6h0M442.8 451.9h0M448.4 453.6h0M439 443.3h0M441.8 449.2h0M446 445.9h0M461.7 449.1h0M446.5 458.7h0M444.3 450.2h0M448.7 458.3h0M453.7 455.3h0M449.2 451.7h0M440.9 445h0M437 450.2h0M436.4 455.4h0M443.5 443.9h0M439.2 453.1h0M442 461.6h0M438.6 442.2h0M443.7 454.6h0M445.7 444.2h0M440.5 447.3h0M454.7 446.9h0M439.1 455.2h0M446.4 439h0M444.7 439.6h0M434.5 446.3h0M444.5 444.4h0M449.7 452.8h0M437.6 447.8h0M442.5 458.6h0M437.2 442.8h0M444.7 451.2h0M442.2 445.3h0M446.9 454.6h0M441.9 435.3h0M442.4 449.2h0M430.1 450.2h0M430.1 448.6h0M439.3 449.9h0M439 446.7h0M445.6 440.6h0M434.6 448.4h0M448.7 445.1h0M450.1 462h0M445.5 452.9h0M441.4 450h0M452.1 446.6h0M438.4 446.5h0M441.2 440.7h0M441 443.8h0M445.6 448.5h0M439.3 459.1h0M445.5 450.1h0M447.2 444.3h0M443.1 446.5h0M444.6 452.3h0M435.7 448.3h0M441.5 449.5h0M432.9 446.5h0M442.7 450.5h0M446.4 452.8h0M445.5 436.4h0M446.7 440h0M437.6 448.1h0M453.3 454.3h0M438.9 438.8h0M450.8 458.3h0M446.7 460.6h0M446 441.7h0M445.6 443.1h0M441.3 439.2h0M445 448h0M438.9 450.6h0M440.7 446.5h0M438.3 444.6h0M449.1 461h0M444.2 447h0M439.2 449.9h0M444.4 443.5h0M442.8 443.4h0M445 451.5h0M438.8 456.5h0M445.5 444.9h0M444.2 455.3h0M448.9 448.9h0M444.7 448.9h0M445.8 442.7h0M438 450h0M445.5 451.6h0M444.2 447.5h0M442.9 447.6h0M440.2 442.6h0M452.6 448.2h0M442 454.1h0M447.6 460.5h0M439.1 445h0M439.5 441h0M442.5 456.4h0M439.2 443.2h0M454 445.5h0M442 464.5h0M438.5 460.2h0M441.2 482h0M442.2 482.6h0M443.1 466.3h0M445.5 460.9h0M442.3 482.9h0M440 460.5h0M442.3 468.4h0M442.1 459.3h0M444.8 481.3h0M442.7 459.4h0M444.7 479.2h0M443.1 464.8h0M443.9 463.7h0M446.2 478.3h0M441.3 463.7h0M441.2 469.1h0M443.4 479.6h0M440.6 462.2h0M445.2 462.7h0M443.8 474.3h0M425.2 459h0M426.7 459.4h0M432.2 458.5h0" stroke="#a51c4b" stroke-width="2.2" stroke-linecap="round" stroke-opacity="0.85"/>
<path d="M437.7 438.9h0M436.1 435h0M431.9 434.1h0M430 434.7h0M432.9 433.5h0M435.8 436.2h0M437.1 441.2h0M431.7 432.3h0M426.4 436.5h0M431.6 436.6h0M429.8 432.2h0M431.4 430.3h0M433.3 436.8h0M426 432.1h0M431.5 441.4h0M426.1 445.7h0M436.1 433.7h0M432.5 432.5h0M429.3 440h0M428 437.5h0M435 435.3h0M431.7 434.7h0M434.6 441.5h0M432.1 437.8h0M430.5 446.5h0M433.3 438.1h0M430.1 436.6h0M434.8 437.5h0M433.5 439.3h0M428.9 434.3h0M428.8 434.8h0M430.2 443.8h0M438.8 438.9h0M429.2 446.6h0M431.2 433.7h0M434.8 439.4h0M431.3 440.8h0M433.5 440.2h0M430.2 444.5h0M438.7 445.6h0M433.9 434.7h0M434.4 434h0M435 439.5h0M435.2 437.7h0M432 447.1h0M427.4 442.9h0M434.6 432.4h0M435.8 437.9h0M431.4 438.3h0M432.4 439.3h0M429.4 440.6h0M433.3 435.5h0M436 439.3h0M430.4 440.9h0M434.3 440.6h0M430.1 436.5h0M436.9 431.8h0M432.5 436.7h0M429.7 445h0M438.5 436.3h0M429.8 438.6h0M429.4 439.7h0M433.2 440.3h0M433.8 436.8h0M437.6 446.1h0M430.7 444.1h0M431.5 435.7h0M437.6 438.7h0M436.2 438.8h0M428.5 434.9h0M433 444.3h0M435.9 429.5h0M433.6 429.7h0M428.2 439.9h0M432 439.6h0M434.3 438.5h0M434 439.5h0M432.5 436.9h0M427.1 433.4h0M427.9 436.8h0M435.2 437.7h0M427.2 435.7h0M439 439.4h0M435 436h0M430.2 444.2h0M393.9 452.5h0M410.3 437.1h0M416.3 443.5h0M416.3 451.5h0M426.2 429.1h0" stroke="#e8553a" stroke-width="2.2" stroke-linecap="round" stroke-opacity="0.85"/>
<path d="M445.8 421.9h0M441.3 412.1h0M442.1 420.9h0M441.7 415.7h0M443.2 425h0M444.2 426.1h0M447.4 418.2h0M447.8 409.9h0M439.2 425.3h0M439.9 420.1h0M447.2 416.2h0M446.6 415.8h0M441.1 415.7h0M440.3 428.8h0M449.4 423.7h0M441.5 428.4h0M442.7 429.1h0M439.1 425.6h0M443 425.6h0M447.2 425.8h0M447.1 426.9h0M441.9 426.8h0M444.9 411.4h0M444.6 421.5h0M445.8 418.5h0M442.7 419.5h0M442.7 423h0M441.2 419.9h0M444.1 427.4h0M443.7 429h0M442.3 412.9h0M442.5 413h0M442.3 423h0M439.3 418.3h0M448.9 427.2h0M446.2 418.9h0M442 413.8h0M442 426.8h0M443.6 416.3h0M449 421.7h0M441.5 426.8h0M447.6 420.5h0M437.7 408.4h0M443.1 426.8h0M442.5 427.7h0M443.5 426h0M440.2 422.9h0M447.6 427.6h0M445.3 422.4h0M446.8 426.5h0M443.7 419.3h0M444 414.3h0M445.4 414.7h0M440.8 417.8h0M445.2 415.3h0M442.1 428.6h0M443 411.3h0M443 425.6h0M445 426.8h0M444.2 408h0M442.2 426.6h0M439.6 414.7h0M446.4 429h0M443.5 415.9h0M441 428.1h0M440.1 421.6h0M447 420h0M443.2 412.2h0M443.3 421.8h0M442.9 419.5h0M439.7 406.6h0M440.3 415.3h0M445.3 408.2h0M442.7 427.9h0M443.3 424.7h0M444.4 425.7h0M446.5 426.1h0M449.6 420.7h0M447 419.9h0M448.1 428.1h0M441.8 423.5h0M442.9 427.7h0M444.1 416.9h0M442.2 410.9h0M439.9 418.3h0M441.7 419.6h0M444.5 426.8h0M444.8 427.7h0M448.3 422.1h0M445 428.9h0M440.7 425.1h0M442.9 414.9h0M444 427.8h0M442.6 416.9h0M441.5 418.3h0M444.7 418.5h0M447.3 428h0M438 412.5h0M443.2 427.2h0M447.8 410.5h0M449.5 414h0M441.7 424.7h0M445.7 409.7h0M441.1 420.7h0M441.3 427.2h0M445 416.6h0M445.9 413.7h0M447.4 422h0M443.9 412.3h0M444 414.9h0M445.4 416.3h0M444 407.5h0M451.9 420.9h0M442.8 421.7h0M443.6 417.3h0M442.6 384.9h0M443.6 389.4h0M441.1 393.8h0M449.1 398.3h0" stroke="#2a8a45" stroke-width="2.2" stroke-linecap="round" stroke-opacity="0.85"/>
<path d="M456.3 429.3h0M453.5 441.6h0M464.4 438.3h0M470.8 434.9h0M470.4 432.9h0M466.3 432.7h0M461.5 438.1h0M474.9 436.7h0M480.7 436.6h0M457.8 436.5h0M462.9 433.7h0M461.1 429.1h0M453.5 436.3h0M456.5 437.3h0M453.5 432.3h0M464.2 434.3h0M466.1 432.2h0M478.5 424h0M455.6 433.8h0M476.6 440h0M462.4 436.8h0M469.1 440.2h0M462.2 433.9h0M460.3 433.5h0M488.5 435.7h0M474.6 434.9h0M471.4 436.5h0M467.2 440.1h0M455.6 429.2h0M470.9 436.1h0M453.5 431.6h0M479.4 429.5h0M462.4 439.2h0M473.6 439.5h0M483.2 431.3h0M453.6 430.4h0M457.8 434.8h0M464.9 437.5h0M464.7 435.6h0M466.7 430.7h0M462.6 440.9h0M466.3 439.3h0M453.5 432.8h0M466.3 436.3h0M481.3 436.3h0M463.8 433.2h0M484.4 432h0M464.1 436.4h0M453.5 433.4h0M478.1 443.1h0M472.4 437.7h0M454.6 438.7h0M458.2 431.1h0M464.2 431.9h0M453.5 434.3h0M463.1 439.6h0M456.9 434.3h0M458.1 434.3h0M468.8 435.4h0M468.4 432.7h0M475.8 434.1h0M471.4 431h0M483.1 434.4h0M454.9 433.3h0M471.1 433.7h0M474.3 438.2h0M457.3 437h0M453.5 438.8h0M455.5 430.9h0M459 442.4h0M470.8 432.7h0M461.9 438.4h0M470.1 440.7h0M473.5 434.6h0M477.1 434.3h0M479 433.1h0M463.1 430.1h0M459.2 437.4h0M453.7 436.9h0M467.5 432.5h0M456 432.8h0M453.9 438.4h0M472.4 436.3h0M457.2 434.6h0M462 436.4h0" stroke="#8a3aa6" stroke-width="2.2" stroke-linecap="round" stroke-opacity="0.85"/>
<text x="407.5" y="390.8" font-size="7.2">Forks</text>
<circle cx="405.5" cy="397.2" r="1.8" fill="#a51c4b"/>
<text x="409.2" y="399.8" font-size="7.2">MB2_LF</text>
<circle cx="405.5" cy="403.5" r="1.8" fill="#2a8a45"/>
<text x="409.2" y="406.1" font-size="7.2">MB2_UF</text>
<circle cx="405.5" cy="409.8" r="1.8" fill="#e8553a"/>
<text x="409.2" y="412.4" font-size="7.2">MB3_LF</text>
<circle cx="405.5" cy="416.1" r="1.8" fill="#8a3aa6"/>
<text x="409.2" y="418.7" font-size="7.2">MB3_UF</text>
<text x="207" y="426.6" font-size="12.4" font-weight="bold">F</text>
<text x="267.7" y="434.2" font-size="8.2" text-anchor="middle" textLength="21" lengthAdjust="spacingAndGlyphs">MB1, 2</text>
<text x="338.8" y="433.6" font-size="8.2" text-anchor="middle">MB3</text>
<rect x="219.4" y="435.9" width="97.6" height="44.6" fill="none" stroke="#555" stroke-width="0.8" stroke-dasharray="2.6 1.6"/>
<rect x="319.8" y="436.2" width="40.5" height="44.3" fill="none" stroke="#555" stroke-width="0.8" stroke-dasharray="2.6 1.6"/>
<rect x="222.7" y="438.5" width="36.5" height="17" fill="#eeaa85" />
<rect x="277.3" y="438.4" width="36.5" height="17.2" fill="#79b991" />
<rect x="239.4" y="462.1" width="56.1" height="16.7" fill="url(#lfg)" />
<rect x="320.4" y="438.4" width="37.1" height="17.2" fill="#9b5bb0" />
<rect x="320.4" y="462.3" width="37.1" height="16.4" fill="#e05548" />
<text x="240.9" y="446.2" font-size="7.4" text-anchor="middle" textLength="26.5" lengthAdjust="spacingAndGlyphs">MB1_UF</text>
<text x="295.5" y="446.2" font-size="7.4" text-anchor="middle" textLength="27" lengthAdjust="spacingAndGlyphs">MB2_UF</text>
<text x="267.6" y="476.6" font-size="7.4" text-anchor="middle" textLength="34" lengthAdjust="spacingAndGlyphs">MB1_2_LF</text>
<text x="339" y="446.2" font-size="7.4" text-anchor="middle" textLength="27" lengthAdjust="spacingAndGlyphs">MB3_UF</text>
<text x="339" y="476.6" font-size="7.4" text-anchor="middle" textLength="26" lengthAdjust="spacingAndGlyphs">MB3_LF</text>
<path d="M250.4 449.6L267.3 467.9L285 449.6M339.6 449.2V467.7" stroke="#000" stroke-width="1.3" fill="none"/>
<circle cx="250.4" cy="449.6" r="2.2"/>
<circle cx="285" cy="449.6" r="2.2"/>
<circle cx="267.3" cy="467.9" r="2.2"/>
<circle cx="339.6" cy="449.2" r="2.2"/>
<circle cx="339.6" cy="467.7" r="2.2"/>
<text x="268" y="488" font-size="7.8" text-anchor="middle" textLength="60" lengthAdjust="spacingAndGlyphs">switch in biogenesis</text>
<text x="338.7" y="488" font-size="7.8" text-anchor="middle" textLength="51.5" lengthAdjust="spacingAndGlyphs">switch in function</text>
<text x="6.3" y="503.2" font-size="12.4" font-weight="bold">G</text>
<path d="M126 506.3V513.5M55.4 506.3V513.5M121.9 506.3V513.5M58.5 506.3V513.5M128.2 506.3V513.5M38.6 506.3V513.5M19.8 506.3V513.5M23.5 506.3V513.5M18 506.3V513.5M140.3 506.3V513.5M38.1 506.3V513.5M62 506.3V513.5M117.6 506.3V513.5M121.3 506.3V513.5M155.8 506.3V513.5M42.9 506.3V513.5M112 506.3V513.5M52.7 506.3V513.5M92.6 506.3V513.5M44.6 506.3V513.5M146.7 506.3V513.5M144 506.3V513.5M49.6 506.3V513.5M71.1 506.3V513.5M25.5 506.3V513.5M10.3 506.3V513.5M132.3 506.3V513.5M73.2 506.3V513.5M152.8 506.3V513.5M81.1 506.3V513.5M119.1 506.3V513.5M9.6 506.3V513.5" stroke="#6aae88" stroke-opacity="0.2" stroke-width="0.7"/>
<path d="M44.1 506.3V513.5M27 506.3V513.5M18.8 506.3V513.5M7.7 506.3V513.5M30 506.3V513.5M77.8 506.3V513.5M19 506.3V513.5M86.5 506.3V513.5M34.5 506.3V513.5M100.9 506.3V513.5M64.9 506.3V513.5M153.7 506.3V513.5M123.3 506.3V513.5M138.1 506.3V513.5M24.7 506.3V513.5M22.8 506.3V513.5M15.2 506.3V513.5" stroke="#6aae88" stroke-opacity="0.3" stroke-width="0.7"/>
<path d="M128.3 506.3V513.5M114.1 506.3V513.5M140 506.3V513.5M81.3 506.3V513.5M54.8 506.3V513.5M17.1 506.3V513.5M64.1 506.3V513.5M158.2 506.3V513.5M85.2 506.3V513.5M14.1 506.3V513.5M120.3 506.3V513.5M15.6 506.3V513.5M140.4 506.3V513.5M86.3 506.3V513.5M88.5 506.3V513.5M37 506.3V513.5M21.1 506.3V513.5M42 506.3V513.5M150.9 506.3V513.5M124.3 506.3V513.5M107.4 506.3V513.5M15.7 506.3V513.5M106.5 506.3V513.5M37.6 506.3V513.5" stroke="#6aae88" stroke-opacity="0.1" stroke-width="0.5"/>
<path d="M63.7 506.3V513.5M148.6 506.3V513.5M125.4 506.3V513.5M88.6 506.3V513.5M134.4 506.3V513.5M127.9 506.3V513.5M101.7 506.3V513.5M118 506.3V513.5M41.7 506.3V513.5M107.7 506.3V513.5M30.9 506.3V513.5M123.2 506.3V513.5M55.6 506.3V513.5M82.5 506.3V513.5M152.3 506.3V513.5M16 506.3V513.5M48.1 506.3V513.5M14.1 506.3V513.5M73.7 506.3V513.5M15.2 506.3V513.5M76 506.3V513.5" stroke="#6aae88" stroke-opacity="0.1" stroke-width="0.9"/>
<path d="M138.8 506.3V513.5M35.3 506.3V513.5M108.6 506.3V513.5M31.7 506.3V513.5M28.7 506.3V513.5M151.9 506.3V513.5M25.6 506.3V513.5M133 506.3V513.5M20.4 506.3V513.5M152.5 506.3V513.5M103.9 506.3V513.5M39.9 506.3V513.5M136.8 506.3V513.5M26.2 506.3V513.5M66.1 506.3V513.5M135.8 506.3V513.5M73.6 506.3V513.5M27.7 506.3V513.5M102.6 506.3V513.5M56.7 506.3V513.5M12.4 506.3V513.5M45.1 506.3V513.5M79 506.3V513.5M82.9 506.3V513.5M28.4 506.3V513.5M66.1 506.3V513.5M130.7 506.3V513.5M58 506.3V513.5M95.5 506.3V513.5M36 506.3V513.5M39.8 506.3V513.5M67 506.3V513.5M45.2 506.3V513.5M50.6 506.3V513.5M156.7 506.3V513.5M133.9 506.3V513.5M69.4 506.3V513.5M36.1 506.3V513.5M59.7 506.3V513.5" stroke="#6aae88" stroke-opacity="0.2" stroke-width="0.9"/>
<path d="M65.9 506.3V513.5M20.4 506.3V513.5M129.9 506.3V513.5M120.8 506.3V513.5M127.8 506.3V513.5M50.1 506.3V513.5M73 506.3V513.5M156.5 506.3V513.5M155.6 506.3V513.5M146 506.3V513.5M144.7 506.3V513.5M67.1 506.3V513.5M115 506.3V513.5M153.2 506.3V513.5M131.2 506.3V513.5M56.8 506.3V513.5M130.2 506.3V513.5M64.6 506.3V513.5M21 506.3V513.5M110.6 506.3V513.5M44.4 506.3V513.5M86.9 506.3V513.5M76.5 506.3V513.5M71.4 506.3V513.5M145.8 506.3V513.5M76.6 506.3V513.5M135.3 506.3V513.5" stroke="#6aae88" stroke-opacity="0.2" stroke-width="0.5"/>
<path d="M129.8 506.3V513.5M137.5 506.3V513.5M121.7 506.3V513.5M133.4 506.3V513.5M43.9 506.3V513.5M30.6 506.3V513.5M126.2 506.3V513.5M156.2 506.3V513.5M101.8 506.3V513.5M8 506.3V513.5M145 506.3V513.5M47.2 506.3V513.5M131.5 506.3V513.5M42.8 506.3V513.5M76.1 506.3V513.5M120.9 506.3V513.5M102.3 506.3V513.5M149.5 506.3V513.5M35.9 506.3V513.5M142.1 506.3V513.5M55 506.3V513.5M16.7 506.3V513.5M34.2 506.3V513.5M54.7 506.3V513.5M52.9 506.3V513.5" stroke="#6aae88" stroke-opacity="0.3" stroke-width="0.5"/>
<path d="M141.2 506.3V513.5M78.9 506.3V513.5M12.9 506.3V513.5M72.5 506.3V513.5M76.6 506.3V513.5M130 506.3V513.5M118 506.3V513.5M49.8 506.3V513.5M83.3 506.3V513.5M65.9 506.3V513.5M63.4 506.3V513.5M9.8 506.3V513.5M132.4 506.3V513.5M71.7 506.3V513.5M37.8 506.3V513.5M53.3 506.3V513.5M80 506.3V513.5M141 506.3V513.5M122.6 506.3V513.5M90.2 506.3V513.5M75.2 506.3V513.5M77.7 506.3V513.5M23.7 506.3V513.5" stroke="#6aae88" stroke-opacity="0.3" stroke-width="0.9"/>
<path d="M109.6 506.3V513.5M135.9 506.3V513.5M107.4 506.3V513.5M93.2 506.3V513.5M90.9 506.3V513.5M99.1 506.3V513.5M126.3 506.3V513.5M96.2 506.3V513.5M82.9 506.3V513.5M69.9 506.3V513.5M121.3 506.3V513.5M53.1 506.3V513.5M9.4 506.3V513.5M30.2 506.3V513.5M151.9 506.3V513.5M127.1 506.3V513.5M84.5 506.3V513.5M22 506.3V513.5M51.6 506.3V513.5M144.3 506.3V513.5M131.7 506.3V513.5M18.5 506.3V513.5" stroke="#6aae88" stroke-opacity="0.1" stroke-width="0.7"/>
<path d="M114.5 515.3V522.8M144.8 515.3V522.8M81 515.3V522.8M77.3 515.3V522.8M61.6 515.3V522.8M90.4 515.3V522.8M126.7 515.3V522.8M83.4 515.3V522.8M129.5 515.3V522.8M10.8 515.3V522.8M131.8 515.3V522.8M65.3 515.3V522.8M109.5 515.3V522.8" stroke="#e87080" stroke-opacity="0.1" stroke-width="0.5"/>
<path d="M134.2 515.3V522.8M89.1 515.3V522.8M90.9 515.3V522.8M36.8 515.3V522.8M144.5 515.3V522.8M109.1 515.3V522.8M35.3 515.3V522.8M92.1 515.3V522.8M99.8 515.3V522.8M129.9 515.3V522.8M83.7 515.3V522.8M39.9 515.3V522.8M111.9 515.3V522.8M76 515.3V522.8M89.9 515.3V522.8M119.1 515.3V522.8M59.7 515.3V522.8M20.2 515.3V522.8M113 515.3V522.8" stroke="#e87080" stroke-opacity="0.2" stroke-width="0.5"/>
<path d="M28 515.3V522.8M130.9 515.3V522.8M152.5 515.3V522.8M64.6 515.3V522.8M56.3 515.3V522.8M93 515.3V522.8M42 515.3V522.8" stroke="#e87080" stroke-opacity="0.1" stroke-width="0.7"/>
<path d="M130.2 515.3V522.8M76.3 515.3V522.8M59 515.3V522.8M28.7 515.3V522.8M43.6 515.3V522.8M76.9 515.3V522.8M112.4 515.3V522.8M67.9 515.3V522.8M29.6 515.3V522.8M119.5 515.3V522.8" stroke="#e87080" stroke-opacity="0.3" stroke-width="0.7"/>
<path d="M107.1 515.3V522.8M93.6 515.3V522.8M103.2 515.3V522.8M120.4 515.3V522.8M40.9 515.3V522.8M156.5 515.3V522.8M51.2 515.3V522.8M138.1 515.3V522.8M35.7 515.3V522.8M61.3 515.3V522.8M154.1 515.3V522.8" stroke="#e87080" stroke-opacity="0.3" stroke-width="0.9"/>
<path d="M39.9 515.3V522.8M150.9 515.3V522.8M33.1 515.3V522.8M97.9 515.3V522.8M130.8 515.3V522.8M102.9 515.3V522.8M68.8 515.3V522.8M112.8 515.3V522.8M120.7 515.3V522.8M76 515.3V522.8M99.8 515.3V522.8M50.4 515.3V522.8" stroke="#e87080" stroke-opacity="0.3" stroke-width="0.5"/>
<path d="M77.5 515.3V522.8M25.6 515.3V522.8M15.1 515.3V522.8M19.3 515.3V522.8M81.8 515.3V522.8M24.6 515.3V522.8M151.9 515.3V522.8M34.1 515.3V522.8M28.6 515.3V522.8M44.4 515.3V522.8M119.1 515.3V522.8M144.6 515.3V522.8M123.6 515.3V522.8M80.9 515.3V522.8M156.3 515.3V522.8M101.4 515.3V522.8M39.8 515.3V522.8M112.8 515.3V522.8M105 515.3V522.8M126.3 515.3V522.8M72.1 515.3V522.8M85.7 515.3V522.8M82 515.3V522.8" stroke="#e87080" stroke-opacity="0.2" stroke-width="0.7"/>
<path d="M50 515.3V522.8M8.4 515.3V522.8M55 515.3V522.8M142.5 515.3V522.8M27 515.3V522.8M35.5 515.3V522.8M35.9 515.3V522.8M44.2 515.3V522.8M66.7 515.3V522.8M91.7 515.3V522.8M64.5 515.3V522.8M34.3 515.3V522.8M80.1 515.3V522.8M11.1 515.3V522.8M54.3 515.3V522.8" stroke="#e87080" stroke-opacity="0.2" stroke-width="0.9"/>
<path d="M27.2 515.3V522.8M48.3 515.3V522.8M84.3 515.3V522.8M53.7 515.3V522.8M51.1 515.3V522.8M67.5 515.3V522.8M137.5 515.3V522.8M106.3 515.3V522.8M29.2 515.3V522.8M122.5 515.3V522.8" stroke="#e87080" stroke-opacity="0.1" stroke-width="0.9"/>
<path d="M192.6 506.3V513.5M189.1 506.3V513.5M284.5 506.3V513.5M281.9 506.3V513.5M216.5 506.3V513.5M306.5 506.3V513.5M266.4 506.3V513.5M180.8 506.3V513.5M307.9 506.3V513.5M161 506.3V513.5M283.7 506.3V513.5M233.4 506.3V513.5M223.5 506.3V513.5M238.9 506.3V513.5M246.9 506.3V513.5M282 506.3V513.5M215.6 506.3V513.5M230.3 506.3V513.5M259.9 506.3V513.5M286.1 506.3V513.5M278.5 506.3V513.5M175.3 506.3V513.5M282 506.3V513.5M236.5 506.3V513.5M183.5 506.3V513.5M294.6 506.3V513.5M228.9 506.3V513.5M210.5 506.3V513.5M217.4 506.3V513.5M300.3 506.3V513.5M264.4 506.3V513.5M219.4 506.3V513.5M266.3 506.3V513.5M277.5 506.3V513.5M173.1 506.3V513.5M211 506.3V513.5M178.8 506.3V513.5M209.8 506.3V513.5M181.9 506.3V513.5M179.5 506.3V513.5M228.3 506.3V513.5M291.1 506.3V513.5M236.8 506.3V513.5M184.5 506.3V513.5" stroke="#6aae88" stroke-opacity="0.2" stroke-width="0.7"/>
<path d="M272.9 506.3V513.5M283 506.3V513.5M196.4 506.3V513.5M249.9 506.3V513.5M248.8 506.3V513.5M239.9 506.3V513.5M200.6 506.3V513.5M167.7 506.3V513.5M216.1 506.3V513.5M247.6 506.3V513.5M187.6 506.3V513.5M170.8 506.3V513.5M278.2 506.3V513.5M222.6 506.3V513.5M266.9 506.3V513.5M274.2 506.3V513.5M305.9 506.3V513.5M163.1 506.3V513.5M279.9 506.3V513.5" stroke="#6aae88" stroke-opacity="0.3" stroke-width="0.7"/>
<path d="M215.9 506.3V513.5M167.7 506.3V513.5M180.8 506.3V513.5M257.3 506.3V513.5M234.3 506.3V513.5M267 506.3V513.5M202 506.3V513.5M237.4 506.3V513.5M297.2 506.3V513.5M293 506.3V513.5M230.5 506.3V513.5M208.2 506.3V513.5M233 506.3V513.5M213.4 506.3V513.5M252.4 506.3V513.5M220.4 506.3V513.5M273 506.3V513.5M261.3 506.3V513.5M183 506.3V513.5M191.2 506.3V513.5M302.4 506.3V513.5M222.3 506.3V513.5M200.6 506.3V513.5M169.8 506.3V513.5M237.5 506.3V513.5M310.6 506.3V513.5M224.4 506.3V513.5M186.3 506.3V513.5M272.1 506.3V513.5M253.4 506.3V513.5M197 506.3V513.5M273.1 506.3V513.5M230.8 506.3V513.5M310.3 506.3V513.5M230.4 506.3V513.5M296.1 506.3V513.5M184.3 506.3V513.5M261.6 506.3V513.5M263.9 506.3V513.5M188.2 506.3V513.5M214 506.3V513.5M250.5 506.3V513.5M239.5 506.3V513.5M279.5 506.3V513.5" stroke="#6aae88" stroke-opacity="0.2" stroke-width="0.9"/>
<path d="M230.6 506.3V513.5M204.8 506.3V513.5M172.4 506.3V513.5M295 506.3V513.5M207.6 506.3V513.5M276.4 506.3V513.5M229.4 506.3V513.5M220.5 506.3V513.5M259.5 506.3V513.5M182.9 506.3V513.5M249.2 506.3V513.5M207.8 506.3V513.5M208.7 506.3V513.5M280.1 506.3V513.5M203 506.3V513.5M166.5 506.3V513.5M270.2 506.3V513.5M246.5 506.3V513.5M167.9 506.3V513.5M251.6 506.3V513.5M238.3 506.3V513.5M229.2 506.3V513.5M245.4 506.3V513.5M226.4 506.3V513.5M287 506.3V513.5" stroke="#6aae88" stroke-opacity="0.3" stroke-width="0.9"/>
<path d="M193.5 506.3V513.5M254 506.3V513.5M195.4 506.3V513.5M170.7 506.3V513.5M273.6 506.3V513.5M192.4 506.3V513.5M173.9 506.3V513.5M282.4 506.3V513.5M183.5 506.3V513.5M305.6 506.3V513.5M289.4 506.3V513.5M190.8 506.3V513.5M171.7 506.3V513.5M173.8 506.3V513.5M254.1 506.3V513.5" stroke="#6aae88" stroke-opacity="0.1" stroke-width="0.9"/>
<path d="M259.3 506.3V513.5M207.2 506.3V513.5M279.7 506.3V513.5M218.6 506.3V513.5M294.5 506.3V513.5M236.7 506.3V513.5M196.7 506.3V513.5M272 506.3V513.5M283.6 506.3V513.5M257.1 506.3V513.5M192.8 506.3V513.5M297.6 506.3V513.5" stroke="#6aae88" stroke-opacity="0.3" stroke-width="0.5"/>
<path d="M292.9 506.3V513.5M162.4 506.3V513.5M175.3 506.3V513.5M180.1 506.3V513.5M283.9 506.3V513.5M266.3 506.3V513.5M243.1 506.3V513.5M307 506.3V513.5M305 506.3V513.5M278.6 506.3V513.5M256.4 506.3V513.5M202.3 506.3V513.5M265.2 506.3V513.5M202.1 506.3V513.5M274.2 506.3V513.5M270.8 506.3V513.5M172.8 506.3V513.5" stroke="#6aae88" stroke-opacity="0.1" stroke-width="0.7"/>
<path d="M242.6 506.3V513.5M287.1 506.3V513.5M200.7 506.3V513.5M182.5 506.3V513.5M309.5 506.3V513.5M215.8 506.3V513.5M285.2 506.3V513.5M233.7 506.3V513.5M180.7 506.3V513.5M230.4 506.3V513.5M216.4 506.3V513.5M225.6 506.3V513.5M182.9 506.3V513.5M297.8 506.3V513.5M295.5 506.3V513.5M283.4 506.3V513.5M190 506.3V513.5M228.3 506.3V513.5M256.4 506.3V513.5" stroke="#6aae88" stroke-opacity="0.1" stroke-width="0.5"/>
<path d="M235.8 506.3V513.5M261.1 506.3V513.5M251.9 506.3V513.5M168.3 506.3V513.5M270.2 506.3V513.5M295.8 506.3V513.5M194.8 506.3V513.5M208.5 506.3V513.5M191.8 506.3V513.5M272.2 506.3V513.5M290.7 506.3V513.5M195 506.3V513.5M283.8 506.3V513.5M302.3 506.3V513.5M213 506.3V513.5M291.1 506.3V513.5M236.2 506.3V513.5M216.6 506.3V513.5M227.1 506.3V513.5M208.1 506.3V513.5M249.1 506.3V513.5M305.2 506.3V513.5M183.4 506.3V513.5M181.8 506.3V513.5M206.8 506.3V513.5M178 506.3V513.5M191.9 506.3V513.5M266.5 506.3V513.5M252.5 506.3V513.5M245.7 506.3V513.5M221.7 506.3V513.5M306.4 506.3V513.5M245 506.3V513.5M186.8 506.3V513.5M267.9 506.3V513.5" stroke="#6aae88" stroke-opacity="0.2" stroke-width="0.5"/>
<path d="M264.7 515.3V522.8M253.9 515.3V522.8M278.5 515.3V522.8M291.1 515.3V522.8M205.1 515.3V522.8M247.2 515.3V522.8M166.2 515.3V522.8M195.3 515.3V522.8M212.8 515.3V522.8M273.4 515.3V522.8M165 515.3V522.8M261.5 515.3V522.8M177.9 515.3V522.8M174.2 515.3V522.8M251.6 515.3V522.8M248.1 515.3V522.8M230.1 515.3V522.8M184.1 515.3V522.8M265.1 515.3V522.8M273 515.3V522.8M271.2 515.3V522.8" stroke="#e87080" stroke-opacity="0.2" stroke-width="0.9"/>
<path d="M246.4 515.3V522.8M179 515.3V522.8M272.6 515.3V522.8M198.6 515.3V522.8M279.6 515.3V522.8M203.5 515.3V522.8M300.2 515.3V522.8M172.7 515.3V522.8M301 515.3V522.8M253.5 515.3V522.8M271.3 515.3V522.8M284.8 515.3V522.8M270.7 515.3V522.8M222.7 515.3V522.8M282.6 515.3V522.8M188.3 515.3V522.8M200.2 515.3V522.8" stroke="#e87080" stroke-opacity="0.2" stroke-width="0.7"/>
<path d="M237 515.3V522.8M278.7 515.3V522.8M224.8 515.3V522.8M235.7 515.3V522.8M189.7 515.3V522.8M231.7 515.3V522.8M208.9 515.3V522.8M272 515.3V522.8M196.7 515.3V522.8M301.3 515.3V522.8M219.7 515.3V522.8M177.8 515.3V522.8M205.8 515.3V522.8" stroke="#e87080" stroke-opacity="0.3" stroke-width="0.9"/>
<path d="M242.6 515.3V522.8M302.2 515.3V522.8M249.4 515.3V522.8M203.6 515.3V522.8M253 515.3V522.8M182 515.3V522.8M309.6 515.3V522.8M242.2 515.3V522.8M263 515.3V522.8M301.5 515.3V522.8M192 515.3V522.8M273 515.3V522.8" stroke="#e87080" stroke-opacity="0.3" stroke-width="0.5"/>
<path d="M310.7 515.3V522.8M203.7 515.3V522.8M262.5 515.3V522.8M252.1 515.3V522.8M187 515.3V522.8M261.5 515.3V522.8M251 515.3V522.8M181.2 515.3V522.8M301.5 515.3V522.8M187.5 515.3V522.8M216.4 515.3V522.8" stroke="#e87080" stroke-opacity="0.1" stroke-width="0.7"/>
<path d="M265.2 515.3V522.8M257.6 515.3V522.8M198.7 515.3V522.8M181.8 515.3V522.8M164.5 515.3V522.8M203.3 515.3V522.8M237.9 515.3V522.8M309.7 515.3V522.8M175.5 515.3V522.8M273.1 515.3V522.8M300.7 515.3V522.8M169.7 515.3V522.8M294.3 515.3V522.8M229.4 515.3V522.8M289.8 515.3V522.8" stroke="#e87080" stroke-opacity="0.3" stroke-width="0.7"/>
<path d="M272.8 515.3V522.8M297.3 515.3V522.8M175.2 515.3V522.8M307.9 515.3V522.8M301.9 515.3V522.8M173.1 515.3V522.8M237.7 515.3V522.8M222.2 515.3V522.8M179.8 515.3V522.8M258.8 515.3V522.8M303.8 515.3V522.8M271.7 515.3V522.8M245 515.3V522.8M172.1 515.3V522.8M168.1 515.3V522.8M174.3 515.3V522.8" stroke="#e87080" stroke-opacity="0.2" stroke-width="0.5"/>
<path d="M226.4 515.3V522.8M311 515.3V522.8M310.1 515.3V522.8M243.5 515.3V522.8M248.9 515.3V522.8M234.4 515.3V522.8M303.4 515.3V522.8M244.8 515.3V522.8M195.8 515.3V522.8M280.1 515.3V522.8M225.5 515.3V522.8" stroke="#e87080" stroke-opacity="0.1" stroke-width="0.9"/>
<path d="M184.8 515.3V522.8M294.9 515.3V522.8M292.5 515.3V522.8M187 515.3V522.8" stroke="#e87080" stroke-opacity="0.1" stroke-width="0.5"/>
<text x="315.7" y="511.5" font-size="7.0" textLength="29" lengthAdjust="spacingAndGlyphs">Metabolic</text>
<text x="315.7" y="522.2" font-size="7.0" textLength="40.5" lengthAdjust="spacingAndGlyphs">Mitochondrial</text>
<rect x="7.3" y="524" width="151" height="75.2" fill="#b5121f" fill-opacity="0.1"/>
<g mask="url(#mvtl)"><rect x="7.3" y="524" width="151" height="75.2" fill="#b5121f" mask="url(#mhtl)"/></g>
<rect x="161" y="524" width="150.8" height="75.2" fill="#1c2585" fill-opacity="0.06"/>
<g mask="url(#mvtr)"><rect x="161" y="524" width="150.8" height="75.2" fill="#1c2585" mask="url(#mhtr)"/></g>
<rect x="7.3" y="601.6" width="151" height="75" fill="#1c2585" fill-opacity="0.06"/>
<g mask="url(#mvbl)"><rect x="7.3" y="601.6" width="151" height="75" fill="#1c2585" mask="url(#mhbl)"/></g>
<rect x="161" y="601.6" width="150.8" height="75" fill="#b5121f" fill-opacity="0.1"/>
<g mask="url(#mvbr)"><rect x="161" y="601.6" width="150.8" height="75" fill="#b5121f" mask="url(#mhbr)"/></g>
<text x="316.5" y="583.8" font-size="6.8" textLength="29.5" lengthAdjust="spacingAndGlyphs">Pearson r</text>
<rect x="321.3" y="587" width="6.1" height="9.6" fill="url(#prr)" />
<rect x="321.3" y="606.6" width="6.1" height="9.5" fill="url(#prb)" />
<text x="329.6" y="589.6" font-size="6.6">1</text>
<text x="329" y="596.9" font-size="6.6">0.5</text>
<text x="329.6" y="603.4" font-size="6.6">0</text>
<text x="328.6" y="611.1" font-size="6.6">−0.5</text>
<text x="328.6" y="617.4" font-size="6.6">−1</text>
<rect x="7.3" y="678.2" width="16" height="7.2" fill="url(#org)" />
<path d="M48.2 678.2V685.4M54.7 678.2V685.4M28.7 678.2V685.4M33.9 678.2V685.4M56 678.2V685.4M30.3 678.2V685.4M49.3 678.2V685.4M45 678.2V685.4M23.9 678.2V685.4M49.9 678.2V685.4M59.2 678.2V685.4M24.3 678.2V685.4" stroke="#e88a50" stroke-opacity="0.2" stroke-width="0.6"/>
<path d="M50.1 678.2V685.4M38 678.2V685.4M44.7 678.2V685.4M33.8 678.2V685.4M28.3 678.2V685.4M50.5 678.2V685.4M27.2 678.2V685.4M55 678.2V685.4" stroke="#e88a50" stroke-opacity="0.3" stroke-width="0.6"/>
<path d="M84.7 678.2V685.4M135.3 678.2V685.4M61.1 678.2V685.4M118.9 678.2V685.4M155.9 678.2V685.4M126.6 678.2V685.4M95 678.2V685.4" stroke="#f0a070" stroke-opacity="0.3" stroke-width="0.6"/>
<path d="M21.7 678.2V685.4M9 678.2V685.4M18.7 678.2V685.4M16.8 678.2V685.4M21.7 678.2V685.4M14.7 678.2V685.4M15.8 678.2V685.4M8.9 678.2V685.4M9.4 678.2V685.4M18.2 678.2V685.4M19.2 678.2V685.4M7.9 678.2V685.4M12 678.2V685.4M11 678.2V685.4" stroke="#e0651f" stroke-opacity="0.5" stroke-width="0.6"/>
<path d="M39.9 678.2V685.4M58.3 678.2V685.4M27.4 678.2V685.4" stroke="#e88a50" stroke-opacity="0.4" stroke-width="0.6"/>
<rect x="297.8" y="678.3" width="14" height="7.3" fill="url(#blg)" />
<path d="M270.7 678.3V685.6M281 678.3V685.6M301.6 678.3V685.6M291.4 678.3V685.6M289.1 678.3V685.6M307.8 678.3V685.6M296.3 678.3V685.6M289.6 678.3V685.6M296.8 678.3V685.6M292.6 678.3V685.6M297.3 678.3V685.6M269.8 678.3V685.6M274.6 678.3V685.6M302.3 678.3V685.6M283.4 678.3V685.6M290.8 678.3V685.6" stroke="#8fb0d8" stroke-opacity="0.5" stroke-width="0.6"/>
<path d="M189.1 678.3V685.6M212.7 678.3V685.6M170.6 678.3V685.6M200.9 678.3V685.6M168.4 678.3V685.6M188.6 678.3V685.6M197.6 678.3V685.6M215.5 678.3V685.6M197.9 678.3V685.6M206.3 678.3V685.6" stroke="#aac4e4" stroke-opacity="0.3" stroke-width="0.6"/>
<path d="M259.1 678.3V685.6M274.4 678.3V685.6M307 678.3V685.6M270.1 678.3V685.6M272.2 678.3V685.6M264 678.3V685.6M270.1 678.3V685.6M267.8 678.3V685.6M301.9 678.3V685.6M304.6 678.3V685.6M279.3 678.3V685.6M260 678.3V685.6M287.4 678.3V685.6" stroke="#8fb0d8" stroke-opacity="0.4" stroke-width="0.6"/>
<path d="M299.4 678.3V685.6M282.9 678.3V685.6M277.2 678.3V685.6" stroke="#8fb0d8" stroke-opacity="0.6" stroke-width="0.6"/>
<path d="M260.6 678.3V685.6M271.7 678.3V685.6M275.8 678.3V685.6M257.5 678.3V685.6M278.3 678.3V685.6M266.3 678.3V685.6M249.6 678.3V685.6M250.2 678.3V685.6M261.3 678.3V685.6M269.8 678.3V685.6M260 678.3V685.6M289.9 678.3V685.6" stroke="#8fb0d8" stroke-opacity="0.3" stroke-width="0.6"/>
<path d="M230.8 678.3V685.6M246.3 678.3V685.6M232.6 678.3V685.6M222.4 678.3V685.6" stroke="#8fb0d8" stroke-opacity="0.2" stroke-width="0.6"/>
<path d="M300.7 678.3V685.6" stroke="#8fb0d8" stroke-opacity="0.7" stroke-width="0.6"/>
<path d="M7.3 689 Q60 693.6 158.3 695.6" stroke="#606060" stroke-width="2.2" fill="none"/>
<path d="M161 700.2 Q220 701.5 311.8 708.4" stroke="#606060" stroke-width="2.2" fill="none"/>
<path d="M69.5 712.8V719.7M59.4 712.8V719.7M100.9 712.8V719.7M19.2 712.8V719.7M9.6 712.8V719.7M13.9 712.8V719.7M149.1 712.8V719.7M113 712.8V719.7M117.6 712.8V719.7" stroke="#5aa57a" stroke-opacity="0.3" stroke-width="0.5"/>
<path d="M76.1 712.8V719.7M114.6 712.8V719.7M65.3 712.8V719.7M144.3 712.8V719.7M14.1 712.8V719.7M61.4 712.8V719.7M89 712.8V719.7M67.8 712.8V719.7M51.4 712.8V719.7M31.9 712.8V719.7M87.6 712.8V719.7M139.6 712.8V719.7" stroke="#5aa57a" stroke-opacity="0.1" stroke-width="0.5"/>
<path d="M81.1 712.8V719.7M89.3 712.8V719.7M82.6 712.8V719.7M54 712.8V719.7M35.4 712.8V719.7M60 712.8V719.7M14.8 712.8V719.7M137 712.8V719.7M75.7 712.8V719.7M121.2 712.8V719.7M136.7 712.8V719.7M72.6 712.8V719.7M91.2 712.8V719.7" stroke="#5aa57a" stroke-opacity="0.3" stroke-width="0.9"/>
<path d="M28.1 712.8V719.7M89.1 712.8V719.7M54.7 712.8V719.7M134.8 712.8V719.7" stroke="#c06080" stroke-opacity="0.1" stroke-width="0.9"/>
<path d="M58.4 712.8V719.7M41.9 712.8V719.7M45.3 712.8V719.7M157.3 712.8V719.7M75.8 712.8V719.7M11.4 712.8V719.7M25 712.8V719.7M138.4 712.8V719.7M76.2 712.8V719.7M13.1 712.8V719.7M147 712.8V719.7M147.2 712.8V719.7M84.8 712.8V719.7M155.3 712.8V719.7M102.4 712.8V719.7M25.7 712.8V719.7M64.1 712.8V719.7M102.2 712.8V719.7M86.5 712.8V719.7M60.4 712.8V719.7" stroke="#5aa57a" stroke-opacity="0.2" stroke-width="0.7"/>
<path d="M71.8 712.8V719.7M43.9 712.8V719.7" stroke="#e090a8" stroke-opacity="0.1" stroke-width="0.5"/>
<path d="M125.6 712.8V719.7M98.7 712.8V719.7M87.3 712.8V719.7M86.3 712.8V719.7M39.3 712.8V719.7M138.3 712.8V719.7M46.7 712.8V719.7M19.4 712.8V719.7M136.6 712.8V719.7M124.7 712.8V719.7M41.4 712.8V719.7M141.6 712.8V719.7M115.4 712.8V719.7M117.2 712.8V719.7" stroke="#5aa57a" stroke-opacity="0.2" stroke-width="0.5"/>
<path d="M44.9 712.8V719.7M19.3 712.8V719.7M10.4 712.8V719.7M45.1 712.8V719.7M79.9 712.8V719.7" stroke="#e090a8" stroke-opacity="0.2" stroke-width="0.5"/>
<path d="M129.8 712.8V719.7M60.8 712.8V719.7M141.6 712.8V719.7M96.4 712.8V719.7M95.8 712.8V719.7M148.2 712.8V719.7" stroke="#e090a8" stroke-opacity="0.3" stroke-width="0.5"/>
<path d="M29 712.8V719.7M145.1 712.8V719.7M103 712.8V719.7M126 712.8V719.7" stroke="#e090a8" stroke-opacity="0.3" stroke-width="0.9"/>
<path d="M120 712.8V719.7M22.3 712.8V719.7M140.4 712.8V719.7" stroke="#e090a8" stroke-opacity="0.2" stroke-width="0.7"/>
<path d="M9.5 712.8V719.7M138 712.8V719.7M126.5 712.8V719.7M97.8 712.8V719.7" stroke="#c06080" stroke-opacity="0.2" stroke-width="0.7"/>
<path d="M9.4 712.8V719.7M131.8 712.8V719.7M7.7 712.8V719.7M113.1 712.8V719.7M140 712.8V719.7M34.2 712.8V719.7M77.3 712.8V719.7M98.8 712.8V719.7M32.1 712.8V719.7M25.8 712.8V719.7M104.8 712.8V719.7M86.4 712.8V719.7M24.9 712.8V719.7M107.2 712.8V719.7" stroke="#5aa57a" stroke-opacity="0.1" stroke-width="0.9"/>
<path d="M142.6 712.8V719.7" stroke="#c06080" stroke-opacity="0.2" stroke-width="0.9"/>
<path d="M95.5 712.8V719.7M109.1 712.8V719.7M69.9 712.8V719.7M30.6 712.8V719.7M58.5 712.8V719.7" stroke="#e090a8" stroke-opacity="0.2" stroke-width="0.9"/>
<path d="M133.3 712.8V719.7M110.6 712.8V719.7M143 712.8V719.7M35.7 712.8V719.7M9.7 712.8V719.7M54.3 712.8V719.7M96.2 712.8V719.7M91.1 712.8V719.7M28.5 712.8V719.7" stroke="#5aa57a" stroke-opacity="0.1" stroke-width="0.7"/>
<path d="M41.5 712.8V719.7M148.3 712.8V719.7M99.2 712.8V719.7M108.5 712.8V719.7M117.5 712.8V719.7M146 712.8V719.7M66 712.8V719.7M88.4 712.8V719.7M45.2 712.8V719.7M12.9 712.8V719.7M135.7 712.8V719.7" stroke="#5aa57a" stroke-opacity="0.2" stroke-width="0.9"/>
<path d="M105.3 712.8V719.7M154.3 712.8V719.7M120.3 712.8V719.7M26.7 712.8V719.7M52.2 712.8V719.7M52.4 712.8V719.7M23.7 712.8V719.7M134.1 712.8V719.7M66.5 712.8V719.7" stroke="#5aa57a" stroke-opacity="0.3" stroke-width="0.7"/>
<path d="M155.9 712.8V719.7M72.1 712.8V719.7M96.4 712.8V719.7" stroke="#c06080" stroke-opacity="0.3" stroke-width="0.9"/>
<path d="M48 712.8V719.7M39.7 712.8V719.7M129.8 712.8V719.7M58.8 712.8V719.7M26.9 712.8V719.7" stroke="#c06080" stroke-opacity="0.1" stroke-width="0.5"/>
<path d="M83.8 712.8V719.7M149.5 712.8V719.7M138.5 712.8V719.7" stroke="#e090a8" stroke-opacity="0.1" stroke-width="0.9"/>
<path d="M26.4 712.8V719.7M110.9 712.8V719.7" stroke="#c06080" stroke-opacity="0.3" stroke-width="0.5"/>
<path d="M21 712.8V719.7M19.2 712.8V719.7M80.2 712.8V719.7" stroke="#e090a8" stroke-opacity="0.3" stroke-width="0.7"/>
<path d="M31.3 712.8V719.7M137 712.8V719.7M80.5 712.8V719.7" stroke="#c06080" stroke-opacity="0.3" stroke-width="0.7"/>
<path d="M146.1 712.8V719.7M45.1 712.8V719.7M63.4 712.8V719.7M110.1 712.8V719.7" stroke="#c06080" stroke-opacity="0.2" stroke-width="0.5"/>
<path d="M44.7 712.8V719.7" stroke="#c06080" stroke-opacity="0.1" stroke-width="0.7"/>
<path d="M104.3 712.8V719.7" stroke="#e090a8" stroke-opacity="0.1" stroke-width="0.7"/>
<path d="M235.8 712.8V719.7M204.5 712.8V719.7M214 712.8V719.7" stroke="#d06080" stroke-opacity="0.3" stroke-width="0.5"/>
<path d="M176.8 712.8V719.7M191.7 712.8V719.7M161.6 712.8V719.7" stroke="#d06080" stroke-opacity="0.1" stroke-width="0.7"/>
<path d="M206.6 712.8V719.7M258.1 712.8V719.7M230.7 712.8V719.7" stroke="#5aa57a" stroke-opacity="0.3" stroke-width="0.9"/>
<path d="M224.1 712.8V719.7" stroke="#e8a0b0" stroke-opacity="0.2" stroke-width="0.7"/>
<path d="M265.9 712.8V719.7M185.8 712.8V719.7M196 712.8V719.7M192.7 712.8V719.7M250.5 712.8V719.7" stroke="#d06080" stroke-opacity="0.1" stroke-width="0.5"/>
<path d="M232 712.8V719.7M306.4 712.8V719.7" stroke="#5aa57a" stroke-opacity="0.2" stroke-width="0.9"/>
<path d="M206.6 712.8V719.7M219.3 712.8V719.7M290.4 712.8V719.7M273.3 712.8V719.7" stroke="#d06080" stroke-opacity="0.2" stroke-width="0.9"/>
<path d="M235.2 712.8V719.7M220.8 712.8V719.7M175.7 712.8V719.7M229.6 712.8V719.7M295.6 712.8V719.7M274.6 712.8V719.7M250.3 712.8V719.7" stroke="#e090a8" stroke-opacity="0.1" stroke-width="0.9"/>
<path d="M230.3 712.8V719.7M177.2 712.8V719.7M263 712.8V719.7M226.7 712.8V719.7M302.3 712.8V719.7" stroke="#e8a0b0" stroke-opacity="0.2" stroke-width="0.5"/>
<path d="M187 712.8V719.7M237.2 712.8V719.7M247.3 712.8V719.7M299.3 712.8V719.7M221.8 712.8V719.7" stroke="#d06080" stroke-opacity="0.3" stroke-width="0.9"/>
<path d="M218.3 712.8V719.7M203.9 712.8V719.7M274.8 712.8V719.7" stroke="#e090a8" stroke-opacity="0.2" stroke-width="0.7"/>
<path d="M232.7 712.8V719.7M213.7 712.8V719.7M269.6 712.8V719.7M177.7 712.8V719.7M213.1 712.8V719.7M246.3 712.8V719.7M176.1 712.8V719.7M211.7 712.8V719.7" stroke="#e090a8" stroke-opacity="0.1" stroke-width="0.7"/>
<path d="M269.2 712.8V719.7M217.3 712.8V719.7M189.8 712.8V719.7M198.2 712.8V719.7M289.7 712.8V719.7" stroke="#e8a0b0" stroke-opacity="0.3" stroke-width="0.5"/>
<path d="M229.9 712.8V719.7M281.6 712.8V719.7M274.4 712.8V719.7" stroke="#e090a8" stroke-opacity="0.1" stroke-width="0.5"/>
<path d="M188.2 712.8V719.7M263.9 712.8V719.7" stroke="#5aa57a" stroke-opacity="0.2" stroke-width="0.7"/>
<path d="M167.1 712.8V719.7M268.3 712.8V719.7M206.7 712.8V719.7" stroke="#e8a0b0" stroke-opacity="0.3" stroke-width="0.7"/>
<path d="M304.5 712.8V719.7M231 712.8V719.7M194.7 712.8V719.7M200.5 712.8V719.7M189.8 712.8V719.7M244.4 712.8V719.7M271.5 712.8V719.7" stroke="#d06080" stroke-opacity="0.3" stroke-width="0.7"/>
<path d="M214.1 712.8V719.7M248.7 712.8V719.7M279 712.8V719.7M220 712.8V719.7" stroke="#e8a0b0" stroke-opacity="0.1" stroke-width="0.5"/>
<path d="M303.1 712.8V719.7M267.7 712.8V719.7M297.6 712.8V719.7" stroke="#d06080" stroke-opacity="0.2" stroke-width="0.5"/>
<path d="M195.6 712.8V719.7M225.8 712.8V719.7M190.3 712.8V719.7M229.7 712.8V719.7" stroke="#5aa57a" stroke-opacity="0.3" stroke-width="0.5"/>
<path d="M287.7 712.8V719.7M207.7 712.8V719.7" stroke="#e090a8" stroke-opacity="0.2" stroke-width="0.9"/>
<path d="M190.3 712.8V719.7M204.4 712.8V719.7M243.5 712.8V719.7M170.5 712.8V719.7" stroke="#e090a8" stroke-opacity="0.3" stroke-width="0.5"/>
<path d="M271.9 712.8V719.7M280.1 712.8V719.7" stroke="#e8a0b0" stroke-opacity="0.2" stroke-width="0.9"/>
<path d="M293.3 712.8V719.7M274.5 712.8V719.7" stroke="#e8a0b0" stroke-opacity="0.3" stroke-width="0.9"/>
<path d="M257.9 712.8V719.7M226.7 712.8V719.7M309.4 712.8V719.7" stroke="#5aa57a" stroke-opacity="0.2" stroke-width="0.5"/>
<path d="M162 712.8V719.7M207.8 712.8V719.7M238.7 712.8V719.7" stroke="#5aa57a" stroke-opacity="0.1" stroke-width="0.9"/>
<path d="M188 712.8V719.7M201 712.8V719.7" stroke="#5aa57a" stroke-opacity="0.3" stroke-width="0.7"/>
<path d="M204.4 712.8V719.7M289.9 712.8V719.7M191.5 712.8V719.7M203.5 712.8V719.7" stroke="#5aa57a" stroke-opacity="0.1" stroke-width="0.7"/>
<path d="M190.5 712.8V719.7M226.5 712.8V719.7M191 712.8V719.7" stroke="#5aa57a" stroke-opacity="0.1" stroke-width="0.5"/>
<path d="M289.3 712.8V719.7M258.2 712.8V719.7M184.9 712.8V719.7" stroke="#e090a8" stroke-opacity="0.3" stroke-width="0.7"/>
<path d="M203.1 712.8V719.7M281 712.8V719.7" stroke="#d06080" stroke-opacity="0.1" stroke-width="0.9"/>
<path d="M203.6 712.8V719.7M251.7 712.8V719.7" stroke="#e8a0b0" stroke-opacity="0.1" stroke-width="0.7"/>
<path d="M254.2 712.8V719.7M282 712.8V719.7M205.4 712.8V719.7" stroke="#e090a8" stroke-opacity="0.3" stroke-width="0.9"/>
<path d="M164.6 712.8V719.7M192.4 712.8V719.7" stroke="#e8a0b0" stroke-opacity="0.1" stroke-width="0.9"/>
<path d="M310.1 712.8V719.7M172 712.8V719.7" stroke="#e090a8" stroke-opacity="0.2" stroke-width="0.5"/>
<path d="M301.3 712.8V719.7" stroke="#d06080" stroke-opacity="0.2" stroke-width="0.7"/>
<path d="M148.3 747.1V754.3M116.1 747.1V754.3M45.1 747.1V754.3M143.7 747.1V754.3M26.5 747.1V754.3" stroke="#f0a0a8" stroke-opacity="0.3" stroke-width="0.9"/>
<path d="M8.7 747.1V754.3M81.5 747.1V754.3M112.1 747.1V754.3M104.7 747.1V754.3M80.5 747.1V754.3M77.4 747.1V754.3M114.4 747.1V754.3M102.4 747.1V754.3M76 747.1V754.3M127.4 747.1V754.3M19.6 747.1V754.3" stroke="#e07888" stroke-opacity="0.2" stroke-width="0.5"/>
<path d="M112.2 747.1V754.3M99.4 747.1V754.3M64.9 747.1V754.3" stroke="#f0a0a8" stroke-opacity="0.1" stroke-width="0.9"/>
<path d="M131.7 747.1V754.3M22.2 747.1V754.3M102.8 747.1V754.3M116.9 747.1V754.3M90.1 747.1V754.3M120.3 747.1V754.3M68.5 747.1V754.3M108.3 747.1V754.3M90.1 747.1V754.3M25.1 747.1V754.3M32.6 747.1V754.3M133.3 747.1V754.3M57.2 747.1V754.3M51.2 747.1V754.3" stroke="#e07888" stroke-opacity="0.1" stroke-width="0.9"/>
<path d="M39.1 747.1V754.3M113.8 747.1V754.3M61.9 747.1V754.3M24.1 747.1V754.3M140.7 747.1V754.3M101.1 747.1V754.3M63.8 747.1V754.3M136.6 747.1V754.3M40.5 747.1V754.3" stroke="#c080c0" stroke-opacity="0.1" stroke-width="0.7"/>
<path d="M59.3 747.1V754.3M152.8 747.1V754.3M109.5 747.1V754.3M101.5 747.1V754.3M54 747.1V754.3M117.5 747.1V754.3M49.9 747.1V754.3M150 747.1V754.3M144.9 747.1V754.3" stroke="#e07888" stroke-opacity="0.2" stroke-width="0.9"/>
<path d="M143.1 747.1V754.3M44.2 747.1V754.3M12.5 747.1V754.3M141.1 747.1V754.3M20.5 747.1V754.3" stroke="#e07888" stroke-opacity="0.3" stroke-width="0.5"/>
<path d="M109.4 747.1V754.3M146.8 747.1V754.3M133.1 747.1V754.3" stroke="#f0a0a8" stroke-opacity="0.1" stroke-width="0.7"/>
<path d="M36.2 747.1V754.3M103.6 747.1V754.3" stroke="#f0a0a8" stroke-opacity="0.2" stroke-width="0.9"/>
<path d="M64.4 747.1V754.3M101.5 747.1V754.3M28.5 747.1V754.3M117.5 747.1V754.3M28.5 747.1V754.3M157.3 747.1V754.3M147.2 747.1V754.3M125.2 747.1V754.3" stroke="#a070c0" stroke-opacity="0.3" stroke-width="0.7"/>
<path d="M93.5 747.1V754.3M103.2 747.1V754.3M84.3 747.1V754.3M122.6 747.1V754.3M12.4 747.1V754.3M7.6 747.1V754.3" stroke="#e07888" stroke-opacity="0.2" stroke-width="0.7"/>
<path d="M129 747.1V754.3M142.6 747.1V754.3M124.6 747.1V754.3" stroke="#a070c0" stroke-opacity="0.1" stroke-width="0.7"/>
<path d="M116 747.1V754.3M119.7 747.1V754.3M124.8 747.1V754.3M24.7 747.1V754.3" stroke="#e07888" stroke-opacity="0.3" stroke-width="0.7"/>
<path d="M20.8 747.1V754.3M99.3 747.1V754.3M103.2 747.1V754.3M59.4 747.1V754.3M107.5 747.1V754.3M138.1 747.1V754.3" stroke="#c080c0" stroke-opacity="0.2" stroke-width="0.7"/>
<path d="M74.7 747.1V754.3M61.4 747.1V754.3M78.5 747.1V754.3M36.8 747.1V754.3" stroke="#f0a0a8" stroke-opacity="0.2" stroke-width="0.5"/>
<path d="M79.1 747.1V754.3M69.3 747.1V754.3M12.9 747.1V754.3M27 747.1V754.3M21.2 747.1V754.3" stroke="#e07888" stroke-opacity="0.1" stroke-width="0.5"/>
<path d="M127.1 747.1V754.3M47.5 747.1V754.3M72.3 747.1V754.3M100.1 747.1V754.3" stroke="#c080c0" stroke-opacity="0.2" stroke-width="0.9"/>
<path d="M139.5 747.1V754.3M73.9 747.1V754.3M139.9 747.1V754.3M105.8 747.1V754.3M153.7 747.1V754.3M28.8 747.1V754.3" stroke="#f0a0a8" stroke-opacity="0.3" stroke-width="0.7"/>
<path d="M78.1 747.1V754.3M48.2 747.1V754.3" stroke="#a070c0" stroke-opacity="0.3" stroke-width="0.5"/>
<path d="M121.5 747.1V754.3M16 747.1V754.3M37.9 747.1V754.3" stroke="#c080c0" stroke-opacity="0.3" stroke-width="0.5"/>
<path d="M90.6 747.1V754.3M51.1 747.1V754.3" stroke="#a070c0" stroke-opacity="0.2" stroke-width="0.5"/>
<path d="M30.7 747.1V754.3M37.2 747.1V754.3M44.7 747.1V754.3" stroke="#a070c0" stroke-opacity="0.1" stroke-width="0.9"/>
<path d="M65.8 747.1V754.3M26.2 747.1V754.3M130 747.1V754.3M38.1 747.1V754.3M9.3 747.1V754.3M96.8 747.1V754.3" stroke="#f0a0a8" stroke-opacity="0.3" stroke-width="0.5"/>
<path d="M35 747.1V754.3M97.1 747.1V754.3M82.1 747.1V754.3M130.8 747.1V754.3M83.4 747.1V754.3" stroke="#c080c0" stroke-opacity="0.1" stroke-width="0.9"/>
<path d="M30.4 747.1V754.3M153.2 747.1V754.3" stroke="#a070c0" stroke-opacity="0.2" stroke-width="0.7"/>
<path d="M56 747.1V754.3M21.7 747.1V754.3" stroke="#f0a0a8" stroke-opacity="0.2" stroke-width="0.7"/>
<path d="M37.2 747.1V754.3M50.5 747.1V754.3M54.3 747.1V754.3M120 747.1V754.3M154.6 747.1V754.3M56.8 747.1V754.3" stroke="#e07888" stroke-opacity="0.1" stroke-width="0.7"/>
<path d="M57.6 747.1V754.3M100.6 747.1V754.3M26.7 747.1V754.3M43.2 747.1V754.3M155.3 747.1V754.3M11.8 747.1V754.3M152.6 747.1V754.3M136 747.1V754.3M8.8 747.1V754.3" stroke="#c080c0" stroke-opacity="0.3" stroke-width="0.7"/>
<path d="M46.7 747.1V754.3M157.9 747.1V754.3M94 747.1V754.3M20.8 747.1V754.3M26.4 747.1V754.3M113.1 747.1V754.3M138.7 747.1V754.3" stroke="#e07888" stroke-opacity="0.3" stroke-width="0.9"/>
<path d="M92.8 747.1V754.3M127.3 747.1V754.3" stroke="#a070c0" stroke-opacity="0.2" stroke-width="0.9"/>
<path d="M8.5 747.1V754.3M125.2 747.1V754.3M114.7 747.1V754.3" stroke="#a070c0" stroke-opacity="0.1" stroke-width="0.5"/>
<path d="M25.2 747.1V754.3M7.7 747.1V754.3M28.6 747.1V754.3" stroke="#c080c0" stroke-opacity="0.1" stroke-width="0.5"/>
<path d="M56.5 747.1V754.3M151.3 747.1V754.3M35.3 747.1V754.3M31.2 747.1V754.3M107.4 747.1V754.3" stroke="#c080c0" stroke-opacity="0.3" stroke-width="0.9"/>
<path d="M71.4 747.1V754.3M20.9 747.1V754.3" stroke="#a070c0" stroke-opacity="0.3" stroke-width="0.9"/>
<path d="M80.5 747.1V754.3" stroke="#f0a0a8" stroke-opacity="0.1" stroke-width="0.5"/>
<path d="M224.4 747.1V754.3M190.4 747.1V754.3M161.7 747.1V754.3M287.9 747.1V754.3M191.5 747.1V754.3M242.5 747.1V754.3M249.6 747.1V754.3M301.2 747.1V754.3" stroke="#a070c0" stroke-opacity="0.1" stroke-width="0.7"/>
<path d="M250.1 747.1V754.3M200.6 747.1V754.3M247.5 747.1V754.3M309.3 747.1V754.3M224.1 747.1V754.3" stroke="#a070c0" stroke-opacity="0.1" stroke-width="0.9"/>
<path d="M248.4 747.1V754.3M241.6 747.1V754.3M196.6 747.1V754.3M291.4 747.1V754.3" stroke="#e07888" stroke-opacity="0.2" stroke-width="0.9"/>
<path d="M263.3 747.1V754.3M259.3 747.1V754.3M233.5 747.1V754.3M178.4 747.1V754.3M274.6 747.1V754.3" stroke="#f0a0a8" stroke-opacity="0.3" stroke-width="0.7"/>
<path d="M302.3 747.1V754.3M230.3 747.1V754.3M311.3 747.1V754.3M199.2 747.1V754.3M271.4 747.1V754.3M290.8 747.1V754.3" stroke="#a070c0" stroke-opacity="0.3" stroke-width="0.9"/>
<path d="M271.7 747.1V754.3M192.5 747.1V754.3M292.1 747.1V754.3M222.5 747.1V754.3M302.6 747.1V754.3M172 747.1V754.3M255.1 747.1V754.3M277.3 747.1V754.3M205.1 747.1V754.3M222.1 747.1V754.3M199.4 747.1V754.3M261.6 747.1V754.3M166.2 747.1V754.3" stroke="#e07888" stroke-opacity="0.1" stroke-width="0.7"/>
<path d="M306.8 747.1V754.3M280.9 747.1V754.3M266.2 747.1V754.3M203.7 747.1V754.3M180.3 747.1V754.3M162.2 747.1V754.3M273 747.1V754.3M248 747.1V754.3M295.1 747.1V754.3M293.9 747.1V754.3M255.4 747.1V754.3" stroke="#e07888" stroke-opacity="0.3" stroke-width="0.9"/>
<path d="M262 747.1V754.3M223.6 747.1V754.3M250.9 747.1V754.3M180.4 747.1V754.3M301.2 747.1V754.3M216.5 747.1V754.3M253.1 747.1V754.3M236.7 747.1V754.3M230.4 747.1V754.3" stroke="#e07888" stroke-opacity="0.3" stroke-width="0.5"/>
<path d="M188.8 747.1V754.3M229.3 747.1V754.3M222.2 747.1V754.3" stroke="#f0a0a8" stroke-opacity="0.1" stroke-width="0.9"/>
<path d="M278.4 747.1V754.3M242.6 747.1V754.3M240.5 747.1V754.3M278.1 747.1V754.3M243.2 747.1V754.3M177.8 747.1V754.3" stroke="#e07888" stroke-opacity="0.2" stroke-width="0.7"/>
<path d="M308.4 747.1V754.3M227 747.1V754.3M294.5 747.1V754.3M179.7 747.1V754.3" stroke="#f0a0a8" stroke-opacity="0.2" stroke-width="0.5"/>
<path d="M279.7 747.1V754.3" stroke="#f0a0a8" stroke-opacity="0.3" stroke-width="0.9"/>
<path d="M262.3 747.1V754.3M280.5 747.1V754.3M259.6 747.1V754.3M222.5 747.1V754.3M267.8 747.1V754.3M200.7 747.1V754.3" stroke="#a070c0" stroke-opacity="0.2" stroke-width="0.9"/>
<path d="M297.5 747.1V754.3" stroke="#f0a0a8" stroke-opacity="0.3" stroke-width="0.5"/>
<path d="M274.9 747.1V754.3M309.6 747.1V754.3M192.2 747.1V754.3M257.9 747.1V754.3M269.7 747.1V754.3" stroke="#f0a0a8" stroke-opacity="0.1" stroke-width="0.7"/>
<path d="M175 747.1V754.3M262.3 747.1V754.3M294.5 747.1V754.3M180.9 747.1V754.3M161.4 747.1V754.3" stroke="#e07888" stroke-opacity="0.2" stroke-width="0.5"/>
<path d="M168.9 747.1V754.3M224.5 747.1V754.3M252.5 747.1V754.3M188.3 747.1V754.3M309.1 747.1V754.3" stroke="#a070c0" stroke-opacity="0.3" stroke-width="0.5"/>
<path d="M192.6 747.1V754.3M184.7 747.1V754.3M201.6 747.1V754.3M228.1 747.1V754.3" stroke="#a070c0" stroke-opacity="0.1" stroke-width="0.5"/>
<path d="M290 747.1V754.3M219.3 747.1V754.3M257.4 747.1V754.3M193 747.1V754.3M285.5 747.1V754.3M311.7 747.1V754.3M211.5 747.1V754.3M309.1 747.1V754.3M185.5 747.1V754.3M254.9 747.1V754.3M288.7 747.1V754.3M222.1 747.1V754.3M310.5 747.1V754.3" stroke="#e07888" stroke-opacity="0.3" stroke-width="0.7"/>
<path d="M267.6 747.1V754.3M289.6 747.1V754.3M194.7 747.1V754.3M291.5 747.1V754.3M255 747.1V754.3M209.7 747.1V754.3" stroke="#e07888" stroke-opacity="0.1" stroke-width="0.9"/>
<path d="M236.5 747.1V754.3M306.1 747.1V754.3M170.8 747.1V754.3M265.8 747.1V754.3" stroke="#f0a0a8" stroke-opacity="0.2" stroke-width="0.7"/>
<path d="M308.7 747.1V754.3M226.5 747.1V754.3" stroke="#a070c0" stroke-opacity="0.2" stroke-width="0.5"/>
<path d="M169.8 747.1V754.3M221.9 747.1V754.3" stroke="#a070c0" stroke-opacity="0.2" stroke-width="0.7"/>
<path d="M286.1 747.1V754.3M198.8 747.1V754.3M237.5 747.1V754.3" stroke="#e07888" stroke-opacity="0.1" stroke-width="0.5"/>
<path d="M289.3 747.1V754.3M284.1 747.1V754.3M247.8 747.1V754.3M304.3 747.1V754.3M217.7 747.1V754.3" stroke="#a070c0" stroke-opacity="0.3" stroke-width="0.7"/>
<path d="M304.8 747.1V754.3" stroke="#f0a0a8" stroke-opacity="0.2" stroke-width="0.9"/>
<path d="M232.4 747.1V754.3M199.8 747.1V754.3M226.6 747.1V754.3" stroke="#f0a0a8" stroke-opacity="0.1" stroke-width="0.5"/>
<g clip-path="url(#cb1)"><rect x="7.3" y="722.8" width="151" height="19.7" fill="url(#cl2l)"/><rect x="7.3" y="722.8" width="151" height="19.7" filter="url(#spk)"/><rect x="7.3" y="722.8" width="151" height="19.7" filter="url(#spk2)"/></g>
<g clip-path="url(#cb2)"><rect x="161" y="723.5" width="150.8" height="23.5" fill="url(#cl2r)"/><rect x="161" y="723.5" width="150.8" height="23.5" filter="url(#spk)"/><rect x="161" y="723.5" width="150.8" height="23.5" filter="url(#spk2)"/></g>
<g clip-path="url(#cb3)"><rect x="7.3" y="755.5" width="151" height="23" fill="url(#cl3)"/><rect x="7.3" y="755.5" width="151" height="23" filter="url(#spk)"/><rect x="7.3" y="755.5" width="151" height="23" filter="url(#spk2)"/></g>
<g clip-path="url(#cb4)"><rect x="161" y="755.5" width="150.8" height="23.5" fill="url(#cl3)"/><rect x="161" y="755.5" width="150.8" height="23.5" filter="url(#spk)"/><rect x="161" y="755.5" width="150.8" height="23.5" filter="url(#spk2)"/></g>
<line x1="7.3" y1="698.8" x2="158.3" y2="698.8" stroke="#555" stroke-width="0.8" stroke-dasharray="2.2 2.2"/>
<line x1="161" y1="698.8" x2="311.8" y2="698.8" stroke="#555" stroke-width="0.8" stroke-dasharray="2.2 2.2"/>
<line x1="7.3" y1="733.3" x2="158.3" y2="733.3" stroke="#555" stroke-width="0.8" stroke-dasharray="2.2 2.2"/>
<line x1="161" y1="733.3" x2="311.8" y2="733.3" stroke="#555" stroke-width="0.8" stroke-dasharray="2.2 2.2"/>
<line x1="7.3" y1="767.4" x2="158.3" y2="767.4" stroke="#555" stroke-width="0.8" stroke-dasharray="2.2 2.2"/>
<line x1="161" y1="767.4" x2="311.8" y2="767.4" stroke="#555" stroke-width="0.8" stroke-dasharray="2.2 2.2"/>
<line x1="311.8" y1="688.7" x2="311.8" y2="708.8" stroke="#444" stroke-width="0.7" />
<line x1="311.8" y1="688.7" x2="313.6" y2="688.7" stroke="#444" stroke-width="0.7" />
<line x1="311.8" y1="698.8" x2="313.6" y2="698.8" stroke="#444" stroke-width="0.7" />
<line x1="311.8" y1="708.8" x2="313.6" y2="708.8" stroke="#444" stroke-width="0.7" />
<text x="302.4" y="693.9" font-size="6.6" textLength="7.6" lengthAdjust="spacingAndGlyphs">CV</text>
<text x="314.3" y="691" font-size="6.6">1</text>
<text x="314.3" y="701.1" font-size="6.6">0</text>
<text x="313.9" y="711.4" font-size="6.6">−1</text>
<line x1="311.8" y1="723.3" x2="311.8" y2="743.4" stroke="#444" stroke-width="0.7" />
<line x1="311.8" y1="723.3" x2="313.6" y2="723.3" stroke="#444" stroke-width="0.7" />
<line x1="311.8" y1="733.3" x2="313.6" y2="733.3" stroke="#444" stroke-width="0.7" />
<line x1="311.8" y1="743.4" x2="313.6" y2="743.4" stroke="#444" stroke-width="0.7" />
<text x="302.4" y="728.5" font-size="6.6" textLength="7.6" lengthAdjust="spacingAndGlyphs">CV</text>
<text x="314.3" y="725.6" font-size="6.6">1</text>
<text x="314.3" y="735.6" font-size="6.6">0</text>
<text x="313.9" y="746" font-size="6.6">−1</text>
<line x1="311.8" y1="757.7" x2="311.8" y2="777.4" stroke="#444" stroke-width="0.7" />
<line x1="311.8" y1="757.7" x2="313.6" y2="757.7" stroke="#444" stroke-width="0.7" />
<line x1="311.8" y1="767.4" x2="313.6" y2="767.4" stroke="#444" stroke-width="0.7" />
<line x1="311.8" y1="777.4" x2="313.6" y2="777.4" stroke="#444" stroke-width="0.7" />
<text x="302.4" y="762.9" font-size="6.6" textLength="7.6" lengthAdjust="spacingAndGlyphs">CV</text>
<text x="314.3" y="760" font-size="6.6">1</text>
<text x="314.3" y="769.7" font-size="6.6">0</text>
<text x="313.9" y="780" font-size="6.6">−1</text>
<text x="321" y="674.2" font-size="7.2">MB1</text>
<text x="321" y="682.7" font-size="7.2" textLength="25" lengthAdjust="spacingAndGlyphs">bicluster</text>
<rect x="322.2" y="685.6" width="4.6" height="4.4" fill="#8fb0d8" />
<rect x="322.2" y="691.9" width="4.6" height="4.9" fill="#e07b30" />
<text x="329" y="690.4" font-size="7.2">LF</text>
<text x="329" y="697" font-size="7.2">UF</text>
<text x="321" y="708.8" font-size="7.2">MB2</text>
<text x="321" y="717.3" font-size="7.2" textLength="25" lengthAdjust="spacingAndGlyphs">bicluster</text>
<rect x="322.2" y="720.2" width="4.6" height="4.4" fill="#9b1b4a" />
<rect x="322.2" y="726.5" width="4.6" height="4.9" fill="#1e8040" />
<text x="329" y="725" font-size="7.2">LF</text>
<text x="329" y="731.6" font-size="7.2">UF</text>
<text x="321" y="742.9" font-size="7.2">MB3</text>
<text x="321" y="751.4" font-size="7.2" textLength="25" lengthAdjust="spacingAndGlyphs">bicluster</text>
<rect x="322.2" y="754.3" width="4.6" height="4.4" fill="#e84a3a" />
<rect x="322.2" y="760.6" width="4.6" height="4.9" fill="#7b3a9e" />
<text x="329" y="759.1" font-size="7.2">LF</text>
<text x="329" y="765.7" font-size="7.2">UF</text>
<text x="362.6" y="522.2" font-size="12.4" font-weight="bold">H</text>
<rect x="393" y="528.7" width="24" height="12.1" fill="#a81c26" />
<text x="405" y="537.4" font-size="7.4" text-anchor="middle" fill="#1a1a1a" style="stroke:#1a1a1a">45</text>
<rect x="418.8" y="528.7" width="23.7" height="12.1" fill="#a9212b" />
<text x="430.6" y="537.4" font-size="7.4" text-anchor="middle" fill="#1a1a1a" style="stroke:#1a1a1a">68</text>
<rect x="443.8" y="528.7" width="23.7" height="12.1" fill="#b53a42" />
<text x="455.6" y="537.4" font-size="7.4" text-anchor="middle" fill="#1a1a1a" style="stroke:#1a1a1a">23</text>
<rect x="469.5" y="528.7" width="23.1" height="12.1" fill="#d9959b" />
<text x="481.1" y="537.4" font-size="7.4" text-anchor="middle" fill="#1a1a1a" style="stroke:#1a1a1a">56</text>
<rect x="494.5" y="528.7" width="23.7" height="12.1" fill="#f5f1f6" />
<text x="506.4" y="537.4" font-size="7.4" text-anchor="middle" fill="#1a1a1a" style="stroke:#1a1a1a">33</text>
<text x="389.2" y="537.5" font-size="7.8" text-anchor="end" textLength="26.7" lengthAdjust="spacingAndGlyphs">MB1_UF</text>
<rect x="393" y="540.8" width="24" height="12.4" fill="#1c4b89" />
<text x="405" y="549.6" font-size="7.4" text-anchor="middle" fill="#1a1a1a" style="stroke:#1a1a1a">1</text>
<rect x="418.8" y="540.8" width="23.7" height="12.4" fill="#2f69a3" />
<text x="430.6" y="549.6" font-size="7.4" text-anchor="middle" fill="#1a1a1a" style="stroke:#1a1a1a">5</text>
<rect x="443.8" y="540.8" width="23.7" height="12.4" fill="#5c86b8" />
<text x="455.6" y="549.6" font-size="7.4" text-anchor="middle" fill="#1a1a1a" style="stroke:#1a1a1a">4</text>
<rect x="469.5" y="540.8" width="23.1" height="12.4" fill="#f2d9dc" />
<text x="481.1" y="549.6" font-size="7.4" text-anchor="middle" fill="#1a1a1a" style="stroke:#1a1a1a">54</text>
<rect x="494.5" y="540.8" width="23.7" height="12.4" fill="#d58e94" />
<text x="506.4" y="549.6" font-size="7.4" text-anchor="middle" fill="#1a1a1a" style="stroke:#1a1a1a">50</text>
<text x="389.2" y="549.8" font-size="7.8" text-anchor="end" textLength="26.7" lengthAdjust="spacingAndGlyphs">MB1_LF</text>
<rect x="393" y="554.5" width="24" height="11.6" fill="#a51a24" />
<text x="405" y="562.9" font-size="7.4" text-anchor="middle" fill="#1a1a1a" style="stroke:#1a1a1a">78</text>
<rect x="418.8" y="554.5" width="23.7" height="11.6" fill="#a0141f" />
<text x="430.6" y="562.9" font-size="7.4" text-anchor="middle" fill="#1a1a1a" style="stroke:#1a1a1a">127</text>
<rect x="443.8" y="554.5" width="23.7" height="11.6" fill="#a1161f" />
<text x="455.6" y="562.9" font-size="7.4" text-anchor="middle" fill="#1a1a1a" style="stroke:#1a1a1a">49</text>
<rect x="469.5" y="554.5" width="23.1" height="11.6" fill="#d68e94" />
<text x="481.1" y="562.9" font-size="7.4" text-anchor="middle" fill="#1a1a1a" style="stroke:#1a1a1a">93</text>
<rect x="494.5" y="554.5" width="23.7" height="11.6" fill="#dde3ee" />
<text x="506.4" y="562.9" font-size="7.4" text-anchor="middle" fill="#1a1a1a" style="stroke:#1a1a1a">44</text>
<text x="389.2" y="563.1" font-size="7.8" text-anchor="end" textLength="26.7" lengthAdjust="spacingAndGlyphs">MB2_UF</text>
<rect x="393" y="566.1" width="24" height="12.2" fill="#153d78" />
<text x="405" y="574.8" font-size="7.4" text-anchor="middle" fill="#1a1a1a" style="stroke:#1a1a1a">0</text>
<rect x="418.8" y="566.1" width="23.7" height="12.2" fill="#2a64a0" />
<text x="430.6" y="574.8" font-size="7.4" text-anchor="middle" fill="#1a1a1a" style="stroke:#1a1a1a">2</text>
<rect x="443.8" y="566.1" width="23.7" height="12.2" fill="#5b85b9" />
<text x="455.6" y="574.8" font-size="7.4" text-anchor="middle" fill="#1a1a1a" style="stroke:#1a1a1a">2</text>
<rect x="469.5" y="566.1" width="23.1" height="12.2" fill="#f6f4f8" />
<text x="481.1" y="574.8" font-size="7.4" text-anchor="middle" fill="#1a1a1a" style="stroke:#1a1a1a">25</text>
<rect x="494.5" y="566.1" width="23.7" height="12.2" fill="#f3d4d9" />
<text x="506.4" y="574.8" font-size="7.4" text-anchor="middle" fill="#1a1a1a" style="stroke:#1a1a1a">23</text>
<text x="389.2" y="575" font-size="7.8" text-anchor="end" textLength="26.7" lengthAdjust="spacingAndGlyphs">MB2_LF</text>
<rect x="393" y="579.9" width="24" height="11.5" fill="#d4878e" />
<text x="405" y="588.2" font-size="7.4" text-anchor="middle" fill="#1a1a1a" style="stroke:#1a1a1a">33</text>
<rect x="418.8" y="579.9" width="23.7" height="11.5" fill="#d4878e" />
<text x="430.6" y="588.2" font-size="7.4" text-anchor="middle" fill="#1a1a1a" style="stroke:#1a1a1a">50</text>
<rect x="443.8" y="579.9" width="23.7" height="11.5" fill="#dc9ba1" />
<text x="455.6" y="588.2" font-size="7.4" text-anchor="middle" fill="#1a1a1a" style="stroke:#1a1a1a">17</text>
<rect x="469.5" y="579.9" width="23.1" height="11.5" fill="#f9f5f7" />
<text x="481.1" y="588.2" font-size="7.4" text-anchor="middle" fill="#1a1a1a" style="stroke:#1a1a1a">52</text>
<rect x="494.5" y="579.9" width="23.7" height="11.5" fill="#d6ddeb" />
<text x="506.4" y="588.2" font-size="7.4" text-anchor="middle" fill="#1a1a1a" style="stroke:#1a1a1a">35</text>
<text x="389.2" y="588.4" font-size="7.8" text-anchor="end" textLength="26.7" lengthAdjust="spacingAndGlyphs">MB3_UF</text>
<rect x="393" y="591.4" width="24" height="12.4" fill="#ce7881" />
<text x="405" y="600.2" font-size="7.4" text-anchor="middle" fill="#1a1a1a" style="stroke:#1a1a1a">26</text>
<rect x="418.8" y="591.4" width="23.7" height="12.4" fill="#ce7881" />
<text x="430.6" y="600.2" font-size="7.4" text-anchor="middle" fill="#1a1a1a" style="stroke:#1a1a1a">43</text>
<rect x="443.8" y="591.4" width="23.7" height="12.4" fill="#c96a72" />
<text x="455.6" y="600.2" font-size="7.4" text-anchor="middle" fill="#1a1a1a" style="stroke:#1a1a1a">17</text>
<rect x="469.5" y="591.4" width="23.1" height="12.4" fill="#f4dde1" />
<text x="481.1" y="600.2" font-size="7.4" text-anchor="middle" fill="#1a1a1a" style="stroke:#1a1a1a">41</text>
<rect x="494.5" y="591.4" width="23.7" height="12.4" fill="#c8d4e6" />
<text x="506.4" y="600.2" font-size="7.4" text-anchor="middle" fill="#1a1a1a" style="stroke:#1a1a1a">24</text>
<text x="389.2" y="600.4" font-size="7.8" text-anchor="end" textLength="26.7" lengthAdjust="spacingAndGlyphs">MB3_LF</text>
<line x1="408.8" y1="607" x2="408.8" y2="620" stroke="#999" stroke-width="0.5" />
<line x1="408.2" y1="608" x2="409.4" y2="608" stroke="#999" stroke-width="0.5" />
<line x1="433.3" y1="607" x2="433.3" y2="613.5" stroke="#999" stroke-width="0.5" />
<line x1="432.7" y1="608" x2="433.9" y2="608" stroke="#999" stroke-width="0.5" />
<line x1="454.5" y1="607" x2="454.5" y2="620" stroke="#999" stroke-width="0.5" />
<line x1="453.9" y1="608" x2="455.1" y2="608" stroke="#999" stroke-width="0.5" />
<line x1="483" y1="607" x2="483" y2="613.5" stroke="#999" stroke-width="0.5" />
<line x1="482.4" y1="608" x2="483.6" y2="608" stroke="#999" stroke-width="0.5" />
<line x1="506.8" y1="607" x2="506.8" y2="622" stroke="#999" stroke-width="0.5" />
<line x1="506.2" y1="608" x2="507.4" y2="608" stroke="#999" stroke-width="0.5" />
<ellipse cx="475.6" cy="620.75" rx="43.1" ry="7.75" fill="#e9e9e9" stroke="#bdbdbd" stroke-width="0.5"/>
<ellipse cx="426.75" cy="620.75" rx="31.25" ry="7.75" fill="#3a3a3a"/>
<ellipse cx="426.75" cy="620.75" rx="31.25" ry="7.75" fill="#8c8c8c" clip-path="url(#vcl)"/>
<line x1="408.8" y1="613.5" x2="408.8" y2="620" stroke="#777" stroke-width="0.5" />
<line x1="454.5" y1="613.5" x2="454.5" y2="620" stroke="#666" stroke-width="0.5" />
<line x1="506.8" y1="613.5" x2="506.8" y2="622" stroke="#999" stroke-width="0.5" />
<text x="420.5" y="623" font-size="7.4" text-anchor="middle" fill="#fff" style="stroke:#fff">1,158</text>
<text x="446.3" y="623" font-size="7.4" text-anchor="middle" fill="#e6e6e6" style="stroke:#e6e6e6">448</text>
<text x="482.5" y="623" font-size="7.4" text-anchor="middle" fill="#222" style="stroke:#222">2,038</text>
<text x="430.5" y="634.4" font-size="7.4" text-anchor="middle" textLength="40" lengthAdjust="spacingAndGlyphs">mitochondrial</text>
<text x="482.5" y="634.4" font-size="7.4" text-anchor="middle" textLength="29" lengthAdjust="spacingAndGlyphs">metabolic</text>
<rect x="435.6" y="646.9" width="39.6" height="7.9" fill="url(#gse)" />
<path d="M435.6 654.8v1.6M441.2 654.8v1.6M446.8 654.8v1.6M452.5 654.8v1.6M458.1 654.8v1.6M463.7 654.8v1.6M469.3 654.8v1.6M474.9 654.8v1.6" stroke="#555" stroke-width="0.5"/>
<text x="435.6" y="665.4" font-size="7.4" text-anchor="middle">0</text>
<text x="446.8" y="665.4" font-size="7.4" text-anchor="middle">1</text>
<text x="458" y="665.4" font-size="7.4" text-anchor="middle">2</text>
<text x="469.3" y="665.4" font-size="7.4" text-anchor="middle">3</text>
<text x="455.4" y="672.8" font-size="7.4" text-anchor="middle" textLength="81" lengthAdjust="spacingAndGlyphs">gene set enrichment score</text>
</svg></body></html>
